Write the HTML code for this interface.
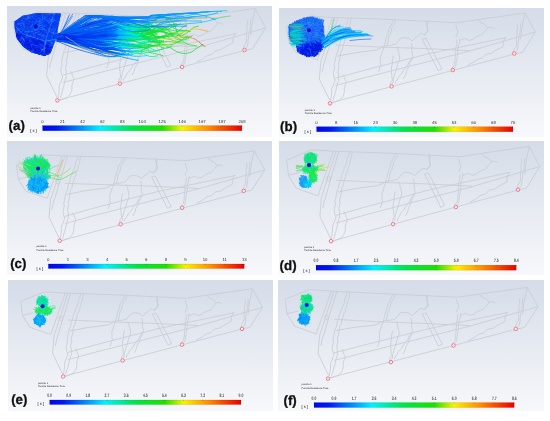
<!DOCTYPE html>
<html><head><meta charset="utf-8"><title>Particle residence time</title>
<style>
html,body{margin:0;padding:0;background:#fff;}
body{width:550px;height:421px;overflow:hidden;}
svg{display:block;}
text{text-rendering:geometricPrecision;}
.lab{font-family:"Liberation Sans",Arial,sans-serif;font-weight:bold;font-size:13.3px;fill:#111;stroke:#111;stroke-width:0.3px;}
.tk{font-family:"Liberation Sans",Arial,sans-serif;font-size:8.6px;fill:#333;text-anchor:middle;}
.tk2{font-family:"Liberation Sans",Arial,sans-serif;font-size:4.9px;font-weight:bold;fill:#555;text-anchor:middle;}
.su{font-family:"Liberation Sans",Arial,sans-serif;font-size:4.3px;font-weight:bold;fill:#555;}
.sm{font-family:"Liberation Sans",Arial,sans-serif;font-size:10px;fill:#2a2a30;}
</style></head><body>
<svg width="550" height="421" viewBox="0 0 550 421"><defs><linearGradient id="bggrad" x1="0" y1="0" x2="0" y2="1"><stop offset="0" stop-color="#d5dce8"/><stop offset="1" stop-color="#f7f8fb"/></linearGradient><linearGradient id="cmgrad" x1="0" y1="0" x2="1" y2="0"><stop offset="0.00" stop-color="#0006e8"/><stop offset="0.07" stop-color="#0018f2"/><stop offset="0.29" stop-color="#00f0ff"/><stop offset="0.45" stop-color="#00e446"/><stop offset="0.60" stop-color="#1ee000"/><stop offset="0.70" stop-color="#faf000"/><stop offset="0.83" stop-color="#ff8c00"/><stop offset="1.00" stop-color="#e80000"/></linearGradient><clipPath id="clipA"><polygon points="14.4,21.5 22.5,15.8 36.5,12.9 61,13.4 59.4,20.7 57.5,30.5 57.3,36 50.4,53.5 44.6,55.9 31.5,52.6 23.4,46.9 16.8,38.7 14.4,27.3"/></clipPath><clipPath id="clipB"><polygon points="287.8,25.2 296,20.4 303.4,17.4 311.3,16.2 319.8,18.4 324,24.5 324.8,34.8 327,41.6 322.4,50.2 316.4,56.6 306.8,57.2 297.2,52.6 295.8,45.6 290.2,42.2 287.8,34.8"/></clipPath></defs>
<rect x="7" y="6" width="265" height="131" fill="url(#bggrad)"/>
<path d="M13.4 21.8 38.2 11.6 60 13M13.4 21.8 15.3 36.4 22.9 48.8 44.7 56.3M15.3 36.4 26.8 33.5M60 13 44.7 56.3M60 13 104.5 14.5 185.9 18.3 255.2 8.4M255.2 8.4 265.7 27.9 252.4 48.8M57.7 100.3 244.3 50.5 252.4 48.8M62.8 82.6 94.1 74.1 198.4 47.4 265.7 27.9M62.8 75.1 94.1 66.5 156.7 50.3 236.4 33.5M62.8 41.2 104.5 43 150 44.6 198.4 46.9M64.7 52.6 83.6 49 104.5 46.4 111.8 42.7M62.8 13 48.2 57.9 46.6 76 57.5 98.2M65.6 13.1 50.8 62.1 49.5 68.4M76 13.5 75.6 16 74.4 19.1 73.5 21.4 73.2 24 72.3 26.5 71 28.9 70.4 31.5 69.5 33.5 68.3 36.2 67.8 38.3 67.5 40.6 66.6 42.3 65.8 45 65.6 46.9 64.9 49 63.9 51.2 63.2 54 62.8 56.3 62.3 59.1 61.6 61.9 62.2 64.4 61.5 67.1 60.9 69.3 61.1 71.8 61.7 74.7 62.8 77 61.9 78.9 60.9 82 60 83.7 59 86.5 59.3 88.4 59 91.7 58.7 94 58.3 95.6 58.1 98.2M79 13.6 78.3 16.3 78.1 18.4 77.7 20.6 76.6 23 76 26 75.1 28.8 74.1 31.1 74.2 33 72.6 35.1 72.3 37.4 71.7 39.2 70.6 41.4 70.4 44.5 69.7 46.5 68.5 48.5 68.2 50.4 67.7 53.5 67.6 55.1 67 57.9 66.1 60.3 66.7 63.2 65.8 66.4 65.6 69.3 66.3 71.5 66 74.7 66.5 77 65.4 79 64.6 82.2 64.2 84.1 63.7 86.5 62.9 89.3 62.5 91.3 61.6 93.3 61.2 95.4 60.2 98.2M70.4 71.2 71.8 73.5 72.7 76.2 74.2 78.8 73.2 81.5 72.5 83.4 71.9 86 72 89 71.2 91.8 70.4 94 68.1 96.4 66.5 97.9 64.1 98.7 61.9 99.7 59.7 100.3M56.8 39.3 56.5 40.9 55.7 41.9 54.7 41.9 53.8 40.9 53.5 39.3 53.8 37.7 54.7 36.7 55.7 36.7 56.5 37.7 56.8 39.3M121.6 16 120.7 18.1 119.6 20.7 117.8 23.6 116.8 25.6 116.5 28.3 115.2 30.8 115 33.2 114 35.1 113.6 38.2 112.7 40.4 112.1 42.7 111.6 45 110.6 47.2 110.2 49.4 109.3 51.9 108.3 54.1 108.8 56.5 108.5 59.3 109.2 61.7 108 63.8 107.8 65.7 106.6 68.4M123.8 16.1 123.2 18.7 121.8 21.2 120.2 23 119.6 26 119.1 28.4 118.2 31 117.1 32.7 116.5 35.4 116.5 37.2 115.5 40.1 114.9 42.2M112.1 42.7 114.9 41.9 116.9 41.5 118.9 41.7 121.6 40.7 123.5 40.7 125.6 38.2 127.2 36.8 129.1 34.1 132 33.7 133.7 33.7 136.7 34.1 138.9 35.1 140.5 37 142.7 35.4 144.4 33.2 147 31.7 149.1 29.3 151.6 30.1 153.9 30.3 156.7 27.4 156.5 24.8 155.8 21.8 156.5 18.8 155.7 16M125.4 42.7 126.2 44.7 126.5 47.3 127.3 49.4 127.6 51.5 128.2 54.1 127.5 57.1 126.5 59.4 125.9 61.4 125.3 64 124.4 67.3 123.5 69.3 122.7 71.8 122.2 74.1 121.5 76.3 121.5 78.3 120.7 80.9M121.6 52.2 121.1 54.5 120.5 57.7 120.8 60.2 120 62.7 119.6 65.6 119.6 68.9 120.1 71.4 120.2 73.8 120.7 77 119.1 79 118.6 81.5M140.5 54.1 138.9 56.4 137.6 58.9 136.4 61.3 134.7 63.6 133 65.6 131.6 67.4 130.6 69.7 128.6 71.6 127.3 73.1 125.9 75.9 124.3 78.3 123.5 80.7M139.6 39.3 140.4 41.9 140.7 44.8 140.3 46.8 141 50.4 141.5 52.6 140.7 55.1 140 57.2 138.3 59.7 137.7 62.1 137.2 64 135.8 66.3 134.7 68.3 134.4 70.7 133.3 72.8 132.1 75.4M150.9 35.1 167.1 67.4 170.9 65.6 154.8 34.1 150.9 35.1M154.8 17.4 155.3 19.8 156.1 23.1 156.7 26 154.7 28.5 152.9 31.6M186.1 35.4 186 37.3 186 40.2 185.4 42.6 184.6 44.6 185 47.5 184.3 50 184.7 52.4 184.1 54.9 184.2 56.8 183.7 59.7 183.3 62.1 180.7 65.2M188.9 34.5 188.8 36.4 188.6 39.4 187.7 41.8 187.2 43.7 186.9 45.6 187.2 48.5 186.7 50.3 186.4 52.8 186 55.1 185.7 57.4 185.1 59.8 185.1 62.1 183.3 65.2M185.1 33.5 185.5 31.5 186.8 29.1 186.9 26.5 185.7 23.3 184.8 20.2M207.8 15.5 210.7 18.3 214.6 20.2 217.4 23.1 215.5 26 213.5 27.9 211.6 30.7 209.1 31.4 206 32.6 204.4 33.5 202.2 35.4 198.4 36.4 196.5 35.5 193.7 34.5 191.6 35.6 188.9 36.4M234.4 33.5 234.3 35.8 233 38 233.2 41.2 232.5 43 228.8 44.9 225 46.9 222.8 48.3 221.1 49.7 218.6 50 215.5 50.7 213.3 52.8 211.6 54.5 208.4 55.2 206 56.3 204.2 57.6 202.7 58.9 200.3 60.2 196.5 62.1M217.4 23.1 221.3 22.8 223.4 24.4M247.7 20.2 247.4 22.4 247.7 24.8 246.6 27.7 247.2 30.1 246.7 32.5 246.3 35.9 246.7 37.6 246.5 40.5 245.9 43 244.2 45.6 243.3 48.5M250.6 19.3 250.8 21.3 250.3 24.5 250.2 26.7 250 28.4 249.5 31.6 249.1 33 248.6 35.9 248.5 38.5 248 40.2 248.1 43 247.1 46.3 245.9 48.5M255.2 8.4 252.1 22.3 250.6 35.4" fill="none" stroke="#c9ccd3" stroke-width="0.85" stroke-linejoin="round"/>
<g fill="#fdf0f2" stroke="#f06a78" stroke-width="0.9"><circle cx="57.4" cy="100.4" r="1.75"/><circle cx="119.9" cy="83.6" r="1.75"/><circle cx="182.1" cy="67" r="1.75"/><circle cx="244.5" cy="50" r="1.75"/></g>
<text transform="translate(30.4 108.7) scale(0.25)" class="sm">particle 1</text>
<text transform="translate(30.4 112.2) scale(0.25)" class="sm">Particle Residence Time</text>
<rect x="279" y="8" width="265" height="129" fill="url(#bggrad)"/>
<path d="M286.6 26.1 311 16.1 332.5 17.5M286.6 26.1 288.4 40.4 296 52.5 317.5 59.9M288.4 40.4 299.8 37.5M332.5 17.5 317.5 59.9M332.5 17.5 376.4 18.9 456.7 22.7 525.1 13M525.1 13 535.4 32 522.4 52.5M330.2 102.9 514.3 54.1 522.4 52.5M335.3 85.6 366.1 77.3 469.1 51.2 535.4 32M335.3 78.2 366.1 69.8 427.9 53.9 506.5 37.5M335.3 45 376.4 46.9 421.3 48.4 469.1 50.7M337.1 56.2 355.8 52.7 376.4 50.1 383.6 46.6M335.3 17.5 320.9 61.4 319.3 79.1 330 100.8M338 17.6 323.4 65.5 322.2 71.7M348.3 18 347.9 20.4 346.7 23.4 345.9 25.6 345.6 28.2 344.7 30.7 343.3 33 342.8 35.6 341.9 37.5 340.7 40.2 340.2 42.2 340 44.4 339 46.1 338.3 48.8 338 50.7 337.4 52.7 336.3 54.8 335.7 57.6 335.3 59.9 334.8 62.6 334.1 65.3 334.6 67.7 334 70.4 333.4 72.6 333.6 75 334.2 77.9 335.3 80.1 334.4 82 333.4 85 332.5 86.7 331.6 89.4 331.8 91.2 331.5 94.4 331.3 96.7 330.9 98.3 330.6 100.8M351.2 18.1 350.6 20.7 350.3 22.8 349.9 24.9 348.9 27.3 348.3 30.2 347.4 32.9 346.5 35.1 346.5 37.1 344.9 39.1 344.6 41.3 344.1 43.1 342.9 45.3 342.8 48.3 342.1 50.3 340.9 52.2 340.6 54 340.1 57.1 340 58.6 339.4 61.4 338.5 63.8 339.1 66.6 338.3 69.8 338 72.6 338.7 74.7 338.4 77.8 339 80.1 337.8 82 337.1 85.2 336.6 87 336.2 89.4 335.4 92.2 335 94.1 334.1 96 333.7 98.1 332.7 100.8M342.8 74.4 344.1 76.7 345 79.4 346.5 81.9 345.5 84.5 344.8 86.4 344.3 88.9 344.4 91.8 343.6 94.6 342.8 96.8 340.5 99.1 339 100.5 336.6 101.3 334.4 102.3 332.2 102.9M329.4 43.2 329.1 44.7 328.3 45.7 327.2 45.7 326.4 44.7 326.1 43.2 326.4 41.6 327.2 40.6 328.3 40.6 329.1 41.6 329.4 43.2M393.3 20.4 392.4 22.5 391.3 25 389.5 27.8 388.6 29.8 388.3 32.5 387 34.8 386.8 37.2 385.8 39.1 385.4 42.1 384.5 44.3 383.9 46.6 383.5 48.8 382.4 50.9 382 53.1 381.1 55.6 380.1 57.7 380.7 60 380.3 62.8 381.1 65.1 379.8 67.1 379.6 69 378.5 71.7M395.5 20.5 394.9 23 393.5 25.5 391.9 27.3 391.4 30.2 390.8 32.6 390 35.1 388.8 36.7 388.3 39.4 388.2 41.2 387.3 44 386.7 46M383.9 46.6 386.7 45.7 388.6 45.3 390.6 45.5 393.3 44.5 395.2 44.6 397.3 42.1 398.8 40.8 400.7 38.2 403.6 37.7 405.2 37.7 408.2 38.2 410.4 39.1 411.9 40.9 414.1 39.4 415.7 37.2 418.4 35.8 420.4 33.4 422.9 34.2 425.1 34.4 427.9 31.6 427.7 29 427 26.1 427.7 23.1 427 20.4M397 46.6 397.8 48.5 398.1 51.1 399 53.1 399.2 55.2 399.8 57.7 399.1 60.7 398.1 62.8 397.5 64.8 396.9 67.3 396 70.6 395.2 72.6 394.4 75 393.9 77.3 393.2 79.4 393.2 81.4 392.4 83.9M393.3 55.8 392.8 58.1 392.2 61.2 392.5 63.7 391.7 66.1 391.4 68.9 391.3 72.1 391.8 74.7 391.9 76.9 392.4 80.1 390.8 82 390.3 84.5M411.9 57.7 410.4 60 409.1 62.4 407.9 64.7 406.2 67 404.5 68.9 403.2 70.7 402.1 73 400.2 74.8 398.9 76.3 397.6 79 395.9 81.3 395.2 83.7M411 43.2 411.9 45.7 412.2 48.6 411.7 50.6 412.4 54.1 413 56.2 412.2 58.6 411.4 60.7 409.7 63.1 409.2 65.5 408.6 67.3 407.3 69.6 406.2 71.6 405.9 73.9 404.8 76 403.6 78.5M422.2 39.1 438.2 70.7 441.9 68.9 426 38.2 422.2 39.1M426 21.8 426.6 24.1 427.4 27.4 427.9 30.2 426 32.6 424.2 35.7M456.9 39.4 456.8 41.3 456.8 44.1 456.3 46.4 455.4 48.4 455.9 51.2 455.2 53.7 455.5 56 454.9 58.5 455 60.3 454.5 63.2 454.1 65.5 451.6 68.6M459.7 38.5 459.6 40.4 459.4 43.3 458.5 45.7 458 47.5 457.7 49.4 458 52.2 457.5 54 457.3 56.4 456.8 58.7 456.6 60.9 455.9 63.3 456 65.5 454.1 68.6M456 37.5 456.3 35.6 457.6 33.2 457.7 30.7 456.5 27.6 455.7 24.5M478.3 19.9 481.2 22.7 485 24.5 487.8 27.3 485.9 30.2 484 32 482.1 34.8 479.6 35.4 476.6 36.6 475 37.5 472.8 39.4 469.1 40.4 467.2 39.5 464.4 38.5 462.3 39.5 459.7 40.4M504.6 37.5 504.5 39.8 503.2 41.9 503.4 45 502.7 46.9 499 48.7 495.3 50.7 493.1 52 491.5 53.4 489 53.7 485.9 54.3 483.8 56.5 482.1 58 478.9 58.8 476.6 59.9 474.8 61.1 473.3 62.4 470.9 63.7 467.2 65.5M487.8 27.3 491.7 27.1 493.7 28.6M517.7 24.5 517.4 26.7 517.6 29 516.6 31.8 517.2 34.2 516.7 36.5 516.3 39.9 516.7 41.5 516.6 44.4 515.9 46.9 514.2 49.4 513.3 52.2M520.5 23.6 520.7 25.6 520.3 28.7 520.2 30.9 520 32.5 519.5 35.7 519 37.1 518.6 39.8 518.4 42.4 517.9 44 518 46.9 517.1 50 515.9 52.2M525.1 13 522.1 26.6 520.5 39.4" fill="none" stroke="#c9ccd3" stroke-width="0.85" stroke-linejoin="round"/>
<g fill="#fdf0f2" stroke="#f06a78" stroke-width="0.9"><circle cx="330" cy="103.4" r="1.75"/><circle cx="391.6" cy="86.4" r="1.75"/><circle cx="452.8" cy="70" r="1.75"/><circle cx="514.2" cy="53.5" r="1.75"/></g>
<text transform="translate(304.7 110.7) scale(0.25)" class="sm">particle 1</text>
<text transform="translate(304.7 114) scale(0.25)" class="sm">Particle Residence Time</text>
<rect x="7" y="141" width="265" height="134" fill="url(#bggrad)"/>
<path d="M16.5 165 40.7 154.8 62.1 155.9M16.5 165 18.3 179.2 25.8 191.2 47.2 198.3M18.3 179.2 29.6 176.3M62.1 155.9 47.2 198.3M62.1 155.9 105.8 156.9 186 160.6 254.4 150.9M254.4 150.9 264.7 169.9 251.6 190.3M59.9 240.9 243.6 191.9 251.6 190.3M64.9 223.6 95.6 215.1 198.3 188.9 264.7 169.9M64.9 216.3 95.6 207.6 157.2 191.7 235.8 175.4M64.9 183.3 105.8 184.7 150.6 186.2 198.3 188.4M66.7 194.4 85.3 190.7 105.8 188 113 184.4M64.9 155.9 50.5 199.8 49 217.4 59.6 238.9M67.6 156 53.1 203.8 51.9 209.9M77.9 156.3 77.5 158.6 76.2 161.7 75.4 163.9 75.1 166.5 74.2 168.9 72.9 171.3 72.3 173.8 71.4 175.8 70.3 178.4 69.8 180.5 69.5 182.7 68.6 184.3 67.8 187 67.6 188.9 67 190.9 65.9 193.1 65.2 195.8 64.9 198.1 64.4 200.8 63.7 203.5 64.3 205.9 63.6 208.5 63 210.7 63.2 213.2 63.8 216 64.9 218.1 64 220.1 63 223.1 62.2 224.7 61.2 227.4 61.4 229.3 61.2 232.5 60.9 234.7 60.5 236.3 60.3 238.9M80.7 156.3 80.1 159 79.8 161 79.5 163.1 78.4 165.5 77.9 168.4 77 171.1 76 173.3 76.1 175.3 74.5 177.3 74.2 179.5 73.6 181.3 72.5 183.5 72.3 186.5 71.7 188.5 70.5 190.4 70.2 192.2 69.7 195.2 69.6 196.8 69 199.6 68.1 201.9 68.7 204.7 67.8 207.9 67.6 210.7 68.3 212.8 68 215.9 68.5 218.1 67.4 220.1 66.7 223.2 66.2 225.1 65.8 227.4 65 230.2 64.6 232.1 63.7 234 63.3 236.1 62.3 238.8M72.3 212.5 73.7 214.7 74.6 217.3 76 219.9 75.1 222.4 74.3 224.3 73.8 226.8 73.9 229.7 73.1 232.5 72.3 234.7 70.1 237 68.5 238.5 66.2 239.2 64 240.3 61.8 240.9M59 181.5 58.7 183.1 57.9 184.1 56.9 184.1 56.1 183.1 55.8 181.6 56.1 180 56.9 179 57.9 179 58.7 180 59 181.5M122.6 158.4 121.7 160.4 120.6 162.9 118.8 165.7 117.9 167.6 117.6 170.3 116.3 172.7 116.1 175.1 115.1 176.9 114.8 179.9 113.9 182.1 113.3 184.4 112.8 186.6 111.8 188.7 111.4 190.9 110.5 193.3 109.5 195.5 110 197.7 109.6 200.5 110.4 202.8 109.2 204.8 109 206.7 107.8 209.3M124.8 158.5 124.2 161 122.8 163.4 121.2 165.2 120.7 168.1 120.1 170.4 119.3 173 118.1 174.6 117.6 177.2 117.6 179 116.6 181.8 116 183.8M113.3 184.4 116 183.5 118 183.2 119.9 183.3 122.6 182.3 124.5 182.4 126.6 179.9 128.1 178.6 130 176 132.9 175.6 134.5 175.5 137.5 176 139.7 176.9 141.2 178.8 143.4 177.2 145 175.1 147.7 173.6 149.7 171.3 152.2 172.1 154.4 172.2 157.2 169.5 157 166.9 156.3 164 157 161 156.3 158.4M126.3 184.4 127.1 186.2 127.4 188.8 128.3 190.8 128.5 192.9 129.1 195.5 128.4 198.4 127.4 200.5 126.9 202.5 126.2 205 125.4 208.3 124.5 210.2 123.7 212.7 123.2 214.9 122.5 217 122.6 219 121.7 221.5M122.6 193.5 122.1 195.8 121.5 198.9 121.8 201.4 121 203.7 120.7 206.6 120.7 209.8 121.2 212.3 121.2 214.6 121.7 217.7 120.2 219.6 119.6 222M141.2 195.5 139.7 197.7 138.4 200.1 137.2 202.4 135.5 204.6 133.8 206.6 132.5 208.4 131.4 210.6 129.5 212.4 128.2 213.9 126.9 216.6 125.2 218.9 124.5 221.3M140.3 181 141.2 183.5 141.5 186.4 141 188.3 141.7 191.8 142.3 193.9 141.5 196.3 140.7 198.4 139.1 200.8 138.5 203.2 138 205 136.6 207.3 135.5 209.2 135.2 211.6 134.1 213.6 132.9 216.1M151.5 176.9 167.5 208.4 171.2 206.6 155.3 176 151.5 176.9M155.3 159.7 155.9 162 156.7 165.3 157.2 168.1 155.3 170.5 153.5 173.6M186.2 177.2 186.1 179.1 186.1 181.9 185.5 184.2 184.7 186.2 185.2 189 184.4 191.4 184.8 193.8 184.2 196.2 184.3 198 183.8 200.9 183.4 203.2 180.8 206.3M189 176.3 188.9 178.2 188.7 181.1 187.8 183.5 187.3 185.3 187 187.2 187.3 190 186.8 191.7 186.5 194.2 186.1 196.4 185.8 198.6 185.2 201 185.3 203.2 183.4 206.3M185.3 175.4 185.6 173.4 186.9 171.1 187 168.6 185.8 165.5 185 162.5M207.6 157.9 210.5 160.6 214.3 162.5 217 165.2 215.2 168.1 213.2 169.9 211.4 172.6 208.9 173.3 205.8 174.5 204.2 175.4 202 177.2 198.3 178.2 196.5 177.3 193.7 176.3 191.6 177.4 189 178.2M233.8 175.4 233.7 177.6 232.5 179.7 232.7 182.8 232 184.7 228.2 186.5 224.5 188.4 222.4 189.8 220.7 191.2 218.3 191.4 215.2 192.1 213 194.2 211.4 195.8 208.2 196.5 205.8 197.6 204 198.8 202.5 200.1 200.2 201.4 196.5 203.2M217 165.2 220.9 165 223 166.5M247 162.5 246.7 164.6 246.9 166.9 245.9 169.7 246.5 172.1 245.9 174.4 245.5 177.7 245.9 179.3 245.8 182.2 245.1 184.7 243.5 187.2 242.5 190M249.7 161.5 250 163.5 249.5 166.6 249.4 168.7 249.2 170.4 248.7 173.6 248.3 174.9 247.8 177.7 247.7 180.3 247.2 181.8 247.3 184.7 246.4 187.8 245.1 190M254.4 150.9 251.3 164.5 249.7 177.2" fill="none" stroke="#c9ccd3" stroke-width="0.85" stroke-linejoin="round"/>
<g fill="#fdf0f2" stroke="#f06a78" stroke-width="0.9"><circle cx="59.6" cy="240.8" r="1.75"/><circle cx="120.6" cy="224.2" r="1.75"/><circle cx="182.1" cy="207.8" r="1.75"/><circle cx="243.7" cy="190.9" r="1.75"/></g>
<text transform="translate(36.4 247.4) scale(0.25)" class="sm">particle 1</text>
<text transform="translate(36.4 250.7) scale(0.25)" class="sm">Particle Residence Time</text>
<rect x="279" y="141" width="265" height="134" fill="url(#bggrad)"/>
<path d="M286.6 160.2 311.4 149.8 333.3 151.2M286.6 160.2 288.5 175.4 296.1 188.1 318 195.9M288.5 175.4 300 172.3M333.3 151.2 318 195.9M333.3 151.2 378 152.7 459.7 156.7 529.3 146.4M529.3 146.4 539.8 166.5 526.5 188.1M331 241.3 518.3 189.9 526.5 188.1M336.1 223 367.5 214.3 472.2 186.7 539.8 166.5M336.1 215.3 367.5 206.4 430.4 189.6 510.4 172.3M336.1 180.2 378 182.2 423.7 183.8 472.2 186.2M338 192 357 188.3 378 185.6 385.3 181.9M336.1 151.2 321.4 197.5 319.9 216.2 330.8 239.1M338.9 151.3 324.1 201.9 322.8 208.3M349.4 151.7 349 154.2 347.7 157.4 346.9 159.8 346.6 162.5 345.7 165.1 344.3 167.6 343.7 170.3 342.8 172.3 341.7 175.1 341.2 177.3 340.9 179.6 339.9 181.4 339.1 184.2 338.9 186.2 338.3 188.3 337.2 190.6 336.5 193.5 336.1 195.9 335.7 198.8 334.9 201.6 335.5 204.2 334.8 207 334.2 209.3 334.4 211.9 335 214.9 336.1 217.2 335.2 219.2 334.2 222.4 333.3 224.2 332.3 227 332.6 229 332.3 232.4 332 234.8 331.6 236.4 331.4 239.1M352.3 151.8 351.7 154.6 351.4 156.8 351 159 350 161.5 349.4 164.6 348.5 167.4 347.5 169.8 347.6 171.8 345.9 174 345.6 176.3 345.1 178.2 343.9 180.5 343.7 183.7 343.1 185.8 341.9 187.8 341.5 189.8 341.1 192.9 341 194.6 340.3 197.5 339.4 200 340.1 203 339.2 206.3 338.9 209.3 339.6 211.5 339.3 214.9 339.9 217.2 338.7 219.3 338 222.6 337.5 224.6 337 227 336.2 230 335.8 232 334.9 234.1 334.6 236.3 333.5 239.1M343.7 211.3 345.1 213.7 346 216.5 347.5 219.1 346.6 221.9 345.8 223.9 345.3 226.5 345.4 229.6 344.6 232.5 343.7 234.8 341.5 237.3 339.9 238.8 337.4 239.6 335.3 240.7 333 241.3M330.1 178.3 329.8 179.9 329 181 327.9 181 327.1 179.9 326.8 178.3 327.1 176.6 327.9 175.6 329 175.6 329.8 176.6 330.1 178.3M395.2 154.3 394.2 156.4 393.1 159.1 391.3 162.1 390.4 164.1 390 167 388.8 169.5 388.5 172 387.5 174 387.2 177.1 386.2 179.5 385.6 181.9 385.2 184.2 384.1 186.5 383.7 188.8 382.8 191.3 381.8 193.6 382.3 196 382 199 382.7 201.4 381.5 203.6 381.3 205.5 380.1 208.3M397.4 154.4 396.8 157 395.3 159.7 393.8 161.5 393.2 164.6 392.6 167.1 391.8 169.8 390.6 171.5 390 174.3 390 176.2 389 179.1 388.5 181.3M385.6 181.9 388.4 181 390.4 180.6 392.4 180.8 395.1 179.7 397.1 179.8 399.2 177.2 400.7 175.8 402.7 173 405.6 172.5 407.3 172.5 410.4 173 412.5 174 414.1 175.9 416.4 174.3 418 172 420.7 170.5 422.7 168 425.3 168.9 427.5 169 430.4 166.1 430.2 163.3 429.4 160.2 430.2 157.1 429.4 154.3M398.9 181.9 399.7 183.9 400 186.6 400.9 188.7 401.2 190.9 401.8 193.6 401.1 196.7 400.1 199 399.5 201.1 398.8 203.8 398 207.2 397.1 209.3 396.3 211.9 395.8 214.3 395 216.5 395.1 218.6 394.2 221.3M395.2 191.6 394.6 194.1 394 197.3 394.3 199.9 393.5 202.4 393.2 205.4 393.2 208.8 393.7 211.5 393.7 213.9 394.2 217.2 392.7 219.3 392.1 221.9M414.1 193.6 412.5 196 411.2 198.6 410 201 408.3 203.4 406.6 205.4 405.2 207.3 404.1 209.7 402.1 211.7 400.8 213.2 399.5 216.1 397.8 218.6 397.1 221.1M413.2 178.3 414 181 414.4 184 413.9 186.1 414.6 189.8 415.2 192 414.4 194.6 413.6 196.8 411.9 199.3 411.3 201.9 410.8 203.8 409.4 206.2 408.3 208.3 408 210.7 406.9 212.9 405.6 215.6M424.6 174 440.8 207.4 444.6 205.4 428.5 173 424.6 174M428.5 155.7 429 158.1 429.8 161.6 430.4 164.6 428.4 167.2 426.6 170.4M459.9 174.3 459.8 176.3 459.8 179.3 459.2 181.7 458.4 183.8 458.8 186.8 458.1 189.4 458.5 191.8 457.9 194.4 458 196.3 457.5 199.4 457.1 201.9 454.4 205.1M462.7 173.3 462.6 175.3 462.4 178.4 461.5 180.9 461 182.9 460.7 184.9 461 187.8 460.5 189.7 460.2 192.3 459.8 194.6 459.5 197 458.9 199.5 458.9 201.9 457.1 205.1M458.9 172.3 459.3 170.2 460.6 167.8 460.7 165.1 459.5 161.8 458.6 158.6M481.7 153.7 484.6 156.7 488.5 158.6 491.3 161.5 489.4 164.6 487.4 166.5 485.5 169.4 483 170.1 479.9 171.4 478.3 172.3 476 174.3 472.2 175.4 470.4 174.4 467.5 173.3 465.4 174.5 462.7 175.4M508.4 172.3 508.3 174.7 507 176.9 507.2 180.2 506.5 182.2 502.7 184.1 498.9 186.2 496.7 187.6 495.1 189.1 492.5 189.4 489.4 190.1 487.2 192.3 485.5 194 482.3 194.8 479.9 195.9 478.1 197.2 476.5 198.6 474.1 199.9 470.4 201.9M491.3 161.5 495.3 161.3 497.4 162.9M521.8 158.6 521.5 160.9 521.7 163.4 520.6 166.3 521.3 168.8 520.7 171.3 520.3 174.8 520.7 176.5 520.6 179.5 519.9 182.2 518.2 184.8 517.3 187.8M524.6 157.6 524.8 159.8 524.4 163 524.3 165.3 524 167 523.6 170.4 523.1 171.8 522.6 174.8 522.5 177.5 522 179.2 522.1 182.2 521.2 185.5 519.9 187.8M529.3 146.4 526.2 160.8 524.6 174.3" fill="none" stroke="#c9ccd3" stroke-width="0.85" stroke-linejoin="round"/>
<g fill="#fdf0f2" stroke="#f06a78" stroke-width="0.9"><circle cx="331" cy="241.2" r="1.75"/><circle cx="393.1" cy="224.2" r="1.75"/><circle cx="455.8" cy="207" r="1.75"/><circle cx="518" cy="189.7" r="1.75"/></g>
<text transform="translate(304 247.8) scale(0.25)" class="sm">particle 1</text>
<text transform="translate(304 251.4) scale(0.25)" class="sm">Particle Residence Time</text>
<rect x="8" y="280" width="265" height="131" fill="url(#bggrad)"/>
<path d="M20.7 301.5 44.4 291.8 65.3 293.1M20.7 301.5 22.5 315.5 29.8 327.3 50.7 334.5M22.5 315.5 33.5 312.7M65.3 293.1 50.7 334.5M65.3 293.1 108 294.5 186 298.2 252.5 288.7M252.5 288.7 262.5 307.3 249.8 327.3M63.1 376.5 242 328.9 249.8 327.3M68 359.6 98 351.5 198 326 262.5 307.3M68 352.4 98 344.2 158 328.7 234.4 312.7M68 320 108 321.8 151.6 323.3 198 325.5M69.8 330.9 88 327.5 108 325 115 321.5M68 293.1 54 336 52.5 353.3 62.9 374.5M70.7 293.2 56.5 340 55.3 346M80.7 293.6 80.3 295.9 79.1 298.9 78.3 301.1 78 303.6 77.2 306 75.8 308.3 75.3 310.8 74.4 312.7 73.3 315.3 72.8 317.3 72.6 319.4 71.6 321.1 70.9 323.6 70.7 325.5 70.1 327.5 69 329.6 68.4 332.3 68 334.5 67.6 337.2 66.9 339.8 67.4 342.2 66.8 344.8 66.2 346.9 66.4 349.3 67 352 68 354.2 67.1 356.1 66.1 359 65.4 360.6 64.4 363.3 64.7 365.1 64.4 368.3 64.1 370.5 63.7 372 63.5 374.5M83.5 293.7 82.9 296.3 82.6 298.3 82.3 300.3 81.3 302.7 80.7 305.5 79.8 308.2 78.9 310.3 78.9 312.2 77.4 314.2 77.1 316.4 76.6 318.1 75.5 320.2 75.3 323.2 74.6 325.1 73.5 327 73.2 328.8 72.7 331.8 72.6 333.3 72 336 71.2 338.3 71.8 341.1 70.9 344.2 70.7 346.9 71.4 349 71.1 352 71.6 354.2 70.5 356.1 69.8 359.2 69.3 361 68.9 363.3 68.1 366 67.8 367.9 66.8 369.8 66.5 371.9 65.5 374.5M75.3 348.7 76.6 350.9 77.5 353.5 78.9 356 78 358.5 77.3 360.4 76.7 362.8 76.9 365.7 76.1 368.4 75.3 370.5 73.1 372.8 71.6 374.2 69.3 374.9 67.2 375.9 65 376.5M62.3 318.2 62 319.7 61.2 320.7 60.2 320.7 59.4 319.7 59.1 318.2 59.4 316.7 60.2 315.7 61.2 315.7 62 316.7 62.3 318.2M124.4 296 123.5 298 122.4 300.5 120.7 303.2 119.8 305.1 119.5 307.7 118.3 310.1 118.1 312.4 117.1 314.2 116.8 317.1 115.9 319.3 115.3 321.5 114.8 323.7 113.8 325.8 113.4 327.9 112.6 330.3 111.6 332.4 112.1 334.6 111.8 337.4 112.5 339.6 111.3 341.6 111.1 343.4 110 346M126.5 296.1 125.9 298.5 124.6 301 123.1 302.7 122.5 305.5 122 307.8 121.1 310.3 120 311.9 119.5 314.5 119.5 316.2 118.5 319 118 321M115.3 321.5 117.9 320.7 119.9 320.3 121.8 320.5 124.4 319.5 126.2 319.6 128.2 317.1 129.7 315.9 131.6 313.3 134.4 312.9 136 312.8 138.9 313.3 141 314.2 142.5 316 144.6 314.5 146.2 312.4 148.8 311 150.7 308.7 153.1 309.5 155.3 309.6 158 306.9 157.8 304.3 157.1 301.5 157.8 298.6 157.1 296M128 321.5 128.8 323.4 129.1 325.9 129.9 327.9 130.1 329.9 130.7 332.4 130 335.3 129.1 337.4 128.5 339.3 127.9 341.8 127.1 345 126.2 346.9 125.5 349.3 125 351.5 124.3 353.6 124.3 355.5 123.5 358M124.4 330.5 123.9 332.8 123.3 335.8 123.6 338.2 122.8 340.5 122.5 343.3 122.5 346.5 123 348.9 123 351.1 123.5 354.2 122 356.1 121.5 358.5M142.5 332.4 141 334.6 139.7 337 138.6 339.2 136.9 341.4 135.3 343.3 134 345.1 133 347.3 131.1 349.1 129.8 350.5 128.5 353.2 126.9 355.5 126.2 357.8M141.6 318.2 142.4 320.7 142.7 323.5 142.3 325.4 143 328.8 143.5 330.9 142.7 333.3 142 335.3 140.4 337.7 139.8 340 139.3 341.8 138 344 137 345.9 136.6 348.2 135.6 350.3 134.4 352.7M152.5 314.2 168 345.1 171.6 343.3 156.2 313.3 152.5 314.2M156.2 297.3 156.7 299.6 157.5 302.8 158 305.5 156.1 307.9 154.4 310.9M186.2 314.5 186.1 316.4 186.1 319.1 185.6 321.4 184.7 323.3 185.2 326.1 184.5 328.4 184.9 330.7 184.3 333.1 184.4 334.9 183.9 337.8 183.5 340 181 343M188.9 313.6 188.8 315.5 188.6 318.3 187.8 320.6 187.3 322.4 187 324.3 187.2 327 186.8 328.7 186.5 331.1 186.1 333.3 185.9 335.5 185.2 337.8 185.3 340 183.5 343M185.3 312.7 185.7 310.8 186.9 308.5 187 306 185.8 303 185 300M207 295.5 209.8 298.2 213.5 300 216.2 302.7 214.4 305.5 212.5 307.3 210.7 310 208.2 310.6 205.3 311.8 203.7 312.7 201.6 314.5 198 315.5 196.2 314.6 193.5 313.6 191.5 314.7 188.9 315.5M232.5 312.7 232.4 314.9 231.2 317 231.4 320 230.7 321.8 227.1 323.6 223.5 325.5 221.4 326.8 219.8 328.2 217.4 328.5 214.4 329.1 212.3 331.2 210.7 332.7 207.6 333.4 205.3 334.5 203.6 335.7 202.1 337 199.8 338.2 196.2 340M216.2 302.7 220 302.5 222 304M245.3 300 245 302.1 245.2 304.4 244.2 307.1 244.8 309.4 244.3 311.7 243.9 315 244.3 316.6 244.2 319.3 243.5 321.8 241.9 324.3 241 327M248 299.1 248.2 301.1 247.8 304.1 247.7 306.2 247.5 307.8 247 310.9 246.6 312.2 246.1 314.9 246 317.5 245.5 319 245.6 321.8 244.7 324.9 243.5 327M252.5 288.7 249.5 302 248 314.5" fill="none" stroke="#c9ccd3" stroke-width="0.85" stroke-linejoin="round"/>
<g fill="#fdf0f2" stroke="#f06a78" stroke-width="0.9"><circle cx="63.1" cy="376.5" r="1.75"/><circle cx="122.6" cy="360.4" r="1.75"/><circle cx="182" cy="344.6" r="1.75"/><circle cx="242" cy="328.9" r="1.75"/></g>
<text transform="translate(37.9 383.8) scale(0.25)" class="sm">particle 1</text>
<text transform="translate(37.9 386.8) scale(0.25)" class="sm">Particle Residence Time</text>
<rect x="278" y="280" width="266" height="131" fill="url(#bggrad)"/>
<path d="M285.1 299.2 309.6 289.5 331.3 291.2M285.1 299.2 287 313.7 294.5 326.1 316.1 334M287 313.7 298.3 311M331.3 291.2 316.1 334M331.3 291.2 375.4 293.3 457.4 297.2 527.3 287.4M527.3 287.4 537.9 306.7 524.5 327.5M329 377.9 516.3 329.2 524.5 327.5M334 360.4 365.1 352.4 470 326.1 537.9 306.7M334 352.9 365.1 344.8 428 328.9 508.3 312.3M334 319.2 375.4 321.7 421.2 323.3 470 325.6M335.9 330.5 354.7 327.3 375.4 325 382.8 321.5M334 291.2 319.6 335.6 318 353.6 328.8 375.8M336.8 291.4 322.1 339.8 320.9 346M347.2 291.9 346.8 294.4 345.5 297.5 344.7 299.7 344.4 302.3 343.5 304.8 342.2 307.1 341.6 309.7 340.7 311.7 339.5 314.4 339.1 316.4 338.8 318.7 337.8 320.3 337.1 323 336.8 324.9 336.2 327 335.1 329.2 334.4 332 334 334.3 333.6 337 332.9 339.8 333.4 342.2 332.8 344.9 332.2 347.1 332.4 349.6 333 352.5 334 354.7 333.2 356.7 332.1 359.7 331.3 361.4 330.3 364.1 330.6 366 330.3 369.3 330 371.6 329.6 373.2 329.4 375.8M350.1 292.1 349.5 294.8 349.2 296.9 348.8 299 347.8 301.4 347.2 304.3 346.3 307.1 345.3 309.3 345.4 311.3 343.8 313.3 343.5 315.6 342.9 317.4 341.8 319.5 341.6 322.6 340.9 324.6 339.7 326.6 339.4 328.4 338.9 331.5 338.8 333.1 338.2 335.9 337.3 338.3 338 341.1 337.1 344.3 336.8 347.2 337.5 349.4 337.2 352.6 337.8 354.8 336.6 356.8 335.9 360 335.4 361.9 335 364.2 334.1 367 333.8 369 332.9 370.9 332.5 373.1 331.5 375.8M341.6 349.1 343 351.5 343.9 354.2 345.3 356.8 344.4 359.4 343.6 361.3 343.1 363.9 343.2 366.8 342.4 369.6 341.6 371.8 339.3 374.2 337.8 375.6 335.4 376.3 333.2 377.3 330.9 377.9M328.1 317.2 327.8 318.8 327 319.8 326 319.8 325.2 318.8 324.8 317.2 325.2 315.6 326 314.6 327 314.6 327.8 315.6 328.1 317.2M392.6 294.9 391.7 297 390.6 299.6 388.7 302.4 387.8 304.4 387.5 307.1 386.2 309.6 386 312 385 313.9 384.6 316.9 383.7 319.2 383.1 321.5 382.6 323.8 381.5 325.9 381.1 328.1 380.2 330.6 379.2 332.8 379.7 335.1 379.4 338 380.1 340.3 378.9 342.4 378.7 344.2 377.5 346.9M394.8 295 394.2 297.6 392.8 300.1 391.2 301.9 390.6 304.8 390.1 307.3 389.2 309.8 388 311.5 387.5 314.2 387.5 316 386.5 318.8 385.9 320.9M383.1 321.5 385.8 320.6 387.9 320.2 389.9 320.4 392.6 319.4 394.5 319.5 396.7 316.9 398.2 315.6 400.2 312.9 403.1 312.5 404.8 312.4 407.9 312.9 410.1 313.9 411.7 315.7 413.9 314.2 415.6 312 418.3 310.5 420.3 308.2 422.9 309 425.1 309.1 428 306.3 427.8 303.6 427 300.7 427.8 297.7 427 294.9M396.4 321.5 397.2 323.4 397.5 326 398.4 328.1 398.7 330.2 399.3 332.8 398.6 335.8 397.6 338 397 340 396.3 342.5 395.4 345.9 394.5 347.9 393.8 350.4 393.2 352.6 392.5 354.8 392.6 356.8 391.7 359.4M392.6 330.8 392.1 333.2 391.5 336.3 391.8 338.8 391 341.3 390.6 344.1 390.6 347.4 391.1 350 391.2 352.3 391.7 355.5 390.1 357.5 389.6 359.9M411.7 332.8 410.1 335.1 408.8 337.5 407.5 339.9 405.8 342.2 404.1 344.1 402.7 346 401.6 348.3 399.6 350.1 398.3 351.6 397 354.4 395.3 356.8 394.5 359.2M410.7 318 411.6 320.6 411.9 323.5 411.4 325.5 412.1 329.1 412.7 331.2 411.9 333.7 411.2 335.8 409.4 338.3 408.8 340.7 408.3 342.6 406.9 344.9 405.8 346.9 405.5 349.2 404.4 351.4 403.2 353.9M422.2 313.9 438.5 346 442.3 344.1 426.1 312.9 422.2 313.9M426.1 296.3 426.6 298.6 427.4 302 428 304.8 426 307.3 424.2 310.4M457.6 314.2 457.5 316.1 457.6 319 457 321.3 456.1 323.3 456.6 326.2 455.8 328.7 456.2 331.1 455.6 333.6 455.7 335.4 455.2 338.4 454.8 340.7 452.2 343.8M460.5 313.2 460.4 315.2 460.2 318.1 459.3 320.6 458.7 322.4 458.5 324.4 458.7 327.2 458.2 329 458 331.5 457.5 333.7 457.3 336 456.6 338.4 456.7 340.7 454.8 343.8M456.7 312.3 457 310.3 458.4 307.9 458.5 305.3 457.2 302.2 456.4 299.1M479.5 294.4 482.4 297.2 486.3 299.1 489.2 301.9 487.3 304.8 485.3 306.7 483.4 309.5 480.8 310.2 477.7 311.4 476.1 312.3 473.8 314.2 470 315.2 468.2 314.3 465.3 313.2 463.2 314.3 460.5 315.2M506.3 312.3 506.2 314.6 504.9 316.7 505.2 319.9 504.4 321.8 500.6 323.6 496.9 325.6 494.6 327 493 328.4 490.4 328.7 487.3 329.4 485.1 331.5 483.4 333.1 480.1 333.9 477.7 335 475.9 336.3 474.3 337.5 471.9 338.8 468.1 340.7M489.2 301.9 493.2 301.7 495.3 303.3M519.8 299.1 519.5 301.3 519.7 303.7 518.6 306.5 519.3 308.9 518.7 311.3 518.3 314.7 518.7 316.3 518.6 319.2 517.9 321.8 516.2 324.3 515.3 327.2M522.6 298.2 522.8 300.2 522.4 303.3 522.3 305.5 522.1 307.2 521.6 310.5 521.1 311.8 520.6 314.6 520.5 317.3 520 318.9 520.1 321.8 519.2 325 517.9 327.2M527.3 287.4 524.2 301.2 522.6 314.2" fill="none" stroke="#c9ccd3" stroke-width="0.85" stroke-linejoin="round"/>
<g fill="#fdf0f2" stroke="#f06a78" stroke-width="0.9"><circle cx="328" cy="378.6" r="1.75"/><circle cx="390.9" cy="362.1" r="1.75"/><circle cx="453.5" cy="345.5" r="1.75"/><circle cx="515.8" cy="328.9" r="1.75"/></g>
<text transform="translate(301.5 385.1) scale(0.25)" class="sm">particle 1</text>
<text transform="translate(301.5 388.9) scale(0.25)" class="sm">Particle Residence Time</text>
<polygon points="14.4,21.5 22.5,15.8 36.5,12.9 61,13.4 59.4,20.7 57.5,30.5 57.3,36 50.4,53.5 44.6,55.9 31.5,52.6 23.4,46.9 16.8,38.7 14.4,27.3" fill="#0840ee"/>
<g clip-path="url(#clipA)"><g fill="none" stroke-linecap="round" stroke-linejoin="round"><path d="M29.5 19.4l5.5 1.3M16.1 31.5l3.3 0.6M54.4 25.4l2.5 -2.8M22.8 37.9l5.8 -0.2M46.1 31.3l4.5 -0.6M33.9 45.5l0.9 3.6M59 19.4l2.5 -3M30.2 15.2l1.7 2.5M36.1 33.7l1.7 3M25 35.2l0.4 -4.8M38.9 53l4.5 -5.5M38.8 13.7l4.9 -1.8M58.3 24.1l2.9 -6.6M39 23.2l2.4 2.1M28.8 28.2l1.3 2.8M45.1 15.7l6.2 2.7M48.4 21.7l5.2 1.5M50.1 39.4l0.4 -6.2M37.1 14l2.8 0.8M49.3 30.6l4.7 -1.5M28.5 32.7l1.4 7.3M31.8 27.2l-1.2 3.6M52.7 46.1l4.5 4.1M50.9 16.3l3 3M36.5 48.1l1.1 3M57.7 28.9l4.6 -5.8M58.5 17.4l3.7 -1.5M26.3 38.7l6.2 -1M32.8 36.6l4.2 4.6M33.5 25.1l4.5 -1M34.1 48.2l3.7 -3.8M44.3 52l1.2 3.2M33.2 49.3l7.1 -1.1M43.6 26.1l4.7 -2.1M44.8 13.9l1.8 3M54.1 39.5l2.8 1.4M27.6 22.1l2.7 6M23.5 40.3l3.6 3.5M46.7 34.4l4.7 4M31 15.3l1.1 4.3M24.6 47.4l3.3 3.7M53.3 28.2l3.6 3.2M27.5 23.4l4.5 -0.2M47.8 13.4l1.2 7M37.1 15.5l4.2 2.3M42.7 42l5.3 0M55.6 35.3l2.7 4.7M20.9 32.1l-1.1 7.2M47.7 36.7l1.2 4.1M31.5 19.9l2.9 -0.7M26.9 33l3.6 0M28.9 23.3l0.5 4.1M41.1 30.9l4.6 3.9M48.1 25.5l2.7 -4.1M51.1 49.4l3.6 -1.3M38.5 35.1l3 5.7M53.6 38.1l5.5 0.9M50.3 26.8l6.4 1.4M39.3 29.5l3.6 3.4" stroke="#0030f0" stroke-width="0.9" opacity="0.9"/><path d="M20.2 22.5l4.1 -4.2M53 19.8l-2.8 4.9M49.5 40.6l4.4 0.4M38.8 38l3.5 3.5M38 22.8l-0.1 7.1M36.5 17.5l2.1 2.7M17.5 28l6.8 3M31.2 45.8l-0.9 5.1M46.9 46.7l5 -0.2M52.6 48l4.4 2.9M45.4 49l4.9 0.3M46.9 38.5l6.2 1.3M26.4 18.2l4.2 -0.1M23.1 31.6l7.4 -1.5M41.2 30.6l3.6 0M25.7 20.4l7.8 0.9M21.7 43.3l2 2.7" stroke="#0048d8" stroke-width="0.9" opacity="0.9"/><path d="M51.4 43l5.1 2.3M26.6 28.7l3 2.3M29.8 22.5l2.8 6.7M26.5 42.7l3.2 6.9M30.9 32.6l3.1 -4M52.6 24l2.8 2.4M26.3 19.9l2.9 -1.8M20.6 28.4l3.3 -1.2M43.6 42.2l6.6 2.3M19.5 19.5l6.1 -4.6M30.2 31l6.8 1.4M58.9 18.2l3.1 3.7M26.6 43.7l3 0.5M37.9 29.1l5.3 5.1M52.3 20.4l3.2 0.6M55.4 13.6l6.3 2.4M55.4 27l2.6 3.3M19.4 21.7l6.2 3.8M32.1 50.9l5 2.6M30.6 26.9l1.5 3.5M19.1 29.4l7.5 2.7M48.1 50.7l6.8 0M19.1 37.6l1.4 5.5M34 42.9l4.1 0.3M45.1 28.5l-0.2 3.3M43.9 13.5l3 -0.5M23.6 42.7l3.9 -3.5M57.2 32.1l2.8 5.3M31.3 40.6l4.9 -0.5M40.8 25.5l3.3 -0.5M32 42.3l5.8 1.3M30.6 16.6l2.8 -2.9M27.2 21.8l6 -0.3" stroke="#1848f0" stroke-width="0.9" opacity="0.9"/><path d="M50 37.5l4.4 4.8M41.9 24.2l2 4.4M38.4 39.5l5.9 2.6M53.6 33.5l3.2 -1.1M30.7 36.5l2.9 2.3M22.4 33.3l4.5 1.2M19.3 37l3.8 -2M40.6 45.6l3 5.2M38.4 27.5l5.5 3.7M48.6 36.6l5.9 4.9M28.6 22.9l5.4 2.4M47.8 50.7l7.9 -0.6M49 26l3.2 1M21 35.4l5.2 4.9M56.4 25.4l-0.3 4.8M43.8 52.2l2.2 6.2M36.4 27.7l7.9 0.5M59.5 18.3l3.7 4.1M57.8 27.1l3.4 5.8M32.4 23.7l7.2 -2.5M26.7 16.5l0.3 3.5M53.6 25.5l5.5 -1.8M57.6 29.6l2.5 6.6M49.7 14.5l5.2 5M37.8 52.5l4 -0.1M19.8 35.7l-1.4 6M41.4 50.8l-3.3 5.2M40.6 28l3.5 5.1M58.2 19l3.1 2.6M30 45.1l6.6 -0.3M51.1 35.4l2.8 -3.3M30.5 19l5.3 3.7M43.8 25.3l3.1 1.7M30.6 43.2l7.3 -0.5M55.8 14l4 -0.3M22.3 31.8l3.1 1.8M25.9 26.9l4.7 0M44.3 32.4l3.5 0.1M43.7 23.7l1.4 4.9M19.1 19l4.1 2.4M38.2 33.7l6.3 4.1M34.1 36.7l3.9 6M55.7 36.4l1.7 2.4M45.1 46.8l6.3 4.2M50.5 52.2l6.3 -0.2M16.9 37.3l1.5 2.8M19.3 40.1l3.3 6.1M38.6 13.8l-5.8 4.4M18.9 25.3l6.7 3.5M60 13.6l3 2.2M22.8 46l3.2 1M23.8 15.7l6.3 2.1M37.4 13.6l7.2 -2.4M26.1 48l2.9 1.2M55.6 14.4l5.9 2.1M39.7 52.6l5.6 0.1M28.6 40.7l3.6 0.2M27.8 23.4l3.3 1M41 40.9l3.9 3.5M28.2 46.1l3.8 0M17.3 29.6l2.8 -2.2M52.7 35.2l6.4 2.1M57 18.4l5.4 -5M59.1 21.7l1.7 -2.5M34.9 39.8l5.6 5.7M22.4 26.6l-0.7 5.5M55.8 31l3.7 0.8M30.8 23.4l3.4 2.4M37.9 22.7l5.3 0" stroke="#0048f0" stroke-width="0.9" opacity="0.9"/><path d="M36.5 41.5l3.3 -0.1M35.5 35.8l5.4 0.1M17.8 23.2l3.3 -0.7M17.2 29.8l3.3 6.7M17.5 38.3l4.3 2M42.7 46.5l-0.2 6.3M47.9 23.3l3.1 1.1M41.1 24.7l4.8 5.4M50.7 31.2l5.1 5.8M50.6 27.5l4.7 2.2M21.6 27.4l3.2 3.5M41.5 27.9l3.2 -0.8" stroke="#1848ff" stroke-width="0.9" opacity="0.9"/><path d="M52.7 25.1l2.9 -1.1M32.7 30.1l1.2 3M49.8 25.4l4.3 3.4M30.4 48.7l4.9 0.7M23.8 34.6l2 2.8M45.9 25.4l5.2 1.9M37.6 22.4l-3.7 3.7M56.2 14.2l5.3 -4.3M46 20.9l6.8 1.5M52.6 23.8l3.7 -4.6M49.1 32.9l3.9 5.5M25.3 18.9l5.4 1M33.6 17.3l5.6 2.8M22.8 43l4.9 -0.9M26.4 37.2l4.8 -4.2M52.8 33.4l1.5 6M38.3 35.7l7.6 2M37.4 34.4l4.4 0.4M43.9 28.6l5.1 0.7" stroke="#0030d8" stroke-width="0.9" opacity="0.9"/><path d="M20.4 23.5l2.3 4.4M49.4 33.5l3.1 -2.3M48.2 20.2l5.8 4.7M33 33.9l7.9 0.5M35.3 24.5l4 0.7M37.5 21l5.5 3.1M16.7 33.3l4.7 1.4M57.3 24l3.2 5.9M38.5 29.4l4.8 4.6M37.2 23l4.5 5.1M16.1 20.7l1.9 6.1M43.1 31.5l2.3 -5.1M25.8 19.3l2.5 6.9M16.5 35.8l3.2 -0.1M45.4 55l4 -5.1M29.3 31.1l2.6 3.6M14.5 21.6l6.5 1.9M33.3 44.8l3 5M53 35.3l2.1 -3.5M52.1 40.2l3.7 -1.9M37.3 34.3l1.8 -2.5M30.2 50l5.6 -0.8M37.9 24.6l0.4 -6.3M28.3 38.1l5.9 2M14.5 24.2l6.4 -2.9M45.9 25.7l2.1 -5.5M16.9 35.1l4 6.7M33.6 46.8l4.3 -1.3M52.4 26l2.9 -4.7M47.9 22.4l3.6 -2.8" stroke="#1830f0" stroke-width="0.9" opacity="0.9"/><path d="M40 50.9l2.4 3.7M25.6 38.1l2.4 3.6M15.2 27.2l3.5 5M19.3 24.3l-0.1 4.4M27.5 23.3l3.8 0.7M26 24.3l4.5 3.2M40.4 29.9l0.3 3.8M56.1 33.3l4 4.4M25.9 23.4l2 5.6M31.4 21.4l-2.9 6M41.9 21.7l5.6 2.4M41 26.1l3.2 2.5M45.9 52.9l4.7 5M29.9 39l-0.8 5.9M56.8 15.7l5.2 2.9M53.5 27.3l0.2 3.8M45.5 22l4.3 -0.7M32.5 31l3.1 6.5M15 28.1l4.2 3.8" stroke="#0030ff" stroke-width="0.9" opacity="0.9"/><path d="M43 19.3l4.5 1.8M24.7 22.7l3.9 0.7M37.5 48.8l2.1 4.5M48.6 47.8l2.6 2.7M56 21.5l-1.3 2.7M30.3 16.8l2.6 -3.3M37.6 41.9l5.1 0.7M58.4 13.9l2.5 3.3M21.2 25.1l1.3 -3.3M37.3 54l7.3 2.2M40.6 24l4.5 0.7M51.3 32.7l0.6 6.8M51 43.4l2.3 -2.4M42 49.9l3.9 5.5M41.5 16.7l7 3M45.9 35.5l2.9 4.1M34.9 39.6l3.5 2.4" stroke="#0048ff" stroke-width="0.9" opacity="0.9"/><path d="M21.6 43.7l7.3 1.4M46.5 31.2l-1.9 5.9M31.2 31.3l3.3 1.3M35.7 36.6l3.1 0.8M52.6 22.8l4.1 -0.1M37.3 47.2l3.5 3.1M44.1 40.3l1.4 6.2M48.4 16.5l6.1 -0.3M23.8 20.7l4.8 3.2M47.8 21.3l2.9 1.4M29.4 43.5l2.3 4.3M35.1 48.9l4 2.4" stroke="#1830ff" stroke-width="0.9" opacity="0.9"/><path d="M35.5 27.5l2.5 5.2M51.9 48.4l4.1 -4.9M44.5 26l4.4 4.3M23.6 18.3l7.6 1.5M23.3 25.9l5.7 -3.2M41.3 35.4l7 2.2M19.1 20.2l3.8 -4.7" stroke="#1830d8" stroke-width="0.9" opacity="0.9"/><path d="M21 27.7l2.9 -0.4M27 23.6l7.6 -1.7M25.3 30.8l6.3 -2.4M44.1 16.4l3.9 5.4M26.3 28l4.4 -6.1M23.2 20.7l4.6 -1.1" stroke="#1848d8" stroke-width="0.9" opacity="0.9"/><path d="M44.7 46l4.4 -0.4M37.6 41.4l1.9 -3.4M20.4 36.2l2.6 0.5M28.1 41.2l-0.9 -3.5M32.9 40.9l3.6 -2.4M34.9 44.9l2.4 1.9M35.6 48.5l4.4 2.9M28.3 43.9l5.8 0.6M27.3 47.8l3.9 -0.9M38.6 48.5l4.2 0.9M25.9 42.5l2.6 2.5M24.1 40.5l2.3 1.3M25.4 41.8l4.9 -0.1M36.9 46l2.6 0.1M46.7 50.8l1.6 -2.4M29.3 40.1l1.1 2.2M23.8 43.2l4.8 3.6M43.5 45.7l-0.3 4.5M33 40l4.4 3.1M38.9 49.9l3.1 0M43.1 49.4l2.8 2" stroke="#0030d8" stroke-width="1.0" opacity="0.9"/><path d="M32.2 45l2.2 2.1M33.9 39.4l2.8 0.1M42.8 45.6l4.5 1.7M45.7 48.5l4.5 0.9M33.3 50.2l2.8 3.4M43.6 55.3l1 5.1M16.4 36.5l2.3 -0.2M31.4 45.2l0.7 2.9M33.4 49.1l5.7 1.8M37.6 51.7l2.3 -1M42.7 45.9l0.2 2.4M17 35.5l3.1 0M33.7 50.4l5.3 -1.4M27.3 38.7l4.2 4M31.1 40.8l3.3 1.1M20.8 38.4l3.6 0.5M41.8 52.9l3.3 -0.8M37.6 40.1l2.2 0.1M36.2 40.2l0.3 -5.2M39.9 51.7l3.9 0.6M34.9 42.8l2.3 3.7M27 43.9l5.7 -0.1M44.2 49.5l3 0.7M28.8 45.3l2.4 2.5M32.5 44.6l2.3 1.4M42.4 53.4l5.3 -1.4M29.9 40.8l2.2 4.3M28 45.8l4.3 4.1M37.6 45.2l2.2 1.1M18.8 34.1l2.5 -4.4M45.5 45.4l-0.7 5.2M18.8 34.3l2.7 2.4M26.3 42.7l2.6 1.6M33.4 50.8l2 -0.9M27 41l4.5 -1M43.9 43.5l4.8 2.7M34.8 50.7l4.8 -1M31.1 43.9l4.1 2.9M46.1 51.7l4.6 0.1M41.9 42l3.1 -1.3M18.4 38.5l4.6 -1.2M21.5 38.5l1.5 2.5M44.5 47.9l1.2 2M46.5 53.3l2.5 3.5M40 48.2l1.4 -2M26.6 41.4l2.3 1.4M31.8 52.4l3.5 -0.8M41.1 52l2.2 -1.5M44.7 53.5l4.5 1.1M38.4 46.6l1.1 -2.8M20 38.6l1.8 1.3M19.1 37.4l3.2 -0.7M41.8 44.8l2 -0.4M36 49.3l3.7 -1.5M28.6 38.8l3 2.7M39 49.2l1.4 1.5M30.8 41.6l3.9 2.6M38 43.3l0.7 4.3M22.9 41.4l-0.4 5.1M16.7 34.2l-0.3 2.2M47.1 49l1.8 2M44.4 53.9l-0.1 2M37.6 52.3l1.6 -3.4M40.7 53.3l4.8 1.9M25.7 47l5.5 -2.1M22.3 38.2l4 -4.3M36.7 45.6l2.9 -0.4M28 40.7l5.3 -1.4M36.7 44.3l2.1 -0.2M26 41.7l1.9 -0.7M34.5 42.8l3.6 0.6M36.7 44.3l2.5 -0.1M23.2 40.8l4 0.7M35.8 43.3l1.9 -0.8M40.4 52l4 2.1M17.3 34l4 2.1M40.5 42.5l2.4 0.1M19 33.7l3.7 3.8M44.5 53.6l-0.5 -4.4M46 49.8l4.4 -1.7M34.6 51.8l0.9 4M29.6 49.1l3.7 0M36 51.2l2.4 -1.9M28.6 40.5l4.5 -1.7M43.2 50.9l4.3 -0.4M31.1 43.8l2.7 2.2" stroke="#0018f0" stroke-width="1.0" opacity="0.9"/><path d="M27.2 44l2.8 1.5M24.7 41.6l0.6 5.5M37.1 40.4l3.3 -1.6M39.4 49l2.3 1.3M42.6 50.6l5.3 1.3M38.1 41.4l4.3 2.5M29.4 44.2l2.1 -5.3M38.3 51.3l5.8 1.3M38.5 48l0.8 2.9M19.2 38.9l0.8 3.4M43 54.1l2.9 4.5M27.5 45.2l0.1 3.4M20.6 39.2l2.9 -3.2M41.1 42.2l2.7 1.5M26.5 42.5l5.1 -2.5M33.8 40.3l1.5 -2.3M25.2 45.6l5.8 0.3M29 44.7l3.8 -2M44.4 45.1l0.2 3M23.2 40.9l2.1 -0.2M33.3 51.2l-0.5 4.7M44 44.9l5.6 -1.4M43.9 46.6l1.7 2.3M21 40.6l3.1 2.3M39.5 44.2l1.4 -4.4M30.2 42.6l2.7 3.4M44 47.3l2.3 2.3M35.5 49.3l3.3 -0.2M42 42.1l3.1 -2.8M31 47.7l5.4 2.4M16.4 35.2l2 -1M46.2 47l2.8 1.2M33.2 45.1l4.7 -2.8M43.2 44.2l-0.8 -2.8M38.6 41.4l1.8 -3.7M20.5 38l3.2 4.1M38.1 42.7l2.8 2.7M37.6 40.8l3.3 -1M17.4 36.3l4.7 1M36.2 52.5l4.4 2.7M30.5 43l2.9 2.7M32.1 51.7l4.3 -1.8M25.7 38.1l2.3 3.3M43.7 51.2l4.8 -2.6M45.4 45.3l1.9 1.1M25 37.6l-0.2 -4.4M27.8 47.3l2.2 1.1M46 44.6l0.9 3M32 40.8l2.3 1.5M31.4 50.9l2 -2.1M43 50.8l0.3 -2.3M47 50.8l2.8 0.8M42.7 51l1.8 0.9M36.2 50.6l2.5 2.1M37.3 53.5l2.3 -0.9M30.3 48.3l4.8 -0.5M16.9 36.2l3.8 -3.6M45.1 51l-0.3 3.9M39.3 41.2l3.3 4.1M42.5 50.8l5.5 0.4M35.8 53.2l3.7 1.3M19.6 36.8l3.4 -3M45.7 47.3l5.7 0.4M31.8 46.8l1.5 -1.8M42.5 51.4l3.3 -1.9M39.2 52.3l3.1 1.7M17.9 34.7l4.8 0M29.9 48.9l3.2 1M21.2 42.5l4.9 -0.9M34.9 48.6l2.3 0.5M47 48.4l2.6 1.7M43.3 51.2l4.1 -2.3M27.3 49.3l1.1 2.8M24.8 41.1l0.9 5M30.4 49l2.2 -0.9M18.2 38.3l2.3 4.4M23.9 42.9l1.2 4M20.3 35.3l4.1 -3.8M41.5 53.5l1.6 1.6M37.1 50.3l2.2 1.9M27.1 48.8l3.8 -0.6M25.3 38.1l3.8 3.8M26.4 44.5l2.6 -2.1M45.7 45.4l1.8 1.2M37.1 45.5l1.6 2M23.9 42.1l1.2 -1.7M32.4 40.7l5.1 0.4M25.8 43.4l3.9 -3M45.6 54.3l3.9 0.1M43.1 51.6l2.8 1.1M39.2 50l4.4 -2.8M33.3 42.9l4.6 -2.2M17.8 33.6l0.4 5M38.8 49.9l2.1 2.1M18.3 33.7l3.1 -4.2M23.5 36.8l3.3 3M18.3 36.6l1.7 2.8M33.4 41.6l5 2.5" stroke="#0018d8" stroke-width="1.0" opacity="0.9"/><path d="M26 43.2l2.3 0M18.4 33l4.8 -0.9M38.5 42.2l2.2 5M25.3 39.4l5.7 0.8M26.4 43.8l3.7 -0.8M38.6 50.2l5.1 0.3M23.8 46.6l2.7 -0.3M32.5 43.4l0.5 2.8M40.1 41.1l4.1 0.2M38.6 43.5l0.4 3.7M33.9 39.7l3.1 0.3M42.6 51.2l4.3 -0.6M37.8 49l-0.9 3.4M30.3 51.3l2.3 0.7M37.7 45.3l3.7 -1M33.2 42.1l2.5 5.3M36.1 48.5l2.5 4.5M21.9 38.3l0.2 4.3M28.7 46.6l3.6 -3.4M23 42.5l3 1.7M17.8 37.3l4.4 2.4M23.1 43.9l2.1 -1.5M24.9 38.9l-1.1 3.5M28.7 42.1l1.8 1.5M41.4 51.2l1.1 2.5M18.4 33.2l1.5 -3.8M41.6 54.8l5.5 -0.6" stroke="#0030f0" stroke-width="1.0" opacity="0.9"/><path d="M45.4 47.4l3.5 2.8M33.9 47l3.8 4.2M26.4 44.4l1.5 1.3M25.2 41.2l4.2 4M33.7 48l3.2 1.1M42.4 45.5l3.2 -1.1M45.8 50.2l3 4.4M18.4 37.1l1.6 2.7M28.6 48.2l1.8 -0.8M36.3 48.5l4.4 0.2M44.2 55.7l4.4 -1.9M45.1 45.2l3.2 1.3M44.8 54.8l1 -3.9M29.6 39.1l3.4 -3.6" stroke="#1818d8" stroke-width="1.0" opacity="0.9"/><path d="M18.1 36.3l3.3 -2.8M40.2 47.4l2 2.5M18.7 36l3.3 0.6M36.5 45.1l2.5 2.2M35.9 45l2.7 1.4M33.8 44.1l1.9 1M23.6 41.9l3.6 4.2M27.3 40.7l0.2 2.5" stroke="#1818f0" stroke-width="1.0" opacity="0.9"/><path d="M21.9 37.2l3.1 -1.2M46.9 48.1l5.1 1.5M28.8 47.2l0.8 2.9M31.8 48l2.1 1.5" stroke="#1830f0" stroke-width="1.0" opacity="0.9"/><path d="M24.4 37.1l4.4 1.6M20.6 37.4l4.3 2.3" stroke="#1830d8" stroke-width="1.0" opacity="0.9"/><path d="M36.6 27.2l2.5 -5.4M27.3 17.8l4.7 -4.3M48.4 40.8l5.1 2.5M23 18.8l2.9 -0.4M21.9 42.3l1.3 -2.5M16.7 31.2l6.5 -2.1M38.4 26.8l3.2 -6.1M30 17.3l4.3 -1.6M23.6 16.7l1.1 -3.5M41.3 54.9l3.7 4.7M36.9 27.4l3.4 -1.9M27.3 34.5l2.3 -4.8M50.4 29l2.4 3.5M29.6 40.6l1.2 -2.3M44.4 18.8l3.6 -2.9M40.1 39.2l3.7 -5.1" stroke="#1878f0" stroke-width="0.55" opacity="0.8"/><path d="M31.3 52.2l4.3 1.8M40.1 52.5l1.3 4M56 14.4l2.7 -3.4M32.5 27.3l3.6 -4.5M18.5 40.8l2.9 -3M36.5 19l4.2 -1.2M54.7 40.3l4.6 3.2M50.3 43.2l5.6 -1.9M24.3 32.3l3.4 1.8M37.1 28.8l2.3 -2.5M34.9 31l1.2 -2.6M15.3 29.7l2.5 3M19.7 41.1l2.6 -3.8M30.2 30.8l3.6 1.7M36.9 39.4l2.2 -1.5M43.5 18.1l2.1 -1.8" stroke="#1878ff" stroke-width="0.55" opacity="0.8"/><path d="M21.9 42.6l2.2 0.5M48.9 18.5l2.2 -2.3M41.2 37l4 0.3" stroke="#3060f0" stroke-width="0.55" opacity="0.8"/><path d="M17.1 24.2l5.5 -1.2M55.5 38.7l5 -4.4M43.8 35.8l2.4 0.6M49.1 22.9l2.4 -3.6M27 19.3l3.2 -6M16.9 29.3l3.1 -0.5" stroke="#3090ff" stroke-width="0.55" opacity="0.8"/><path d="M32.4 16.9l5 4M47.4 40l2.9 0.2M51 35l1.8 3.7M51.1 48.2l2.2 2.9M31.7 52.5l6.5 1.5M43.7 37.1l2.5 2.9M54.6 41.7l2.9 -2.4M40.2 21.7l4.7 -3.9M44.9 19.8l4.6 3.1M41.6 44l3.7 0.2M38.2 29l4.9 -2.6M48.6 21.8l5.2 -0.8M31.3 51.7l1.7 -2M25.8 38.2l5.3 -2.7M40 29.6l3.2 -0.7M35.2 30.4l2.8 -1.6M43.1 46.4l2.9 -3M53 35.3l0.8 -1.9" stroke="#3078ff" stroke-width="0.55" opacity="0.8"/><path d="M34.6 29.7l3.3 0M43.1 26.5l3.7 -1M37.2 24.7l6.1 -2.4M49.3 19.1l5.4 0.8M51 23.7l5.2 -4.1M30.9 50.5l3.5 6M27.1 15.5l1.8 3.4M45.6 54.5l3.7 -0.4" stroke="#1890ff" stroke-width="0.55" opacity="0.8"/><path d="M47.3 20.4l3.7 -0.4M21 20.4l3.7 1.5M26.3 19l4.9 -0.3M53.9 40.8l2.6 1M54.7 38.2l4.6 5M38.2 34.1l3.6 -1.2" stroke="#3060ff" stroke-width="0.55" opacity="0.8"/><path d="M46.1 14.3l4.2 0.5M52.1 45.5l-1.1 -3.8M26.9 28.7l4 -2.6M25.8 19.6l5.6 -3.4M54.1 27.2l-0.7 6.2M29.9 42.1l1.7 -1.3M56.8 22.9l3.9 -3M31.9 44.4l6.6 1.8M36.4 21.4l2.8 -0.6M31.4 32.2l5.8 -3.6" stroke="#3078f0" stroke-width="0.55" opacity="0.8"/><path d="M41.1 51.9l3.5 -5.7M19.1 34.5l3.6 -3.9M31.6 31.5l3.2 -4.5M31.1 27.3l1.6 -3M42.9 14.3l-0.5 5.6M46.8 29.9l-0.1 3.2" stroke="#1890f0" stroke-width="0.55" opacity="0.8"/><path d="M55.7 28.7l-0.9 2.6M51 32.5l3.2 1.2" stroke="#3090f0" stroke-width="0.55" opacity="0.8"/><path d="M39.9 26.4l1.4 -1.6M34.1 23.1l5.9 -1.7M35.5 34.5l2.3 1.8M45.2 16.8l0 -6.5M18.6 32.8l2.5 -1.9M46.5 35.8l6.5 0.3" stroke="#1860f0" stroke-width="0.55" opacity="0.8"/><path d="M33.8 51.7l0 -2.1M33.1 42.5l-3.7 -1.9M51.5 25l3 4.8" stroke="#1860ff" stroke-width="0.55" opacity="0.8"/><path d="M38.2 34.5l4.9 0.8M44.6 28.9l-2.2 0.3" stroke="#48c0f0" stroke-width="0.45" opacity="0.8"/><path d="M24.2 27.8l-0.5 -4.6M48.1 28.8l1.6 3.2" stroke="#48a8f0" stroke-width="0.45" opacity="0.8"/><path d="M57.2 33.2l-5.1 -0.2M42.2 27.4l3.3 3.4M39.8 47.6l3.7 3.3" stroke="#30c0f0" stroke-width="0.45" opacity="0.8"/><path d="M52.3 17l-0.8 4.4M22.9 37.7l1.5 3.7M39.5 22.3l0.6 -3.2M33.3 51.2l-3.9 2.6M38.8 25.8l3.4 -0.7" stroke="#48a8ff" stroke-width="0.45" opacity="0.8"/><path d="M24.5 31.7l5.2 0.1M42.4 39.8l3.6 3.6M53.4 13.6l2.5 -1.2" stroke="#30c0ff" stroke-width="0.45" opacity="0.8"/><path d="M46 48l-4.3 1.8M33.6 34.8l1.7 2.3M38.3 31.8l-4.7 2" stroke="#60a8f0" stroke-width="0.45" opacity="0.8"/><path d="M40.1 44.4l4.3 3.2" stroke="#6090f0" stroke-width="0.45" opacity="0.8"/><path d="M18.3 23.8l3.4 2" stroke="#30a8ff" stroke-width="0.45" opacity="0.8"/><path d="M31.7 46.8l-0.4 -2.4" stroke="#3090f0" stroke-width="0.45" opacity="0.8"/><path d="M49.7 30.6l3.2 -1.5" stroke="#4890ff" stroke-width="0.45" opacity="0.8"/><path d="M25.8 36.9l1.6 -1.8M43.9 49.2l-2.5 0.4" stroke="#48c0ff" stroke-width="0.45" opacity="0.8"/><path d="M23.9 40.5l-2.5 -3.8" stroke="#30a8f0" stroke-width="0.45" opacity="0.8"/><path d="M16 27l6.5 6.8 23 7.4 11.5 -2.2M45.5 41.2l-1.5 12.8" stroke="#60c0ff" stroke-width="0.6" opacity="0.7"/><path d="M54 14l-8.5 27.2" stroke="#60c0ff" stroke-width="0.5" opacity="0.6"/></g></g>
<circle cx="35.8" cy="26.5" r="2.1" fill="#0008c8"/>
<g fill="none" stroke-linecap="round" stroke-linejoin="round"><path d="M58.2 37.7l2.2 0.5 2.3 0.6 2.2 0.6 2.2 0.5 2.3 0.6 2.2 0.5 2.2 0.6 2.3 0.5 2.2 0.5 2.2 0.6 2.3 0.5 2.2 0.5 2.2 0.4 2.3 0.5 2.2 0.5 2.3 0.4 2.2 0.5 2.2 0.4 2.3 0.4 2.2 0.5 2.2 0.4 2.3 0.4M56.6 36.2l2.3 -0.1 2.2 0 2.3 -0.1 2.3 0 2.2 -0.1 2.3 -0.1 2.3 -0.1 2.3 -0.1 2.2 -0.1 2.3 -0.1 2.3 -0.1 2.2 -0.2 2.3 -0.1 2.3 -0.2 2.2 -0.2 2.3 -0.2 2.3 -0.2 2.3 -0.2 2.2 -0.3 2.3 -0.2 2.3 -0.2 2.2 -0.3M96 21.1l2.2 -0.3 2.2 -0.2M111.5 52.3l2.2 0.9M112.6 35.7l2.2 -0.2M121.6 40l2.2 0.2M99.7 42.2l2.2 0.3M57.9 34.6l2.2 0.3 2.3 0.4 2.2 0.4 2.2 0.3 2.2 0.4 2.2 0.3 2.3 0.3 2.2 0.3 2.2 0.3 2.2 0.3 2.3 0.3 2.2 0.2 2.2 0.3 2.2 0.2 2.2 0.2 2.3 0.3 2.2 0.2 2.2 0.2 2.2 0.2 2.2 0.2M99.7 36.1l2.2 -0.1M114.4 33.9l2.2 -0.1M116.7 49l2.2 -0.4M114 46.3l2.2 0.3 2.3 0.3M58.4 37l2.3 0 2.3 0.1 2.3 0 2.3 0.1 2.3 0 2.3 0.1 2.3 0 2.2 0 2.3 0 2.3 0 2.3 0 2.3 0 2.3 0 2.3 0 2.3 -0.1 2.3 0 2.3 -0.1 2.3 0 2.2 -0.1 2.2 0 2.2 -0.1 2.2 0.1M114.9 38l2.2 0.1M98.6 34.9l2.2 -0.3M122.4 26.7l2.2 0.5 2.2 0.2M56.9 36.5l2.3 0 2.3 -0.1 2.2 0 2.3 0 2.3 -0.1 2.3 0 2.2 -0.1 2.3 -0.1 2.3 -0.1 2.2 -0.2 2.3 -0.1 2.3 -0.2 2.2 -0.2 2.3 -0.3 2.3 -0.2 2.3 -0.3 2.2 -0.3M57.9 41.2l2.1 -1 2.1 -1.1 2.1 -1 2.1 -1 2.1 -1.1 2.1 -1 2.1 -1 2.1 -1.1 2.1 -1 2.1 -1.1 2.1 -1.1 2.1 -1 2.1 -1.1 2 -0.9 2.1 -0.6 2.2 -0.5 2.1 -0.2 2.2 -0.1 2.2 0.1 2.2 0.2 2.2 0.3 2.2 0.4 2.1 0.3 2.2 0.3 2.2 0.4 2.2 0.3M57.4 36.7l2.2 -1.2 2.1 -1.1 2.1 -1.2 2.1 -1 2.1 -1.1 2.1 -1 2.2 -0.9 2.1 -0.9 2.1 -0.8 2.1 -0.8 2.1 -0.7 2.2 -0.7 2.1 -0.6 2.1 -0.6 2.1 -0.5 2.1 -0.6 2.1 -0.6 2.2 -0.6 2.1 -0.4 2.2 -0.1 2.2 0 2.2 0.2 2.2 0.2 2.2 0.2M104 34.8l2.2 -0.1 2.2 -0.1M100.3 42.2l2.3 0.4M58.5 36.9l2.1 -1.1 2.2 -1 2.1 -1 2.2 -1 2.2 -1 2.1 -0.9 2.2 -0.9 2.2 -0.8 2.1 -0.8 2.2 -0.7 2.1 -0.7 2.2 -0.6 2.2 -0.6 2.1 -0.5 2.2 -0.6 2.2 -0.5 2.1 -0.7 2 -0.6 2.1 -0.7 2.1 -0.7 2.2 -0.5 2.1 -0.5 2.2 -0.4 2.1 -0.4 2.2 -0.6 2.1 -0.6M57.6 41l2.2 -0.4 2.3 -0.4 2.3 -0.5 2.2 -0.4 2.3 -0.5 2.3 -0.4 2.2 -0.4 2.3 -0.5 2.3 -0.5 2.2 -0.5 2.3 -0.4 2.3 -0.5 2.2 -0.5 2.3 -0.5 2.3 -0.6 2.2 -0.5 2.3 -0.5 2.1 -0.4M113.8 28.5l2.2 0M58.6 40.4l2.2 -0.3 2.2 -0.3 2.3 -0.3 2.2 -0.4 2.2 -0.3 2.3 -0.3 2.2 -0.3 2.2 -0.3 2.3 -0.2 2.2 -0.3 2.3 -0.2 2.2 -0.3 2.2 -0.2 2.3 -0.2 2.2 -0.3 2.2 -0.1 2.3 -0.2 2.2 -0.2 2.2 -0.2 2.3 -0.1 2.2 -0.1 2.2 -0.2 2.3 -0.1 2.2 -0.1M117.8 36.4l2.2 0.1M99.3 36l2.2 -0.1M107.8 51.9l2.2 0.7 2.2 0.7M101.3 42.2l2.2 0.1M118.8 26.9l2.2 0M56.6 36.2l2.2 -0.8 2.2 -0.8 2.2 -0.8 2.2 -0.7 2.2 -0.8 2.2 -0.7 2.2 -0.6 2.2 -0.7 2.2 -0.5 2.2 -0.6 2.1 -0.5 2.2 -0.5 2.2 -0.4 2.2 -0.4 2.2 -0.4 2.2 -0.3 2.2 -0.4 2.2 -0.3 2.2 -0.3 2.1 -0.5M106.5 29.6l2.3 -0.1M107.6 25.6l2.2 -0.2M58.5 35.7l2.3 -0.3 2.3 -0.4 2.3 -0.3 2.2 -0.4 2.3 -0.3 2.3 -0.4 2.3 -0.5 2.3 -0.4 2.3 -0.5 2.3 -0.5 2.2 -0.6 2.3 -0.5 2.3 -0.6 2.3 -0.7 2.3 -0.6 2.3 -0.6 2.1 -0.4 2.2 -0.3 2.2 -0.4 2.2 -0.3M103.5 32l2.3 -0.2M97.3 30.8l2.2 -0.4M123 26.8l2.2 0.3M114.9 31.4l2.2 -0.3M109.7 38.6l2.3 -0.1M57.6 35.5l2.3 0.2 2.3 0.1 2.3 0.1 2.3 0.1 2.3 0 2.4 -0.1 2.3 -0.1 2.3 -0.2 2.3 -0.3 2.3 -0.4 2.3 -0.4 2.4 -0.5 2.3 -0.6 2.3 -0.5 2.3 -0.6 2.2 -0.2 2.2 0 2.2 0.1 2.2 0.2 2.2 0.4M107.5 32.5l2.2 -0.7 2.2 -0.7M112.2 26.5l2.2 0.1M92.3 34.1l2.3 -0.3M59.1 34.6l2.1 0.4 2.2 0.3 2.1 0.4 2.2 0.4 2.2 0.4 2.1 0.3 2.2 0.4 2.1 0.5 2.2 0.4 2.1 0.4 2.2 0.5 2.1 0.5 2.2 0.5 2.1 0.5 2.2 0.5 2.2 0.6 2.1 0.5 2.2 0.6 2.1 0.6 2.2 0.6M113.6 21.2l2.2 0.1M103.6 25.4l2.2 0.3M128.7 24.4l2.1 0.4 2.2 0.3M58.5 40.3l2.2 0 2.2 0 2.2 0 2.2 -0.1 2.2 -0.1 2.1 -0.1 2.2 -0.2 2.2 -0.3 2.2 -0.3 2.2 -0.3 2.2 -0.4 2.2 -0.5 2.2 -0.5 2.2 -0.6 2.2 -0.6 2.1 -0.6 2.2 -0.6 2.2 -0.3 2.2 -0.2 2.2 -0.1M56.7 36.3l2.3 0.6 2.2 0.7 2.3 0.6 2.3 0.6 2.3 0.6 2.2 0.5 2.3 0.5 2.3 0.5 2.3 0.4 2.2 0.4 2.3 0.4 2.3 0.3 2.3 0.3 2.2 0.2 2.3 0.2 2.3 0.2 2.3 0.1 2.2 0.1 2.3 0.1 2.3 0.1 2.3 0M97.5 47.8l2.2 0.5 2.1 0.5M118 37.7l2.2 -0.3M118.2 29.8l2.1 -0.2M117.9 54.4l2.2 0.1M57.6 38.8l2.2 -0.2 2.2 -0.3 2.2 -0.3 2.2 -0.2 2.2 -0.3 2.2 -0.2 2.2 -0.3 2.2 -0.2 2.2 -0.3 2.2 -0.2 2.2 -0.2 2.2 -0.3 2.2 -0.2 2.2 -0.2 2.2 -0.2 2.2 -0.2 2.2 -0.2 2.2 -0.2 2.2 -0.2 2.2 -0.2M58.2 36.4l2.3 0.3 2.2 0.3 2.2 0.3 2.2 0.3 2.3 0.2 2.2 0.3 2.2 0.2 2.3 0.1 2.2 0.2 2.2 0.1 2.2 0 2.3 0.1 2.2 -0.1 2.2 0 2.3 -0.1 2.2 -0.1 2.2 -0.2 2.2 -0.1 2.3 -0.2 2.2 -0.2 2.2 -0.3M106.4 47l2.2 0.4M57 40.1l2.3 0.1 2.2 0 2.3 0.1 2.2 0.1 2.3 0.1 2.2 0.1 2.3 0.1 2.2 0.1 2.3 0.1 2.2 0.2 2.3 0.2 2.2 0.1 2.3 0.2 2.2 0.3 2.3 0.2 2.2 0.2 2.3 0.3 2.2 0.2 2.3 0.3 2.2 0.2 2.2 0.1 2.2 -0.1 2.2 -0.1 2.2 -0.1 2.2 -0.2 2.2 -0.1 2.2 -0.2M109 41.1l2.2 -0.3M94.6 35.9l2.2 -0.2M111.4 47.1l2.2 -0.3M116.7 29.6l1.9 -1.1 1.9 -1M98.8 43.1l2.2 0.3M103.2 33.8l2.2 -0.4M110.5 33.3l2.2 -0.2M100.2 30.7l2.2 -0.3M58 39.3l2.2 -0.1 2.3 -0.2 2.2 -0.2 2.2 -0.2 2.3 -0.2 2.2 -0.3 2.2 -0.2 2.3 -0.3 2.2 -0.3 2.2 -0.4 2.3 -0.3 2.2 -0.4 2.2 -0.4 2.2 -0.4 2.3 -0.5 2.2 -0.5 2.2 -0.4 2.3 -0.5 2.2 -0.6 2.2 -0.5 2.3 -0.5M59.3 41.4l2.2 0.1 2.2 0 2.2 0 2.2 0.1 2.2 0.1 2.2 0.1 2.2 0.1 2.2 0.1 2.2 0.2 2.2 0.2 2.2 0.3 2.2 0.3 2.2 0.2 2.2 0.3 2.2 0.4 2.2 0.3 2.2 0.1 2.1 0.1 2.2 0.1 2.2 0 2.2 0 2.2 0 2.2 0 2.2 0 2.2 0.1 2.2 0.2M106 34.5l2.3 -0.4M99.2 38l2.2 0.2M115.5 46.5l2.1 0.3 2.2 0.5M97.1 27.3l2.3 -0.2M115.9 36.7l2.2 0.2M110.9 25.9l2.2 0.1M100.7 43.5l2.2 0.2 2.3 0.1M58.3 35.4l2.2 0.3 2.2 0.2 2.3 0.2 2.2 0.3 2.2 0.2 2.2 0.2 2.2 0.2 2.2 0.2 2.2 0.2 2.2 0.2 2.3 0.2 2.2 0.1 2.2 0.2 2.2 0.1 2.2 0.1 2.2 0.1 2.2 0.1 2.2 0.1 2.3 0.1M57.9 40.7l2 -1.3 2 -1.2 1.9 -1.3 2 -1.2 1.9 -1.2 2 -1.1 1.9 -1.1 2 -1.1 1.9 -0.9 2 -1 1.9 -0.9 2 -0.8 2 -0.9 1.9 -0.8 2 -0.8 1.9 -1 2 -0.9 2.1 -0.6 2.2 -0.4 2.2 -0.1 2.2 0.1 2.2 0.3 2.2 0.4 2.1 0.6 2.1 0.6 2.1 0.6M106.1 32.6l2.3 -0.1M57.6 37l2.2 0.1 2.3 0.2 2.2 0.2 2.3 0.2 2.2 0.1 2.3 0.2 2.2 0.2 2.3 0.2 2.2 0.3 2.3 0.2 2.2 0.2 2.3 0.3 2.2 0.3 2.3 0.3 2.3 0.3 2.2 0.3 2.3 0.3 2.2 0.3 2.3 0.4 2.2 0.3 2.3 0.4 2.2 0.4 2.3 0.4 2.2 0.4 2.3 0.4M107.8 18.4l2.2 -0.3 2.2 -0.2M58.5 38.6l2.2 -0.5 2.2 -0.5 2.2 -0.5 2.2 -0.5 2.2 -0.4 2.2 -0.5 2.2 -0.4 2.2 -0.4 2.2 -0.4 2.2 -0.3 2.2 -0.4 2.2 -0.3 2.2 -0.2 2.2 -0.3 2.3 -0.2 2.2 -0.1 2.2 -0.2 2.2 -0.1 2.2 -0.2 2.2 -0.1M117.1 55.9l2.1 -0.7 2 -0.7M116.1 30.7l2.2 0.5 2.2 0.3M94.2 53.8l2.2 0.5M104.9 30.3l2.2 -0.7" stroke="#0060f0" stroke-width="0.75" opacity="0.95"/><path d="M107.4 48.6l2.1 0.5M106.5 33l2.2 -0.1M100.4 20.6l2.2 0M57 40.6l2.2 -0.4 2.1 -0.4 2.1 -0.5 2.1 -0.4 2.1 -0.4 2.2 -0.5 2.1 -0.5 2.1 -0.5 2.1 -0.6 2.1 -0.5 2.2 -0.6 2.1 -0.7 2.1 -0.7 2.1 -0.7 2.1 -0.7 2.2 -0.8 2.1 -0.8 2.1 -0.8 2.1 -0.8M114.8 35.5l2.2 -0.1M102.3 40.2l2.2 0.1M59.1 38.5l2.2 0.3 2.3 0.2 2.2 0.3 2.2 0.3 2.2 0.3 2.2 0.2 2.2 0.3 2.2 0.2 2.2 0.2 2.2 0.2 2.2 0.2 2.2 0.2 2.2 0.2 2.2 0.2 2.3 0.1 2.2 0.1 2.2 0.1 2.2 0.1 2.2 0.1 2.2 0.1 2.2 0.1 2.2 0 2.2 0M101.9 36l2.2 -0.1M116.6 33.8l2.2 0M118.9 48.6l2.1 -0.3M118.5 46.9l2.1 0.3M108.5 37l2.2 0M117.1 38.1l2.2 0.1M57.8 40.8l2.2 -0.2 2.2 -0.3 2.2 -0.2 2.2 -0.3 2.2 -0.3 2.3 -0.2 2.2 -0.3 2.2 -0.2 2.2 -0.3 2.2 -0.3 2.2 -0.2 2.2 -0.3 2.2 -0.2 2.2 -0.3 2.3 -0.2 2.2 -0.3 2.2 -0.2 2.2 -0.3 2.2 -0.2 2.2 -0.3 2.2 -0.2 2.2 -0.2M100.8 34.6l2.2 -0.3M126.8 27.4l2.2 0.1M95.5 34.2l2.3 -0.4M58.7 35.5l2.3 0.1 2.3 0 2.3 0.1 2.3 0 2.3 0.1 2.3 0.1 2.3 0.1 2.3 0.1 2.3 0.1 2.3 0.2 2.3 0.1 2.3 0.2 2.3 0.1 2.3 0.2 2.3 0.2 2.3 0.2 2.3 0.2 2.3 0.2 2.2 0.2 2.2 0 2.2 0.2 2.2 0.2 2.2 0M58.7 36.1l2.2 -0.1 2.3 -0.1 2.2 -0.1 2.3 -0.1 2.3 -0.1 2.2 -0.1 2.3 0 2.3 0 2.2 0 2.3 0 2.2 0 2.3 0.1 2.3 0.1 2.2 0.1 2.3 0.1 2.3 0.1 2.2 0.2 2.3 0.1M113.3 27.6l2.2 0.3M108.7 21.9l2.2 0.3 2.1 0.3M108.4 34.6l2.2 -0.1M102.6 42.6l2.2 0.4M114.3 18.5l2.2 -0.4M98.2 32.6l2.2 -0.5M116 28.5l2.2 0.2M58.1 37.6l2.2 -0.5 2.2 -0.5 2.2 -0.5 2.2 -0.4 2.3 -0.4 2.2 -0.3 2.2 -0.3 2.2 -0.2 2.2 -0.2 2.2 -0.1 2.2 0 2.2 0 2.3 0.1 2.2 0.1 2.2 0.1 2.2 0.2 2.2 -0.2 2.2 -0.1M112.2 34.9l2.3 -0.1M101.5 35.9l2.2 0M112.2 53.3l2.1 0.5M103.5 42.3l2.2 0.1M121 26.9l2.2 0M100.4 25.2l2.2 -0.4M108.8 29.5l2.2 -0.2M109.8 25.4l2.2 -0.2M105.8 31.8l2.2 -0.2M99.5 30.4l2.2 -0.4M57.3 34.9l2.2 -0.1 2.3 -0.1 2.2 -0.2 2.3 -0.1 2.3 -0.1 2.2 0 2.3 -0.1 2.2 -0.1 2.3 -0.1 2.3 -0.1 2.2 0 2.3 -0.1 2.2 0 2.3 0 2.3 -0.1 2.2 0 2.3 0 2.2 0 2.3 0.1 2.3 0 2.2 0 2.3 0 2.2 0.1 2.3 0M125.2 27.1l2.2 0.3M117.1 31.1l2.2 0M112 38.5l2.2 -0.2M103.3 32.8l2.1 0.6M111.9 31.1l2.2 -0.7M114.4 26.6l2.2 0.2M56.7 37.6l2.2 -0.1 2.3 -0.2 2.2 -0.2 2.2 -0.2 2.2 -0.2 2.3 -0.2 2.2 -0.2 2.2 -0.3 2.3 -0.2 2.2 -0.3 2.2 -0.3 2.2 -0.3 2.3 -0.3 2.2 -0.3 2.2 -0.4 2.3 -0.4 2.2 -0.3 2.2 -0.4 2.3 -0.4 2.2 -0.4 2.2 -0.2 2.2 -0.2 2.2 0.1 2.1 0.3 2.2 0.4 2.1 0.6 2.2 0.5M94.6 33.8l2.2 -0.3M102.2 43.9l2.1 0.6M115.8 21.3l2.2 0.3M105.8 25.7l2.1 0.4M133 25.1l2.2 0M102.3 34.5l2.2 -0.1M56.6 37.8l2.3 -0.3 2.3 -0.3 2.2 -0.4 2.3 -0.3 2.3 -0.3 2.3 -0.3 2.2 -0.3 2.3 -0.3 2.3 -0.3 2.3 -0.3 2.3 -0.2 2.2 -0.3 2.3 -0.2 2.3 -0.2 2.3 -0.3 2.3 -0.2 2.2 -0.2 2.3 -0.2 2.3 -0.2 2.3 -0.2 2.3 -0.2 2.1 -0.2 2.2 -0.2 2.2 -0.2 2.2 -0.3 2.2 -0.2 2.2 -0.3M104.5 43.7l2.1 0.3M58.2 39.9l2.3 0.1 2.2 0.2 2.2 0.1 2.2 0.2 2.2 0.2 2.2 0.2 2.3 0.1 2.2 0.2 2.2 0.2 2.2 0.2 2.2 0.3 2.2 0.2 2.2 0.2 2.3 0.3 2.2 0.2 2.2 0.3 2.2 0.2 2.2 0.3 2.2 0.3 2.3 0.3M58.3 40.5l2.3 -0.3 2.2 -0.4 2.2 -0.3 2.2 -0.3 2.3 -0.3 2.2 -0.3 2.2 -0.3 2.2 -0.3 2.3 -0.3 2.2 -0.2 2.2 -0.3 2.2 -0.2 2.3 -0.2 2.2 -0.2 2.2 -0.2 2.3 -0.2 2.2 -0.2 2.2 -0.1 2.2 -0.2 2.3 -0.1 2.2 -0.1 2.2 -0.1 2.2 -0.1M101.8 48.8l2.2 0.4M120.3 29.6l2.2 -0.1M120.1 54.5l2.2 0M101.6 34.2l2.2 -0.2M105 37.5l2.3 -0.2M108.6 47.4l2.2 0.4M57.1 36.7l2.2 -0.1 2.2 -0.1 2.2 -0.2 2.2 -0.1 2.3 0 2.2 -0.1 2.2 -0.1 2.2 0 2.2 0 2.3 0 2.2 0 2.2 0 2.2 0.1 2.2 0.1 2.3 0.1 2.2 0.2 2.2 0.1 2.2 0.2 2.3 0.2 2.2 0.2 2.2 0.3 2.2 0.2 2.2 0.3M113.6 46.8l2.2 -0.3M120.5 27.5l2.2 -0.6M101 43.4l2.2 0.3M105.4 33.4l2.2 -0.4M104.9 31.9l2.2 -0.3M108.3 34.1l2.2 -0.4M101.4 38.2l2.2 0.2M119.8 47.3l2.2 0.4M99.4 27.1l2.1 -0.4M118.1 36.9l2.2 0.1M113.1 26l2.2 0.3M100.4 38.7l2.2 0M110.6 24.7l2.1 0.5M108.4 32.5l2.2 -0.2M113.9 43.9l2.2 0.4M112.2 17.9l2.2 0M102.6 32.1l2.2 -0.1M121.2 54.5l2 -1M96.4 54.3l2.2 0.6M57.5 38l2.3 0.2 2.2 0.2 2.2 0.2 2.2 0.2 2.2 0.3 2.3 0.2 2.2 0.1 2.2 0.2 2.2 0.2 2.2 0.2 2.3 0.1 2.2 0.1 2.2 0.2 2.2 0.1 2.2 0.1 2.3 0 2.2 0.1 2.2 0.1 2.2 0 2.2 0.1 2.3 0 2.2 0.1 2.2 0 2.2 0 2.2 -0.1 2.2 -0.3M107.1 29.6l2.2 -0.8M58.5 39.2l2.3 0.2 2.3 0.2 2.2 0.2 2.3 0.1 2.3 0.2 2.3 0.1 2.3 0.1 2.2 0 2.3 0.1 2.3 0 2.3 0 2.3 -0.1 2.3 -0.1 2.2 -0.1 2.3 -0.1 2.3 -0.1M58.5 35l2.2 -0.4 2.2 -0.4 2.2 -0.4 2.2 -0.4 2.2 -0.5 2.2 -0.5 2.2 -0.5 2.2 -0.6 2.2 -0.6 2.2 -0.7 2.2 -0.7 2.2 -0.8 2.2 -0.9 2.2 -0.8 2.2 -0.9 2.2 -1 2.2 -0.9 2.2 -1 2.2 -1 2.2 -0.5 2.1 -0.4 2.2 -0.4 2.2 -0.4" stroke="#0070f0" stroke-width="0.75" opacity="0.95"/><path d="M109.5 49.1l2.2 0.3M110.9 32.7l2.2 0.1M104.8 20.8l2.1 0.5M99.4 28.4l2.2 -0.8M117 35.4l2.2 0.1 2.2 0.1M123.8 40.2l2.1 0.3 2.2 0.1M101.9 42.5l2.3 0.4M104.5 40.3l2.2 0 2.2 -0.1M109.9 42.5l2.2 0.1M106.3 35.8l2.2 -0.1M100.1 37.5l2.2 -0.3M118.8 33.8l2.2 -0.2M121 48.3l2.2 -0.2M120.6 47.2l2.2 0M110.7 37l2.2 -0.1M119.3 38.2l2.2 0M106.4 35.3l2.2 -0.3 2.2 -0.2M105.2 33.9l2.2 -0.3M129 27.5l2.2 0 2.2 0.1M97.8 33.8l2.3 -0.3 2.2 -0.4M111.6 31.9l2.1 0.4 2.2 0.3M113.3 38.3l2.2 -0.3M59 37.4l2.2 0.1 2.3 0.1 2.3 0.1 2.2 0.1 2.3 0.1 2.3 0 2.2 0.1 2.3 0.1 2.3 0.1 2.2 0 2.3 0.1 2.3 0 2.2 0.1 2.3 0 2.3 0.1 2.2 0 2.3 0 2.3 0 2.2 0 2.3 0 2.3 0 2.2 0 2.3 -0.1 2.3 0M99.4 36.3l2.2 -0.1M115.5 27.9l2.1 0.4M113 22.5l2.2 0.5 2.1 0.5M110.6 34.5l2.2 0M104.8 43l2.3 0.4M57.7 40.2l2.1 -0.2 2.2 -0.3 2.2 -0.4 2.2 -0.3 2.2 -0.3 2.1 -0.3 2.2 -0.4 2.2 -0.4 2.2 -0.4 2.2 -0.4 2.1 -0.5 2.2 -0.4 2.2 -0.5 2.2 -0.5 2.1 -0.6 2.2 -0.5 2.2 -0.6 2.2 -0.6 2.2 -0.6 2.1 -0.6 2.2 -0.6M116.5 18.1l2.1 -0.3 2.2 0M100.4 32.1l2.2 -0.4 2.1 -0.3M57.7 37.8l2.3 0.1 2.3 0.2 2.3 0.1 2.3 0.1 2.2 0.1 2.3 0.1 2.3 0.1 2.3 0.1 2.3 0.1 2.2 0 2.3 0 2.3 0 2.3 0 2.3 -0.1 2.2 0 2.3 -0.1 2.3 -0.1 2.3 -0.2 2.3 -0.1 2.2 -0.2 2.3 -0.1 2.3 -0.2 2.3 -0.2 2.3 -0.2M58.1 39.4l2.2 -0.3 2.2 -0.3 2.2 -0.3 2.2 -0.3 2.2 -0.3 2.2 -0.4 2.2 -0.4 2.2 -0.5 2.2 -0.5 2.2 -0.5 2.2 -0.6 2.2 -0.6 2.2 -0.7 2.2 -0.7 2.2 -0.8 2.2 -0.8 2.2 -0.8 2.2 -0.8M118.2 28.7l2.1 0.5M100.1 34.4l2.2 0.1M114.5 34.8l2.2 -0.1M122.2 36.5l2.2 -0.1M103.7 35.9l2.2 0M114.3 53.8l2.2 0.3M105.7 42.4l2.2 0.2M102.6 24.8l2.2 -0.3 2.1 -0.4M113.3 29.2l2.2 -0.2M108 31.6l2.2 -0.2 2.3 -0.2M101.7 30l2.2 -0.4M111.5 33.9l2.3 0.1M129.5 27.8l2.2 0.3 2.2 0.2M119.3 31.1l2.2 0M57.4 40.7l2 -1.1 1.9 -1.1 1.9 -1.1 2 -1.1 1.9 -1.1 1.9 -1.1 2 -1.1 1.9 -1.1 1.9 -1.1 2 -1.1 1.9 -1.1 1.9 -1.1 2 -1.1 1.9 -1.1 1.9 -1.1 2 -1.1 1.9 -1 2 -0.9 2.1 -0.7 2.1 -0.6 2.2 -0.5 2.2 -0.2 2.2 -0.2 2.2 -0.1 2.2 0 2.1 0.3 2.2 0.3 2.1 0.6 2.1 0.7 2.1 0.8 2 0.8M57.6 35l2.2 0 2.2 0 2.3 0 2.2 0.1 2.2 0.1 2.3 0.1 2.2 0.1 2.2 0.2 2.3 0.2 2.2 0.3 2.2 0.3 2.3 0.4 2.2 0.4 2.2 0.5 2.3 0.5 2.2 0.5M114.2 38.3l2.3 -0.1M105.4 33.4l2.1 0.6M56.9 41.4l2.3 0 2.3 0.1 2.2 0 2.3 0 2.3 -0.1 2.2 0 2.3 -0.1 2.3 -0.1 2.2 -0.1 2.3 -0.2 2.2 -0.2 2.3 -0.2 2.3 -0.2 2.2 -0.3 2.3 -0.3 2.3 -0.4 2.2 -0.3 2.3 -0.4 2.3 -0.4M114.1 30.4l2.2 -0.7 2.2 -0.3M57 35.3l2.3 -0.3 2.2 -0.2 2.3 -0.3 2.2 -0.3 2.3 -0.2 2.2 -0.3 2.3 -0.2 2.2 -0.2 2.3 -0.2 2.2 -0.3 2.3 -0.1 2.2 -0.2 2.3 -0.2 2.2 -0.1 2.3 -0.2 2.2 -0.1 2.3 -0.1 2.2 -0.1 2.3 -0.1 2.2 0 2.3 -0.1 2.2 0 2.3 -0.1 2.2 0 2.3 0 2.2 0M116.6 26.8l2.2 0.2M118.6 34.2l2 0.7M96.8 33.5l2.3 -0.3 2.2 -0.3M104.3 44.5l2.2 0.7 2.1 0.7M118 21.6l2.2 0.4M92.2 42.5l2.3 0.2M56.8 36.3l2.2 0.6 2.2 0.6 2.2 0.7 2.2 0.6 2.2 0.6 2.2 0.6 2.2 0.5 2.2 0.6 2.2 0.6 2.1 0.6 2.2 0.6 2.2 0.5 2.2 0.6 2.2 0.5 2.2 0.6 2.2 0.5 2.2 0.6 2.2 0.5 2.2 0.5 2.2 0.6 2.1 0.5 2.2 0.4 2.2 0.2 2.2 0M107.9 26.1l2.2 0.3M56.7 39.8l2 -1.1 2.1 -1.1 2.1 -1.1 2.1 -1 2.1 -1.1 2.1 -1 2.1 -1 2.1 -1 2 -1 2.1 -1 2.1 -1 2.1 -0.9 2.1 -1 2.1 -0.9 2.1 -1 2 -0.9 2.1 -0.9 2 -0.7 2.2 -0.6 2.2 -0.2 2.1 0.1 2.2 0.4 2.1 0.6 2.2 0.5 2.1 0.7 2 0.7 2.2 0.7M137.4 25.1l2.2 0M104.5 34.4l2.2 -0.1 2.2 -0.1M117.6 30.9l2.2 -0.3M106.6 44l2.2 0.1M102.6 44.2l2.2 0.3 2.2 0.3M109.5 35.3l2.3 -0.1 2.2 -0.1M104 49.2l2.1 0.2 2.2 -0.1M59.4 38.4l2.3 0.2 2.3 0.2 2.4 0.1 2.3 0.1 2.3 0.1 2.3 -0.1 2.3 0 2.3 -0.2 2.3 -0.2 2.4 -0.3 2.3 -0.4 2.3 -0.4 2.3 -0.5 2.3 -0.5 2.3 -0.5 2.4 -0.6 2.1 -0.1 2.2 0M56.8 41l2.2 -0.4 2.2 -0.4 2.2 -0.4 2.3 -0.4 2.2 -0.4 2.2 -0.4 2.3 -0.4 2.2 -0.4 2.2 -0.3 2.3 -0.3 2.2 -0.4 2.2 -0.2 2.3 -0.3 2.2 -0.3 2.2 -0.2 2.2 -0.2 2.3 -0.2M122.3 37.1l2.2 -0.4M122.5 29.5l2.2 -0.4M58 34.6l2.3 0.1 2.2 0.2 2.3 0.1 2.2 0 2.3 0.1 2.3 -0.1 2.2 -0.1 2.3 -0.2 2.2 -0.2 2.3 -0.3 2.3 -0.4 2.2 -0.5 2.3 -0.5 2.2 -0.5 2.3 -0.6 2.2 -0.5 2.2 -0.2M122.3 54.5l2.2 0.2M106 33.8l2.2 -0.2M57.4 41.4l2.1 -0.9 2.1 -0.8 2.1 -0.8 2 -0.9 2.1 -0.8 2.1 -0.8 2.1 -0.8 2.1 -0.8 2.1 -0.7 2.1 -0.8 2.1 -0.7 2.1 -0.7 2.1 -0.7 2.1 -0.6 2.1 -0.7 2.1 -0.6 2.1 -0.6 2.1 -0.6 2.1 -0.6 2.1 -0.6 2.1 -0.6 2.1 -0.6 2.2 -0.4 2.1 -0.2M107.3 37.3l2.2 0.1M112.9 48.2l2.2 0.6M117.4 42.6l2.2 -0.3M108.1 38l2.3 0.3M111.2 40.8l2.2 -0.4 2.1 -0.5M57.8 35.4l2.2 0 2.2 0 2.2 0 2.2 0 2.2 0.1 2.2 0 2.2 0 2.2 0.1 2.2 0.1 2.2 0 2.2 0.1 2.2 0.1 2.2 0.2 2.2 0.1 2.2 0.1 2.2 0.2 2.2 0.2 2.2 0.1 2.2 0.2 2.2 0.2 2.2 0.3 2.2 0.2 2.2 0.2 2.2 0.3M99.1 35.6l2.2 -0.2M115.8 46.5l2.2 -0.3M57.7 34.6l2.3 0.2 2.3 0.2 2.2 0.1 2.3 0.2 2.2 0.2 2.3 0.3 2.2 0.3 2.3 0.2 2.2 0.4 2.3 0.3 2.2 0.4 2.3 0.5 2.2 0.4 2.3 0.5 2.2 0.5 2.3 0.6 2.3 0.5 2.2 0.6M122.7 26.9l2.1 -0.3 2.2 0M103.2 43.7l2.2 0.3M107.6 33l2.2 -0.5M114.9 32.8l2.2 -0.3M102.4 30.4l2.2 -0.3M107.1 31.6l2.1 -0.2 2.2 -0.2M110.5 33.7l2.2 -0.5M103.6 38.4l2.3 0.3 2.2 0.3M122 47.7l2.1 0.4 2.2 0.2M58.8 38l2.3 -0.5 2.3 -0.4 2.2 -0.4 2.3 -0.5 2.3 -0.3 2.3 -0.3 2.3 -0.3 2.3 -0.2 2.2 -0.2 2.3 -0.1 2.3 -0.1 2.3 0 2.3 0.1 2.3 0.1 2.2 0.1 2.3 0.2 2.3 0.1 2.3 0.2 2.2 -0.1 2.2 0 2.2 0.1 2.2 0.1 2.2 0.1M101.5 26.7l2.2 -0.3 2.2 -0.4M120.3 37l2.2 0.2M115.1 49.8l2.2 0.4M115.3 26.3l2.2 0.4 2.1 0.4M107.4 44l2.2 0.2M91.8 51.2l2.1 0.7 2.1 0.6M94.2 24.5l2.2 -0.3 2.1 -0.3M102.6 38.7l2.2 0.1 2.2 0M112.7 25.2l2.2 0.4M110.6 32.3l2.2 -0.1M116.1 44.3l2.3 0.4M114.4 17.9l2.2 0.1 2.2 0.2M106.6 34.1l2.3 0M104.8 32l2.2 0M125.1 52.3l1.9 -1.1M122.7 31.6l2.2 0M98.6 54.9l2.1 0.6M57.4 34.9l2.2 -0.5 2.3 -0.4 2.3 -0.4 2.2 -0.4 2.3 -0.4 2.2 -0.4 2.3 -0.3 2.3 -0.4 2.2 -0.3 2.3 -0.3 2.2 -0.3 2.3 -0.2 2.3 -0.3 2.2 -0.2 2.3 -0.2 2.2 -0.3 2.3 -0.2 2.2 -0.3 2.1 -0.3 2.2 -0.3 2.2 -0.2M115.2 40.6l2.2 -0.3 2.1 -0.5M58.8 40.7l2.1 -0.7 2.1 -0.7 2.2 -0.7 2.1 -0.6 2.1 -0.7 2.1 -0.7 2.1 -0.7 2.1 -0.7 2.1 -0.7 2.1 -0.6 2.1 -0.7 2.1 -0.7 2.1 -0.7 2.1 -0.8 2.2 -0.7 2.1 -0.7 2.1 -0.7 2.1 -0.5 2.2 -0.3 2.2 -0.2 2.2 0 2.2 0.1 2.2 0.3 2.1 0.3 2.2 0.4M111.5 28.4l2.2 -0.3M95 39.9l2.3 -0.2 2.3 -0.2M109 20.3l2.1 -0.4 2.2 -0.4 2.2 -0.4" stroke="#0080ff" stroke-width="0.75" opacity="0.95"/><path d="M111.7 49.4l2.2 0.3M113.1 32.8l2.2 0.3M106.9 21.3l2.2 0.5 2.1 0.7M101.6 27.6l2.1 -0.9M115.8 53.8l2.1 0.6M121.4 35.6l2.2 0.1M104.2 42.9l2.2 0.3M108.9 40.2l2.2 0.1M112.1 42.6l2.2 0M108.5 35.7l2.2 -0.2M102.3 37.2l2.2 -0.3M121 33.6l2.2 -0.4M123.2 48.1l2.2 -0.3M122.8 47.2l2.2 -0.2M112.9 36.9l2.1 -0.2M121.5 38.2l2.2 0.1M110.8 34.8l2.3 -0.3M107.4 33.6l2.2 -0.3M133.4 27.6l2.2 -0.1M102.3 33.1l2.3 -0.4M115.9 32.6l2.2 0.2M115.5 38l2.1 -0.4M113.4 38.4l2.2 0 2.3 0M101.6 36.2l2.2 -0.2M117.6 28.3l2.2 0.3M117.3 23.5l2.2 0.6M112.8 34.5l2.2 -0.1 2.2 -0.2M107.1 43.4l2.2 0.4M103.4 30.8l2.2 -0.7M120.8 17.8l2.2 0.2 2.2 0.5M104.7 31.4l2.2 -0.1M112.5 37.3l2.2 -0.2M97.7 29.8l2.2 -0.9M120.3 29.2l2.2 0.5M116.7 34.7l2.2 -0.1M105.9 35.9l2.2 0M116.5 54.1l2.2 -0.2M107.9 42.6l2.2 0.2 2.1 0.4M106.9 24.1l2.2 -0.3M115.5 29l2.2 -0.2 2.2 -0.2M106 26.5l2.2 -0.1M112.5 31.2l2.2 -0.2M103.9 29.6l2.2 -0.2M113.8 34l2.2 0M121.5 31.1l2.2 0M120.1 22.4l2.1 0.7M116.5 38.2l2.3 -0.2M107.5 34l2.1 0.5M100 38.2l2.2 -0.4M118.5 29.4l2.2 -0.2M115.5 31.4l2.3 0M118.8 27l2.2 0.2M120.6 34.9l2.2 0.6M101.3 32.9l2.3 -0.3M108.6 45.9l2.2 0.6M94.5 42.7l2.2 0.3M109.4 48.9l2.2 0 2.2 -0.1M110.1 26.4l2.2 0.4M108.9 34.2l2.2 0.2M119.8 30.6l2.1 -0.3M108.8 44.1l2.2 0.1 2.2 0M107 44.8l2.2 0.4M114 35.1l2.2 -0.1M108.3 49.3l2.2 -0.3M100.8 35.3l2.2 0.1 2.2 0.3M94.7 35.4l2.2 -0.2 2.2 -0.1M124.7 29.1l2.2 -0.3 2.2 -0.3M96.3 31l2.2 -0.1M124.5 54.7l2.2 0.3M108.2 33.6l2.2 -0.2 2.2 -0.1M107.8 25.1l2.2 -0.1M109.5 37.4l2.2 0M115.1 48.8l2.1 0.5 2.2 0.4M119.6 42.3l2.1 -0.3M110.4 38.3l2.2 0.3M110.6 38.2l2.2 0.2M118 46.2l2.2 -0.3M98.3 41l2.3 0.5M127 26.6l2.2 0.1M105.4 44l2.2 0.2M109.8 32.5l2.3 -0.4M104.6 30.1l2.2 -0.2M111.4 31.2l2.2 0M112.7 33.2l2.2 -0.4M108.1 39l2.2 0.2M126.3 48.3l2.2 0.2M110.9 35.7l2.2 -0.1M105.9 26l2.1 -0.4M122.5 37.2l2.2 0M117.3 50.2l2.1 0.5 2.2 0.4M119.6 27.1l2.2 0.3M109.6 44.2l2.2 0.1M96 52.5l2.2 0.4M98.5 23.9l2.2 -0.2M107 38.8l2.2 0M114.9 25.6l2.2 0.3M112.8 32.2l2.2 -0.2M118.4 44.7l2.2 0.2M118.8 18.2l2.2 0.3 2.1 0.4M108.9 34.1l2.2 0.1 2.2 0M107 32l2.2 -0.1M127 51.2l1.8 -1.2 1.9 -1.1M124.9 31.6l2.2 -0.1M100.7 55.5l2.2 0.4M104.5 28.3l2.2 0M119.5 39.8l2.2 -0.5M113.7 28.1l2.2 -0.1M99.6 39.5l2.2 -0.2M115.5 19.1l2.1 -0.3 2.2 -0.3" stroke="#0090ff" stroke-width="0.75" opacity="0.95"/><path d="M113.9 49.7l2.2 0.1M115.3 33.1l2.1 0.5 2.2 0.4M111.2 22.5l2.1 0.6 2.1 0.6M103.7 26.7l2.1 -0.9M117.9 54.4l2.2 0.4M123.6 35.7l2.2 0M128.1 40.6l2.2 0M106.4 43.2l2.3 0.4M111.1 40.3l2.2 0.1 2.2 0.1M114.3 42.6l2.2 0M110.7 35.5l2.2 -0.1 2.2 -0.1M104.5 36.9l2.2 -0.3M123.2 33.2l2.1 -0.3M125 47l2.2 -0.3 2.1 -0.5M115 36.7l2.2 -0.2M123.7 38.3l2.2 0M113.1 34.5l2.2 -0.2 2.2 -0.2M109.6 33.3l2.2 -0.4M135.6 27.5l2.1 -0.3 2.2 -0.4M104.6 32.7l2.3 -0.3M118.1 32.8l2.2 0.3M117.6 37.6l2.1 -0.7M117.9 38.4l2.3 -0.1M103.8 36l2.2 -0.2M119.8 28.6l2.2 0 2.1 -0.4M119.5 24.1l2.1 0.6 2.1 0.7M117.2 34.2l2.2 -0.1M109.3 43.8l2.3 0.4M105.6 30.1l2.2 -0.4M125.2 18.5l2.1 0.6 2 0.9M106.9 31.3l2.2 -0.1 2.2 -0.1M114.7 37.1l2.2 0M99.9 28.9l2.2 -0.8M122.5 29.7l2.1 0.6 2 0.9M102.3 34.5l2.2 0.1M124.4 36.4l2.2 -0.1M108.1 35.9l2.2 0.1M118.7 53.9l2.1 -0.5 2 -0.9M112.2 43.2l2.2 0.5M119.9 28.6l2.2 -0.1M108.2 26.4l2.2 0.1M114.7 31l2.3 -0.2M106.1 29.4l2.2 -0.2M116 34l2.3 0.1M123.7 31.1l2.2 0.1M122.2 23.1l2.1 0.6 2.1 0.6M93.3 38.7l2.2 0.6M118.8 38l2.2 0M109.6 34.5l2.2 0.5M102.2 37.8l2.3 -0.4M120.7 29.2l2.2 -0.3 2.2 0M121 27.2l2.2 0.2M122.8 35.5l2.1 0.3M103.6 32.6l2.3 -0.3M110.8 46.5l2.1 0.7M113.8 48.8l2.2 -0.3M112.3 26.8l2.1 0.4 2.2 0.3M121.9 30.3l2.2 -0.2 2.2 -0.1M113.2 44.2l2.2 -0.1M109.2 45.2l2.2 0.3 2.2 0.3M116.2 35l2.2 0 2.2 0.3M110.5 49l2.1 -0.7 2 -0.9M105.2 35.7l2.2 0.1M99.1 35.1l2.3 -0.2M124.5 36.7l2.2 -0.2M129.1 28.5l2.2 -0.1M98.5 30.9l2.2 0M126.7 55l2.2 0.2M112.6 33.3l2.2 -0.2M110 25l2.2 -0.2M111.7 37.4l2.2 0.1M119.4 49.7l2.1 0.4 2.2 0.3M121.7 42l2.2 0M112.6 38.6l2.2 0.3M115.5 39.9l2.1 -0.5M112.8 38.4l2.2 0.2 2.2 0.3M101.3 35.4l2.2 -0.2M120.2 45.9l2.2 -0.1 2.2 -0.2M100.6 41.5l2.1 0.4M129.2 26.7l2.2 0.3M107.6 44.2l2.1 0.3M112.1 32.1l2.2 -0.5M117.1 32.5l2.2 -0.2M106.8 29.9l2.2 -0.1M113.6 31.2l2.2 0.2M114.9 32.8l2.3 -0.4M110.3 39.2l2.3 0.3 2.2 0.3M128.5 48.5l2.2 0 2.2 0.1M113.1 35.6l2.2 -0.1M108 25.6l2.2 -0.3M124.7 37.2l2.2 -0.3M121.6 51.1l2.2 0.2 2.2 0.1M111.8 44.3l2.2 0.2M98.2 52.9l2.2 0.2M100.7 23.7l2.2 -0.1M109.2 38.8l2.2 0M117.1 25.9l2.2 0.4M115 32l2.2 -0.2M120.6 44.9l2.2 0.2M123.1 18.9l2.2 0.5 2 0.8M113.3 34.2l2.2 0.1M109.2 31.9l2.2 -0.2M130.7 48.9l2 -0.9 2 -0.9M127.1 31.5l2.2 -0.1M102.9 55.9l2.1 0.5M121.7 39.3l2.1 -0.6 2.1 -0.4M112.1 29l2.1 0.4M115.9 28l2.2 0.2M101.8 39.3l2.3 -0.2 2.2 0M119.8 18.5l2.2 -0.2 2.2 -0.1" stroke="#00a0ff" stroke-width="0.75" opacity="0.95"/><path d="M116.1 49.8l2.2 0.2M119.6 34l2.2 0.4M115.4 23.7l2.2 0.4M105.8 25.8l2.1 -0.5M120.1 54.8l2.2 0.4M125.8 35.7l2.2 -0.2M130.3 40.6l2.2 -0.1M108.7 43.6l2.3 0.4M115.5 40.5l2.2 0M115.1 35.3l2.3 -0.2M106.7 36.6l2.2 -0.4M125.3 32.9l2.2 -0.1M125.4 47.8l2.1 -0.5M129.3 46.2l2.2 -0.3M117.2 36.5l2.2 -0.4M125.9 38.3l2.2 0.3M117.5 34.1l2.2 -0.3M111.8 32.9l2.2 -0.3 2.2 -0.2M139.9 26.8l2.1 -0.6M106.9 32.4l2.2 -0.5 2.3 -0.4M120.3 33.1l2.2 0.1M120.2 38.3l2.2 -0.1 2.1 -0.3M106 35.8l2.1 -0.4M124.1 28.2l2.1 -0.8M123.7 25.4l2 0.7M119.4 34.1l2.2 -0.2M107.8 29.7l2.1 -0.5 2.1 -0.5M129.3 20l1.9 1.1 1.8 1.2M111.3 31.1l2.2 0.1M116.9 37.1l2.2 0M102.1 28.1l2.2 -0.5M126.6 31.2l2 0.9M104.5 34.6l2.2 0.1M118.9 34.6l2.3 -0.1M126.6 36.3l2.2 -0.1M110.3 36l2.2 0.1M114.4 43.7l2.1 0.4M122.1 28.5l2.2 0M110.4 26.5l2.2 0M117 30.8l2.2 -0.2M108.3 29.2l2.2 -0.2M118.3 34.1l2.2 -0.1M126.4 24.3l2.2 0.5M95.5 39.3l2.3 0.6M121 38l2.2 0M111.8 35l2.1 0.6M104.5 37.4l2.2 -0.2M125.1 28.9l2.2 -0.1M117.8 31.4l2.2 -0.1M123.2 27.4l2.2 -0.1M124.9 35.8l2.2 0.2M105.9 32.3l2.2 -0.3M112.9 47.2l2.2 0.7M96.7 43l2.3 0.2M116 48.5l2.2 -0.3 2.1 -0.4M116.6 27.5l2.2 0.1M126.3 30l2.2 -0.1M115.4 44.1l2.2 -0.1M113.6 45.8l2.2 0.4M120.6 35.3l2.2 0.3M114.6 47.4l2 -1 2 -0.9M107.4 35.8l2.2 0.3M101.4 34.9l2.2 -0.1 2.2 -0.1M131.3 28.4l2.1 0.3M100.7 30.9l2.2 0M128.9 55.2l2.2 0.3M114.8 33.1l2.2 -0.3 2.1 -0.3M113.9 37.5l2.1 0.2M123.7 50.4l2.2 0.4M114.8 38.9l2.2 0.3M117.6 39.4l2.1 -0.8M117.2 38.9l2.2 0.1M103.5 35.2l2.2 -0.2M124.6 45.6l2.1 -0.3M102.7 41.9l2.2 0.4M131.4 27l2.2 0.4M109.7 44.5l2.2 0.2M114.3 31.6l2.2 -0.4M119.3 32.3l2.2 -0.1M115.8 31.4l2.2 0.4M117.2 32.4l2.1 -0.3M114.8 39.8l2.2 0.3M132.9 48.6l2.2 0M115.3 35.5l2.1 -0.3M110.2 25.3l2.2 -0.1M126 51.4l2.2 -0.1M114 44.5l2.2 0.2M100.4 53.1l2.2 0.1M102.9 23.6l2.2 -0.1M111.4 38.8l2.2 0M119.3 26.3l2.1 0.3M117.2 31.8l2.2 -0.2M122.8 45.1l2.1 0.3M127.3 20.2l2.1 0.7M115.5 34.3l2.2 -0.2M111.4 31.7l2.2 -0.2M134.7 47.1l2.1 -0.9M129.3 31.4l2.2 0M105 56.4l2.2 0.3M125.9 38.3l2.2 -0.2M114.2 29.4l2.2 0.5M118.1 28.2l2.1 0.3 2.1 0.6M106.3 39.1l2.2 -0.1M124.2 18.2l2.2 0.1 2.2 0.1" stroke="#00b0ff" stroke-width="0.75" opacity="0.95"/><path d="M118.3 50l2.2 0M121.8 34.4l2.1 0.3M117.6 24.1l2.1 0.5 2.2 0.3M107.9 25.3l2.2 -0.3M122.3 55.2l2.1 0.3M128 35.5l2.1 -0.6 2.1 -0.7M132.5 40.5l2.2 -0.5M111 44l2.2 0.4M117.7 40.5l2.2 -0.2M116.5 42.6l2.2 0M117.4 35.1l2.2 0.1 2.1 0.1M108.9 36.2l2.2 -0.3M127.5 32.8l2.2 0.1M127.5 47.3l2.2 -0.6M131.5 45.9l2.2 -0.4M119.4 36.1l2.2 -0.5M128.1 38.6l2.1 0.6M119.7 33.8l2.2 -0.2 2.2 -0.2M116.2 32.4l2.2 -0.5M142 26.2l2.1 -0.7 2.1 -0.5M111.4 31.5l2.3 -0.4M122.5 33.2l2.2 0.2M124.5 37.9l2.2 -0.3M108.1 35.4l2.2 -0.2M126.2 27.4l2.1 -0.8M125.7 26.1l2.1 0.8M121.6 33.9l2.2 0 2.2 -0.1M111.6 44.2l2.1 0.5M112 28.7l2.2 -0.3M113.5 31.2l2.2 0.3 2.2 0.4M119.1 37.1l2.2 -0.1M104.3 27.6l2.1 -0.5M128.6 32.1l2 0.9M106.7 34.7l2.2 0.3M121.2 34.5l2.2 -0.1M128.8 36.2l2.2 -0.1M112.5 36.1l2.2 0M116.5 44.1l2.2 0.4M124.3 28.5l2.2 -0.1 2.2 -0.2M112.6 26.5l2.1 0.2M119.2 30.6l2.2 -0.1 2.2 -0.4M110.5 29l2.1 -0.3M120.5 34l2.2 0M125.9 31.2l2.2 0M97.8 39.9l2.2 0.6M123.2 38l2.2 -0.1 2.2 -0.1M113.9 35.6l2.2 0.4M106.7 37.2l2.1 -0.3 2.2 -0.4M127.3 28.8l2.2 0.1 2.2 0.1M120 31.3l2.2 -0.2M125.4 27.3l2.2 -0.3 2.1 -0.5M127.1 36l2.2 0M108.1 32l2.3 -0.3 2.2 -0.2M115.1 47.9l2.2 0.7M99 43.2l2.2 0.3M120.3 47.8l2.2 -0.4M128.5 29.9l2.2 0M117.6 44l2.2 -0.3M115.8 46.2l2.3 0.3 2.2 0.3M122.8 35.6l2.1 0.4 2.2 0.5M118.6 45.5l2 -0.8 2.2 -0.6M109.6 36.1l2.2 0.2 2.2 0.1M105.8 34.7l2.3 -0.1M133.4 28.7l2.2 0.4M102.9 30.9l2.2 0M131.1 55.5l2.1 0.5 2.2 0.3M119.1 32.5l2.2 -0.4M112.2 24.8l2.2 -0.1M116 37.7l2.2 0.5 2.1 0.6M125.9 50.8l2.2 0.1 2.2 0.2M119.4 39l2.1 -0.1 2.2 -0.5M105.7 35l2.2 -0.2M126.7 45.3l2.2 -0.1M104.9 42.3l2.2 0.4M133.6 27.4l2.1 0.5 2.1 0.6M116.5 31.2l2.3 -0.5M121.5 32.2l2.2 0.2M109 29.8l2.2 0M118 31.8l2.1 0.4M117 40.1l2.2 0.2M135.1 48.6l2.1 -0.5 2 -1M112.4 25.2l2.2 0.1M126.9 36.9l2.1 -0.7M128.2 51.3l2.2 -0.2 2.2 -0.3M116.2 44.7l2.2 0.1M102.6 53.2l2.2 0M105.1 23.5l2.2 0 2.2 0.2M113.6 38.8l2.2 0M121.4 26.6l2.2 0.2M124.9 45.4l2.2 0M129.4 20.9l2 0.9 2 1M117.7 34.1l2.2 -0.2 2.2 -0.1M113.6 31.5l2.2 -0.1M136.8 46.2l2.1 -0.6 2.2 -0.2M131.5 31.4l2.1 -0.2M107.2 56.7l2.2 0.1M128.1 38.1l2.2 -0.1 2.2 -0.1M116.4 29.9l2.1 0.6M122.3 29.1l2.1 0.7M108.5 39l2.2 -0.2 2.2 -0.2M128.6 18.4l2.2 0.3 2.1 0.5" stroke="#00c0ff" stroke-width="0.75" opacity="0.95"/><path d="M120.5 50l2.2 0.2M123.9 34.7l2.2 0.3M121.9 24.9l2.2 0.2M124.4 55.5l2.2 0M132.2 34.2l2.2 -0.4M134.7 40l2.1 -0.7M119.9 40.3l2.2 -0.1M118.7 42.6l2.3 0M121.7 35.3l2.2 0.3M111.1 35.9l2.2 -0.4M129.7 32.9l2.2 0.4M129.7 46.7l2.1 -0.5M133.7 45.5l2.2 -0.2 2.1 -0.5M121.6 35.6l2.1 -0.5M130.2 39.2l2 0.8M124.1 33.4l2.2 -0.3M118.4 31.9l2.1 -0.6M146.2 25l2.2 -0.6M113.7 31.1l2.3 -0.4M124.7 33.4l2.2 0M126.7 37.6l2.2 -0.4 2.1 -0.5M128.3 26.6l2.1 -0.6M126 33.8l2.2 -0.3M113.7 44.7l2.1 0.6M117.9 31.9l2.1 0.7M121.3 37l2.2 -0.2M130.6 33l2 1M108.9 35l2.1 0.2M123.4 34.4l2.2 -0.4M131 36.1l2.2 0M114.7 36.1l2.2 -0.1M118.7 44.5l2.2 0.3M128.7 28.2l2.2 -0.2M114.7 26.7l2.2 0M123.6 30.1l2.1 -0.7M112.6 28.7l2.2 -0.3M122.7 34l2.2 0.1M128.1 31.2l2.2 0.1M100 40.5l2.2 0.6M127.6 37.8l2.2 0M116.1 36l2.2 0.2M111 36.5l2.2 -0.3M131.7 29l2.1 0.3M122.2 31.1l2.1 -0.5M129.7 26.5l2.2 -0.5M129.3 36l2.2 -0.2M112.6 31.5l2.3 -0.3M117.3 48.6l2.1 0.7 2.2 0.7M101.2 43.5l2.3 0.2M122.5 47.4l2.2 -0.4 2.1 -0.5M130.7 29.9l2.2 -0.3M119.8 43.7l2.2 -0.3 2.2 -0.2M120.3 46.8l2.2 0.4M127.1 36.5l2.1 0.6M122.8 44.1l2.1 -0.2M114 36.4l2.2 -0.1M108.1 34.6l2.2 0 2.2 -0.1M135.6 29.1l2.2 0.3M105.1 30.9l2.2 0.1M135.4 56.3l2.2 0.2M121.3 32.1l2.2 -0.2 2.2 -0.1M114.4 24.7l2.2 -0.2M130.3 51.1l2.2 0.2M117 39.2l2.2 0M123.7 38.4l2.1 -0.8 2 -0.9M128.9 45.2l2.2 0.1M107.1 42.7l2.1 0.2M137.8 28.5l2.1 0.8M111.9 44.7l2.2 0.2M118.8 30.7l2.2 -0.5M123.7 32.4l2.2 0.4M111.2 29.8l2.2 -0.1M120.1 32.2l2.2 0.4 2.2 0.4M119.3 32.1l2.2 -0.2M119.2 40.3l2.2 0.3 2.2 0.4M139.2 47.1l1.7 -1.4 1.4 -1.7M114.6 25.3l2.2 0.3M129 36.2l2 -0.9M132.6 50.8l2.2 -0.2M118.4 44.8l2.3 0.2M104.8 53.2l2.2 -0.1M109.5 23.7l2.2 0.1M115.8 38.8l2.3 0M119.4 31.6l2.1 -0.3M127.1 45.4l2.2 -0.1M133.4 22.8l1.8 1.2 1.8 1.3M122.1 33.8l2.2 0.1M115.8 31.4l2.1 -0.2M141.1 45.4l2.2 0.2 2.1 0.3M133.6 31.2l2.2 -0.2M109.4 56.8l2.2 0M132.5 37.9l2.2 -0.1M118.5 30.5l2.1 0.6M124.4 29.8l2.1 0.8M112.9 38.6l2.2 -0.2M132.9 19.2l2.1 0.7 2.1 0.6" stroke="#00d0ff" stroke-width="0.75" opacity="0.95"/><path d="M122.7 50.2l2.1 0.3M126.1 35l2.2 0.2 2.2 0.2M124.1 25.1l2.2 0.3 2.2 0.1M110.1 25l2.2 0.1M126.6 55.5l2.2 -0.2M134.4 33.8l2.2 -0.2M136.8 39.3l2.1 -0.4M113.2 44.4l2.3 0.3M121 42.6l2.2 0M123.9 35.6l2.2 0.2 2.2 0.2M113.3 35.5l2.2 -0.3M131.9 33.3l2.1 0.5M131.8 46.2l2.1 -0.8M138 44.8l2.1 -0.8M123.7 35.1l2.1 -0.5M126.3 33.1l2.2 0 2.2 0.2M120.5 31.3l2.1 -0.6M148.4 24.4l2 -0.9 1.8 -1.2M116 30.7l2.1 -0.4 2.2 -0.1M126.9 33.4l2.1 -0.3 2.2 -0.6M131 36.7l2.2 -0.5M110.3 35.2l2.2 -0.1M130.4 26l2.2 -0.2M115.8 45.3l2.1 0.6M120 32.6l2 0.8 2 1M123.5 36.8l2.2 -0.1M106.4 27.1l2.1 -0.5M132.6 34l1.8 1.1M111 35.2l2.2 0.3M125.6 34l2.1 -0.4M133.2 36.1l2.2 0M116.9 36l2.2 -0.1M120.9 44.8l2.2 0.2 2.2 0M130.9 28l2.1 -0.4 2.1 -0.7M116.9 26.7l2.2 0.1M125.7 29.4l2 -0.9M124.9 34.1l2.2 0.2M130.3 31.3l2.2 -0.1M102.2 41.1l2.2 0.1M129.8 37.8l2.1 0.2M118.3 36.2l2.2 0.1M113.2 36.2l2.2 -0.3M133.8 29.3l2.2 0.1 2.2 0.1M124.3 30.6l2.1 -0.7M131.9 26l2.1 -0.4M131.5 35.8l2.2 -0.5M114.9 31.2l2.2 -0.3M121.6 50l2.1 0.5M103.5 43.7l2.2 0.2M126.8 46.5l2.2 -0.4M132.9 29.6l2.2 -0.4M124.2 43.2l2.2 0.1M122.5 47.2l2.2 0.2 2.2 0.2M129.2 37.1l2.1 0.6 2.2 0.5M124.9 43.9l2.2 0 2.2 0.3M116.2 36.3l2.2 -0.3M112.5 34.5l2.2 0M137.8 29.4l2.1 0.4 2.2 0.5M107.3 31l2.2 -0.2M137.6 56.5l2.2 -0.1M125.7 31.8l2.2 0.3M116.6 24.5l2.2 -0.2M132.5 51.3l2.2 0 2.1 -0.4M119.2 39.2l2.2 0.2M127.8 36.7l2 -0.8M107.9 34.8l2.3 -0.2M131.1 45.3l2.2 0.4M109.2 42.9l2.2 0M139.9 29.3l2 0.9 2.1 0.8M114.1 44.9l2.2 0.3M121 30.2l2.1 -0.4M125.9 32.8l2.1 0.4M113.4 29.7l2.2 -0.1M124.5 33l2.1 0.6M121.5 31.9l2.2 -0.4M123.6 41l2.2 0M142.3 44l1.4 -1.7 1.4 -1.7M131 35.3l2 -0.8M134.8 50.6l2.2 0.2 2.1 0.6M120.7 45l2.2 0.1M111.7 23.8l2.2 0.1M118.1 38.8l2.2 0M123.6 26.8l2.2 0.2M121.5 31.3l2.2 -0.5M129.3 45.3l2.2 -0.2M137 25.3l1.8 1.3 1.8 1.2M124.3 33.9l2.2 0.4 2.1 0.6M117.9 31.2l2.2 0.1M145.4 45.9l2.1 0.6M135.8 31l2.2 -0.4M111.6 56.8l2.2 -0.1M134.7 37.8l2.2 -0.1 2.2 -0.1M126.5 30.6l2.1 0.6 2.2 0.4M115.1 38.4l2.2 -0.3 2.2 -0.1M137.1 20.5l2.1 0.8 2 0.8" stroke="#00e0ff" stroke-width="0.75" opacity="0.95"/><path d="M124.8 50.5l2.2 0.6M132.7 35.4l2.2 -0.1M130.6 25.8l2.2 0.3 2.2 0.4M114.5 25.3l2.2 0.2M128.8 55.3l2.2 -0.4M141.1 38.6l2.2 -0.5M117.7 45l2.1 0.3M125.4 42.7l2.2 -0.1M130.5 36.4l2.1 0.4M117.6 34.8l2.2 -0.3M136.1 34.6l2 0.9M142.1 43.2l2.2 -0.5M128 34.4l2.2 -0.1M132.9 33.5l2.2 0.1 2.2 0M126.9 29.6l2.2 -0.3M155.5 19.4l1.9 -1.2M122.5 30l2.2 -0.3M133.3 31.9l2 -0.7M137.3 34.9l2 -1.1M114.7 34.8l2.2 -0.1M134.7 26l2.2 0.7M120.1 46.5l2.1 0.3M125.9 35.5l1.9 1 2.1 0.8M127.9 36.6l2.2 -0.2M110.6 25.9l2.1 -0.6M138.1 37.6l2 1M115.4 35.8l2.2 0.3M137.3 26.4l2.2 -0.3M119.1 26.8l2.2 -0.1M131.8 27.1l2.2 -0.4M117 28.4l2.2 -0.1M127.1 34.3l2.2 -0.1M106.6 41.3l2.2 -0.1M122.7 36.3l2.1 0.1M117.5 35.5l2.2 -0.4M140.4 29.5l2.2 0.3M126.4 29.9l2.1 -0.7M119.4 30.7l2.2 -0.3M125.8 51.1l2.2 0.4M133.3 46.2l2.2 0.6M137.2 28.6l2.1 -0.5M128.6 43.6l2.1 0.4M129.1 47.8l2.2 0 2.2 0M135.6 38.9l2.1 0.6M131.4 44.8l2 0.9 2 1M117 34.4l2.2 0 2.2 0M144.3 30.5l2.2 -0.2M109.5 30.8l2.2 -0.3M142 56.1l2.2 -0.2M132 33.7l2 0.8M123.6 39.4l2.2 0.1M133.9 34.4l2.2 -0.3M112.4 34.4l2.2 -0.2M135.5 45.9l2.1 0.4M113.6 42.7l2.2 -0.2M118.4 45.4l2.2 0.2M125.3 29.3l2.1 -0.5M115.6 29.6l2.2 0M128.7 34.3l2.1 0.6M125.8 31.1l2.2 -0.5M135.2 33.9l2.1 -0.6M141.1 52.3l2 1 1.9 1.1M125.1 45.1l2.2 0M116.1 24l2.2 0.1M122.5 38.8l2.2 0M128 27.1l2.2 0M125.8 30.4l2.2 -0.5M133.7 44.9l2.2 0M144.6 29.5l2.1 0.6M130.6 35.8l2.1 0.7M122.3 31.6l2.2 0.4M151.4 48.6l2 0.9M140 29.7l1.7 -1.3M116 56.6l2.2 -0.4M141.3 37.5l2.2 0.1M122.7 31.9l2.1 0.6M133 31.8l2.1 -0.1M121.7 37.9l2.2 0.1M145.3 23.8l2 0.8 2.1 0.8" stroke="#00f0f0" stroke-width="0.75" opacity="0.95"/><path d="M127 51.1l2.1 0.6M134.9 35.3l2.2 -0.3M135 26.5l2.1 0.4M116.7 25.5l2.2 0.3M131 54.9l2.1 -0.7M143.3 38.1l2.1 -0.4M119.8 45.3l2.2 0.3M127.6 42.6l2.1 -0.4M132.6 36.8l2.2 0.1M119.8 34.5l2.2 -0.2M138.1 35.5l2 1M135.9 44.7l2 -1M144.3 42.7l2.1 -0.3M130.2 34.3l2.2 0.2M137.3 33.6l2.2 -0.2M129.1 29.3l2.2 0.1M157.4 18.2l1.8 -1.2 1.8 -1M124.7 29.7l2.2 -0.3M135.3 31.2l2.1 -0.7M139.3 33.8l1.9 -1 2.1 -0.8M136.9 26.7l1.9 1M129.9 37.3l2.1 0.6M130.1 36.4l2.2 -0.3M140.1 38.6l2.1 0.6M117.6 36.1l2.2 0.1M129.9 33.3l2.2 -0.4M137.6 35.8l2.1 -0.5M121.3 35.8l2.2 -0.2M139.5 26.1l2.1 -0.1 2.2 -0.1M121.3 26.7l2.2 -0.1M134 26.7l2.2 -0.3M119.2 28.3l2.2 -0.1M129.3 34.2l2.2 -0.2M134.7 31.2l2.2 -0.2M134.1 38.4l2.2 0.5M124.8 36.4l2.2 0M119.7 35.1l2.2 -0.4M142.6 29.8l2.2 0.1M128.5 29.2l2 -0.9M136.2 25.5l2.2 0.1M121.6 30.4l2.2 -0.2M128 51.5l2.2 0.2M108 44.1l2.3 0.2M135.5 46.8l2 0.9M139.3 28.1l2.1 -0.8M130.7 44l2.2 0.2M133.5 47.8l2.2 0.2M137.7 39.5l2.1 0.3 2.2 0M135.4 46.7l1.9 1.1M121.4 34.4l2.3 0M146.5 30.3l2.2 -0.1M111.7 30.5l2.2 -0.2M144.2 55.9l2.1 -0.3M134 34.5l2 1M136.1 34.1l2.2 0M137.6 46.3l2.2 0.4M115.8 42.5l2.2 -0.6M127.4 28.8l2.2 -0.4M130.2 33.7l2.1 0.4M117.8 29.6l2.2 0M130.8 34.9l2.1 0.5M128 30.6l2.1 -0.6M137.3 33.3l2.2 -0.1M145 54.4l1.9 1.1M127.3 45.1l2.2 0M118.3 24.1l2.2 0.1M124.7 38.8l2.2 -0.1M130.2 27.1l2.2 -0.1M135.9 44.9l2.2 -0.2M146.7 30.1l2.2 0.4 2.2 0.4M132.7 36.5l2.1 0.7 2.1 0.5M153.4 49.5l2 0.9 2 0.9M118.2 56.2l2.1 -0.4M143.5 37.6l2.2 0.1M124.8 32.5l2.2 0.4M135.1 31.7l2.2 -0.5M123.9 38l2.2 0.2M149.4 25.4l2.2 0.3 2.1 0.5" stroke="#00f0e0" stroke-width="0.75" opacity="0.95"/><path d="M129.1 51.7l2.1 0.6M137.1 35l2.2 -0.2M137.1 26.9l2.2 0.4 2.2 0.3M118.9 25.8l2.1 0.6M133.1 54.2l2 -0.8M145.4 37.7l2.2 -0.4M134.8 36.9l2.2 -0.2M122 34.3l2.2 0.2M140.1 36.5l1.9 1M137.9 43.7l2 -0.9M146.4 42.4l2.2 -0.3M132.4 34.5l2.2 0.2M139.5 33.4l2.1 -0.3M131.3 29.4l2.1 0.2M161 16l2.1 0.7M126.9 29.4l2.2 -0.3M137.4 30.5l2 -1M143.3 32l2.1 -0.5M138.8 27.7l2 0.9M122.2 46.8l2.2 0M132 37.9l2.2 0.4M132.3 36.1l2.2 -0.2M112.7 25.3l2.2 -0.5M142.2 39.2l2.2 0.2M119.8 36.2l2.2 0.1M132.1 32.9l2.1 -0.5M139.7 35.3l2.1 -0.6M123.5 35.6l2.2 -0.3M136.2 26.4l2.2 -0.4M121.4 28.2l2.2 -0.2M131.5 34l2.1 -0.4M136.9 31l2.2 -0.4M108.8 41.2l2.2 -0.1M136.3 38.9l2.1 0.3M127 36.4l2.2 -0.1M121.9 34.7l2.1 -0.5M144.8 29.9l2.2 0.1 2.2 0.3M130.5 28.3l2 -0.9M138.4 25.6l2.2 0.5M123.8 30.2l2.2 -0.2M110.3 44.3l2.2 0.2M141.4 27.3l2 -0.9M132.9 44.2l2.2 0.2M135.7 48l2.1 0.3M142 39.8l2.2 -0.2M137.3 47.8l1.8 1.2M123.7 34.4l2.2 0M148.7 30.2l2.2 -0.2M113.9 30.3l2.2 -0.3M146.3 55.6l2.2 -0.3M125.8 39.5l2.2 -0.2M138.3 34.1l2.2 0.6 2 0.8M114.6 34.2l2.2 -0.2M139.8 46.7l2.2 0.3M118 41.9l2 -0.7M120.6 45.6l2.2 0.2M129.6 28.4l2.2 -0.3M132.3 34.1l2.2 0.3M132.9 35.4l2.2 -0.1M146.9 55.5l2 0.8 2.2 0.2M129.5 45.1l2.1 0.3M120.5 24.2l2.2 -0.1M126.9 38.7l2.2 -0.1M132.4 27l2.2 -0.2M128 29.9l2.2 -0.2M138.1 44.7l2.2 -0.5M151.1 30.9l2.2 0M136.9 37.7l2.2 0.5M124.5 32l2.1 0.5M120.3 55.8l2.1 -0.6M145.7 37.7l2.2 0.2 2.2 0.1M137.3 31.2l2 -0.8M126.1 38.2l2.1 0.3 2.2 0.5M153.7 26.2l2.2 0.3 2.2 0.2" stroke="#00f0d0" stroke-width="0.75" opacity="0.95"/><path d="M131.2 52.3l2.2 0.3M139.3 34.8l2.2 -0.1M141.5 27.6l2.2 0.1M135.1 53.4l2.1 -0.7M122 45.6l2.2 0.1M129.7 42.2l2.2 -0.5M137 36.7l2.1 -0.9 1.6 -1.4M124.2 34.5l2.2 0.5M142 37.5l2.1 0.8M139.9 42.8l2 -0.9M148.6 42.1l2.2 -0.3 2.1 -0.5M134.6 34.7l2.2 0.4M133.4 29.6l2.2 0.2M163.1 16.7l2 1.1 1.6 1.4M129.1 29.1l2.1 -0.2M139.4 29.5l2 -0.8M145.4 31.5l2.2 -0.2M140.8 28.6l2 1M134.2 38.3l2.2 0.2 2.1 0.4M134.5 35.9l2.2 -0.3M114.9 24.8l2.2 -0.2M144.4 39.4l2.2 -0.2M134.2 32.4l2.2 -0.3M141.8 34.7l2.2 -0.5M125.7 35.3l2.2 -0.2M138.4 26l2.1 -0.5M133.6 33.6l2.1 -0.6M139.1 30.6l2.1 -0.4M111 41.1l2.2 -0.5M138.4 39.2l2.2 0.2M129.2 36.3l2.2 0M124 34.2l2.2 -0.4 2.2 -0.2M149.2 30.3l2.2 0.2M140.6 26.1l2.1 0.6M126 30l2.2 -0.2 2.2 -0.2M143.4 26.4l2 -0.9M135.1 44.4l2.2 0.1M137.8 48.3l2.2 0.4 2.1 0.5M144.2 39.6l2.2 0.1M125.9 34.4l2.2 0.2M150.9 30l2.2 -0.1M116.1 30l2.1 -0.5M128 39.3l2.1 -0.7M142.5 35.5l2 0.9M116.8 34l2.3 -0.3M142 47l2.2 0.1M120 41.2l2.1 -0.8M122.8 45.8l2.2 0.5M131.8 28.1l2.2 0.1M134.5 34.4l2.2 0.3M120 29.6l2.2 0M135.1 35.3l2.2 -0.5M130.1 30l2.2 -0.4M139.5 33.2l2.1 0.4M151.1 56.5l2.2 0M131.6 45.4l2.2 0.5M122.7 24.1l2.2 -0.1M129.1 38.6l2.2 -0.2M130.2 29.7l2.2 0M140.3 44.2l2.1 -0.6M153.3 30.9l2.2 -0.3 2 -0.8M139.1 38.2l2.1 0.4M122.4 55.2l2.1 -0.8M150.1 38l2.2 0.2M127 32.9l2.2 0.3M139.3 30.4l2 -0.9M130.4 39l2.1 0.5M158.1 26.7l2.2 0.1 2.2 -0.2" stroke="#00f0c0" stroke-width="0.75" opacity="0.95"/><path d="M133.4 52.6l2.1 0.4M143.7 34.7l2.2 0M145.9 27.4l2.1 -0.6 1.9 -1.1M123.1 27.1l2 0.8M137.2 52.7l2 -1M126.4 45.6l2.2 0M134.1 41.5l2.1 0.4M143.4 30.9l1.5 -1.6 1.7 -1.5M128.5 35.6l2.1 0.6M146.2 39l2.1 0.3M155.1 40.8l2.2 -0.1M138.8 35.9l2.1 0.8M137.8 29.9l2.2 0.1M168.1 20.9l1.1 1.9 1.2 1.9 1.4 1.7M133.4 28.6l2.2 -0.1 2.2 0M149.8 31.8l1.9 1.1 1.6 1.4M144.7 30.6l2.1 0.8M140.7 39.3l2.2 0.2M138.9 35.7l2.2 0.3M117.1 24.6l2.2 -0.2M146.6 39.2l2.1 -0.4M124.2 36.4l2.2 0M136.4 32.1l2.2 -0.1M142.7 25.2l2.2 -0.3M125.8 27.6l2.2 -0.3M135.7 33l2.1 -0.7M141.2 30.2l2.2 -0.2M115.3 40.2l2.2 -0.3M130.6 33.7l2.1 0.2M153.6 30.7l2.2 0.3M134.6 26.6l2.1 -0.6M144.6 27.8l1.9 1.1M132.6 29.2l2.2 -0.1M114.8 44.7l2.2 0.2M147.5 24.9l2.2 -0.2M139.5 44.8l2.2 0.3 2.1 0.4M144.3 49.8l2.1 0.6M130.2 34.9l2.2 0.2M155.2 29.5l2.2 -0.5M118.2 29.5l2.1 -0.6M130.1 38.6l2 -1M146.5 37.3l2.1 0.7 2.1 0.5M119.1 33.7l2.2 -0.2M146.3 46.6l2.1 -0.9M124.1 39.4l1.9 -1.1M125 46.3l2.1 0.4M136.7 34.7l2.2 0.1M122.2 29.6l2.1 -0.3M139.4 34.1l1.8 -1.2M134.5 29.4l2.2 -0.1M155.5 56.2l2.2 -0.4M135.9 46.5l2.1 0.5M127.1 23.8l2.2 -0.3M133.5 38.2l2.1 -0.4M136.8 26.8l2.2 -0.1M132.4 29.7l2.2 0.3M144.5 43l2.2 -0.5M160.5 26.6l1.1 -1.9M143.4 39.1l2.1 0.4M126.6 53.6l2.1 -0.7M154.5 38.3l2.2 -0.1 2.2 -0.2M145.5 28l2.1 -0.7M134.7 39.7l2.2 0 2.2 -0.2M164.6 26.2l2.2 -0.4 2.2 -0.3" stroke="#00f0a0" stroke-width="0.75" opacity="0.95"/><path d="M135.5 53l2.2 0.3M145.9 34.7l2.2 0.2M149.9 25.7l1.7 -1.4M125.1 27.9l2 1.1M139.2 51.7l1.9 -1.1M146.6 27.8l1.7 -1.3M144.1 41.4l2.1 -0.3M157.3 40.7l2.2 0.2M140 30l2.2 0.3M171.8 26.4l1.6 1.5M153.3 34.3l1.3 1.8M146.8 31.4l2.1 0.7M142.9 39.5l2.2 -0.1M141.1 36l2 0.7M119.3 24.4l2.2 -0.1M148.7 38.8l2.2 -0.3M126.4 36.4l2.2 0.1M146.1 33.7l2.2 -0.2M130.1 35l2.2 0.1M144.9 24.9l2.1 0.2M137.8 32.3l2.1 -0.8M143.4 30l2.2 -0.2M132.7 33.9l2.2 0.2M155.8 31l2.1 0.2M146.5 28.9l2 1M149.7 24.7l2.2 0.2M146.4 50.4l2.1 0.4M157.4 29l1.9 -1M120.3 28.9l2.1 -0.9M132.1 37.6l1.8 -1.2M150.7 38.5l2.2 0.1M148.4 45.7l1.7 -1.3M126 38.3l1.9 -1.1M127.1 46.7l2.2 0.3M136.1 28.6l2 1.1M138.9 34.8l2.2 -0.1M135.6 37.8l2.2 -0.4M134.6 30l2.1 0.6M146.7 42.5l2.1 -0.4M145.5 39.5l2.2 0.4M131.4 33.2l2.1 0.1M147.6 27.3l2 -0.7M169 25.5l2.2 -0.1" stroke="#00f090" stroke-width="0.75" opacity="0.95"/><path d="M137.7 53.3l2.2 0.3M148.1 34.9l2.2 0.2 2.1 0.3M151.6 24.3l1.5 -1.6 1.5 -1.6M127.1 29l1.9 1M141.1 50.6l2 -0.8M128.6 45.6l2.2 0.2M136.2 41.9l2.1 0.8M130.6 36.2l2.2 0.5M148.3 39.3l2.2 -0.1M146.2 41.1l2.2 0.1M159.5 40.9l2.1 0.4M142.2 30.3l2.2 0.2M173.4 27.9l1.9 1.1 2.1 0.8M140 28.7l2.2 0.1M155.6 38.1l0.8 2 1 2 1 1.9M148.9 32.1l2.2 0.2M145.1 39.4l2.1 -0.5 2 -1M143.1 36.7l2.1 0.7M150.9 38.5l2.1 -0.6M128.6 36.5l2.2 0.2M148.3 33.5l2.2 -0.2M132.3 35.1l2.2 0.1M147 25.1l2.2 0.6 2 0.9M139.9 31.5l2 -0.8M145.6 29.8l2.2 0.1M117.5 39.9l2.2 -0.4M134.9 34.1l2.2 0.5M160.1 31.3l2.2 0.2M136.7 26l2.2 -0.4M148.5 29.9l1.9 1M137 29.1l2.1 0.4M151.9 24.9l2.1 0.6M146 45.7l2.2 0.2M150.7 51.1l2.2 0M122.4 28l1.9 -1.1M133.9 36.4l1.6 -1.5M150.1 44.4l1.5 -1.6M127.9 37.2l1.9 -1.1M129.3 47l2.2 0M141.1 34.7l2.2 -0.2M136.7 29.3l2.2 0.1M138 47l2.2 0.4M137.8 37.4l2.2 -0.4M136.7 30.6l2.1 0.7M148.8 42.1l2.2 -0.3M149.9 40l2.2 -0.1M128.7 52.9l2.1 -0.5M161.1 37.7l2.1 -0.2M133.5 33.3l2.2 0.1M149.6 26.6l2.2 -0.5M141.3 39.2l2.2 -0.3M173.4 25.2l2.2 -0.3 2.1 -0.4" stroke="#00e080" stroke-width="0.75" opacity="0.95"/><path d="M139.9 53.6l2.2 0.2M154.6 35.8l2.2 0.5M130.9 31.1l1.9 1.1M143.1 49.8l2.1 -0.9M133 46l2.2 0.3M140.4 43.3l2.2 0.5M134.9 36.9l2.2 -0.1M152.7 38.9l2.1 -0.6M144.9 38.4l2.1 0.8M179.5 30.3l2.2 0.1M161.4 47.3l2 0.7M153.3 32.2l2.1 -0.2M150.8 36.4l1.6 -1.6 1.5 -1.5M147.3 38l2.2 0.2M123.7 24.3l2.1 0.4M155.2 37.4l2.2 -0.2M130.8 36.7l2.2 -0.1M136.7 35.3l2.2 0.1M153.1 27.6l2 1.1M132.2 26.3l2.2 -0.6M147.8 29.9l2.2 0.2M121.8 39.1l2.2 -0.2M139.2 35.3l2.1 0.6M164.5 32l2.1 0.6M141.1 25.6l2.2 0.3M152.5 31.7l2.1 0.5M141.3 29.9l2.1 0.7M121.5 45.2l2.3 0.2M150.4 45.9l2.2 -0.1M155.1 51.1l2.2 -0.4 2.1 -0.7M126.2 25.9l2 -0.9M137.1 33.4l1.7 -1.4M125.7 33.1l2.2 -0.2M154.7 39.6l1.9 -1M131.7 35l1.8 -1.3M131.5 47l2.2 -0.2M143.3 34.5l2.2 -0.3M141 29.9l2.1 0.7M142.4 47.8l2.1 0.4M142.1 36.7l2.2 -0.2M143.4 26.2l2.1 -0.6M138.8 31.3l2.1 0.6M154.3 39.6l2.1 -0.5M132.9 51.8l2.1 -0.5M135.7 33.4l2.2 0.1M145.6 38.4l2.1 -0.7 2 -0.9" stroke="#00e060" stroke-width="0.75" opacity="0.95"/><path d="M108.7 32.9l2.2 -0.2M102.6 20.6l2.2 0.2M97.3 29.3l2.1 -0.9M113.7 53.2l2.1 0.6M104.1 35.9l2.2 -0.1M58.4 39.6l2.2 0 2.2 0 2.2 0 2.2 0 2.2 -0.1 2.2 0 2.2 -0.1 2.2 0 2.2 -0.1 2.2 -0.1 2.1 -0.1 2.2 -0.1 2.2 -0.2 2.2 -0.2 2.2 -0.2 2.2 -0.2 2.2 -0.2 2.2 -0.3 2.2 -0.2M103 34.3l2.2 -0.4M57.7 37l2.3 -0.2 2.2 -0.3 2.3 -0.3 2.2 -0.3 2.3 -0.3 2.3 -0.2 2.2 -0.3 2.3 -0.4 2.3 -0.3 2.2 -0.3 2.3 -0.3 2.3 -0.4 2.2 -0.3 2.3 -0.3 2.2 -0.4 2.3 -0.4 2.3 -0.3 2.2 -0.4 2.2 -0.2 2.2 -0.1 2.2 0 2.2 0.2 2.2 0.3 2.2 0.4M111.1 38.4l2.2 -0.1M97.9 34.4l2.2 0M120 36.5l2.2 0M111 29.3l2.3 -0.1M103.8 26.7l2.2 -0.2M127.4 27.4l2.1 0.4M116.5 33.5l2.1 0.7M58.3 37.3l2.3 0.4 2.3 0.4 2.2 0.4 2.3 0.4 2.2 0.3 2.3 0.4 2.2 0.3 2.3 0.4 2.3 0.3 2.2 0.4 2.3 0.3 2.2 0.3 2.3 0.3 2.2 0.3 2.3 0.3M135.2 25.1l2.2 0M58.8 38.6l2.2 0.2 2.2 0.2 2.2 0.2 2.2 0.3 2.3 0.2 2.2 0.3 2.2 0.3 2.2 0.3 2.2 0.3 2.2 0.3 2.3 0.4 2.2 0.3 2.2 0.4 2.2 0.4 2.2 0.4 2.2 0.2 2.2 0.2 2.2 0.3 2.2 0.3 2.1 0.4 2.2 0.3M120.2 37.4l2.1 -0.3M103.8 34l2.2 -0.2M110.8 47.8l2.1 0.4M96.8 35.7l2.3 -0.1M112.7 33.1l2.2 -0.3M58.3 37l2.2 0.6 2.2 0.5 2.2 0.6 2.1 0.5 2.2 0.6 2.2 0.5 2.2 0.6 2.2 0.5 2.2 0.5 2.1 0.5 2.2 0.5 2.2 0.5 2.2 0.5 2.2 0.5 2.2 0.5 2.1 0.5 2.2 0.5 2.2 0.4 2.2 0.5 2.2 0.4 2.2 0.5 2.1 0.4 2.2 0.4 2.2 0.5 2.2 0.4 2.2 0.4M105.2 43.8l2.2 0.2M58.5 38.5l2.1 0.9 2.1 0.9 2.1 1 2.1 0.9 2 0.8 2.1 0.9 2.1 0.8 2.1 0.8 2.1 0.8 2 0.8 2.1 0.7 2.1 0.7 2.1 0.7 2.1 0.7 2.1 0.7 2 0.6M56.6 36.1l2.2 -0.9 2.2 -0.9 2.3 -0.9 2.2 -0.9 2.2 -0.9 2.2 -0.8 2.3 -0.7 2.2 -0.8 2.2 -0.7 2.3 -0.7 2.2 -0.6 2.2 -0.7 2.2 -0.6 2.2 -0.6 2.1 -0.4 2.2 -0.3 2.2 -0.2M57.7 38.2l2.3 -0.3 2.2 -0.4 2.2 -0.3 2.2 -0.4 2.3 -0.3 2.2 -0.3 2.2 -0.3 2.2 -0.2 2.2 -0.3 2.3 -0.2 2.2 -0.2 2.2 -0.2 2.2 -0.2 2.3 -0.1 2.2 -0.1 2.2 -0.1 2.2 -0.1 2.3 -0.1 2.2 0 2.2 0 2.2 0 2.2 0M123.2 53.5l1.9 -1.2M120.5 31.5l2.2 0.1M109.3 28.8l2.2 -0.4" stroke="#0070ff" stroke-width="0.75" opacity="0.95"/><path d="M130.5 35.4l2.2 0M128.5 25.5l2.1 0.3M112.3 25.1l2.2 0.2M136.6 33.6l2.1 0.2M138.9 38.9l2.2 -0.3M115.5 44.7l2.2 0.3M123.2 42.6l2.2 0.1M128.3 36l2.2 0.4M115.5 35.2l2.1 -0.4M134 33.8l2.1 0.8M133.9 45.4l2 -0.7M140.1 44l2 -0.8M125.8 34.6l2.2 -0.2M130.7 33.3l2.2 0.2M122.6 30.7l2.1 -0.6 2.2 -0.5M152.2 22.3l1.6 -1.5 1.7 -1.4M120.3 30.2l2.2 -0.2M131.2 32.5l2.1 -0.6M133.2 36.2l2.1 -0.5 2 -0.8M112.5 35.1l2.2 -0.3M132.6 25.8l2.1 0.2M117.9 45.9l2.2 0.6M124 34.4l1.9 1.1M125.7 36.7l2.2 -0.1M108.5 26.6l2.1 -0.7M134.4 35.1l1.9 1.3 1.8 1.2M113.2 35.5l2.2 0.3M127.7 33.6l2.2 -0.3M135.4 36.1l2.2 -0.3M119.1 35.9l2.2 -0.1M125.3 45l2.2 -0.3M135.1 26.9l2.2 -0.5M127.7 28.5l2 -0.9 2.1 -0.5M114.8 28.4l2.2 0M132.5 31.2l2.2 0M104.4 41.2l2.2 0.1M131.9 38l2.2 0.4M120.5 36.3l2.2 0M115.4 35.9l2.1 -0.4M138.2 29.5l2.2 0M134 25.6l2.2 -0.1M117.1 30.9l2.3 -0.2M123.7 50.5l2.1 0.6M105.7 43.9l2.3 0.2M129 46.1l2.2 -0.1 2.1 0.2M135.1 29.2l2.1 -0.6M126.4 43.3l2.2 0.3M126.9 47.6l2.2 0.2M133.5 38.2l2.1 0.7M129.3 44.2l2.1 0.6M118.4 36l2.1 -0.5M114.7 34.5l2.3 -0.1M142.1 30.3l2.2 0.2M139.8 56.4l2.2 -0.3M127.9 32.1l2 0.8 2.1 0.8M118.8 24.3l2.2 -0.1M136.8 50.9l2.1 -0.7M121.4 39.4l2.2 0M129.8 35.9l2 -0.9 2.1 -0.6M110.2 34.6l2.2 -0.2M133.3 45.7l2.2 0.2M111.4 42.9l2.2 -0.2M116.3 45.2l2.1 0.2M123.1 29.8l2.2 -0.5M128 33.2l2.2 0.5M126.6 33.6l2.1 0.7M123.7 31.5l2.1 -0.4M125.8 41l2.2 0M133 34.5l2.2 -0.6M139.1 51.4l2 0.9M122.9 45.1l2.2 0M113.9 23.9l2.2 0.1M120.3 38.8l2.2 0M125.8 27l2.2 0.1M123.7 30.8l2.1 -0.4M131.5 45.1l2.2 -0.2M140.6 27.8l1.9 1 2.1 0.7M128.6 34.9l2 0.9M120.1 31.3l2.2 0.3M147.5 46.5l2 1 1.9 1.1M138 30.6l2 -0.9M113.8 56.7l2.2 -0.1M139.1 37.6l2.2 -0.1M120.6 31.1l2.1 0.8M130.8 31.6l2.2 0.2M119.5 38l2.2 -0.1M141.2 22.1l2 0.9 2.1 0.8" stroke="#00f0ff" stroke-width="0.75" opacity="0.95"/><path d="M141.5 34.7l2.2 0M143.7 27.7l2.2 -0.3M121 26.4l2.1 0.7M147.6 37.3l2.2 -0.1M124.2 45.7l2.2 -0.1M131.9 41.7l2.2 -0.2M140.7 34.4l1.4 -1.7 1.3 -1.8M126.4 35l2.1 0.6M144.1 38.3l2.1 0.7M141.9 41.9l2.2 -0.5M152.9 41.3l2.2 -0.5M136.8 35.1l2 0.8M135.6 29.8l2.2 0.1M166.7 19.2l1.4 1.7M131.2 28.9l2.2 -0.3M147.6 31.3l2.2 0.5M142.8 29.6l1.9 1M138.5 38.9l2.2 0.4M136.7 35.6l2.2 0.1M122 36.3l2.2 0.1M144 34.2l2.1 -0.5M127.9 35.1l2.2 -0.1M140.5 25.5l2.2 -0.3M123.6 28l2.2 -0.4M113.2 40.6l2.1 -0.4M140.6 39.4l2.2 0.3M128.4 33.6l2.2 0.1M151.4 30.5l2.2 0.2M132.5 27.4l2.1 -0.8M142.7 26.7l1.9 1.1M130.4 29.6l2.2 -0.4M112.5 44.5l2.3 0.2M145.4 25.5l2.1 -0.6M137.3 44.5l2.2 0.3M142.1 49.2l2.2 0.6M146.4 39.7l2.2 0.4 2 0.8M128.1 34.6l2.1 0.3M153.1 29.9l2.1 -0.4M144.5 36.4l2 0.9M144.2 47.1l2.1 -0.5M122.1 40.4l2 -1M134 28.2l2.1 0.4M137.3 34.8l2.1 -0.7M132.3 29.6l2.2 -0.2M141.6 33.6l2.1 0.8M153.3 56.5l2.2 -0.3M133.8 45.9l2.1 0.6M124.9 24l2.2 -0.2M131.3 38.4l2.2 -0.2M134.6 26.8l2.2 0M142.4 43.6l2.1 -0.6M157.5 29.8l1.7 -1.5 1.3 -1.7M141.2 38.6l2.2 0.5M124.5 54.4l2.1 -0.8M152.3 38.2l2.2 0.1M129.2 33.2l2.2 0M141.3 29.5l2 -0.9 2.2 -0.6M132.5 39.5l2.2 0.2M162.5 26.6l2.1 -0.4" stroke="#00f0b0" stroke-width="0.75" opacity="0.95"/><path d="M152.4 35.4l2.2 0.4M129 30l1.9 1.1M130.8 45.8l2.2 0.2M138.3 42.7l2.1 0.6M132.8 36.7l2.1 0.2M150.5 39.2l2.2 -0.3M148.4 41.2l2.2 0.2M161.6 41.3l2.1 0.7M142.9 37.5l2 0.9M177.4 29.8l2.1 0.5M158.4 44l1.3 1.9 1.7 1.4M151.1 32.3l2.2 -0.1M149.2 37.9l1.6 -1.5M145.2 37.4l2.1 0.6M121.5 24.3l2.2 0M153 37.9l2.2 -0.5M150.5 33.3l2.2 0M134.5 35.2l2.2 0.1M151.2 26.6l1.9 1M130.1 26.8l2.1 -0.5M141.9 30.7l2.2 -0.5M119.7 39.5l2.1 -0.4M137.1 34.6l2.1 0.7M162.3 31.5l2.2 0.5M138.9 25.6l2.2 0M150.4 30.9l2.1 0.8M139.1 29.5l2.2 0.4M119.3 45.1l2.2 0.1M148.2 45.9l2.2 0M152.9 51.1l2.2 0M124.3 26.9l1.9 -1M135.5 34.9l1.6 -1.5M123.5 33.3l2.2 -0.2M151.6 42.8l1.5 -1.6 1.6 -1.6M129.8 36.1l1.9 -1.1M138.9 29.4l2.1 0.5M140.2 47.4l2.2 0.4M140 37l2.1 -0.3M141.2 26.6l2.2 -0.4M151 41.8l2.2 -0.3M152.1 39.9l2.2 -0.3M130.8 52.4l2.1 -0.6M163.2 37.5l2.2 -0.2M151.8 26.1l2.2 -0.2M143.5 38.9l2.1 -0.5" stroke="#00e070" stroke-width="0.75" opacity="0.95"/><path d="M156.8 36.3l2.1 0.6M132.8 32.2l2.1 0.8M145.2 48.9l2 -0.7M142.6 43.8l2.2 0.2M137.1 36.8l2.2 -0.3M154.8 38.3l2.2 -0.5M150.6 41.4l2.2 0.3M147 39.2l1.9 1M181.7 30.4l2.2 0.2 2.2 0.2M163.4 48l2.2 0.1 2.2 -0.4M153.9 33.3l1.6 -1.6 1.7 -1.4M149.5 38.2l2.2 -0.1M125.8 24.7l2.1 0.7M157.4 37.2l2.1 -0.4M133 36.6l2.2 -0.3M134.4 25.7l2.2 -0.2M141.3 35.9l2.1 0.6M166.6 32.6l2.1 0.7 2.1 0.6M154.6 32.2l2.2 0.1M143.4 30.6l2.1 0.6M152.6 45.8l2.2 0M159.4 50l2.1 -0.7M138.8 32l1.9 -1.1M156.6 38.6l1.9 -1.1M133.5 33.7l1.7 -1.4M133.7 46.8l2.2 0M145.5 34.2l2.1 -0.5M144.5 48.2l2.2 0.4M144.3 36.5l2.2 -0.1M145.5 25.6l2 -1M140.9 31.9l2.1 0.5M153.2 41.5l2.1 -0.3M156.4 39.1l2.1 -0.6M135 51.3l2.2 -0.3M137.9 33.5l2.2 0" stroke="#00e050" stroke-width="0.75" opacity="0.95"/><path d="M158.9 36.9l2 0.7 2.2 0.5M134.9 33l2.1 0.6 2.1 0.5M147.2 48.2l2 -0.9 2.1 -0.7M135.2 46.3l2.1 0.3 2.2 0.4M144.8 44l2.1 0.2 2.2 0.4M139.3 36.5l2.2 -0.5 2.1 -0.4M157 37.8l2.1 -0.6 2.1 -0.6M152.8 41.7l2.2 0.3 2.1 0.4M148.9 40.2l2 1 2 0.9 2.1 0.7M186.1 30.8l2.2 0.3 2.2 0.2M167.8 47.7l2.1 -0.7 2 -0.9M155.4 32l2.2 -0.3 2.2 -0.3 2.1 -0.5M157.2 30.3l1.9 -1 2.2 -0.6 2.2 0M151.7 38.1l2.2 -0.2 2.2 -0.1 2.2 0M127.9 25.4l2 0.9M159.5 36.8l2.2 -0.3 2.2 -0.2M135.2 36.3l2.1 -0.7 1.9 -1M138.9 35.4l2.2 0.1 2.2 0.1M136.6 25.5l2.1 -0.2 2.2 0M124 38.9l2.2 -0.1 2.2 0.1M143.4 36.5l2.2 0.3 2.2 -0.2 2.2 -0.3M170.8 33.9l2.1 0.4 2.2 0.5 2.1 0.6M143.3 25.9l2.1 0.7 1.9 1M145.5 31.2l2.2 0.2 2.1 -0.5 2.1 -0.8M123.8 45.4l2.2 0.2 2.2 0.2M154.8 45.8l2.2 0M161.5 49.3l2.1 -0.4M128.2 25l2.1 -0.6 2.2 -0.2M140.7 30.9l2.1 -0.7 2.2 -0.2M127.9 32.9l2.2 -0.3 2.2 -0.2M158.5 37.5l2 -0.9 2.1 -0.8M135.2 32.3l1.8 -1.2 2.1 -0.6 2.2 -0.3M135.9 46.8l2.2 0M147.6 33.7l2.1 -0.7 2.1 -0.7M143.1 30.6l2 0.9 2 1M146.7 48.6l2.1 0.7M146.5 36.4l2.2 -0.1 2.2 -0.1M147.5 24.6l1.8 -1.2 1.8 -1.2M143 32.4l2.2 0.2 2.2 0.3M155.3 41.2l2.2 -0.2 2.2 -0.2M158.5 38.5l2.1 -0.6M137.2 51l2.2 0 2.2 0.3M140.1 33.5l2.2 -0.1" stroke="#00e040" stroke-width="0.75" opacity="0.95"/><path d="M163.1 38.1l2.1 0.4M151.3 46.6l2.1 -0.6M139.5 47l2.2 0.2M143.6 35.6l2.2 -0.4M163.5 28.7l2.1 0.2M129.9 26.3l1.9 1.2M163.9 36.3l2.2 0.1M139.2 34.6l1.8 -1.3M143.3 35.6l2.1 0.6M128.4 38.9l2.2 0.1M177.2 35.4l2.2 0.4M147.3 27.6l2 1M151.9 30.1l2 -0.9M128.2 45.8l2.2 0M132.5 24.2l2.2 0.1M132.3 32.4l2.1 -0.3M138.1 46.8l2.2 0.2M151.8 32.3l2.1 -0.5M147.1 32.5l2 0.9M150.9 36.2l2.2 0M151.1 22.2l1.8 -1.3M159.7 40.8l2.2 0.1M141.6 51.3l2.2 0.4M142.3 33.4l2.2 -0.1" stroke="#00e030" stroke-width="0.75" opacity="0.95"/><path d="M165.2 38.5l2.2 0.4 2.1 0.5M139.1 34.1l2.2 0.5M153.4 46l2.2 -0.5 2.1 -0.7 2.1 -0.6M141.7 47.2l2.2 0.1M149.1 44.6l2.2 0.3M145.8 35.2l2.1 -0.6M161.2 36.6l2.1 -0.7 2.1 -0.7M157.1 42.4l2.2 0.5M155 42.8l2.2 0.2 2.1 -0.3M161.9 30.9l2.2 -0.5 2 -0.8M165.6 28.9l2.2 0.5 2.1 0.5M158.3 37.8l2.2 -0.2 2.2 -0.2M166.1 36.4l2.2 0M145.4 36.2l1.9 1.1M140.9 25.3l2.2 -0.2M130.6 39l2.2 0.1M179.4 35.8l2.2 -0.2 2 -0.7M149.3 28.6l1.8 1.2M153.9 29.2l1.9 -1.1 2 -1M130.4 45.8l2.2 -0.1M134.7 24.3l2.2 0.4M145 30l2.2 0M134.4 32.1l2.2 -0.4M141.3 30.2l2.1 0.4 2 1M140.3 47l2.2 0.1M153.9 31.8l2.2 -0.1M149.1 33.4l2 0.9M153.1 36.2l2.2 0.3M152.9 20.9l1.8 -1.3M147.4 32.9l2.2 0M143.8 51.7l2.1 0.4M144.5 33.3l2.2 -0.4" stroke="#10e030" stroke-width="0.75" opacity="0.95"/><path d="M57.2 35.3l2.2 -1.1 2.2 -1.2 2.1 -1.1 2.2 -1.1 2.2 -1 2.2 -0.9 2.1 -0.9 2.2 -0.8 2.2 -0.7 2.1 -0.7 2.2 -0.6 2.2 -0.6 2.1 -0.6 2.1 -0.7 2.1 -0.7 2.1 -0.6 2.2 -0.5 2.1 -0.4M109.3 51.5l2.2 0.8M110.4 36l2.2 -0.3M119.4 39.7l2.2 0.3M59 38l2.3 0.1 2.2 0.2 2.3 0.2 2.2 0.1 2.3 0.2 2.3 0.2 2.2 0.2 2.3 0.2 2.2 0.2 2.3 0.2 2.3 0.3 2.2 0.2 2.3 0.3 2.2 0.3 2.3 0.3 2.2 0.3 2.3 0.3 2.3 0.4M95.3 36.2l2.2 0 2.2 -0.1M56.7 39.3l2.2 -0.4 2.2 -0.4 2.3 -0.4 2.2 -0.4 2.2 -0.4 2.2 -0.3 2.3 -0.3 2.2 -0.4 2.2 -0.2 2.3 -0.3 2.2 -0.2 2.2 -0.2 2.2 -0.1 2.3 -0.2 2.2 -0.1 2.2 -0.1 2.2 0 2.3 0 2.2 -0.1 2.2 0 2.2 0 2.3 0 2.1 -0.2 2.2 -0.3 2.2 -0.2 2.2 -0.2M114.5 49.4l2.2 -0.4M56.5 38.1l2.3 0.3 2.2 0.4 2.2 0.4 2.2 0.3 2.2 0.4 2.2 0.3 2.2 0.4 2.2 0.3 2.2 0.3 2.3 0.4 2.2 0.3 2.2 0.3 2.2 0.4 2.2 0.3 2.2 0.3 2.2 0.3 2.2 0.3 2.2 0.3 2.3 0.3 2.2 0.3 2.2 0.2 2.2 0.3 2.2 0.3 2.2 0.3 2.2 0.3 2.2 0.2M112.7 38l2.2 0M56.9 38.2l2.2 -0.1 2.2 -0.1 2.2 -0.1 2.2 -0.1 2.2 -0.1 2.2 -0.1 2.2 -0.1 2.2 -0.1 2.2 -0.2 2.2 -0.1 2.2 -0.2 2.2 -0.2 2.2 -0.2 2.2 -0.2 2.2 -0.3 2.2 -0.2 2.2 -0.3 2.2 -0.3 2.1 -0.3M120.3 26.3l2.1 0.4M101.8 34.9l2.2 -0.1M98.1 41.9l2.2 0.3M57.4 36.2l2.3 -0.3 2.3 -0.3 2.3 -0.4 2.3 -0.3 2.3 -0.4 2.2 -0.3 2.3 -0.4 2.3 -0.4 2.3 -0.4 2.3 -0.4 2.3 -0.4 2.3 -0.4 2.3 -0.5 2.3 -0.4 2.3 -0.5 2.3 -0.4 2.1 -0.3 2.2 -0.3 2.2 -0.2 2.2 -0.1 2.2 -0.1 2.2 -0.1 2.2 -0.2 2.2 -0.1 2.2 -0.1M58.6 36.7l2.2 -0.6 2.1 -0.5 2.1 -0.6 2.1 -0.6 2.1 -0.6 2.2 -0.7 2.1 -0.6 2.1 -0.7 2.1 -0.8 2.2 -0.7 2.1 -0.8 2.1 -0.8 2.1 -0.9 2.1 -0.8 2.2 -0.6 2.1 -0.5 2.2 -0.4 2.2 -0.2 2.2 0 2.2 0 2.2 0.2 2.1 0.3 2.2 0.6 2 0.8M115.6 36.4l2.2 0M97.1 36.1l2.2 -0.1M105.6 51.1l2.2 0.8M99.1 42.1l2.2 0.1M116.6 26.8l2.2 0.1M102 30l2.3 -0.2 2.2 -0.2M105.5 26l2.1 -0.4M99.1 32.4l2.2 -0.2 2.2 -0.2M95.2 31.2l2.1 -0.4M118.7 26.1l2.2 0.4 2.1 0.3M112.7 31.5l2.2 -0.1M107.4 38.8l2.3 -0.2M105.2 33.1l2.3 -0.6M110.1 26.6l2.1 -0.1M58.5 39.6l2.3 -0.4 2.2 -0.4 2.3 -0.4 2.2 -0.4 2.3 -0.4 2.2 -0.3 2.3 -0.4 2.2 -0.4 2.3 -0.4 2.3 -0.3 2.2 -0.4 2.3 -0.3 2.2 -0.3 2.3 -0.4 2.2 -0.3M56.9 38.5l2.1 -1.1 2 -1.1 2.1 -1 2.1 -1.1 2.1 -1 2 -0.9 2.1 -1 2.1 -0.8 2.1 -0.9 2 -0.8 2.1 -0.7 2.1 -0.7 2 -0.6 2.1 -0.6 2.1 -0.6 2.1 -0.6 2 -0.5 2.1 -0.5 2.1 -0.5 2.1 -0.7 2.1 -0.6 2.2 -0.4 2.1 -0.3 2.2 -0.2 2.2 -0.1 2.2 -0.1 2.2 0.1M101.4 25.1l2.2 0.3M122.4 22.4l2.1 0.8 2.1 0.7 2.1 0.5M95.4 47.3l2.1 0.5M115.8 37.9l2.2 -0.2M116 30.1l2.2 -0.3M115.7 54.3l2.2 0.1M57.3 40.1l2.2 0.3 2.2 0.3 2.3 0.3 2.2 0.3 2.2 0.3 2.3 0.3 2.2 0.3 2.2 0.4 2.3 0.3 2.2 0.3 2.2 0.3 2.3 0.3 2.2 0.3 2.2 0.4 2.3 0.3 2.2 0.3 2.2 0.3 2.3 0.3 2.2 0.4 2.2 0.3 2.3 0.3 2.2 0.3M57.9 38.2l2.2 -0.1 2.3 -0.1 2.2 -0.2 2.2 -0.1 2.3 -0.1 2.2 0 2.2 0 2.2 0 2.3 0.1 2.2 0.2 2.2 0.1 2.2 0.3 2.3 0.2 2.2 0.3 2.2 0.4 2.3 0.4 2.2 0.3 2.2 0.5 2.2 0.4 2.2 0.1 2.2 0.2 2.2 0.1 2.2 -0.1M92.4 36l2.2 -0.1M57.7 37.4l2.2 0.4 2.3 0.5 2.3 0.4 2.2 0.4 2.3 0.5 2.2 0.5 2.3 0.4 2.2 0.5 2.3 0.5 2.2 0.4 2.3 0.5 2.2 0.5 2.3 0.5 2.2 0.5 2.3 0.6 2.2 0.5 2.3 0.5 2.2 0.5 2.3 0.5 2.2 0.4 2.2 0.2 2.1 0.2 2.2 0 2.2 -0.2M114.7 30.6l2 -1M58.6 39.4l2.2 -0.2 2.3 -0.2 2.2 -0.1 2.2 -0.2 2.2 -0.3 2.3 -0.2 2.2 -0.2 2.2 -0.2 2.3 -0.3 2.2 -0.2 2.2 -0.3 2.2 -0.3 2.3 -0.3 2.2 -0.3 2.2 -0.4 2.2 -0.3 2.3 -0.4 2.2 -0.4 2.2 -0.3 2.3 -0.5M57.8 36.9l2.2 -0.1 2.2 -0.1 2.2 0 2.2 -0.1 2.2 -0.1 2.2 -0.1 2.2 -0.1 2.2 -0.1 2.2 -0.1 2.2 -0.1 2.2 -0.1 2.2 -0.2 2.2 -0.1 2.2 -0.2 2.2 -0.2 2.2 -0.1 2.2 -0.2 2.2 -0.2 2.1 -0.2 2.2 -0.3 2.2 -0.2 2.2 -0.2 2.2 -0.2 2.2 -0.3M98 31.2l2.2 -0.5M59.3 38.4l2.2 0 2.3 0 2.2 -0.1 2.2 0 2.2 -0.1 2.3 -0.1 2.2 -0.1 2.2 -0.1 2.2 -0.1 2.3 -0.2 2.2 -0.2 2.2 -0.2 2.2 -0.2 2.3 -0.2 2.2 -0.3 2.2 -0.3 2.2 -0.3 2.3 -0.3 2.2 -0.4 2.2 -0.4 2.2 -0.3M94.7 37.5l2.2 0.2 2.3 0.3M113.3 46l2.2 0.5M57.7 37.9l2.2 -0.4 2.2 -0.5 2.3 -0.5 2.2 -0.4 2.3 -0.4 2.2 -0.3 2.3 -0.3 2.2 -0.2 2.3 -0.2 2.2 -0.1 2.3 -0.1 2.2 0 2.3 0 2.2 0 2.3 0.1 2.2 0.1 2.2 -0.2 2.2 -0.3 2.2 -0.3 2.1 -0.4 2.2 -0.3M56.8 35.8l2.3 -0.7 2.2 -0.6 2.3 -0.7 2.2 -0.7 2.2 -0.6 2.3 -0.6 2.2 -0.6 2.2 -0.5 2.3 -0.5 2.2 -0.5 2.3 -0.4 2.2 -0.4 2.2 -0.3 2.3 -0.3 2.2 -0.3 2.3 -0.3 2.2 -0.2 2.2 -0.3M59.2 34.6l2.3 0.2 2.2 0.2 2.3 0.2 2.3 0.2 2.3 0.1 2.3 0.2 2.3 0.1 2.3 0.2 2.3 0.1 2.3 0.1 2.2 0 2.3 0.1 2.3 0 2.3 0 2.3 0 2.3 0 2.3 0 2.3 -0.1 2.3 0 2.2 -0.1 2.2 0.1 2.2 0.1 2.2 0.1 2.2 0.2 2.2 0.1M108.7 26.2l2.2 -0.3M98.5 43.3l2.2 0.2M103.5 19.2l2.2 -0.5 2.1 -0.3M114.9 56.2l2.2 -0.3M114 30.3l2.1 0.4M57 41.1l2.2 0.9 2.2 1 2.2 0.9 2.2 0.9 2.2 0.9 2.2 0.9 2.1 0.8 2.2 0.8 2.2 0.7 2.2 0.8 2.2 0.7 2.2 0.6 2.2 0.6 2.2 0.6 2.2 0.6 2.1 0.5 2.2 0.5M102.6 31l2.3 -0.7" stroke="#0050f0" stroke-width="0.75" opacity="0.95"/><path d="M141.3 34.6l2.1 0.4 2.2 -0.1 2.1 -0.6M143.9 47.3l2.2 -0.2 2.1 -0.6M147.9 34.6l2.2 -0.5 2.1 -0.6 2.1 -0.7M165.4 35.2l2.1 -0.6 2.1 -0.4M159.3 42.9l2.1 0.7 1.9 1 2 1 2 0.9 2.1 0.7 1.9 1.1 1.8 1.2 1.9 1.2 2 1 2 0.7 2.1 0.7 2.2 0.3 2.2 0 2.2 -0.2 2.1 -0.6 2.1 -0.7 1.8 -1.3 1.7 -1.3 1.8 -1.3 1.9 -1.2 1.8 -1.2 2 -1M159.3 42.7l2.2 -0.4 2.2 -0.3M166.1 29.6l2.1 -0.8 2 -0.9M169.9 29.9l2.2 0.5 2.1 0.4 2.2 0.2M162.7 37.4l2.2 -0.2M168.3 36.4l2.2 0.1 2.2 0.1M147.3 37.3l1.8 1.3 1.9 1.1 2 0.9 2 0.8 2.2 0.4 2.2 0.2 2.1 -0.5 2 -0.9M143.1 25.1l2.2 -0.4 2.1 -0.8 1.9 -0.9 2 -1 2 -1 1.9 -1 2 -1 2 -0.9 2.1 -0.7 2.2 -0.2 2.1 0.3 2.1 0.7 2 1 1.8 1.3 1.4 1.6 1.2 1.9 0.9 2 0.7 2.1 0.7 2.1 0.8 2 1 2 1.4 1.7 1.8 1.2 2.1 0.7 2.2 0.1 2.2 -0.4 2.1 -0.5 2 -1M132.8 39.1l2.2 0.1 2.2 0.2M183.6 34.9l2 -1 1.7 -1.3 1.7 -1.5 1.6 -1.5 1.8 -1.3 1.9 -1.1 2.1 -0.6 2.1 -0.5M151.1 29.8l1.7 1.5 1.6 1.4M157.8 27.1l2 -0.7 2.2 0 2.2 0.5M132.6 45.7l2.2 -0.1 2.2 0M136.9 24.7l2 0.9 1.9 1.2M147.2 30l2.2 0.2 2.2 0.1M136.6 31.7l2.1 -0.5 2.1 -0.7 2 -0.9 2 -0.9 2.1 -0.8 2 -0.8 2.2 -0.5 2.2 -0.1 2.2 0.4 2.1 0.6 2 0.8 2 0.9 1.8 1.3 1.4 1.7 1.1 1.9 1.1 1.9 1.4 1.7 1.7 1.4 1.9 1.1 2.1 0.8 2.2 0.3 2.2 0.1 2.2 -0.1M156.1 31.7l2.2 0 2.2 0.3 2.2 0.3 2.2 0.4 2.1 0.4 2.2 0.4 2.2 0.2 2.2 0 2.2 0.2 2.2 0.1 2.2 0 2.1 -0.3M151.1 34.3l2 0.8 2 0.9M155.3 36.5l2.2 0.3 2.2 0 2.2 -0.1M154.7 19.6l1.7 -1.4 1.6 -1.5 1.8 -0.7M149.6 32.9l2.2 -0.4 2.1 -0.5 2.1 -0.7 2.1 -0.6 2.1 -0.7 2.1 -0.5M145.9 52.1l2.2 0.3 2.2 0.2M146.7 32.9l2.1 -0.5 2.1 -0.8" stroke="#10e020" stroke-width="0.75" opacity="0.95"/><path d="M147.7 34.3l1.9 -1.1M148.2 46.5l2.2 -0.5 2.1 -0.4 2.2 -0.2 2.2 -0.3 2.2 -0.1 2.2 -0.1 2.2 -0.1 2.2 -0.1 2.2 0 2.2 -0.1 2.2 -0.3 2.1 -0.6 2 -0.8 2 -0.9 1.9 -1.1 1.9 -1.2 1.7 -1.3 1.8 -1.3 1.9 -1.1M169.6 34.2l2.2 -0.4 2.2 -0.5 2 -0.9 1.9 -1 1.8 -1.3 1.6 -1.5 1.6 -1.6 1.8 -1.1 2.1 -0.6M163.7 42l2.2 -0.3M170.2 27.9l2.1 -0.7 2 -0.8 2 -0.9 2 -1 2.1 -0.8M176.4 31l2.2 0.1 2.2 0 2.2 -0.1 2.2 -0.2 2.2 0 2.2 0M137.2 39.4l2.2 0M154.4 32.7l1.8 1.4M164.2 26.9l1.9 1.1 1.6 1.5 1.4 1.6 1.4 1.8 1.4 1.7 1.5 1.6 1.5 1.6 1.8 1.3 2 0.7 2.2 0.2 2.2 0 2.2 -0.3 2 -0.9 2 -1.1M137 45.6l2.2 0.4M140.8 26.8l1.6 1.4 1.6 1.6M151.6 30.3l2.2 0.1M161.9 36.7l2.2 -0.3 2.1 -0.5 2.2 -0.4 2.2 -0.2 2.2 0M159.8 16l2.1 0.7M150.3 52.6l2.2 0.4 2.1 0.5 2.1 0.5 2.2 0.6 2.1 0.6 2.1 0.6" stroke="#10e010" stroke-width="0.75" opacity="0.95"/><path d="M149.6 33.2l1.6 -1.5 1.5 -1.6 1.4 -1.7 1.5 -1.7 1.6 -1.5 1.7 -1.3 1.9 -1.2 2 -0.9 2.1 -0.5 2.2 -0.1M165.9 41.7l2.2 -0.1 2.2 0.1 2.1 0.3 2.2 0.3 2.2 0.3 2.2 0.3 2.2 0.2 2.1 -0.2M156.2 34.1l1.6 1.4M139.2 46l2.1 0.4M144 29.8l1.4 1.6M153.8 30.4l2.2 0.1 2.2 -0.1 2.2 0.2 2.1 0.5 2 1 1.9 1.1 2 0.9 2.1 0.6 2.1 0.7 2 0.9 2 0.9 1.9 1.2 1.9 1.1 1.7 1.3 1.8 1.3 1.9 1.1 2 1.1 2 0.6 2.2 0.3 2.2 0.3 2.2 0.2M161.9 16.7l2.1 0.6 2.1 0.5 2.1 0.7 2 1" stroke="#20e010" stroke-width="0.75" opacity="0.95"/><path d="M59.2 37l2.2 0.4 2.1 0.5 2.2 0.4 2.2 0.4 2.2 0.4 2.2 0.5 2.1 0.5 2.2 0.5 2.2 0.5 2.2 0.6 2.2 0.6 2.1 0.6 2.2 0.6 2.2 0.7 2.2 0.7 2.2 0.8 2.1 0.7 2.2 0.8 2.2 0.8 2.2 0.9 2.2 0.8 2.1 0.9M59.1 40l2.2 -0.1 2.3 -0.1 2.2 -0.1 2.2 -0.1 2.2 -0.1 2.3 -0.2 2.2 -0.1 2.2 -0.1 2.3 -0.2 2.2 -0.1 2.2 -0.2 2.3 -0.2 2.2 -0.2 2.2 -0.1 2.2 -0.2 2.3 -0.3 2.2 -0.2 2.2 -0.2 2.3 -0.2 2.2 -0.3 2.2 -0.2 2.3 -0.3M57.2 37.9l2.2 -0.1 2.2 0 2.3 -0.1 2.2 0 2.2 0 2.3 0 2.2 -0.1 2.2 0.1 2.2 0 2.3 0 2.2 0 2.2 0.1 2.2 0.1 2.3 0.1 2.2 0.1 2.2 0.1 2.2 0.1 2.3 0.2 2.2 0.1 2.2 0.2 2.3 0.1 2.2 0.2 2.2 0.2 2.2 0.1 2.2 0 2.2 0 2.2 0M57.8 35.1l2.2 0.1 2.2 0.2 2.2 0.1 2.2 0.1 2.2 0.1 2.3 0.2 2.2 0.1 2.2 0.1 2.2 0 2.2 0.1 2.2 0.1 2.2 0 2.2 0 2.2 0 2.2 0 2.2 0M57.4 37.1l2.2 -0.1 2.2 -0.1 2.2 -0.1 2.2 -0.1 2.2 -0.1 2.2 0 2.3 -0.1 2.2 0 2.2 0 2.2 0 2.2 0 2.2 0 2.2 0 2.3 0.1 2.2 0.1 2.2 0.1 2.2 0.1 2.2 0.1 2.2 0.2 2.2 0.1 2.3 0.2 2.2 0.1 2.2 0.2 2.2 0.2M58.8 38.9l2 -1.1 2.1 -1.2 2.1 -1.1 2.1 -1.1 2.1 -1 2 -1 2.1 -0.9 2.1 -0.8 2.1 -0.7 2.1 -0.7 2.1 -0.6 2 -0.5 2.1 -0.5 2.1 -0.4 2.1 -0.5 2 -0.7 2.1 -0.7 2.2 -0.5 2.1 -0.4 2.2 -0.2 2.2 -0.2 2.2 0 2.2 0.1 2.2 0.4 2.2 0.4 2.1 0.4 2.2 0.3M57.7 35.8l2.3 0.3 2.2 0.3 2.2 0.3 2.3 0.3 2.2 0.3 2.3 0.3 2.2 0.3 2.3 0.4 2.2 0.3 2.2 0.3 2.3 0.4 2.2 0.3 2.3 0.4 2.2 0.3 2.3 0.4 2.2 0.4 2.3 0.4 2.2 0.4M57.5 37l2.2 0.6 2.2 0.6 2.2 0.6 2.2 0.6 2.1 0.5 2.2 0.6 2.2 0.6 2.2 0.6 2.2 0.6 2.2 0.7 2.2 0.6 2.1 0.6 2.2 0.7 2.2 0.7 2.2 0.6 2.2 0.7 2.2 0.7 2.2 0.7 2.1 0.7 2.2 0.7 2.2 0.7M59.1 41.2l2.1 -0.8 2.1 -0.8 2.1 -0.7 2.1 -0.8 2.2 -0.7 2.1 -0.8 2.1 -0.7 2.1 -0.7 2.1 -0.7 2.1 -0.7 2.1 -0.7 2.1 -0.7 2.1 -0.7 2.1 -0.6 2.1 -0.6 2.2 -0.7 2.1 -0.6 2.1 -0.6 2.1 -0.6 2.1 -0.7 2.1 -0.7M57.2 39.2l2.1 -0.8 2.1 -0.8 2.1 -0.8 2 -0.8 2.1 -0.9 2.1 -0.9 2.1 -1 2.1 -1 2.1 -1.1 2.1 -1 2.1 -1.2 2 -1.1 2.1 -1.1 2 -0.9 2.1 -0.8 2.1 -0.8 2.1 -0.5 2.2 -0.4 2.1 -0.2 2.2 0 2.2 0.1 2.2 0.3 2.2 0.4 2.1 0.5 2.2 0.3 2.2 0.3 2.2 0.2 2.1 0.4M58.7 41.5l2.2 -0.3 2.2 -0.2 2.3 -0.2 2.2 -0.2 2.2 -0.3 2.2 -0.3 2.2 -0.2 2.2 -0.3 2.3 -0.4 2.2 -0.3 2.2 -0.4 2.2 -0.4 2.2 -0.4 2.2 -0.5 2.2 -0.5 2.3 -0.5 2.2 -0.6 2.2 -0.5 2.2 -0.6M58.8 34.9l2.1 -0.4 2.1 -0.4 2.1 -0.5 2.2 -0.4 2.1 -0.5 2.1 -0.5 2.1 -0.6 2.1 -0.6 2.1 -0.6 2.1 -0.7 2.2 -0.8 2.1 -0.8 2.1 -0.8 2.1 -0.9 2.1 -0.9 2.1 -0.9 2.2 -1 2.1 -0.9 2.1 -1 2.1 -0.6 2.1 -0.6 2.2 -0.5 2.2 -0.3 2.1 -0.2 2.2 -0.1 2.2 0.2 2.2 0.3 2.1 0.7M57.4 36.1l2.3 -0.1 2.2 -0.1 2.3 -0.1 2.2 -0.1 2.3 -0.1 2.2 -0.2 2.3 -0.1 2.2 -0.2 2.3 -0.1 2.2 -0.2 2.3 -0.2 2.2 -0.2 2.3 -0.2 2.2 -0.3 2.3 -0.2 2.2 -0.3 2.3 -0.3 2.3 -0.3 2.2 -0.3 2.3 -0.3 2.2 -0.4 2.3 -0.3 2.2 -0.3 2.3 -0.4M57.4 35.5l2.2 0.5 2.2 0.5 2.2 0.4 2.1 0.5 2.2 0.4 2.2 0.5 2.2 0.4 2.2 0.5 2.1 0.4 2.2 0.4 2.2 0.4 2.2 0.4 2.2 0.4 2.1 0.3 2.2 0.4 2.2 0.3 2.2 0.3 2.2 0.3M57.3 36.7l2.2 0.5 2.3 0.4 2.3 0.5 2.2 0.4 2.3 0.4 2.3 0.4 2.2 0.5 2.3 0.4 2.3 0.4 2.2 0.3 2.3 0.4 2.3 0.4 2.3 0.4 2.2 0.3 2.3 0.4 2.3 0.4 2.2 0.3 2.3 0.4 2.2 0.2 2.2 0.3 2.1 0.2 2.2 0.2 2.2 0.3M56.9 40.3l2 -1.4 2 -1.4 2 -1.4 2 -1.3 2 -1.2 2 -1.2 2 -1.1 2 -0.9 2 -0.9 2 -0.8 2 -0.7 2 -0.7 2 -0.7 2 -0.6 2 -0.8 2.1 -0.8 2.1 -0.6 2.1 -0.5 2.2 -0.3M58.6 37.1l2.2 -0.8 2.1 -0.8 2.2 -0.8 2.2 -0.7 2.2 -0.7 2.2 -0.7 2.1 -0.7 2.2 -0.6 2.2 -0.6 2.2 -0.5 2.2 -0.5 2.2 -0.4 2.1 -0.4 2.2 -0.4 2.2 -0.3 2.2 -0.3 2.2 -0.3 2.1 -0.2 2.2 -0.2 2.2 -0.2 2.2 -0.2 2.1 -0.4M57.5 39.8l2.2 -0.4 2.2 -0.5 2.2 -0.5 2.3 -0.4 2.2 -0.4 2.2 -0.5 2.2 -0.4 2.2 -0.4 2.2 -0.3 2.2 -0.4 2.2 -0.4 2.2 -0.3 2.2 -0.3 2.3 -0.3 2.2 -0.3 2.2 -0.2 2.2 -0.2 2.2 -0.3 2.2 -0.2 2.2 -0.1 2.2 -0.2M58.7 36.4l2.1 -1.1 2.2 -1.1 2.1 -1.1 2.1 -1 2.2 -1.1 2.1 -1 2.2 -0.9 2.1 -1 2.1 -0.8 2.2 -0.9 2.1 -0.8 2.2 -0.7 2.1 -0.7 2.1 -0.7 2.2 -0.6 2.1 -0.6 2.2 -0.6 2.1 -0.5 2.1 -0.6M57.4 41.4l1.8 -1.5 1.8 -1.6 1.8 -1.5 1.8 -1.5 1.8 -1.5 1.8 -1.4 1.8 -1.5 1.8 -1.3 1.8 -1.4 1.8 -1.3 1.8 -1.2 1.8 -1.2 1.8 -1.2 1.8 -1.2 1.8 -1.2 1.8 -1.1 1.8 -1.2 1.9 -1.1 2 -0.9 2.2 -0.5 2.2 -0.1 2.1 0.4 2.1 0.8 2 0.9 1.9 1.1 1.9 1.1" stroke="#0030f0" stroke-width="0.75" opacity="0.95"/><path d="M107.1 50.6l2.2 0.9M108.2 36.2l2.2 -0.2M117.2 39.4l2.2 0.3M93.1 36.3l2.2 -0.1M57.4 36.7l2.2 0.8 2.2 0.7 2.2 0.8 2.2 0.8 2.2 0.7 2.2 0.7 2.2 0.7 2.2 0.7 2.2 0.6 2.2 0.6 2.2 0.6 2.2 0.6 2.2 0.6 2.2 0.5 2.2 0.5 2.2 0.5 2.2 0.5 2.2 0.5 2.2 0.4 2.2 0.5 2.1 0.2 2.2 0.2 2.2 0.2 2.2 0 2.2 -0.1 2.2 -0.1M110.5 38l2.2 0M115.9 25.7l2.2 0.3 2.2 0.3M57.6 36.5l2.2 -0.2 2.2 -0.3 2.3 -0.3 2.2 -0.2 2.2 -0.2 2.2 -0.2 2.2 -0.2 2.2 -0.2 2.2 -0.1 2.2 -0.1 2.2 -0.1 2.3 0 2.2 0 2.2 0 2.2 0 2.2 0.1 2.2 0.1 2.2 0.1 2.2 0.1 2.2 0.1M56.6 38l2.3 -0.3 2.2 -0.3 2.3 -0.3 2.3 -0.3 2.2 -0.2 2.3 -0.3 2.3 -0.2 2.3 -0.2 2.2 -0.2 2.3 -0.1 2.3 -0.2 2.2 -0.1 2.3 -0.1 2.3 0 2.2 0 2.3 0 2.3 0 2.2 0.1 2.3 0.1 2.3 0.1 2.2 0.1 2.3 0.1 2.3 0.2 2.2 0.1 2.3 0.2 2.3 0.2M57.3 38.2l2.2 0 2.2 0 2.2 0 2.2 0 2.3 0 2.2 -0.1 2.2 0 2.2 -0.1 2.2 -0.1 2.2 -0.2 2.2 -0.2 2.3 -0.2 2.2 -0.2 2.2 -0.2 2.2 -0.2 2.2 -0.3 2.2 -0.3 2.2 0M103.4 50.4l2.2 0.7M57.6 40.4l2.3 -0.1 2.4 -0.1 2.3 -0.1 2.3 -0.1 2.3 0 2.3 -0.1 2.3 0 2.3 0.1 2.3 0 2.3 0.2 2.3 0.1 2.3 0.2 2.3 0.2 2.3 0.2 2.3 0.3 2.3 0.3 2.3 0.3 2.3 0.3M56.6 36.4l2.2 -0.7 2.3 -0.8 2.2 -0.8 2.3 -0.7 2.2 -0.7 2.3 -0.7 2.2 -0.7 2.3 -0.7 2.2 -0.6 2.2 -0.6 2.3 -0.6 2.2 -0.6 2.3 -0.5 2.2 -0.6 2.3 -0.5 2.1 -0.5 2.2 -0.2 2.2 -0.2 2.2 0.1 2.2 0.1 2.2 0.1 2.2 0.1 2.2 0.1 2.2 0.1 2.2 0.1 2.2 0.2 2.2 0.2M57.1 35.5l2.3 -0.3 2.2 -0.4 2.3 -0.3 2.2 -0.4 2.2 -0.3 2.3 -0.3 2.2 -0.3 2.3 -0.4 2.2 -0.3 2.3 -0.2 2.2 -0.3 2.3 -0.3 2.2 -0.3 2.3 -0.2 2.2 -0.2 2.3 -0.2 2.2 -0.3 2.2 -0.2 2.3 -0.1 2.2 -0.2M103.4 26.6l2.1 -0.6M56.6 36.3l2.2 -0.2 2.2 -0.3 2.3 -0.2 2.2 -0.2 2.3 -0.2 2.2 -0.2 2.2 -0.2 2.3 -0.2 2.2 -0.2 2.2 -0.2 2.3 -0.2 2.2 -0.3 2.2 -0.2 2.3 -0.2 2.2 -0.2 2.3 -0.2 2.2 -0.2 2.2 -0.2 2.3 -0.1M58 35.5l2.2 -0.2 2.2 -0.2 2.2 -0.2 2.2 -0.1 2.1 -0.2 2.2 -0.2 2.2 -0.3 2.2 -0.2 2.2 -0.2 2.2 -0.3 2.1 -0.3 2.2 -0.3 2.2 -0.3 2.2 -0.3 2.2 -0.3 2.2 -0.4 2.2 -0.3M116.5 25.6l2.2 0.5M59.4 39.9l2.3 -0.6 2.2 -0.5 2.2 -0.5 2.2 -0.6 2.2 -0.5 2.3 -0.5 2.2 -0.4 2.2 -0.5 2.2 -0.4 2.2 -0.4 2.2 -0.4 2.3 -0.4 2.2 -0.3 2.2 -0.3 2.2 -0.3 2.2 -0.3 2.3 -0.2 2.2 -0.3 2.2 -0.2 2.2 -0.2 2.2 -0.1 2.2 -0.2 2.3 -0.1 2.2 -0.2M57.6 37.2l2.3 0.2 2.2 0.3 2.3 0.2 2.3 0.2 2.2 0.2 2.3 0.1 2.3 0.2 2.2 0.2 2.3 0.1 2.3 0.1 2.2 0.1 2.3 0.1 2.2 0 2.3 0.1 2.3 0 2.2 0 2.3 -0.1 2.3 0 2.2 -0.1 2.3 -0.1 2.3 -0.1 2.2 -0.1M100.8 34.4l2.2 -0.7 2.2 -0.6M57.6 38.8l2.2 -0.6 2.1 -0.6 2.2 -0.5 2.2 -0.6 2.2 -0.5 2.2 -0.6 2.2 -0.5 2.2 -0.6 2.2 -0.5 2.1 -0.5 2.2 -0.5 2.2 -0.5 2.2 -0.6 2.2 -0.5 2.2 -0.4 2.2 -0.5 2.2 -0.5 2.1 -0.5 2.2 -0.5 2.2 -0.4 2.2 -0.5 2.2 -0.5 2.2 -0.4 2.2 -0.4M57.7 38.3l2.2 -0.5 2.2 -0.6 2.2 -0.7 2.2 -0.6 2.2 -0.7 2.2 -0.8 2.2 -0.8 2.2 -0.9 2.3 -0.9 2.2 -1 2.2 -1 2.2 -1.1 2.2 -1 2.1 -0.7 2.1 -0.6 2.1 -0.6 2.1 -0.5 2.2 -0.3 2.2 -0.1 2.2 0.2M118.4 20.6l2 0.9 2 0.9M56.7 39.1l2.3 0.8 2.3 0.7 2.2 0.7 2.3 0.7 2.3 0.7 2.3 0.6 2.2 0.6 2.3 0.5 2.3 0.5 2.3 0.5 2.2 0.3 2.3 0.4 2.3 0.3 2.2 0.2 2.3 0.3 2.3 0.2 2.3 0.2M57.5 38.2l2.3 -0.1 2.2 -0.2 2.3 -0.1 2.2 -0.1 2.3 -0.1 2.2 -0.1 2.3 0 2.2 -0.1 2.3 0 2.2 0 2.3 0 2.2 0 2.3 0.1 2.2 0 2.3 0.1 2.2 0.1 2.3 0.1 2.2 0.2 2.3 0.1 2.2 0.2 2.3 0.1 2.2 0.2 2.2 -0.1 2.2 -0.2 2.2 -0.3 2.2 -0.1M111.5 30.8l2.2 -0.4 2.3 -0.3M58.9 36.6l2.1 0.9 2.1 0.9 2.1 0.9 2.1 0.9 2.1 0.9 2.1 0.9 2.1 0.8 2.1 0.8 2.1 0.8 2.1 0.8 2.1 0.7 2.1 0.7 2.1 0.6 2.1 0.6 2.1 0.6 2.1 0.6 2.1 0.5 2.1 0.5 2.1 0.5 2.1 0.5 2.1 0.5 2.1 0.4 2.1 0.5 2.1 0.6 2.1 0.5 2.2 0.5 2.1 0.3M56.8 37.5l2.2 0 2.3 -0.1 2.2 -0.1 2.2 0 2.2 -0.1 2.3 -0.1 2.2 0 2.2 -0.1 2.2 -0.1 2.2 -0.1 2.3 -0.1 2.2 -0.1 2.2 -0.1 2.2 -0.2 2.3 -0.1 2.2 -0.2M58.1 38.5l2.2 -0.1 2.2 0 2.2 -0.1 2.1 -0.1 2.2 -0.1 2.2 -0.1 2.2 -0.2 2.2 -0.2 2.2 -0.3 2.2 -0.2 2.2 -0.3 2.2 -0.4 2.2 -0.4 2.2 -0.4 2.1 -0.4 2.2 -0.5 2.2 -0.4 2.2 -0.5 2.2 -0.3 2.2 -0.2 2.2 -0.2 2.2 -0.3 2.1 -0.2 2.2 -0.5 2.1 -0.6 2 -0.9M96.7 42.8l2.1 0.3M57.6 38.4l2.2 -0.3 2.3 -0.4 2.2 -0.3 2.2 -0.4 2.3 -0.3 2.2 -0.4 2.3 -0.4 2.2 -0.4 2.3 -0.4 2.2 -0.4 2.3 -0.4 2.2 -0.4 2.2 -0.4 2.3 -0.5 2.2 -0.4 2.3 -0.5 2.2 -0.4 2.3 -0.5M58.9 36.3l2.3 0 2.2 0 2.2 0 2.3 0.1 2.2 0 2.2 0 2.3 0.1 2.2 0 2.2 0.1 2.3 0.1 2.2 0.1 2.3 0.1 2.2 0.1 2.2 0.2 2.3 0.1 2.2 0.2M109 45.1l2.2 0.4 2.1 0.5M106.5 26.4l2.2 -0.2M58.7 37.9l2.2 0.3 2.2 0.4 2.2 0.3 2.2 0.4 2.2 0.3 2.2 0.4 2.3 0.3 2.2 0.3 2.2 0.3 2.2 0.3 2.2 0.3 2.2 0.3 2.2 0.3 2.3 0.2 2.2 0.3 2.2 0.2 2.2 0.2 2.2 0.3M103.9 32.8l2.2 -0.2M99.3 20.6l2.1 -0.7 2.1 -0.7M59 35.6l2 0.7 2.1 0.6 2 0.7 2.1 0.7 2 0.7 2.1 0.8 2 0.8 2.1 0.8 2 0.9 2.1 0.9 2 0.9 2 1 2.1 1 2 1.1 2.1 1.1 2 1.1 2.1 1.1 2 1.2 2.1 1.1 2 0.8 2.1 0.8 2 0.8 2.2 0.6 2.1 0.4 2.2 0.2 2.2 0 2.2 -0.2M57.6 36.7l2.3 -0.7 2.3 -0.7 2.3 -0.7 2.3 -0.6 2.3 -0.6 2.2 -0.6 2.3 -0.5 2.3 -0.5 2.3 -0.4 2.3 -0.3 2.3 -0.3 2.3 -0.3 2.3 -0.2 2.3 -0.2 2.2 -0.1 2.3 -0.2 2.3 -0.1 2.2 -0.4 2.2 -0.2 2.2 -0.1 2.2 0 2.2 0.2 2.1 0.3 2.2 0.4 2.2 0.4M58 39.9l2.3 -0.3 2.2 -0.2 2.2 -0.2 2.3 -0.3 2.2 -0.2 2.2 -0.3 2.2 -0.4 2.3 -0.3 2.2 -0.4 2.2 -0.4 2.3 -0.4 2.2 -0.5 2.2 -0.5 2.3 -0.6 2.2 -0.6 2.2 -0.6 2.2 -0.6 2.3 -0.7 2.2 -0.7 2.2 -0.7" stroke="#0040f0" stroke-width="0.75" opacity="0.95"/><path d="M140.9 36.7l2 0.8M137.8 28.5l2.2 0.2M154.6 36.1l1 2M128 27.3l2.1 -0.5M157.9 31.2l2.2 0.1M134.8 29.1l2.2 0M117 44.9l2.3 0.2M143.8 45.5l2.2 0.2M148.5 50.8l2.2 0.3M121.3 33.5l2.2 -0.2M139 26.7l2.2 -0.1M147.7 39.9l2.2 0.1M158.9 38l2.2 -0.3M139.1 39.5l2.2 -0.3M171.2 25.4l2.2 -0.2" stroke="#00e090" stroke-width="0.75" opacity="0.95"/><path d="M141.3 46.4l2.2 0.5 2.1 0.5 2.2 0.3 2.2 0.2M145.4 31.4l1.6 1.5 1.8 1.3 2.1 0.7 2.2 0.2 2.1 -0.6 1.8 -1.2 1.7 -1.4 1.7 -1.5 1.7 -1.3 1.9 -1.1 2.1 -0.8 2 -0.8 2 -0.9 2.1 -0.8 2.1 -0.8 2.1 -0.3" stroke="#20e000" stroke-width="0.75" opacity="0.95"/><path d="M58.1 36.3l2.2 -0.6 2.1 -0.6 2.2 -0.6 2.2 -0.6 2.1 -0.5 2.2 -0.5 2.2 -0.5 2.1 -0.4 2.2 -0.3 2.2 -0.4 2.1 -0.3 2.2 -0.2 2.2 -0.3 2.1 -0.2 2.2 -0.3 2.2 -0.2 2.2 -0.2 2.2 -0.2 2.2 -0.1M110.3 32.1l2.2 -0.2 2.2 -0.1M119.2 26.8l2.2 -0.3 2.2 -0.4M118.9 56.1l2.2 0.6 2.1 0.5M124 44l2.2 0.2 2.2 0M118.8 35.4l2.2 -0.1 2.2 -0.1M124.4 50.7l2.2 0.2 2.2 0.3M109.7 28.4l2.2 -0.3 2.2 -0.3M56.5 40.2l2.3 0 2.2 0 2.3 0 2.3 0 2.2 0 2.3 -0.1 2.3 0 2.2 -0.1 2.3 0 2.3 -0.1 2.2 -0.1 2.3 -0.2 2.3 -0.1 2.2 -0.1 2.3 -0.2 2.3 -0.2 2.2 -0.2 2.3 -0.2 2.3 -0.2 2.2 -0.2 2.3 -0.3 2.2 0 2.2 -0.1M121.4 51.2l2.2 0.4 2.1 0.5M107 45.2l2.2 0.1 2.2 0.1M110.8 30.8l2.2 -0.4M110.9 32l2.3 -0.3 2.2 -0.3M119.8 39.4l2.2 0.1 2.2 0.1M107 35.7l2.2 -0.5 2.3 -0.4M107.1 18.1l2 -0.9 1.9 -1M119 35.3l2.2 -0.1 2.2 0M117.8 39.1l2.2 -0.2M121 35.4l2.2 0.1 2.2 0.2M112.1 44l2.2 -0.3 2.1 -0.4M110.3 28.8l2.2 -0.2 2.2 -0.2M114.2 52.3l2.2 0.4 2.2 0.2M112.4 53l2.2 0.5 2.1 0.3M56.5 36.1l2.2 -0.6 2.1 -0.6 2.2 -0.5 2.2 -0.6 2.1 -0.6 2.2 -0.6 2.1 -0.6 2.2 -0.7 2.1 -0.6 2.2 -0.7 2.1 -0.7 2.2 -0.7 2.1 -0.7 2.2 -0.7 2.1 -0.7 2.2 -0.8 2.1 -0.7 2.2 -0.8 2.2 -0.7 2.1 -0.6 2.1 -0.5 2.2 -0.4 2.1 -0.4 2.2 -0.4M120.2 27.7l2.2 -0.2 2.2 -0.1M107.2 44.9l2.2 0.5 2.2 0.5M114.7 35.3l2.2 -0.1 2.2 -0.1M116.5 26.5l2.1 -0.4M57.2 35.8l2.2 -0.8 2.3 -0.7 2.2 -0.7 2.3 -0.8 2.2 -0.7 2.3 -0.6 2.3 -0.7 2.2 -0.6 2.3 -0.6 2.2 -0.5 2.3 -0.6 2.2 -0.5 2.3 -0.5 2.2 -0.5 2.2 -0.5 2.2 -0.4 2.1 -0.2 2.2 -0.3 2.2 -0.2 2.2 -0.2 2.2 -0.1 2.2 -0.1 2.2 0M107.8 37.9l2.2 -0.2 2.2 -0.1M112.9 32.6l2.2 -0.2 2.2 -0.2M59.4 40.9l2.3 -0.2 2.3 -0.1 2.3 -0.1 2.4 0 2.3 0 2.3 0.1 2.3 0.1 2.3 0.1 2.3 0.3 2.3 0.3 2.3 0.4 2.3 0.4 2.4 0.5 2.3 0.5 2.3 0.5 2.3 0.6 2.2 0.1 2.2 0.2M58.2 35.4l2.3 0.2 2.2 0.3 2.2 0.3 2.2 0.2 2.3 0.3 2.2 0.2 2.2 0.2 2.2 0.2 2.3 0.2 2.2 0.2 2.2 0.1 2.2 0.2 2.3 0.1 2.2 0.1 2.2 0.1 2.2 0.1 2.2 0.1 2.3 0 2.2 0.1 2.2 0 2.2 0 2.3 0.1 2.2 0M120.5 21.7l2.1 -0.8 2.1 -0.7M108.5 51.4l2.2 0.4 2.1 0.3M109.7 25.9l2.2 -0.4 2.2 -0.3M112.3 26.9l2.2 -0.3 2.2 -0.3M57.5 41.2l2.3 -0.7 2.2 -0.8 2.2 -0.7 2.2 -0.7 2.2 -0.7 2.2 -0.7 2.2 -0.6 2.3 -0.6 2.2 -0.6 2.2 -0.5 2.2 -0.5 2.2 -0.5 2.2 -0.4 2.2 -0.4 2.3 -0.4 2.2 -0.3 2.2 -0.3 2.2 -0.3 2.2 -0.2 2.2 -0.3 2.3 -0.2 2.1 -0.5 2.2 -0.4M121.1 18.8l2.2 -0.1 2.2 -0.1M109.4 28.1l2.2 -0.4 2.2 -0.3M113.8 30.2l2.2 -0.4 2.2 -0.4M115.8 35.9l2.2 -0.2 2.2 -0.2M108.8 25.8l2.2 -0.4 2.1 -0.4M123.9 54.2l2.2 0 2.2 0M58.3 40.1l2.2 0.5 2.2 0.5 2.2 0.6 2.3 0.5 2.2 0.5 2.2 0.6 2.3 0.6 2.2 0.6 2.2 0.6 2.2 0.7 2.3 0.6 2.2 0.7 2.2 0.7 2.3 0.7 2.2 0.7 2.2 0.8 2.2 0.7 2.2 0.6 2.1 0.5 2.1 0.6 2.2 0.5 2.1 0.3 2.2 0.2" stroke="#0080ff" stroke-width="0.8" opacity="0.95"/><path d="M57.5 35.4l2.2 -0.1 2.2 -0.1 2.2 -0.1 2.2 -0.1 2.2 -0.1 2.2 -0.1 2.2 -0.1 2.2 -0.1 2.2 -0.1 2.2 -0.1 2.2 -0.2 2.2 -0.1 2.2 -0.1 2.2 -0.2 2.2 -0.1 2.2 -0.2 2.2 -0.2 2.2 -0.1 2.2 -0.2 2.2 -0.2 2.2 -0.2 2.2 -0.1 2.2 -0.2M114.9 27.9l2.2 -0.7 2.1 -0.4M116.8 55.6l2.1 0.5M119.6 43.4l2.2 0.3 2.2 0.3M114.4 35.4l2.2 0M120 50.1l2.2 0.3M107.5 28.7l2.2 -0.3M117.1 50.4l2.1 0.4 2.2 0.4M115 44.8l2.2 0.2M106.5 31.5l2.2 -0.3M106.4 32.7l2.3 -0.3 2.2 -0.4M115.4 39.4l2.2 0M114.6 35.5l2.2 -0.1M115.6 39.2l2.2 -0.1M116.6 35.2l2.2 0.1 2.2 0.1M107.7 44.2l2.2 -0.1M57.6 38.3l2.2 -0.5 2.2 -0.6 2.2 -0.5 2.2 -0.5 2.2 -0.5 2.1 -0.6 2.2 -0.4 2.2 -0.5 2.2 -0.5 2.2 -0.4 2.2 -0.5 2.2 -0.4 2.2 -0.4 2.2 -0.4 2.2 -0.3 2.2 -0.3 2.2 -0.4 2.2 -0.3 2.2 -0.3 2.2 -0.2 2.2 -0.3 2.2 -0.2 2.2 -0.3M112 51.9l2.2 0.4M110.3 52.6l2.1 0.4M116 34.5l2.2 -0.1M115.4 39.9l2.2 0M115.8 27.8l2.2 -0.1M105.7 44.2l2.2 0.2M58.6 38.5l2.2 0.1 2.2 0.1 2.2 0.1 2.2 0.1 2.2 0.2 2.2 0.1 2.3 0.2 2.2 0.2 2.2 0.2 2.2 0.3 2.2 0.2 2.2 0.3 2.2 0.3 2.2 0.4 2.2 0.4 2.2 0.4 2.2 0.4 2.2 0.4 2.2 0.5 2.2 0.5 2.2 0.5 2.3 0.5M112.5 35.4l2.2 -0.1M112.1 27.3l2.2 -0.4M108.3 33.1l2.3 -0.2 2.3 -0.3M116.3 23l2.1 -0.6 2.1 -0.7M57.3 36l2.2 -0.8 2.3 -0.7 2.2 -0.8 2.3 -0.7 2.2 -0.7 2.3 -0.7 2.2 -0.7 2.3 -0.7 2.2 -0.6 2.3 -0.6 2.3 -0.6 2.2 -0.6 2.3 -0.6 2.2 -0.6 2.2 -0.5 2.1 -0.4 2.2 -0.3 2.2 -0.3 2.2 -0.3 2.1 -0.2 2.2 -0.3M57.2 40.5l2.3 0.3 2.2 0.3 2.2 0.3 2.2 0.3 2.3 0.3 2.2 0.3 2.2 0.4 2.3 0.4 2.2 0.4 2.2 0.4 2.2 0.4 2.3 0.5 2.2 0.5 2.2 0.5 2.3 0.6 2.2 0.6 2.2 0.6 2.2 0.6 2.3 0.6 2.2 0.6 2.2 0.7 2.3 0.7 2.2 0.6M57.7 36l2.2 -0.4 2.1 -0.5 2.2 -0.4 2.2 -0.5 2.1 -0.4 2.2 -0.5 2.2 -0.4 2.1 -0.5 2.2 -0.4 2.2 -0.4 2.1 -0.5 2.2 -0.4 2.2 -0.4 2.1 -0.4 2.2 -0.4 2.2 -0.4 2.1 -0.4 2.2 -0.4 2.2 -0.4 2.1 -0.4 2.2 -0.4 2.2 -0.4 2.1 -0.4M107.3 21.8l2.2 -0.7M108 27.7l2.1 -0.4M118.9 18.9l2.2 -0.1M107.3 28.6l2.1 -0.5M111.6 30.5l2.2 -0.3M111.4 36.5l2.2 -0.3M57.2 39.1l2.1 -0.7 2.2 -0.7 2.1 -0.7 2.2 -0.6 2.1 -0.7 2.2 -0.6 2.1 -0.7 2.2 -0.6 2.1 -0.6 2.2 -0.6 2.1 -0.6 2.2 -0.6 2.1 -0.5 2.2 -0.6 2.1 -0.5 2.2 -0.5 2.2 -0.5 2.1 -0.4 2.2 -0.5 2.1 -0.4 2.2 -0.5 2.1 -0.4 2.2 -0.4 2.1 -0.4M119.5 53.8l2.2 0.3" stroke="#0070f0" stroke-width="0.8" opacity="0.95"/><path d="M108.1 32.3l2.2 -0.2M116.6 35.4l2.2 0M122.2 50.4l2.2 0.3M117.2 45l2.2 0.2M58.5 40.6l2.3 0.5 2.2 0.4 2.2 0.4 2.2 0.4 2.2 0.3 2.2 0.4 2.2 0.3 2.2 0.3 2.2 0.2 2.2 0.3 2.2 0.2 2.2 0.1 2.2 0.2 2.2 0.1 2.2 0 2.2 0.1 2.2 0 2.2 0 2.2 0.1 2.3 0 2.1 0.2 2.2 0.1M108.7 31.2l2.1 -0.4M56.7 38.7l2.2 0 2.3 0 2.2 0 2.3 0 2.2 -0.1 2.3 -0.1 2.2 -0.1 2.3 -0.2 2.2 -0.2 2.3 -0.3 2.2 -0.3 2.3 -0.3 2.2 -0.4 2.3 -0.4 2.2 -0.3 2.2 -0.2 2.2 -0.1 2.2 -0.2 2.2 -0.1 2.2 -0.1 2.2 -0.2M117.6 39.4l2.2 0M57.3 39.9l2.3 0 2.2 0 2.3 0 2.2 0 2.3 -0.1 2.3 0 2.2 -0.1 2.3 -0.1 2.2 -0.1 2.3 -0.1 2.2 -0.2 2.3 -0.2 2.2 -0.2 2.3 -0.3 2.3 -0.2 2.2 -0.3 2.3 -0.4 2.2 -0.3 2.3 -0.4 2.2 -0.4 2.3 -0.4 2.3 -0.4M57.2 39.7l2.1 -0.9 2.1 -0.9 2.1 -0.8 2 -0.9 2.1 -0.9 2.1 -0.9 2.1 -0.9 2.1 -0.9 2.1 -0.8 2.1 -0.9 2.1 -1 2.1 -0.9 2.1 -0.9 2.1 -0.9 2 -0.9 2.1 -0.9 2.1 -1 2.1 -0.9 2.1 -0.9 2.1 -1 2 -0.8 2.1 -0.9 2 -0.9 2 -0.9M116.8 35.4l2.2 -0.1M109.9 44.1l2.2 -0.1M108.1 29l2.2 -0.2M118 27.7l2.2 0M114.3 26.9l2.2 -0.4M59 37.7l2.2 0.1 2.3 0.1 2.2 0.1 2.2 0.2 2.2 0.1 2.2 0.1 2.2 0 2.2 0.1 2.3 0.1 2.2 0 2.2 0 2.2 0 2.2 0 2.2 0 2.3 0 2.2 -0.1 2.2 -0.1 2.2 -0.1 2.2 -0.1 2.2 -0.1 2.2 -0.1 2.3 -0.1M107.5 26.3l2.2 -0.4M110.1 27.3l2.2 -0.4M113.6 36.2l2.2 -0.3M121.7 54.1l2.2 0.1" stroke="#0070ff" stroke-width="0.8" opacity="0.95"/><path d="M114.7 31.8l2.2 -0.1M123.6 26.1l2.1 -0.3 2.2 -0.4M123.2 57.2l2.2 0.5 2.1 0.5M128.4 44.2l2.2 0 2.2 0M128.8 51.2l2.2 0.2M114.1 27.8l2.2 -0.1 2.2 -0.1M108.5 37.8l2.2 0 2.2 -0.1M111.4 45.4l2.2 0.1 2.2 0.1M115.4 31.4l2.1 -0.3 2.2 -0.3M124.2 39.6l2.1 0.2M111.5 34.8l2.2 -0.5M111 16.2l2 -0.2M123.4 35.2l2.2 0 2.2 0.2M125.4 35.7l2.2 0.2 2.2 0.3M116.4 43.3l2.2 -0.4 2.1 -0.5M114.7 28.4l2.1 -0.4M108.2 21.2l2.2 -0.2 2.2 -0.3M111.6 45.9l2.1 0.3 2.2 0.4M119.1 35.1l2.2 0 2.2 0M108.4 25l2.2 0 2.2 -0.1M112.2 37.6l2.2 -0.2M117.3 32.2l2.2 -0.1 2.2 -0.2M109.4 38.7l2.2 0M124.7 20.2l2 -0.8 2.1 -0.8M112.8 52.1l2.2 0.3 2.2 0.3M114.1 25.2l2.1 -0.2 2.2 -0.1M108.4 29.9l2.1 -0.4 2.2 -0.4M113.8 27.4l2.1 -0.3 2.2 -0.4M120.2 35.5l2.2 -0.2M113.1 25l2.2 -0.5 2.1 -0.3M128.3 54.2l2.2 -0.1 2.2 -0.1M109 53.4l2.2 0 2.2 0" stroke="#0090ff" stroke-width="0.8" opacity="0.95"/><path d="M116.9 31.7l2.2 0 2.2 -0.1M127.9 25.4l2.2 -0.2 2.2 -0.3M127.5 58.2l2.1 0.5 2.2 0.5M132.8 44.2l2.2 0.1M112.9 37.7l2.2 -0.1 2.2 0M115.8 45.6l2.2 0M119.7 30.8l2.2 -0.3 2.2 -0.3M126.3 39.8l2.2 0.2 2.2 0.2M113.7 34.3l2.3 -0.5 2.2 -0.2M127.8 35.4l2.2 0.2 2.2 0.2M116.8 28l2.2 -0.4 2.1 -0.6M115.9 46.6l2.2 0.4 2.1 0.4M123.5 35.1l2.2 0.2 2.2 0.1M114.4 37.4l2.2 0 2.2 -0.1M121.7 31.9l2.1 -0.1 2.2 0M111.6 38.7l2.2 0 2.2 -0.1M128.8 18.6l2 -0.8M118.4 24.9l2.2 -0.3 2.2 -0.1M112.7 29.1l2.2 -0.3 2.1 -0.4M118.1 26.7l2.2 -0.3M122.4 35.3l2.2 -0.1 2.2 0M117.4 24.2l2.2 -0.3 2.2 -0.3M113.4 53.4l2.2 -0.2 2.2 -0.3" stroke="#00a0ff" stroke-width="0.8" opacity="0.95"/><path d="M121.3 31.6l2.2 0 2.2 -0.1M131.8 59.2l2.2 0.4 2.1 0.4M117.3 37.6l2.2 -0.1M118 45.6l2.2 0 2.2 -0.1M124.1 30.2l2.2 -0.2M130.7 40.2l2.2 0.1 2.2 0M118.2 33.6l2.1 -0.3 2.2 -0.4M132.2 35.8l2.2 0.2M121.1 27l2.2 -0.5M127.9 35.4l2.1 0.2 2.2 0.2M118.8 37.3l2.2 -0.1 2.2 -0.2M116 38.6l2.2 -0.1 2.2 -0.2M117 28.4l2.2 -0.3 2.2 -0.3M126.8 35.2l2.2 0 2.2 -0.1M121.8 23.6l2.2 -0.1 2.2 -0.1M117.8 52.9l2.2 -0.3" stroke="#00b0ff" stroke-width="0.8" opacity="0.95"/><path d="M125.7 31.5l2.2 -0.1 2.2 -0.1M136.1 60l2.2 0.4M119.5 37.5l2.2 -0.2 2.2 -0.2M122.4 45.5l2.2 0 2.2 -0.1M126.3 30l2.2 -0.2 2.2 -0.2M122.5 32.9l2.1 -0.5 2.2 -0.6M134.4 36l2.1 0.3 2.2 0.3M132.2 35.8l2.2 0.2 2.2 0.2M123.2 37l2.2 -0.2 2.2 -0.2M120.4 38.3l2.2 -0.2M121.4 27.8l2.2 -0.3M131.2 35.1l2.2 0.1M126.2 23.4l2.2 -0.1 2.2 0" stroke="#00c0ff" stroke-width="0.8" opacity="0.95"/><path d="M130.1 31.3l2.2 0 2.2 0.1M126.8 31.8l2.1 -0.7 2.1 -0.7M127.6 36.6l2.2 -0.2 2.1 -0.3M130.6 23.3l2.2 0.2 2.2 0.2" stroke="#00d0ff" stroke-width="0.8" opacity="0.95"/><path d="M58.3 39.1l2.2 -0.3 2.2 -0.2 2.1 -0.2 2.2 -0.2 2.2 -0.3 2.2 -0.2 2.1 -0.3 2.2 -0.3 2.2 -0.3 2.2 -0.4 2.1 -0.3 2.2 -0.4 2.2 -0.4 2.2 -0.5 2.1 -0.4 2.2 -0.5 2.2 -0.5 2.2 -0.6 2.1 -0.5 2.2 -0.6 2.2 -0.6 2.2 -0.6 2.2 -0.7M59.2 39.3l2.1 0.8 2.2 0.7 2.1 0.8 2.1 0.8 2.2 0.7 2.1 0.7 2.1 0.7 2.2 0.8 2.1 0.6 2.1 0.7 2.2 0.7 2.1 0.6 2.1 0.6 2.2 0.6 2.1 0.6 2.1 0.6 2.2 0.5 2.1 0.5 2.1 0.5 2.2 0.5 2.1 0.5 2.1 0.5 2.2 0.5M109.3 46.7l2.1 0.5 2.2 0.6M58.2 40l2.3 0 2.3 0 2.3 0 2.2 -0.1 2.3 -0.1 2.3 0 2.3 -0.2 2.3 -0.1 2.2 -0.2 2.3 -0.3 2.3 -0.2 2.3 -0.3 2.2 -0.4 2.3 -0.4 2.3 -0.4 2.3 -0.4 2.2 -0.5 2.3 -0.5 2.3 -0.5 2.3 -0.5 2.2 -0.2M108.5 41.2l2.3 0.4 2.2 0.5M58 35.2l2.3 0.2 2.2 0.2 2.3 0.2 2.3 0.2 2.3 0.2 2.3 0.1 2.2 0.1 2.3 0 2.3 0 2.3 0 2.3 0 2.3 -0.1 2.2 -0.2 2.3 -0.2 2.3 -0.1 2.3 -0.3 2.3 -0.2 2.2 -0.2 2.2 0 2.2 -0.1 2.2 0M107 47l2.2 0.6 2.2 0.5M59 41.1l2.3 0.5 2.3 0.5 2.2 0.5 2.3 0.5 2.2 0.5 2.3 0.5 2.3 0.4 2.2 0.4 2.3 0.4 2.2 0.3 2.3 0.3 2.2 0.3 2.3 0.3 2.3 0.3 2.2 0.2 2.3 0.2 2.2 0.2 2.3 0.2 2.2 0.4 2.1 0.3 2.2 0.3 2.2 0.3 2.2 0.3M58.4 38.9l2.3 0 2.3 0.1 2.2 0 2.3 0.1 2.3 0.1 2.2 0.1 2.3 0.1 2.3 0.1 2.2 0.2 2.3 0.2 2.3 0.2 2.2 0.2 2.3 0.3 2.2 0.2 2.3 0.3 2.3 0.4 2.2 0.3 2.3 0.4 2.3 0.3 2.2 0.4 2.3 0.4M57.2 38.7l2.3 0.1 2.2 0.1 2.2 0.1 2.3 0 2.2 0.1 2.3 0.1 2.2 0 2.2 0.1 2.3 0 2.2 0.1 2.2 0 2.3 0 2.2 0.1 2.2 0 2.3 0 2.2 0 2.2 0 2.3 0 2.2 0 2.2 0 2.3 0 2.2 0M56.9 36.5l2.2 0 2.2 0 2.2 0 2.3 0 2.2 0 2.2 0 2.2 0 2.2 0 2.3 -0.1 2.2 0 2.2 0 2.2 0 2.2 -0.1 2.3 0 2.2 -0.1 2.2 0 2.2 -0.1 2.2 0 2.3 -0.1 2.2 -0.1 2.2 0 2.2 -0.1 2.2 -0.1M58.3 39.2l2.2 0 2.2 0 2.2 0 2.2 0 2.2 0 2.2 0 2.2 0 2.2 0 2.3 0 2.2 0 2.2 0.1 2.2 0 2.2 0 2.2 0.1 2.2 0 2.2 0 2.2 0.1 2.2 0 2.2 0.1 2.2 0 2.2 0 2.2 0M57.6 36.9l2.3 0.2 2.3 0.1 2.3 0.2 2.2 0.2 2.3 0.1 2.3 0.1 2.3 0.1 2.3 0.1 2.2 0 2.3 0 2.3 0 2.3 -0.1 2.2 -0.1 2.3 -0.1 2.3 -0.2 2.3 -0.2 2.3 -0.2 2.2 -0.3 2.3 -0.2 2.3 -0.3 2.3 -0.3 2.3 -0.3 2.2 -0.3M57.2 36l2.3 0.1 2.3 0 2.3 0.1 2.2 0 2.3 0 2.3 0.1 2.3 0 2.3 0 2.3 -0.1 2.3 0 2.3 0 2.2 -0.1 2.3 -0.1 2.3 0 2.3 -0.1 2.3 -0.1 2.3 -0.1 2.3 -0.1 2.3 -0.1 2.2 -0.1 2.2 -0.2 2.1 -0.1M57.8 39.6l2.2 0.4 2.3 0.3 2.2 0.4 2.2 0.3 2.2 0.2 2.3 0.3 2.2 0.2 2.2 0.1 2.3 0.1 2.2 0 2.2 0 2.2 0 2.3 -0.1 2.2 -0.2 2.2 -0.1 2.3 -0.2 2.2 -0.2 2.2 0 2.2 0.1 2.2 -0.1 2.2 -0.1 2.2 -0.2M56.7 35.1l2.2 0.6 2.2 0.5 2.2 0.6 2.2 0.5 2.2 0.6 2.2 0.6 2.2 0.5 2.2 0.6 2.2 0.5 2.2 0.6 2.2 0.6 2.2 0.5 2.2 0.6 2.2 0.5 2.2 0.6 2.2 0.6 2.2 0.5 2.2 0.6 2.1 0.5 2.2 0.4M57.9 41l2.2 -0.5 2.1 -0.5 2.1 -0.5 2.2 -0.5 2.1 -0.5 2.1 -0.5 2.2 -0.5 2.1 -0.6 2.1 -0.5 2.2 -0.5 2.1 -0.6 2.1 -0.5 2.2 -0.6 2.1 -0.6 2.1 -0.5 2.2 -0.6 2.1 -0.6 2.1 -0.6 2.2 -0.6 2.1 -0.6 2.1 -0.6 2.2 -0.5 2.2 -0.4M107.7 35.3l2.1 -0.3 2.2 -0.3M58.2 40.1l2.1 -0.4 2.1 -0.4 2.1 -0.4 2.2 -0.5 2.1 -0.4 2.1 -0.5 2.1 -0.5 2.1 -0.6 2.2 -0.6 2.1 -0.6 2.1 -0.7 2.1 -0.7 2.2 -0.7 2.1 -0.8 2.1 -0.8 2.1 -0.9 2.2 -0.9 2.1 -0.9 2.1 -0.9 2.1 -0.9 2.2 -1 2.1 -0.6 2.1 -0.7M106.4 48l2.1 0.4M58.5 41.2l2.2 -0.5 2.1 -0.6 2.2 -0.6 2.1 -0.5 2.1 -0.6 2.2 -0.6 2.1 -0.5 2.2 -0.6 2.1 -0.6 2.1 -0.7 2.2 -0.6 2.1 -0.6 2.2 -0.7 2.1 -0.7 2.1 -0.7 2.2 -0.7 2.1 -0.7 2.2 -0.7 2.1 -0.7 2.1 -0.8 2.2 -0.8 2.1 -0.7 2.2 -0.8M56.8 36.9l2.2 -1 2.1 -0.9 2.1 -0.9 2.2 -0.9 2.1 -0.9 2.1 -0.8 2.2 -0.9 2.1 -0.8 2.1 -0.8 2.2 -0.7 2.1 -0.7 2.1 -0.7 2.2 -0.7 2.1 -0.6 2.1 -0.6 2.1 -0.5 2.2 -0.6 2.1 -0.5 2.1 -0.5 2.2 -0.5 2.1 -0.4 2.1 -0.5 2.2 -0.6 2.1 -0.5 2.1 -0.5M57.7 37.5l2.2 0.5 2.2 0.4 2.2 0.5 2.3 0.4 2.2 0.4 2.2 0.4 2.2 0.5 2.2 0.3 2.3 0.4 2.2 0.4 2.2 0.4 2.2 0.3 2.2 0.4 2.3 0.3 2.2 0.3 2.1 0.1 2.2 -0.1 2.2 -0.2 2.2 -0.3 2.2 -0.4 2.2 -0.3M58.3 41l2.3 -0.4 2.2 -0.4 2.3 -0.4 2.2 -0.4 2.3 -0.3 2.2 -0.4 2.3 -0.3 2.2 -0.3 2.3 -0.3 2.2 -0.2 2.3 -0.2 2.2 -0.2 2.3 -0.2 2.2 -0.1 2.3 -0.1 2.2 -0.1 2.3 0 2.2 -0.1 2.3 0 2.2 0 2.2 -0.2 2.2 -0.2 2.2 -0.2M59.4 36.2l2.2 -0.5 2.1 -0.5 2.2 -0.5 2.2 -0.5 2.2 -0.5 2.2 -0.5 2.2 -0.4 2.2 -0.4 2.2 -0.4 2.2 -0.4 2.2 -0.3 2.2 -0.4 2.2 -0.3 2.2 -0.3 2.2 -0.2 2.2 -0.3 2.2 -0.2 2.2 -0.3 2.2 -0.2 2.1 -0.2 2.2 -0.3 2.2 -0.3 2.2 -0.1M106.6 50.6l2.2 0.6 2.1 0.5" stroke="#0040f0" stroke-width="0.8" opacity="0.95"/><path d="M108.4 29.8l2.1 -0.6M108.3 53.8l2.1 0.4 2.1 0.5M113.6 47.8l2.1 0.6M106 34.7l2.1 -0.3 2.2 -0.3M113 42.1l2.2 0.5M105.6 35l2.2 0.1 2.2 0.1M111.4 48.1l2.1 0.6 2.2 0.6M110.6 49.2l2.2 0.4M106 43.3l2.3 0.5 2.2 0.4M106.4 39.5l2.2 -0.1 2.3 0M107.9 35.7l2.3 0M106.8 39.6l2.2 0 2.2 -0.1M110 35.4l2.2 -0.1M59.4 35l2.1 0.5 2.1 0.5 2.1 0.5 2.1 0.5 2.1 0.6 2.1 0.5 2.1 0.6 2.1 0.6 2.1 0.7 2.1 0.6 2.1 0.7 2.1 0.8 2.1 0.8 2.1 0.8 2.1 0.8 2.1 0.8 2.1 0.9 2.1 0.9 2.2 0.9 2.1 0.9 2 0.7 2.2 0.6 2.1 0.6M107.2 35.1l2.2 -0.2 2.2 -0.1M106.7 40.8l2.1 -0.3 2.2 -0.2M107.1 28.6l2.1 -0.3 2.2 -0.3M59.3 36.8l2.2 0.1 2.3 0.1 2.2 0.1 2.2 0 2.2 0.1 2.2 0 2.2 0.1 2.2 0 2.3 0 2.2 0 2.2 -0.1 2.2 0 2.2 -0.1 2.2 -0.1 2.2 -0.1 2.3 -0.1 2.2 -0.1 2.2 -0.2 2.2 -0.2 2.2 -0.1 2.2 -0.2 2.2 -0.2M58 38.1l2.2 -0.5 2.2 -0.6 2.1 -0.6 2.2 -0.5 2.2 -0.6 2.1 -0.5 2.2 -0.5 2.1 -0.5 2.2 -0.5 2.2 -0.5 2.1 -0.4 2.2 -0.5 2.2 -0.4 2.1 -0.4 2.2 -0.4 2.2 -0.4 2.1 -0.4 2.2 -0.3 2.1 -0.3 2.2 -0.4 2.2 -0.3 2.1 -0.3 2.2 -0.3M107 24.7l2.1 -0.6 2.1 -0.7M59.2 39.5l2.2 -0.3 2.3 -0.3 2.2 -0.3 2.3 -0.3 2.2 -0.3 2.3 -0.4 2.2 -0.3 2.3 -0.4 2.2 -0.4 2.3 -0.4 2.2 -0.5 2.3 -0.4 2.2 -0.5 2.3 -0.5 2.2 -0.5 2.3 -0.4 2.2 -0.5 2.2 -0.3 2.2 -0.3 2.2 -0.3 2.1 -0.2 2.2 -0.3M107.8 26.2l2.1 -0.8 2.1 -0.8M110.1 19.9l2.2 -0.4 2.2 -0.3M56.7 38.4l2.2 0 2.2 -0.1 2.2 -0.1 2.2 -0.1 2.2 -0.1 2.2 -0.1 2.2 -0.2 2.2 -0.1 2.2 -0.2 2.2 -0.3 2.2 -0.2 2.2 -0.3 2.2 -0.4 2.2 -0.3 2.2 -0.5 2.2 -0.4 2.2 -0.4 2.2 -0.5 2.2 -0.6 2.2 -0.5 2.2 -0.5 2.2 -0.6 2.2 -0.6M109.9 36l2.2 -0.1 2.2 0M109.8 28.2l2.2 0 2.2 0M57.8 41.2l2.2 -0.1 2.2 -0.1 2.3 -0.1 2.2 -0.1 2.2 -0.1 2.3 -0.1 2.2 -0.1 2.2 -0.1 2.3 -0.2 2.2 -0.1 2.2 -0.2 2.3 -0.2 2.2 -0.2 2.2 -0.2 2.3 -0.2 2.2 -0.3 2.2 -0.2 2.3 -0.3 2.2 -0.3 2.2 -0.3 2.3 -0.3 2.2 -0.3M58.9 36.1l2.3 0.3 2.3 0.3 2.3 0.3 2.3 0.3 2.3 0.3 2.3 0.2 2.3 0.3 2.3 0.2 2.3 0.2 2.2 0.2 2.3 0.1 2.3 0.2 2.3 0.1 2.3 0.1 2.3 0.1 2.3 0.1 2.3 0 2.3 0.1 2.3 0 2.3 0 2.3 0 2.2 0.2M110.9 51.7l2.2 0.6 2.2 0.5" stroke="#0050f0" stroke-width="0.8" opacity="0.95"/><path d="M110.5 29.2l2.2 -0.6 2.2 -0.7M112.5 54.7l2.2 0.4 2.1 0.5M115.7 48.4l2.1 0.6M110.3 34.1l2.2 -0.2 2.2 -0.2M115.2 42.6l2.3 0.4 2.1 0.4M110 35.2l2.2 0.1 2.2 0.1M115.7 49.3l2.2 0.4 2.1 0.4M57.6 35.5l2.3 -0.5 2.2 -0.6 2.3 -0.6 2.3 -0.5 2.3 -0.5 2.3 -0.5 2.3 -0.4 2.3 -0.4 2.2 -0.4 2.3 -0.3 2.3 -0.3 2.3 -0.2 2.3 -0.2 2.3 -0.1 2.3 -0.1 2.2 -0.1 2.3 -0.1 2.3 -0.1 2.3 0 2.2 -0.3 2.2 -0.3 2.1 -0.3M112.8 49.6l2.1 0.4 2.2 0.4M110.5 44.2l2.3 0.4 2.2 0.2M59.3 40.7l2.2 -0.1 2.3 -0.2 2.2 -0.2 2.3 -0.2 2.2 -0.2 2.3 -0.3 2.2 -0.3 2.3 -0.3 2.2 -0.3 2.3 -0.4 2.2 -0.5 2.3 -0.5 2.2 -0.5 2.3 -0.5 2.2 -0.6 2.3 -0.6 2.2 -0.7 2.3 -0.7 2.2 -0.6 2.3 -0.7 2.2 -0.8M57 38.6l2.2 -0.2 2.3 -0.2 2.2 -0.2 2.3 -0.3 2.2 -0.2 2.3 -0.2 2.2 -0.2 2.3 -0.3 2.2 -0.2 2.3 -0.3 2.2 -0.2 2.3 -0.3 2.2 -0.3 2.3 -0.3 2.2 -0.3 2.3 -0.3 2.2 -0.3 2.2 -0.3 2.3 -0.3 2.2 -0.3 2.3 -0.4 2.2 -0.3M110.9 39.4l2.2 0 2.3 0M110.2 35.7l2.2 -0.1 2.2 -0.1M111.2 39.5l2.2 -0.1 2.2 -0.2M112.2 35.3l2.2 -0.1 2.2 0M58.3 39.7l2.3 0.3 2.2 0.3 2.3 0.3 2.2 0.3 2.3 0.3 2.2 0.3 2.3 0.3 2.2 0.2 2.3 0.3 2.2 0.2 2.3 0.2 2.2 0.2 2.3 0.2 2.2 0.2 2.3 0.1 2.2 0.2 2.3 0.1 2.2 0.2 2.3 0.1 2.2 0.1 2.2 0.1 2.2 0M107.8 50.8l2.1 0.6 2.1 0.5M57.5 38.9l2.2 0.8 2.2 0.8 2.2 0.7 2.2 0.8 2.2 0.7 2.2 0.8 2.2 0.7 2.2 0.7 2.2 0.6 2.2 0.6 2.2 0.6 2.2 0.6 2.2 0.5 2.2 0.5 2.2 0.5 2.2 0.5 2.2 0.4 2.2 0.4 2.3 0.4 2.2 0.4 2.2 0.3 2.2 0.4 2.1 0.5 2.2 0.5M111.6 34.8l2.2 -0.2 2.2 -0.1M111 40.3l2.2 -0.3 2.2 -0.1M111.4 28l2.2 -0.1 2.2 -0.1M57.3 36.3l2.2 0.6 2.2 0.7 2.2 0.7 2.2 0.6 2.2 0.6 2.2 0.5 2.2 0.6 2.2 0.4 2.2 0.5 2.2 0.4 2.2 0.3 2.3 0.3 2.2 0.2 2.2 0.2 2.2 0.2 2.2 0.1 2.2 0.1 2.2 0.1 2.2 0.1 2.2 0 2.2 0.4 2.1 0.3M108 35.8l2.3 -0.2 2.2 -0.2M107.8 28l2.2 -0.3 2.1 -0.4M111.2 23.4l2.1 -0.5M58.1 38.9l2.1 -0.6 2.1 -0.5 2.2 -0.6 2.1 -0.6 2.1 -0.7 2.2 -0.6 2.1 -0.6 2.1 -0.7 2.2 -0.7 2.1 -0.7 2.1 -0.7 2.1 -0.7 2.2 -0.7 2.1 -0.8 2.1 -0.7 2.2 -0.6 2.1 -0.6 2.1 -0.6 2.1 -0.5M108.3 31.4l2.2 -0.3M58.5 37.9l2.2 -0.2 2.3 -0.2 2.3 -0.2 2.2 -0.2 2.3 -0.2 2.3 -0.3 2.2 -0.2 2.3 -0.2 2.3 -0.2 2.2 -0.2 2.3 -0.2 2.3 -0.3 2.2 -0.2 2.3 -0.2 2.3 -0.2 2.2 -0.2 2.3 -0.3 2.3 -0.2 2.2 -0.2 2.3 -0.2 2.3 -0.3 2.2 -0.2M112 24.6l2.2 -0.8 2.1 -0.8M58.3 37.7l2.1 -1 2.2 -1.1 2.1 -1 2.1 -0.9 2.2 -1 2.1 -0.9 2.2 -0.8 2.1 -0.8 2.1 -0.8 2.2 -0.7 2.1 -0.7 2.2 -0.5 2.1 -0.6 2.1 -0.5 2.2 -0.5 2.1 -0.4 2.2 -0.4 2.1 -0.4 2.1 -0.4 2.1 -0.6 2.1 -0.7 2.1 -0.6 2.1 -0.6M58.4 40.5l2.2 -0.6 2.1 -0.6 2.2 -0.6 2.1 -0.6 2.2 -0.6 2.1 -0.6 2.2 -0.6 2.1 -0.6 2.2 -0.5 2.2 -0.6 2.1 -0.6 2.2 -0.5 2.1 -0.6 2.2 -0.5 2.1 -0.5 2.2 -0.6 2.2 -0.5 2.1 -0.5 2.2 -0.5 2.1 -0.5 2.2 -0.6 2.1 -0.5 2.2 -0.5M114.5 19.2l2.2 -0.2 2.2 -0.1M57.7 40.3l2.2 0.1 2.2 0.1 2.3 0.1 2.2 0.1 2.2 0.2 2.3 0.2 2.2 0.3 2.2 0.3 2.3 0.4 2.2 0.5 2.2 0.5 2.3 0.6 2.2 0.6 2.2 0.6 2.3 0.6 2.2 0.3 2.1 0.4 2.2 0.4 2.1 0.7 2 0.8 2.1 0.7M57.9 38.9l2.3 -0.7 2.2 -0.7 2.3 -0.8 2.2 -0.7 2.2 -0.6 2.3 -0.7 2.2 -0.6 2.3 -0.6 2.2 -0.6 2.3 -0.5 2.2 -0.5 2.2 -0.4 2.3 -0.5 2.2 -0.3 2.3 -0.4 2.2 -0.3 2.2 -0.3 2.3 -0.2 2.2 -0.3 2.3 -0.2 2.2 -0.2 2.3 -0.2M58.1 41.1l2.2 -0.1 2.2 0 2.2 -0.1 2.2 -0.1 2.2 0 2.2 -0.1 2.2 0 2.2 0 2.2 0 2.2 0.1 2.2 0 2.2 0.1 2.2 0 2.2 0.1 2.2 0.1 2.2 -0.1 2.2 -0.1 2.2 -0.1 2.2 -0.2 2.2 -0.3 2.2 -0.3M107.3 31.3l2.2 -0.6 2.1 -0.2M114.3 35.9l2.2 -0.1M114.2 28.2l2.2 0M106.9 37.1l2.2 -0.3 2.3 -0.3M109.3 39.7l2.2 0.1 2.2 0.1M115.3 52.8l2.1 0.6 2.1 0.4" stroke="#0060f0" stroke-width="0.8" opacity="0.95"/><path d="M59.2 35.4l2.1 0.6 2.2 0.6 2.2 0.6 2.2 0.6 2.2 0.6 2.2 0.6 2.2 0.5 2.2 0.6 2.1 0.5 2.2 0.5 2.2 0.5 2.2 0.4 2.2 0.5 2.2 0.4 2.2 0.4 2.1 0.4 2.2 0.4 2.2 0.4 2.2 0.3 2.2 0.4 2.1 0.5 2.2 0.5 2.1 0.5M59.4 35l2.2 0.2 2.3 0.1 2.2 0.2 2.2 0.1 2.3 0.2 2.2 0.2 2.2 0.2 2.3 0.2 2.2 0.2 2.2 0.2 2.3 0.3 2.2 0.3 2.2 0.3 2.3 0.3 2.2 0.3 2.2 0.4 2.3 0.4 2.2 0.4 2.2 0.4 2.3 0.4 2.2 0.4 2.2 0.5M59.4 36l2.2 0.5 2.1 0.4 2.2 0.5 2.2 0.4 2.1 0.5 2.2 0.4 2.2 0.5 2.1 0.5 2.2 0.4 2.2 0.5 2.1 0.5 2.2 0.5 2.2 0.5 2.1 0.5 2.2 0.6 2.1 0.5 2.2 0.5 2.2 0.6 2.1 0.5 2.2 0.6 2.2 0.5 2.1 0.6M56.9 37.7l2.4 -0.2 2.3 -0.2 2.4 -0.2 2.4 -0.2 2.3 -0.1 2.4 -0.2 2.3 -0.1 2.4 -0.1 2.3 -0.1 2.4 -0.1 2.3 -0.1 2.4 -0.1 2.3 0 2.4 -0.1 2.2 -0.1 2.2 0.1 2.2 0.1M57.7 38.6l2.2 0.4 2.1 0.3 2.2 0.4 2.1 0.4 2.2 0.4 2.1 0.5 2.1 0.5 2.2 0.7 2.1 0.6 2.2 0.8 2.1 0.8 2.2 0.8 2.1 0.9 2.2 1 2.1 1 2.2 1 2.1 1 2.1 0.6 2.1 0.6 2.2 0.5 2.1 0.4M57.3 38.8l2.2 0.1 2.2 0.2 2.2 0.1 2.3 0.2 2.2 0.1 2.2 0.1 2.2 0.1 2.3 0.1 2.2 0.1 2.2 0.1 2.2 0 2.3 0.1 2.2 0 2.2 0 2.2 0 2.3 0.1 2.2 0 2.2 0 2.2 0 2.2 0.1 2.2 0.1M59.5 37.2l2.3 0 2.3 0 2.3 0 2.3 0 2.3 0 2.3 0 2.3 0 2.3 0 2.3 -0.1 2.3 -0.1 2.3 0 2.4 -0.1 2.3 -0.2 2.3 -0.1 2.3 -0.1 2.3 -0.2 2.3 -0.1 2.3 -0.2 2.3 -0.2 2.2 -0.2 2.2 -0.3M59 39.4l2.3 0.3 2.3 0.3 2.2 0.4 2.3 0.3 2.3 0.4 2.3 0.4 2.3 0.4 2.3 0.4 2.3 0.4 2.3 0.5 2.3 0.5 2.3 0.5 2.3 0.5 2.3 0.5 2.2 0.6 2.2 0.4 2.2 0.4 2.1 0.4 2.2 0.3 2.2 0.3 2.2 0.4M57.4 38.4l2.2 0.1 2.2 0.1 2.1 0.1 2.2 0 2.2 0 2.2 -0.2 2.2 -0.2 2.2 -0.3 2.2 -0.5 2.2 -0.5 2.2 -0.5 2.2 -0.7 2.2 -0.6 2.2 -0.7 2.1 -0.2 2.2 -0.1M59.1 35.5l2.1 0.8 2.2 0.8 2.1 0.7 2.2 0.8 2.2 0.8 2.1 0.7 2.2 0.8 2.2 0.7 2.1 0.7 2.2 0.8 2.1 0.7 2.2 0.6 2.2 0.7 2.1 0.7 2.2 0.6 2.1 0.7 2.2 0.6 2.2 0.6 2.1 0.6 2.2 0.6 2.2 0.5 2.1 0.6" stroke="#0030f0" stroke-width="0.8" opacity="0.95"/><path d="M131 30.4l2 -0.6 2.1 -0.7M131.9 36.1l2.2 -0.4 2.2 -0.5" stroke="#00e0ff" stroke-width="0.8" opacity="0.95"/><path d="M135.1 29.1l2.1 -0.7M136.3 35.2l2.1 -0.5" stroke="#00f0ff" stroke-width="0.8" opacity="0.95"/><path d="M138.4 34.7l2.1 -0.5" stroke="#00f0f0" stroke-width="0.8" opacity="0.95"/><path d="M57.8 34.9l2 -0.9 2 -0.8 2 -0.9 2 -0.8 1.9 -0.9 2 -1 2 -0.9 2 -1 2 -1.1 2 -1.1 1.9 -1.1 2 -1.1 2 -1.2 2 -1.2 2 -1.3M57.2 37.9l2 -1.1 1.9 -1.1 2 -1 1.9 -1.1 2 -1.1M58.1 36.8l2 -0.8 2.1 -0.8 2 -0.8M58 34.8l1.9 -1.2 2 -1.1 1.9 -1.2 1.9 -1.2 2 -1.1 1.9 -1.2 2 -1.1 1.9 -1 2 -1.1M57.6 37l1.8 -1.7 1.7 -1.7 1.8 -1.7 1.8 -1.6 1.7 -1.6 1.8 -1.5 1.7 -1.4 1.8 -1.3 1.7 -1.3 1.8 -1.2 1.8 -1.1 1.7 -1.1M59.3 35.9l2 -0.9 2 -0.9 2.1 -0.8 2 -0.9 2 -0.9 2 -1 2 -1 2.1 -1 2 -1 2 -1.1 2 -1.1 2.1 -1.2 2 -1.1M57.3 36.7l1.9 -1.5 1.9 -1.5 1.9 -1.4 1.8 -1.4 1.9 -1.4M57.7 34.1l2.1 -1 2.1 -1 2 -1.1" stroke="#0040f0" stroke-width="0.7"/><path d="M87.6 19.6l2 -1.2 2 -1.3 2 -0.9 2 -0.7 2.1 0.3 2.2 0.3 2.2 0.3 2.2 0.3 2.2 0.3 2.2 0.3 2.2 0.4 2.2 0.3M67 32.5l1.9 -1.2 2 -1.1 2 -1.2 1.9 -1.2 2 -1.2 1.9 -1.2 2 -1.3 1.9 -1.3 2 -1.3 1.9 -1.3 2 -1.3 1.9 -1.3 2 -1.1 2 -0.8 2.1 -0.2 2.1 0.4 2.2 0.6 2.1 0.7M64.2 34.4l2 -0.9 2.1 -0.9 2 -0.9 2 -1 2.1 -1 2 -1.1 2 -1.2 2.1 -1.2 2 -1.3 2 -1.3 2.1 -1.4 2 -1.3 2 -1.5M57.4 36.5l1.8 -1.2 1.9 -1.2 1.8 -1.2 1.9 -1.3 1.8 -1.2 1.9 -1.3 1.8 -1.4 1.8 -1.3 1.9 -1.4M75.5 24.6l1.9 -1 2 -1 1.9 -0.9 2 -0.9 1.9 -0.9 2 -0.9 1.9 -0.9 2 -0.8 1.9 -0.9 2.1 -0.8 2.1 -0.1 2.1 0.4 2.2 0.5 2.2 0.5M57.2 35.9l1.9 -1 2 -1 1.9 -1 1.9 -1 2 -1.1 1.9 -1 1.9 -1 2 -1.1 1.9 -1 2 -1.1 1.9 -1.1 1.9 -1.1M78.7 19.8l1.8 -1.1 1.7 -1 1.8 -1.3 1.9 -0.9 2.1 0.5 2.2 0.5 2.1 0.4 2.2 0.5 2.1 0.5 2.1 0.7M59.6 38l1.9 -1M59 37.1l1.8 -1.2 1.8 -1.2 1.8 -1.1 1.9 -1.2 1.8 -1.3 1.8 -1.2 1.8 -1.3 1.8 -1.3M85.6 23l2 -1.2 2 -1.2 2 -1.2 2.1 -0.9 2.1 -0.6 2.1 -0.6 2.2 -0.4 2.1 -0.2 2.2 -0.1 2.2 -0.1 2.2 -0.1 2.2 0 2.2 0.1 2.2 0.2M66.7 29.5l1.9 -1.4 1.9 -1.3 1.9 -1.2 1.9 -1.3 1.9 -1.1 1.9 -1.2 1.9 -1.1 1.9 -1.1 1.8 -1.1 1.9 -1 1.9 -1.1 2 -1M63.9 31l2.1 -1 2.1 -1 2.1 -1.1 2.1 -1 2 -1.1 2.1 -1 2.1 -1.1 2.1 -1 2 -1.1 2.1 -1.1 2.1 -1.1M57.4 37.2l1.9 -1.4 1.9 -1.3 1.9 -1.4 1.9 -1.3 1.9 -1.3 1.9 -1.3 1.9 -1.2 1.9 -1.2" stroke="#0050f0" stroke-width="0.7"/><path d="M113.1 18l2.2 0.4 2.2 0.4 2.2 0.4 2.1 0.3 2.2 0.3 2.2 0.2 2.2 0.2 2.2 0.2 2.2 0.2 2.2 0.2 2.2 0.1 2.2 0.2 2.2 0.1M58.8 35.1l2 -0.9 1.9 -0.8 1.9 -0.9 2 -0.9 1.9 -0.9 1.9 -1 2 -1 1.9 -1 1.9 -1.1 2 -1.1 1.9 -1.2 1.9 -1.2 2 -1.2 1.9 -1.3 1.9 -1.3 2 -1.2M102.9 17.2l2.1 0.7 2.2 0.7 2.1 0.6 2.2 0.6 2.2 0.5 2.1 0.4 2.2 0.3 2.2 0.2 2.2 0 2.2 0 2.2 -0.1 2.2 -0.1 2.2 0 2.2 -0.1 2.2 0 2.2 -0.1 2.2 0 2.2 0.1M90.6 19.4l2 -1.4 2 -0.9 2 -0.9 2.1 -0.7 2.2 0.4 2.1 0.4 2.2 0.4 2.2 0.4 2.2 0.3 2.2 0.4 2.2 0.4 2.2 0.2 2.2 0.3 2.2 0.1 2.2 0M57.7 36.4l2 -1.4 1.9 -1.4 2 -1.4 2 -1.4 1.9 -1.3 2 -1.4 1.9 -1.2 2 -1.3 2 -1.2 1.9 -1.2 2 -1.1 1.9 -1.1M58.3 34.7l1.9 -1 1.9 -1 2 -1.1 1.9 -1 2 -1 1.9 -1.1 2 -1 1.9 -1.1 2 -1.1 1.9 -1.1 2 -1.1 1.9 -1.1M59.4 36.7l1.8 -0.9 1.8 -1 1.8 -1 1.9 -1 1.8 -1.2 1.8 -1.2 1.8 -1.3 1.8 -1.4 1.8 -1.5 1.8 -1.6M58.5 35.4l1.8 -1.6 1.9 -1.6 1.9 -1.5 1.9 -1.4 1.8 -1.4 1.9 -1.3M74 25l1.8 -1.4 1.9 -1.4 1.8 -1.5 1.9 -1.5 1.8 -1.4 1.9 -1.2 1.9 -1 2 -0.1 2.2 0.4 2.2 0.3 2.1 0.4 2.2 0.2 2.2 0.2 2.2 0.3 2.2 0.3 2.2 0.2M103.7 16.9l2.1 0.6 2.2 0.6 2.1 0.5 2.2 0.6 2.2 0.5 2.1 0.6 2.2 0.4 2.2 0.3 2.2 0.3 2.2 0.3 2.2 0.3 2.1 0.4 2.2 0.5 2.1 0.4M80.4 23.4l2 -1.1 1.9 -1.1 1.9 -1.1 2 -1.1 1.9 -1.1 1.9 -1.1 2 -0.9 2.1 -0.4 2.2 0.3 2.2 0.3 2.2 0.2 2.2 0.2M58.5 35.2l2 -0.8 2 -0.8 2.1 -0.7 2 -0.8 2 -0.8M58.9 34.8l1.8 -1.1 1.9 -1.2 1.9 -1.1 1.9 -1.3 1.9 -1.2 1.9 -1.4 1.8 -1.4 1.9 -1.4 1.9 -1.6M98.7 18.6l2.1 0.8 2 0.9 2.1 0.9 2.1 0.9 2 0.9 2.1 0.9 2.1 1 2 1 2 1 2 1 2.1 0.9 2 0.7M61.5 37l1.9 -0.9 1.9 -1 1.8 -0.9 1.9 -1 1.9 -1.1 1.9 -1.1 1.9 -1.1 1.9 -1.2 1.8 -1.3 1.9 -1.2 1.9 -1.4 1.9 -1.3 1.9 -1.4 1.8 -1.5 1.9 -1.4 1.9 -1.4 1.9 -1.1 2 -1.1M73.5 27.3l1.9 -1.3 1.8 -1.4 1.8 -1.3 1.8 -1.4 1.8 -1.5 1.9 -1.4 1.8 -1.5 1.8 -1.4 1.9 -0.6 2.1 0.5 2.1 0.6 2.2 0.4 2.2 0.3 2.1 0.4 2.2 0.4 2.2 0.5M115.4 16.7l2.2 0.2 2.2 0.1 2.2 0 2.2 0 2.2 0 2.2 0 2.2 0 2.2 0 2.2 0 2.2 0 2.2 0.1 2.2 0.1 2.2 0 2.2 -0.1M89.5 15.6l2.1 -0.1 2.2 0.3 2.1 0.3 2.2 0.2 2.2 0 2.2 0.2 2.2 0.1 2.2 0 2.2 0 2.2 -0.1 2.2 0 2.2 0.2M86.8 19.4l2 -0.9 2.1 -0.8 2 -0.7 2.1 -0.7 2.1 -0.6 2.2 -0.2 2.2 0.3 2.2 0.3 2.2 0.3 2.2 0.2 2.2 0.1 2.2 0.2 2.2 0.3M57.6 35.1l1.9 -0.8 1.9 -0.9 1.9 -0.8 1.9 -1 1.9 -1 2 -1 1.9 -1.2 1.9 -1.2 1.9 -1.3 1.9 -1.4 1.9 -1.5 1.9 -1.5 1.9 -1.6 1.9 -1.6 1.9 -1.6M57.9 36.4l2 -1.1 2 -1.1 2 -1.1 2.1 -1.2 2 -1.1 2 -1.1 2 -1.2 2.1 -1.1M72.6 26.8l1.9 -1.2 1.9 -1.1 1.9 -1.1 1.9 -1 1.8 -1.1 1.9 -0.9 1.9 -1 1.9 -1 1.9 -0.9 1.9 -0.9 2 -1 2 -0.1" stroke="#0060f0" stroke-width="0.7"/><path d="M141.6 21.2l2.2 0.1 2.2 0M89.8 18.1l1.9 -1.3 2 -1 1.9 -0.3 2.2 0.3 2.2 0.3 2.2 0.4 2.2 0.4 2.2 0.3 2.2 0.3 2.1 0.3 2.2 0.2M142.2 20.9l2.2 0.2 2.2 0.3 2.2 0.3 2.2 -1.3 2.1 0.2 2.2 0.1M122.8 18.8l2.2 0 2.2 -0.1 2.2 -0.1 2.2 0 2.2 -0.1 2.2 0 2.2 -0.1 2.2 0M81.2 21l2 -1 2 -1.1 1.9 -1 2 -1 1.9 -1 2 -0.4 2.1 0.5 2.2 0.4 2.2 0.4 2.1 0.4 2.2 0.4 2.2 0.3M81.6 22l2 -1.2 1.9 -1.1 1.9 -1.2 2 -1.1 1.9 -1.2 2 -0.7 2.1 0.5 2.2 0.4 2.2 0.3 2.2 0.3M77.5 24.6l1.8 -1.7 1.8 -1.7 1.8 -1.7 1.9 -1.1 2 -1 2 -0.8 2.1 -0.6 2.2 -0.5 2.2 0.2M69.7 26.6l1.9 -1.3 1.8 -1.1 1.9 -1.1 1.9 -1 1.9 -1 1.8 -0.9 1.9 -0.9 1.9 -1.2 1.9 -1 2 -0.9 2.1 -0.7 2.1 0.3M106.5 17.8l2.2 0.2 2.2 0.1 2.2 0 2.2 0 2.2 0 2.2 0.1 2.2 -0.1 2.2 -0.1 2.2 -0.2M134 23.2l2.2 0.6 2.1 0.6 2.1 0.6 2.1 0.7 2.1 0.6 2.1 0.5 2.2 0.5 2.1 -1.1 2.2 0.3M104.9 16.5l2.2 0.1 2.2 0.2 2.2 0.3 2.2 0.5 2.1 0.4 2.2 0.5 2.2 0.6M68.6 31.3l2 -0.8 2 -0.9 2.1 -0.9 2 -0.9 2 -0.9 2 -1 2.1 -1 2 -1 2 -1 2 -1.1 2 -1 2.1 -1.1M75.8 23.1l1.9 -1.5 1.9 -1.6 1.8 -1.7 1.9 -1.6 1.9 -1.2 2.1 0.5 2.2 0.2 2.2 0.2 2.2 0.1 2.2 -0.1 2.2 -0.1M123.3 29.5l2.2 0.6 2.1 0.5 2.2 0.5 2.1 0.3 2.2 0.2 2.2 0.1 2.2 0M95.5 15.6l1.9 -0.1 2.2 0.5 2.2 0.5 2.1 0.6 2.2 0.6 2.2 0.5 2.1 0.5 2.2 0.4 2.2 0.4M105.1 18.6l2.2 0.5 2.2 0.5 2.1 0.5 2.2 0.6 2.1 0.6 2.2 0.5 2.2 0.4 2.2 0.2 2.2 0.1M146.2 17.1l2.2 0 2.1 -1.6 2.2 -0.2 2.2 -0.1 2.2 -0.2 2.2 -0.1 2.2 -0.2 2.2 -0.1 2.2 -0.1 2.2 -0.2M115.7 16.7l2.2 0.2 2.2 0.2 2.2 0 2.2 0 2.2 0.1 2.2 0.1 2.2 0.1 2.2 0M114.7 17.2l2.2 0.4 2.1 0.4 2.2 0.3 2.2 0.3 2.2 0.3 2.1 0.4 2.2 0.5 2.2 0.4M86.2 16.7l2 -1.1 2 -0.1 2.1 0.4 2.2 0.4 2.2 0.4 2.1 0.3 2.2 0.3 2.2 0.3 2.2 0.1 2.2 0.1M74.1 27.4l2 -1.2 2 -1.1 2.1 -1.2 2 -1.2 2 -1.2 2 -1.2 2.1 -1.2 1.9 -1M95.5 15.5l2.2 0.4 2.1 0.4 2.2 0.7 2.1 0.6 2.1 0.8 2.2 0.7 2.1 0.7" stroke="#0070f0" stroke-width="0.7"/><path d="M113.1 18l2.2 0.3 2.2 0.2 2.2 0.1M140.4 18.4l2.2 0 2.2 -0.1 2.2 -0.1 2.2 -0.2M106 17.9l2.2 0.2 2.2 0.2 2.2 0.2 2.2 0.3M102 17l2.2 0.3 2.2 0 2.2 -0.1 2.1 -0.3M95.3 15.7l2.2 0 2.2 0 2.2 0.1M92.8 15.8l2.2 0.3 2.2 0.1 2.2 0.2M126.3 17.8l2.2 -0.1 2.2 -0.2 2.2 -0.1M153.2 26.5l2.1 0.2 2.2 0.1 2.2 0 2.2 0M120.2 19.1l2.2 0.3 2.1 0.3M92.9 19.7l2 -1.1 2 -0.8 2.2 -0.6 2.1 -0.5 2.1 -0.4M98.3 16.3l2.2 0 2.2 0.1 2.2 0.1 2.2 0.1M138.5 31.7l2.2 -0.2 2.2 -0.3M114.8 19.5l2.2 0.4 2.2 0.2 2.2 0.2 2.2 0.1M124.7 22.5l2.2 0 2.2 -0.1 2.2 -0.2 2.2 -0.3M168.1 14.3l2.2 -0.1 2.2 -0.2 2.2 -0.1M133.3 17.4l2.2 0 2.2 -0.2 2.2 -0.2M132.1 20.2l2.1 0.5 2.2 0.4 2.1 0.3M107.6 17.8l2.2 0 2.2 0.1 2.2 0.1M90.2 18.1l2 -0.9 2.1 -0.8 2 -0.7M110.5 19.8l2.1 0.8 2.1 0.8" stroke="#0070ff" stroke-width="0.7"/><path d="M119.7 18.6l2.2 0.1 2.2 0 2.2 0 2.2 -0.1 2.2 -0.1 2.2 -0.1 2.2 -0.1 2.2 0.1 2.2 0.1 2.2 0.2 2.2 0.2 2.2 0.3 2.2 0.3 2.2 -1.3M149.2 18l2.2 -1.8 2.2 -0.3 2.2 -0.3 2.1 -0.4 2.2 -0.4M114.8 18.8l2.2 0.4 2.2 0.5 2.1 0.5 2.2 0.4 2.1 0.5 2.2 0.6 2.1 0.6 2.1 0.5 2.1 0.6 2.2 0.5 2.1 0.6 2.1 0.5 2.2 0.6 2.1 0.6 2.1 0.5 2.2 0.5 2.1 -1 2.1 0.4M110.7 16.9l2.1 -0.4 2.1 0.1 2.2 0.4 2.2 0.3 2.2 0.1 2.2 0 2.2 0.1 2.2 0.1 2.2 0.1 2.2 0.2 2.2 0.1 2.2 0.3 2.2 0.2 2.2 0.2 2.2 0.2M101.9 15.8l2.2 0.2 2.2 0.1 2.2 0.1 2.2 0.1 2.2 0.2 2.2 0.1 2.2 0.3 2.2 0.2 2.2 0 2.2 0.1 2.2 0 2.2 -0.1M99.4 16.4l2.2 0.3 2.2 0.4 2.2 0.3 2.2 0.3 2.2 0.4 2.2 0.4 2.2 0.3 2.2 0.4 2.1 0.4 2.2 0.2 2.2 0 2.2 -0.2 2.2 -0.3 2.2 -0.4 2.1 -0.4 2.2 -0.4M132.9 17.4l2.2 -0.1 2.2 0.1 2.2 0.1 2.1 0.1 2.2 0.2 2.2 0.3 2.2 0.3 2.2 -1.3 2.2 0.2 2.2 0.1 2.1 0 2.2 0.1 2.2 0.1 2.2 -0.1M161.9 26.8l2.2 0 2.2 -0.1 2.2 -0.2 2.2 -0.1 2.2 -0.1 2.2 0 2.2 -0.1 2.2 0 2.2 0 2.2 0 2.2 0.1M124.5 19.7l2.2 0.3 2.2 0.4 2.1 0.5 2.2 0.5 2.1 0.4 2.2 0.3 2.2 0.2 2.2 0.1 2.2 0.1 2.2 0.2 2.2 0 2.2 -1.5M103.3 16.3l2.2 -0.3 2.1 0.1 2.2 0.4 2.2 0.5 2.2 0.5 2.1 0.5 2.2 0.6 2.1 0.5 2.2 0.5 2.1 0.5 2.2 0.4 2.2 0.4 2.1 0.3 2.2 0.3 2.2 0.2 2.2 0.1 2.2 0M107.1 16.6l2.2 0.1 2.2 0.1 2.2 0.1 2.2 0.3 2.2 0.2 2.2 0.2 2.2 0 2.2 -0.1 2.2 0 2.2 0 2.2 -0.1 2.2 0 2.2 -0.1 2.2 -0.1 2.2 0 2.2 -0.1M142.9 31.2l2.1 -0.5 2.2 -0.4 2.1 -0.6 2.1 -2.3 2.1 -0.7 2.1 -0.8 2.1 -0.8 2.2 -0.7 2.1 -0.6 2.2 -0.6 2.1 -0.4M123.6 20.4l2.2 0.3 2.1 0.3 2.2 0.4 2.2 0.5 2.1 0.4 2.2 0.4 2.1 0.4 2.2 0.3 2.2 0.3 2.2 0.2 2.2 0.2 2.2 0.2 2.2 -1.5 2.2 0 2.2 -0.1M133.5 21.9l2.1 -0.2 2.2 -0.2 2.2 -0.3 2.2 -0.2 2.2 -0.2 2.2 -0.2 2.2 -0.2 2.2 -1.7 2.2 -0.3 2.2 -0.3 2.2 -0.4 2.1 -0.3 2.2 -0.4 2.2 -0.5M174.7 13.9l2.2 -0.2 2.2 -0.1 2.2 -0.1 2.2 -0.2 2.2 0 2.2 0 2.2 -0.1 2.2 0 2.2 -0.1 2.2 -0.2 2.2 -0.3 2.2 -0.4 2.2 -0.2 2.2 0 2.2 -0.2M139.9 17l2.1 0 2.2 0 2.2 0 2.2 0 2.2 -1.6 2.2 -0.1 2.2 -0.1 2.2 -0.2 2.2 -0.1 2.2 -0.2 2.2 -0.1M138.5 21.4l2.2 0.3 2.2 0.1 2.2 0.2 2.2 0.1 2.2 0 2.2 -1.5 2.2 -0.1 2.2 -0.2 2.2 -0.1 2.2 -0.1 2.2 -0.2 2.2 -0.1 2.2 -0.2M114.2 18l2.2 0.2 2.2 0.2 2.2 0 2.2 -0.1 2.2 -0.2 2.2 -0.1 2.2 0 2.2 -0.1 2.2 0 2.2 -0.1 2.2 -0.2 2.2 -0.1 2.2 -0.1 2.2 -0.2 2.2 -0.2M96.3 15.7l2.1 -0.2 2.2 0.3 2.2 0.3 2.2 0.3 2.2 0.2 2.2 0.2 2.2 0.1 2.2 0.2 2.2 0.3 2.2 0.3 2.2 0.5 2.1 0.4 2.2 0.4M114.7 21.4l2.1 0.9 2.1 0.8 2.1 0.7 2.1 0.6 2.1 0.6 2.2 0.5 2.1 0.5 2.2 0.3 2.2 0.3 2.1 0.3 2.2 0.3" stroke="#0080ff" stroke-width="0.7"/><path d="M153.3 26.6l2.2 0.2 2.2 0.2 2.2 0 2.2 0.1 2.1 0 2.2 0 2.2 -0.1M143.5 18.9l2.2 0.3 2.2 0.1 2.2 -1.5 2.2 -0.2 2.2 -0.2 2.1 -0.2 2.2 -0.3 2.2 -0.4 2.2 -0.4 2.2 -0.4 2.2 -0.3 2.2 -0.4M128.3 17.1l2.2 -0.1 2.2 0 2.2 0 2.2 0 2.2 0.1 2.2 0.1 2.2 0 2.2 0.1 2.2 0 2.2 -1.4 2.2 -0.1M134.4 18.1l2.2 -0.3 2.2 -0.4 2.1 -0.3 2.2 -0.1 2.2 0.1 2.2 0.1 2.2 0.1 2.2 -1.4 2.2 0.2 2.1 0.1 2.2 0.3 2.2 0.3 2.1 0.3 2.2 0.4M163.5 17.5l2.2 0 2.2 -0.1 2.2 -0.2 2.2 -0.2 2.2 -0.2 2.2 -0.2 2.2 -0.1 2.2 -0.2 2.2 0M150.7 21.2l2.2 -0.1 2.2 -0.1 2.2 -0.1 2.2 0 2.2 0 2.2 0 2.2 0 2.2 0 2.2 0M140.2 21.8l2.2 -0.2 2.2 -0.2 2.2 -0.1 2.2 -0.2 2.2 -1.7 2.2 -0.2 2.2 -0.3 2.2 -0.3 2.2 -0.2 2.2 -0.2 2.2 -0.1 2.2 0 2.2 0 2.2 0.1 2.2 0 2.1 -0.1M142.3 17.1l2.2 0 2.2 0 2.2 0 2.2 -1.7 2.2 -0.1 2.2 -0.2 2.2 -0.1 2.2 -0.1 2.2 -0.1 2.2 -0.1 2.2 0 2.2 0 2.2 0M166.3 22.8l2.2 -0.4 2.2 -0.3 2.2 -0.3 2.2 -0.2 2.2 -0.2 2.2 -0.2 2.2 -0.1 2.2 -0.2 2.2 0M156.3 22.7l2.2 0 2.2 -0.1 2.2 -0.3 2.2 -0.3 2.1 -0.3 2.2 -0.4 2.2 -0.3 2.2 -0.3 2.2 -0.4 2.2 -0.3 2.2 -0.3 2.2 -0.4 2.2 -0.2M164.1 16.5l2.2 -0.5 2.1 -0.5 2.2 -0.5 2.2 -0.5 2.2 -0.5 2.1 -0.3 2.2 0 2.2 -0.1 2.2 -0.2 2.2 -0.2 2.2 -0.1 2.2 -0.1M207.7 11.8l2.2 -0.2 2.2 -0.1M164 14.6l2.2 -0.1 2.2 -0.2 2.2 -0.1 2.2 -0.2 2.2 -0.1 2.2 -0.1 2.2 -0.2 2.2 0 2.2 -0.1 2.2 0 2.2 0M167.1 19.6l2.2 -0.2 2.2 -0.1 2.2 -0.2 2.2 -0.2 2.2 -0.1 2.2 -0.3 2.2 -0.3 2.2 -0.3 2.2 -0.3 2.2 -0.2 2.2 -0.3M147.2 17l2.2 0 2.2 -1.5 2.2 0 2.2 0 2.2 -0.1 2.2 0 2.2 0 2.1 0.1 2.2 0 2.2 0.1 2.2 0 2.2 0 2.2 -0.2M124.7 19l2.1 0.5 2.2 0.5 2.1 0.5 2.2 0.4 2.2 0.3 2.1 0.3 2.2 0.3 2.2 0.2 2.2 0.4 2.2 0.3 2.1 0.3M138.2 27.2l2.2 0.2 2.2 0.1 2.2 0.1 2.2 0 2.2 0 2.2 -1.6 2.2 -0.3 2.2 -0.2 2.2 -0.1" stroke="#0090ff" stroke-width="0.7"/><path d="M152.5 15.8l2.2 -0.3 2.2 -0.2 2.2 -0.2 2.2 -0.2 2.2 -0.1 2.2 -0.1 2.2 -0.3 2.2 -0.1 2.2 -0.2 2.2 0M164.9 17.5l2.1 0.3 2.2 0.3 2.1 0.3 2.2 0.3 2.1 0.5 2.1 0.4M170.5 20.9l2.2 -0.1 2.2 0 2.2 -0.1 2.2 -0.2 2.1 -0.3 2.2 -0.4 2.2 -0.6 2.1 -0.6 2.2 -0.7M175.3 18.1l2.2 -0.1 2.2 -0.1 2.2 -0.2 2.2 -0.2 2.2 -0.2 2.2 -0.3 2.2 -0.2 2.2 -0.2 2.2 -0.2M170.9 14.7l2.2 -0.1 2.2 -0.1 2.2 -0.2 2.2 -0.2 2.2 -0.3 2.1 -0.2 2.2 -0.2 2.2 0 2.2 -0.1 2.2 -0.1 2.2 -0.2 2.2 -0.2M186.1 20.9l2.2 0.1 2.2 0 2.2 0 2.2 0 2.2 0 2.2 0 2.2 0M184.8 19.1l2.2 -0.3 2.2 -0.2 2.2 -0.2 2.2 -0.1 2.2 -0.1 2.2 -0.1 2.2 -0.1 2.2 -0.1 2.2 -0.1 2.2 -0.1M190.3 13l2.2 -0.1 2.2 -0.2 2.2 -0.2 2.2 -0.2 2.2 -0.1 2.2 -0.2 2.2 -0.1 2.2 -0.2M188.2 13.5l2.2 0.2 2.2 0.2 2.1 0.2 2.2 0.2 2.2 0.4 2.1 0.4 2.1 0.5 2.1 0.6 2 0.7 2.1 0.6 2 0.7 2.1 0.6M191.3 17.1l2.2 -0.2 2.2 -0.3 2.2 -0.2 2.2 -0.2 2.2 -0.3 2.2 -0.3 2.2 -0.3 2.1 -0.4 2.2 -0.4 2.2 -0.5 2.2 -0.5 2.1 -0.6M175.7 15.4l2.2 -0.2 2.2 -0.3 2.2 -0.4 2.2 -0.5 2.1 -0.6 2.1 -0.4 2.2 0 2.2 0 2.2 -0.1 2.2 0 2.2 -0.2 2.2 -0.2 2.2 -0.2 2.2 -0.3 2.2 -0.3M148.5 23l2.2 -1.2 2.2 0 2.2 -0.1 2.2 -0.1 2.2 -0.2 2.2 -0.3 2.2 -0.3 2.2 -0.4 2.2 -0.5 2.1 -0.5 2.2 -0.5 2.2 -0.5 2.1 -0.5M158 25.4l2.2 -0.2 2.2 -0.2 2.2 -0.1 2.2 -0.1 2.2 -0.2 2.2 0 2.2 0 2.2 -0.1 2.2 0 2.2 0 2.2 -0.2" stroke="#00a0ff" stroke-width="0.7"/><path d="M213.6 18.8l2.1 0.5M208.5 11.7l2.2 -0.1 2.2 0 2.2 0 2.2 0 2.2 0 2.2 -0.1M176.9 17.9l2.2 -0.5 2.2 -0.5 2.1 -0.5 2.2 -0.5 2.2 -0.4 2.2 -0.4 2.2 -0.5 2.1 -0.5 2.2 -0.6 2.1 -0.6 2.2 -0.7M182.2 24.3l2.2 -0.2 2.2 -0.3 2.2 -0.2 2.2 -0.2 2.2 -0.1 2.2 -0.2 2.2 -0.3 2.2 -0.2 2.2 -0.4" stroke="#00b0ff" stroke-width="0.7"/><path d="M200.8 12.2l2.1 -0.1 2.2 0 2.2 0 2.2 -0.2 2.2 -0.3 2.2 -0.3 2.2 -0.1 2.2 -0.1 2.2 -0.2 2.2 -0.1 2.2 -0.1 2.2 0.1M202 22.2l2.1 -0.4 2.2 -0.5 2.2 -0.5 2.1 -0.6 2.2 -0.5 2.2 -0.7 2.1 -0.6 2.2 -0.5 2.1 -0.5 2.2 -0.4 2.2 -0.4" stroke="#00c0ff" stroke-width="0.7"/><path d="M225.8 16.6l2.2 -0.3 2.2 -0.3" stroke="#00d0ff" stroke-width="0.7"/><path d="M58 33.3l2.2 0.5 2.2 0.6 2.2 0.5M58 35.3l2.3 -0.2 2.2 -0.3 2.3 -0.2M58 39.2l2.2 0 2.3 0 2.2 0" stroke="#0000e0" stroke-width="0.55"/><path d="M64.6 34.9l2.1 0.5 2.2 0.6 2.2 0.6 2.2 0.6M64.8 34.6l2.3 -0.3 2.2 -0.3 2.3 -0.3 2.2 -0.3 2.3 -0.3M64.7 39.2l2.2 0 2.3 0 2.2 0.1 2.3 0" stroke="#0010f0" stroke-width="0.55"/><path d="M73.3 37.2l2.2 0.6M76.1 33.1l2.3 -0.3M73.7 39.3l2.2 0" stroke="#0020f0" stroke-width="0.55"/><path d="M75.5 37.8l2.2 0.7M78.4 32.8l2.2 -0.4M75.9 39.3l2.2 0.1" stroke="#0030f0" stroke-width="0.55"/><path d="M77.7 38.5l2.2 0.7M80.6 32.4l2.3 -0.4M78.1 39.4l2.3 0" stroke="#0040f0" stroke-width="0.55"/><path d="M79.9 39.2l2.2 0.7 2.1 0.8M82.9 32l2.3 -0.3 2.2 -0.5M80.4 39.4l2.2 0" stroke="#0050f0" stroke-width="0.55"/><path d="M84.2 40.7l2.2 0.8M87.4 31.2l2.3 -0.4M82.6 39.4l2.2 0.1" stroke="#0060f0" stroke-width="0.55"/><path d="M86.4 41.5l2.2 0.8" stroke="#0070ff" stroke-width="0.55"/><path d="M88.6 42.3l2.2 0.8M91.9 30.4l2.3 -0.5 2.3 -0.5M87.1 39.5l2.2 0.1" stroke="#0080ff" stroke-width="0.55"/><path d="M90.8 43.1l2.2 0.9M96.5 29.4l2.2 -0.5M89.3 39.6l2.2 0.1" stroke="#0090ff" stroke-width="0.55"/><path d="M93 44l2.2 0.8M98.7 28.9l2.3 -0.5M91.5 39.7l2.3 0.1" stroke="#00a0ff" stroke-width="0.55"/><path d="M95.2 44.8l2.2 0.9M101 28.4l2.3 -0.5M93.8 39.8l2.2 0.1" stroke="#00b0ff" stroke-width="0.55"/><path d="M97.4 45.7l2.1 0.5M103.3 27.9l2.2 -0.5 2.2 -0.4M96 39.9l2.3 0" stroke="#00c0ff" stroke-width="0.55"/><path d="M99.5 46.2l2.2 0.3M107.7 27l2.1 -0.5M98.3 39.9l2.2 0.1" stroke="#00d0ff" stroke-width="0.55"/><path d="M101.7 46.5l2.2 0.1 2.2 0.1M109.8 26.5l2.1 -0.6M100.5 40l2.2 0.1" stroke="#00e0ff" stroke-width="0.55"/><path d="M106.1 46.7l2.2 -0.1M111.9 25.9l2.2 -0.6M102.7 40.1l2.3 0.2" stroke="#00f0ff" stroke-width="0.55"/><path d="M108.3 46.6l2.2 -0.3M116.2 24.9l2.2 0.1 2.2 0.4M107.2 40.4l2.2 0.1" stroke="#00f0e0" stroke-width="0.55"/><path d="M110.5 46.3l2.1 -0.5M120.6 25.4l2 0.8M109.4 40.5l2.3 0.1" stroke="#00f0d0" stroke-width="0.55"/><path d="M112.6 45.8l2.1 -0.5M122.6 26.2l2.1 0.7M111.7 40.6l2.2 0.1" stroke="#00f0c0" stroke-width="0.55"/><path d="M114.7 45.3l2.2 -0.5M124.7 26.9l2.1 0.8M113.9 40.7l2.3 0.1" stroke="#00f0b0" stroke-width="0.55"/><path d="M116.9 44.8l2.1 -0.6M126.8 27.7l2 0.8M116.2 40.8l2.2 0.2" stroke="#00f0a0" stroke-width="0.55"/><path d="M119 44.2l2.1 -0.6M128.8 28.5l2.1 0.6" stroke="#00f090" stroke-width="0.55"/><path d="M121.1 43.6l2.1 -0.7M130.9 29.1l2.2 0.6 2.1 0.5M118.4 41l2.2 0" stroke="#00e080" stroke-width="0.55"/><path d="M123.2 42.9l2 -0.8M135.2 30.2l2.2 0.4M120.6 41l2.2 0.1" stroke="#00e070" stroke-width="0.55"/><path d="M125.2 42.1l2.1 -0.8M137.4 30.6l2.1 0.1M122.8 41.1l2.2 0.1" stroke="#00e060" stroke-width="0.55"/><path d="M127.3 41.3l2.1 -0.6M139.5 30.7l2.2 -0.1M125 41.2l2.2 0.1" stroke="#00e050" stroke-width="0.55"/><path d="M129.4 40.7l2.2 -0.2 2.2 0.1 2.2 0.5M141.7 30.6l2.2 -0.4 2.1 -0.7 2.1 -0.6M127.2 41.3l2.2 0 2.2 -0.1" stroke="#00e040" stroke-width="0.55"/><path d="M136 41.1l2.1 0.6 2.1 0.7M148.1 28.9l2.1 -0.7 2.1 -0.6M133.8 41.1l2.2 -0.1" stroke="#10e030" stroke-width="0.55"/><path d="M140.2 42.4l2.1 0.6 2.1 0.7M152.3 27.6l2.2 -0.3 2.2 0.2 2.1 0.5M136 41l2.1 -0.4 2.2 -0.4 2.1 -0.5" stroke="#10e020" stroke-width="0.55"/><path d="M144.4 43.7l2.1 0.7 2.1 0.5M158.8 28l2.1 0.6 2.1 0.7M142.4 39.7l2.2 -0.6" stroke="#10e010" stroke-width="0.55"/><path d="M148.6 44.9l2.2 0.4M163 29.3l2.1 0.6M144.6 39.1l2.1 -0.5" stroke="#20e010" stroke-width="0.55"/><path d="M150.8 45.3l2.1 0.4M165.1 29.9l2.1 0.9 2.1 0.7M146.7 38.6l2.2 -0.5" stroke="#20e000" stroke-width="0.55"/><path d="M152.9 45.7l2.2 0.4M148.9 38.1l2.1 -0.2" stroke="#30e000" stroke-width="0.55"/><path d="M155.1 46.1l2.2 0.3M171.3 32.2l2.2 0.6M151 37.9l2.2 0.1" stroke="#50e000" stroke-width="0.55"/><path d="M157.3 46.4l2.2 0.1M173.5 32.8l2.1 0.4M153.2 38l2.2 0.5" stroke="#70e000" stroke-width="0.55"/><path d="M159.5 46.5l2.2 -0.2M175.6 33.2l2.2 0.1M155.4 38.5l2.2 0.4" stroke="#90e000" stroke-width="0.55"/><path d="M161.7 46.3l2.1 -0.3M157.6 38.9l2.2 0.1" stroke="#b0f000" stroke-width="0.55"/><path d="M163.8 46l2.2 -0.5M159.8 39l2.2 0.1" stroke="#d0f000" stroke-width="0.55"/><path d="M166 45.5l2.1 -0.7M162 39.1l2.2 -0.2" stroke="#f0f000" stroke-width="0.55"/><path d="M168.1 44.8l1.9 -1 1.9 -1.2M186.4 31.6l2.1 -0.7 2 -0.8M164.2 38.9l2.2 -0.1 2.2 0.1" stroke="#ffe000" stroke-width="0.55"/><path d="M171.9 42.6l1.8 -1.3 1.8 -1.1M190.5 30.1l2.1 -0.6 2.2 -0.4M168.6 38.9l2.1 -0.1" stroke="#ffd000" stroke-width="0.55"/><path d="M175.5 40.2l1.9 -1.2 2 -0.9M194.8 29.1l2.2 -0.1 2.2 0.3M170.7 38.8l2.2 -0.4 2.1 -0.7" stroke="#ffc000" stroke-width="0.55"/><path d="M179.4 38.1l2 -0.9M199.2 29.3l2.1 0.4M175 37.7l1.9 -1" stroke="#ffb000" stroke-width="0.55"/><path d="M181.4 37.2l2.1 -0.6 2.2 -0.1M201.3 29.7l2.2 0.6 2.1 0.5M176.9 36.7l1.9 -1.2 1.7 -1.4" stroke="#ffa000" stroke-width="0.55"/><path d="M185.7 36.5l2.2 0.4M205.6 30.8l2.1 0.5M180.5 34.1l1.8 -1.2" stroke="#ff9000" stroke-width="0.55"/><path d="M187.9 36.9l2.1 0.6M182.3 32.9l1.9 -1.2" stroke="#ff8000" stroke-width="0.55"/><path d="M190 37.5l2.1 0.6 2.1 0.7" stroke="#ff7000" stroke-width="0.55"/><path d="M194.2 38.8l1.9 1.1" stroke="#ff6000" stroke-width="0.55"/><path d="M196.1 39.9l1.8 1.3 1.8 1.3" stroke="#f05000" stroke-width="0.55"/><path d="M199.7 42.5l1.6 1.5" stroke="#f04000" stroke-width="0.55"/><path d="M201.3 44l1.7 1.4 1.9 1.1" stroke="#f03000" stroke-width="0.55"/><path d="M89.7 30.8l2.2 -0.4M84.8 39.5l2.3 0" stroke="#0070f0" stroke-width="0.55"/><path d="M114.1 25.3l2.1 -0.4M105 40.3l2.2 0.1" stroke="#00f0f0" stroke-width="0.55"/><path d="M169.3 31.5l2 0.7" stroke="#40e000" stroke-width="0.55"/><path d="M177.8 33.3l2.2 -0.1" stroke="#a0f000" stroke-width="0.55"/><path d="M180 33.2l2.2 -0.3" stroke="#c0f000" stroke-width="0.55"/><path d="M182.2 32.9l2.1 -0.5" stroke="#e0f000" stroke-width="0.55"/><path d="M184.3 32.4l2.1 -0.8" stroke="#fff000" stroke-width="0.55"/><path d="M131.6 41.2l2.2 -0.1" stroke="#00e030" stroke-width="0.55"/><path d="M66 37l7.6 4.5 5.4 4.5 7 2.5 7.6 2 9.1 1.9 9.3 1.6 7 1" stroke="#c8e23c" stroke-width="0.6" opacity="0.95"/><path d="M150 21.5l15 -1 15 -1 15 -0.9 15 -0.8 12 -0.8 8 -0.5" stroke="#d8e040" stroke-width="0.6" opacity="0.95"/><path d="M61 35.1l11.5 -18.7M61 33.2l8.5 -18.6" stroke="#0060f0" stroke-width="0.5"/><path d="M61 35.9l7.9 -20" stroke="#0080ff" stroke-width="0.5"/><path d="M61 31.9l11.6 -17.6" stroke="#0030f0" stroke-width="0.5"/></g>
<polygon points="288.6,25.7 296.4,21.2 303.4,18.4 311.3,17.2 319.3,19.2 323.3,24.5 323.9,34.8 326.1,41.6 321.6,49.6 315.9,55.8 306.8,56.4 297.7,51.9 296.5,45 290.8,41.6 288.6,34.8" fill="#1050f0"/>
<g clip-path="url(#clipB)"><g fill="none" stroke-linecap="round" stroke-linejoin="round"><path d="M300.7 42.5l1.5 -2.7M290.2 34.8l1.8 -1.9M292 24.8l-2.4 -0.2M314.4 18.9l1.7 4.5M310.6 26.5l-1.2 3.3M297.5 32.1l0.6 4.1M298.8 36.5l2.2 -0.9M301 23.3l1.9 2.2M319.3 31.9l1.3 -2.4M316 20.7l2.6 -0.4M312.3 31.5l1.8 1.4M301.8 33.6l2.2 4.2M310.3 34.7l-1.2 3.4M297.5 38.2l1.6 -2.6M296.5 21.4l-0.7 -4.2M310.1 22.3l-2.9 1.4M320.8 21.7l-4.1 -2.8M300.9 41l2.5 2M321.6 29.6l2.7 3.4M289.3 33.5l2.6 -0.9M292.6 25.9l-4.6 1.9M312.1 35l2 -1.2M321.9 29.3l2.4 -3.4M300.3 22l3.9 1.3M293 29.7l-3 -2.7M311.1 20.4l0.4 -2.7M294.8 26.6l2.3 2.7M307.6 29.5l-3.6 -2.6M298.2 37.2l-2.6 -0.5M291.1 27.8l2.8 -0.5M304 31.4l4.1 2.1M315.5 38.7l2 -4M306.5 22.7l2.2 2.8M313 22.9l-0.2 3.3M299.5 35.1l-3.9 -1.5M307.2 21.6l-4.7 0.8M307.6 18.9l2.7 -2.5M314.2 32.8l3.5 -2.8M304 40.6l-4.6 -1.6M315.9 34.8l-1.5 4.3M312.3 26.5l-1.1 -3M306.5 35.9l0 -2.2M324.6 39.7l-0.4 -4M296.7 27.4l2.5 -3.7M315.3 29.7l-2.2 -0.4M314.5 30.5l2.1 2.2M290.9 36l-0.4 3.8M298 36.9l2.7 0.3M317.8 37.4l-2.9 -1.9M290.1 35.5l-0.2 4.3M307 18.5l-3.1 -1M311.3 27.3l-3.3 1.3" stroke="#1860f0" stroke-width="0.9" opacity="0.9"/><path d="M294.3 37.6l-4.3 2.1M313.5 28l4 -2.1M314.7 39.2l-0.2 4.8M313.5 40.1l2.2 2.3M303.2 34.8l-0.2 4.3M291 39l3.7 -1.1M295.5 24.4l-1.6 -2.6M308.6 20.1l-3.5 2M303.8 20.8l-3.1 0.4" stroke="#3048f0" stroke-width="0.9" opacity="0.9"/><path d="M304.2 18.5l-4.5 1.7M321.6 27.7l0.8 -3.3M309 22.5l2.9 -3.6M316.7 40.8l3.9 2.8M310.6 28l0.5 -2.4M314.8 35.3l-2.6 -0.5M300.5 22.8l-3.5 -2.6M310.2 22.9l2.9 -1.5M300.9 25.9l-2.9 -3M302.4 28l2.1 -1.6M314.1 30.4l-3.8 1.5M295.4 30.2l2 2.7M298.9 33.7l-0.6 -2.6M313.5 37.7l1.7 3.7M299 37.4l2.4 1.8M304.7 41l-1.9 -2.7M320.2 20.7l2 -1.8M322.5 34.6l0.4 3.8M316.9 19l3.2 2.2M324.8 42.8l-2 -0.6M296.1 41.4l2.6 0.2M317.9 42.6l0.4 -2.4" stroke="#0060ff" stroke-width="0.9" opacity="0.9"/><path d="M292.7 29l-0.4 -2M298.9 42.4l3.8 2.2M300.7 41l2.6 -0.1M310.4 17.7l-2.1 1.9M293.4 32.3l-0.8 2.7M306.9 18.6l0.4 -2.6M312.1 33.9l2.5 -0.3M318.7 35.7l1.1 -2.7M306 29.9l4.4 1.7M313.6 35.8l3.7 -3.1M300.1 24.1l3.6 -0.8M316.9 40.7l-1.4 1.5M294.7 33l-0.9 -2.9M312.2 29.5l-0.5 4.7M301.7 19.9l4.6 -0.7M296.9 43l1.4 1.5M312.6 42.2l-4.5 -0.7M306.2 38.1l-0.8 2.1M305.5 21.3l-3.4 1M320.5 37.5l2.7 0.7M298.7 38.9l4.8 0.3M295.2 31.7l2.6 0.1M318.4 21.8l3.8 -3" stroke="#1848f0" stroke-width="0.9" opacity="0.9"/><path d="M297.6 50.1l4.1 1.2M311.1 53.3l1.4 -3.4M313.6 47.2l-2.2 -2.6M300.5 44l-3.6 2.3M321.6 44.5l-0.6 -4.2M308.3 43.9l-2.1 1.9M311.6 47.4l-2.3 -0.2M301.8 45.5l3.9 1M310.2 51.5l-1.1 3.6M299.9 46.7l3.9 0.4M320 46.8l2.1 -2M310 46.7l3.3 3.7" stroke="#0030d8" stroke-width="0.9" opacity="0.9"/><path d="M311 51l1.8 1.3M305.9 45.2l3.3 2.2M309.9 53l-4.6 -2M315.9 55.2l-2.5 -2.4M301.7 51.7l1.2 1.9M305.3 51.2l0.8 -4M301.7 45.8l-2.3 -1.2M309.7 53.3l-2.4 -3.2M308.7 48.1l-2.1 -1.1M297.5 47.7l2 3M322.2 45.2l-4.5 0.3M315.9 49.6l2.1 1.1M305.8 48.3l4.7 -0.9M319 48.1l0.6 -2.2M319.3 49.8l-3.5 3.3M312.5 54.8l4.2 -0.8M297.3 47.8l0.7 4.1M301.9 45.3l3.5 0.8M298.1 50l3.9 -2.8M306 53.9l-2 0.2M302 44.1l-3.4 -0.7M306.3 55.4l1.3 3.6M319.4 43.8l2.4 -3.7M316.7 48.8l-4.5 0.6M306.1 51.4l-3.9 -1.6M307.2 43.5l-1.2 4.6M310.7 52.1l-0.6 2.8" stroke="#0018f0" stroke-width="0.9" opacity="0.9"/><path d="M299 36.7l1.3 3M309.5 20.3l1.7 -1.9M320.4 29.1l-0.3 3.1M306.9 18.5l-0.4 -3.8M308.7 40.6l-0.4 -2.5M310.1 29.9l-4.1 1.7M300.6 22.4l1.6 2.8M315.2 42.8l3.9 2.7M297.1 29.9l-2.7 4.2M302.9 25.2l2.8 0.1M305.7 25.2l2 -4.2M311.7 41.5l-3 1.3M302.8 40.8l-2.5 -0.8M319.9 35.9l0.7 3.1M313.1 38.4l1.5 -1.5M295.5 24.5l-1.3 -4.3M317.2 23.5l0 -2M294.6 22.7l-3.3 3M291.4 38.8l4.2 -1.1M297.7 39.3l-1.7 4.2" stroke="#0060f0" stroke-width="0.9" opacity="0.9"/><path d="M307.7 37l-0.6 -3.1M308.4 24l0.6 -2.2M311.7 24.5l3 -3.6M301.7 40.6l3.4 3M321.7 36.8l2.8 0.7M293.6 25.3l-2.2 2.3M292.6 27l1.1 -3.5M316.4 27.7l1.8 -3.1M314.9 24l-1.4 -3.6M296.8 33.6l-1.2 -4.6" stroke="#1878f0" stroke-width="0.9" opacity="0.9"/><path d="M298.2 49.1l-1.9 -1.7M323.2 45.6l-3.9 -0.3M304 44.2l3.2 2.7M307.6 50.5l2.9 2.4M316.5 47.8l-1.9 1.6M302.2 51.5l-4.3 -1.8" stroke="#1830f0" stroke-width="0.9" opacity="0.9"/><path d="M314.7 46.2l-1.9 -2.6M320.2 50.3l-1.2 -2.2M310.6 54.6l0.9 -4.8M300.4 44l-1.9 -4.2M320.1 45.9l4 1.1M307.8 48.6l3.1 3.4M314.8 51.9l-1.3 -1.9M301.8 44.4l-3.7 2.6M315.7 49.6l-2 -1.9M312.3 53.8l1.3 2.4M320 51.1l1.9 -1.3M298.5 43.4l-4.8 0.2M310.1 51l2 2.8M310.1 53.4l-4.5 -1.6M307.9 47.9l-1 -2.1" stroke="#0018d8" stroke-width="0.9" opacity="0.9"/><path d="M306.1 50.1l0.2 4.2M300.6 51.6l4.1 1.6M299.2 51.1l-2.2 -2.7M314.8 48.4l-3.1 0.6M308.4 49.4l-2.8 -1.7M305.9 49l-1.6 2.5M322.4 46.5l-2.8 2.1M323 46l-0.7 -2.3M309.6 55.2l-0.6 3M322.5 47.3l4.1 2.1M308.8 52.6l-3 0.1M306.8 51.3l0.4 -2.1M300.8 47.3l-4 -2M315.8 43.3l-0.1 3.5" stroke="#0030f0" stroke-width="0.9" opacity="0.9"/><path d="M301.2 21.2l2.4 3.4M300.6 25l-4.2 2M300.9 29.5l2.3 2.3M315.3 34.2l2.5 1.1M304.8 18.3l-3.9 -0.7M311.5 41.7l1.3 -1.6M317.8 42.6l-1.2 -1.9M301.3 30l2.7 -3.4M302.7 35.8l-4 -0.8" stroke="#0078f0" stroke-width="0.9" opacity="0.9"/><path d="M310.4 37l0.1 2.8M323.3 35.9l2.4 -0.5M298 37.4l-0.5 4.6M303.7 35.8l-3.4 2.6M302.1 39.8l4.5 -1.9M301.6 21.6l-2.9 -1.3" stroke="#3060ff" stroke-width="0.9" opacity="0.9"/><path d="M315.3 48.9l-1.3 -3.4M301.6 47.9l2 -1.8M303.2 47.4l-1.1 2.4M308.7 54.7l-0.1 2.1M313.7 50.2l-3.1 2M298.5 51.2l3.4 2.8M310.1 43.3l3.3 0.2M300.3 46.5l2.5 -2.2" stroke="#1818f0" stroke-width="0.9" opacity="0.9"/><path d="M298.6 32.8l1.5 3.9M292.4 30.3l-1.3 -4.7M302.8 28.8l0.3 -3.8M317.3 29.2l2.4 1.7M301.4 26.7l1 -4M317.4 23.3l-4.5 2.1M308.6 18.9l3.6 1.6M295.6 24.3l1.3 -3.1M315.9 41l4.7 0.4M305.8 42.6l-4.2 -2M294.8 24.7l1.8 2M300.9 26.9l-0.8 2.8M314.1 29.1l-0.4 -3.4M308.4 29l-1.7 -3.3M293.4 41.2l0.2 -3.4M314.9 37.6l0.3 -3M308.9 36.1l3.1 -2M304.5 38.4l2.6 -4.2M324.5 38.1l-1.9 -1M292.9 25.4l0.7 -2.1M318.3 21.8l2.4 -2M297.5 39.4l2 -2.5M313.1 23.4l1.8 -2.2M290.9 30l4.3 2.3M304.8 29.6l-2.7 -0.5M307.8 27.1l0.6 2.3M312.9 39l-1 1.9M309.8 17.9l2.5 0.3M318.4 29.6l-4.8 -1.3M297.3 35.9l1.1 4.5M307.7 40.1l-3 -1.6M307 28.7l4.2 0M318.5 30.4l2.3 0.6M302.1 37.5l-2.7 -3.8M303.6 37l0.1 -4.4" stroke="#1860ff" stroke-width="0.9" opacity="0.9"/><path d="M317.8 34.7l-4.2 1M303.3 33.9l-3.4 3.6M303.4 34.8l-2.6 -1.7M325.3 42.4l-1.2 -2.6M301.7 24.5l-4.4 1.9M306.5 27.3l2.1 2.8M314.1 40.1l2.1 1.6M307.7 35.8l3.8 -1.8M309.8 37.9l1.4 2.5M320.2 42.7l-1.3 4.3M292.9 28.9l-3.5 -0.5" stroke="#0048ff" stroke-width="0.9" opacity="0.9"/><path d="M318.9 26.9l-1.9 -4.2M318.3 42l2.3 4.3M305.5 39.4l1.8 -2.1M298.8 25.5l2.3 2.1M304.4 27l3.8 -1.8M313.2 37.2l2 4.2M319.5 31.8l3.9 -0.1M295.2 27.8l-0.4 -4.9M311.8 38.4l-0.3 4.4M297.4 32.2l3.5 2.5M291.9 25.8l-3 -2M305.3 30l2 -3.5M317.2 35.7l3.8 -0.1M303.7 37.6l-0.9 4.8M299.4 38.6l2.5 -0.7M295.3 26.7l3.6 0.9M313.8 34.5l-2.9 1.6" stroke="#0048f0" stroke-width="0.9" opacity="0.9"/><path d="M289.3 36l-4.2 2.6M302.7 36.5l-1.9 1.3M317.6 42l2.4 -4.3M322.1 31.9l2.7 2.8M300.1 37.4l-0.7 3.2M309.4 40.5l0.4 -2.4M309.3 33l0.7 -2.1M300.7 33.2l-2.3 -0.6M309.5 34.6l-1.3 3.6M317.8 32.5l-3.2 -0.5M295 26.7l1.3 1.8M311 42.8l-2.1 0M312.8 32.4l-3.4 1.8M291.9 38.7l-1.5 3.9M298.3 25.3l0.6 4.6M291.5 27.2l0.9 -1.9M294 40.4l4.4 2.3" stroke="#1878ff" stroke-width="0.9" opacity="0.9"/><path d="M290.7 33.8l2.1 -3.5M304.5 24.5l-3.6 0.8M308.8 29.3l2.4 -4.2M301.9 21l3 2M306.3 30.8l-0.3 -3.5M294.6 41.9l3 -0.8" stroke="#3078f0" stroke-width="0.9" opacity="0.9"/><path d="M292.9 40.7l3.5 -3.6M318.7 37.1l2.7 3.5M319 26.2l4.6 0M314.4 21.5l-1.7 -4.1M308.4 38.9l-3.1 -0.8M318.9 20.6l-4.3 1M297.6 35.8l2.2 0.2M296.1 28.1l1 4.5" stroke="#1848ff" stroke-width="0.9" opacity="0.9"/><path d="M301.6 48.7l1.6 3.3" stroke="#1830d8" stroke-width="0.9" opacity="0.9"/><path d="M291.7 26.9l-2.4 -4M302.1 29.9l4.5 0.5M312.5 24.3l-2.5 -1.5M309.9 37.2l-0.9 -3.3M293.5 42.8l-2.3 1.5" stroke="#1860d8" stroke-width="0.9" opacity="0.9"/><path d="M298 29.6l-3.4 0.1M309.7 35.8l-1.2 2.2M323.2 27.8l2.4 0.6M309.6 23.9l-1.3 3.6M320.4 21.8l-1.8 -2.5M308.6 41.9l-3.2 1.3M302.6 42.2l3.7 2.3M298.5 21.3l1.3 -2.4M300.2 33.7l-1.6 3.6M308 25.6l3.5 0.1" stroke="#3060f0" stroke-width="0.9" opacity="0.9"/><path d="M319.3 29l3.4 1.5M305.2 30.8l-3.5 0M302.5 34.9l3.5 -1.2" stroke="#1848d8" stroke-width="0.9" opacity="0.9"/><path d="M310.9 42.8l-2.8 2.3M322 25.1l-4.6 -1.4M310 29.8l-0.3 3.4M317.2 31.5l-0.8 4.7M295.5 22.9l-1.6 -3.4M293.2 30.1l2 1.3M314.4 24.2l-4.5 -2" stroke="#0078ff" stroke-width="0.9" opacity="0.9"/><path d="M308.6 42.2l2.4 1.8" stroke="#0078d8" stroke-width="0.9" opacity="0.9"/><path d="M299.8 45.5l-2.5 3.5" stroke="#0030ff" stroke-width="0.9" opacity="0.9"/><path d="M306.2 53.7l-1.6 2.8" stroke="#1818ff" stroke-width="0.9" opacity="0.9"/><path d="M314 33.9l4.8 -0.8M311.5 20.9l0 -3.2M298.5 42.2l4.8 -1M321.8 29.1l-1.1 -4.4" stroke="#3048ff" stroke-width="0.9" opacity="0.9"/><path d="M307.9 35.9l-4 -1.4M300.1 35.9l-0.1 -3.9" stroke="#3060d8" stroke-width="0.9" opacity="0.9"/><path d="M298.9 51.9l0.9 -2.8" stroke="#0018ff" stroke-width="0.9" opacity="0.9"/><path d="M313.8 42.3l1.4 -3.8M293.5 27.2l1.7 -4.3" stroke="#3048d8" stroke-width="0.9" opacity="0.9"/><path d="M314.3 34.9l-4.1 -1.7M313.4 37.7l4.8 0.4M324.2 41.3l2.6 -4.1" stroke="#1878d8" stroke-width="0.9" opacity="0.9"/><path d="M314.4 45.2l-3.3 0.6" stroke="#0000f0" stroke-width="0.9" opacity="0.9"/><path d="M303.3 54l-3.7 1.5M310.2 55l-2.4 -3M302.1 52.6l3.2 -3.7" stroke="#1818d8" stroke-width="0.9" opacity="0.9"/><path d="M319.7 37.4l0.4 4.6M296.2 24.5l-1.5 4.1" stroke="#0060d8" stroke-width="0.9" opacity="0.9"/><path d="M317.5 48.6l-4.3 -2.4M297.9 48.6l-1.3 -3.1" stroke="#1830ff" stroke-width="0.9" opacity="0.9"/><path d="M322.5 38.6l2.1 3.5M304.2 30.9l-4.1 1" stroke="#3078ff" stroke-width="0.9" opacity="0.9"/><path d="M306.7 44.9l-2.6 3" stroke="#0000ff" stroke-width="0.9" opacity="0.9"/><path d="M300.3 50.5l3.1 -0.3" stroke="#1800ff" stroke-width="0.9" opacity="0.9"/><path d="M306.9 50.7l5 -0.5M309.7 51l1.4 4.1M301.7 51.9l1.8 -0.9M315.6 50.4l2.3 4.1M301.4 47.2l1.4 3.6M315.4 49.4l2.1 -3.4M304.8 45.3l1.9 -1.1M310.5 47.3l-0.3 4.6M314.5 46.7l4 0.2M314.7 48l0.3 -4.5M303.1 48.7l-3.5 -0.7M310.4 50.5l0.5 3.5M319 44.9l-1.9 -3M319.8 45.4l1.3 -2.6M315.6 48.8l-4.3 -0.6M314.7 48.2l-3.3 -2.6M305.6 50.5l-4.5 0.5M302.4 48.2l-1.5 -2.1M313.9 50.4l0 -3.8M317.4 49.5l-3.3 1M312.3 44.7l-0.6 4.7M305.7 55.8l2.4 -0.3M305.5 48.1l1.9 -4.6M307.1 49.5l-1.5 3.9M306.4 49.2l1.6 -4.6M309.8 48.8l3.6 0.2M316.4 52.3l-1.6 -3M308.4 51l1.2 -3.3M315.1 48.2l0.5 -3.1M305.9 48.4l-3.5 1.5M314.8 52.9l0.1 -3.2M314.8 46.7l-3.6 0M305.9 51.4l-3.9 -1.6M316.3 50.1l-3.1 -3.9M314.9 54.3l-2.1 2.5M315.9 54.8l-2.6 2.4M312.7 49.5l-1.6 -1.9M300.8 50.7l-1.3 2.5M315.5 48.7l4.4 0.9M310.3 55.2l4.9 0.3M319.3 51.4l3.8 0.2M304.1 47.1l2.2 0.6M314.8 45.7l3.8 1.2M300.2 49.1l2.1 0.8M315.6 51.9l-3.1 -1.8M317.8 47.7l-3.4 2.3M311 53.6l2.6 2.3M301.8 46.9l-1 2.8M306.2 49.7l1.1 3.2M303.8 50l3.9 1.4M315.3 47.3l0 3.8M297.5 45.9l-2.1 1.4M318.8 48l4.4 2.1M308.6 55l2.5 3.4M304 48.4l4.1 -0.7M306.9 56.1l-0.2 2.1M311.5 47.5l1.6 -2.8M320.2 48.7l-1.5 -3.9M315.8 46.4l1.8 1.2M306.8 56.3l-0.3 -3.2M304.4 44.3l-2 -3.5M312.7 47.8l2.6 -1.1M301.7 52.1l3 2.6M317.9 53.3l-3.4 1.2M316.8 49.9l2.2 -4.3M312.3 50.8l-1.9 -1.7M302.3 48.1l1.6 -1.4M317.9 49.6l-0.9 3.3M315.8 46.4l-1 2.1M309.2 54.5l3.7 0M304.7 48.6l-0.3 -4.4M319.8 46.2l-2.2 3.1M308 50.6l1.2 -2M314.6 49.2l2.5 3.5M316.3 48.6l-3.6 1M301.6 50.5l1.6 1.9M296.6 46l1.4 -2M315.8 47.4l-1.7 3.2M313.4 51.4l-2.6 1.7M314.6 54.9l1.7 1M315.5 47.2l-2.7 1.8M309.1 46.9l-3.8 1.9M310.8 46.9l-2.8 2.4M313.9 51l2.2 -1.2M321.3 45.3l0.5 2.8M298.6 51.1l-1.9 -1.9M316.2 49.9l2.8 1.3M312.6 44.5l-2.4 -3.3M302.8 50.6l-2 3M310.1 47.3l2.7 -1.6M313.6 54.4l-1 -3M307.3 50.2l4.5 1.3M316.9 44.3l-2.2 1.6M319.3 49.1l1.6 1.3M296.8 45.3l4.7 0M298.7 47.6l0.5 2M317.2 53.9l3.7 0.6M311.6 50.5l-0.4 -2.3M300.8 52.9l-3 2.9M307.4 49.8l-0.5 -2.4M299.8 45.5l-2.3 -1.4M315.2 52.5l1.4 1.6" stroke="#0018f0" stroke-width="1.0" opacity="0.9"/><path d="M312.2 52.6l-2.3 -0.7M321.5 48.7l2.2 2.5M316.7 50.1l-4.6 0M308.8 49.6l4.6 -1.3M302.9 53.8l-2.4 4.1M318.1 45.3l-2.2 -4.2M308.6 46.7l1.9 1.9M309.8 47.9l-2.4 -4.2M315.4 51.4l0.4 2.2M307.4 49.6l-2.8 1.3M314.7 52.6l-3.7 2.8M313 45.9l3.4 -0.5M306 51.1l4.2 2.6M315.7 55.6l-2.7 3.7M303.4 52.4l1.6 -1.5M312.7 45.6l-3.6 -2.9M315.8 44.8l-1.5 -1.4M318 44.8l4.4 -0.3M300.5 47.6l-2.8 2.8M306.5 46.6l-2.7 3.5M308.8 48.5l3.3 1.7M313.8 49.8l0.9 -3.1M309.9 51.3l-4.2 1.3M309.1 50.7l-1.7 -1M318.2 50.9l-0.2 -4.2M304.7 46l-1.8 -2M310 49.6l-1.9 0.5M307.3 50.3l1.9 -2.5M312.3 54.2l3.4 3.4M314.8 51.1l4.4 -1.6M297.2 45.5l-1.4 -2.2M314.3 48.5l1.7 3M314.9 46.6l2.1 -0.9M297.4 44.7l3.2 -0.1M320.7 47l-1.7 -4.1M312.1 48.9l1.1 -3.5M306.5 46.8l3.3 0.2M298.5 50.9l-3.1 -0.9M297.6 46.5l2.7 -2.6M308.1 53.8l3.1 2.5M300.9 47.3l-0.7 -4M317 47.2l-0.7 -3.4M306.4 50.6l4.4 1.5M305.9 49.8l-0.6 2.4M304.7 49.8l-3.1 3.4M310.3 55.5l-1.5 -4.2M317.6 51.9l-1.7 -2.3M310.9 46.8l-2.4 -3.2M307.1 54.2l-3 -0.6M313.5 54.3l-1.2 -1.6M309.1 52.5l-2.9 -0.7M310.2 55.6l1.7 -3.6M313.3 51.8l-3.3 -0.2" stroke="#0018d8" stroke-width="1.0" opacity="0.9"/><path d="M307 44.1l-2.2 2.9M303.4 44.8l3.8 -1.9M299.5 49.4l-2.8 3.1M309.6 52l2.3 -4.1" stroke="#0030f0" stroke-width="1.0" opacity="0.9"/><path d="M315.5 49.7l3.2 -3" stroke="#0030d8" stroke-width="1.0" opacity="0.9"/><path d="M305 23.3l-3.5 0.2M321.2 37.1l4.5 -0.9M321.3 23.2l0.4 2.5M319.9 29.4l0 2.1M309.1 40.5l-3.3 -3.3M292.3 38.9l1.4 2.5M309.2 32.9l-4.3 -1.3M304.2 33.9l-2.5 1.2M315.1 34.7l-0.2 2.4" stroke="#3090f0" stroke-width="0.5" opacity="0.8"/><path d="M299.2 49.7l0.5 4.2M321.5 28.8l-4.7 1.6M301.2 41.9l-4 2.1M313.7 25.6l-0.5 -3.8M315.7 53.1l-2.2 3.1M314.6 31.5l2.8 2.6M298.9 47.4l2.3 -1.3M309 33.4l0.6 -2.4M288.7 32.4l1.7 -1.6M311.5 46l-1.5 -2.9M323.4 37.9l-3.4 -2" stroke="#3090ff" stroke-width="0.5" opacity="0.8"/><path d="M297.8 49.5l4.5 -1.8M300.1 38.9l-0.1 -2.5M301.5 24.7l0.1 3.5M303.9 45l-0.2 3.5" stroke="#1878ff" stroke-width="0.5" opacity="0.8"/><path d="M316.4 38.6l4.8 -1.2M302.3 28.8l2.9 -1.3M321.4 49.5l2 -4.3M323.3 44.7l1.6 -2.8M310 28.8l3.3 2.5M318.4 52.2l-4.8 -0.5M305.1 31.6l3.8 -2.4M300 36.6l4.4 -0.7M323.6 45.4l2.9 -3.6" stroke="#3078f0" stroke-width="0.5" opacity="0.8"/><path d="M291 32.6l0.1 -2.9M310.8 49.6l-3.2 -1M295.5 25.5l2.5 1.6M313.3 45l0.9 2.6M304 40.3l-1.6 -1.3" stroke="#1890ff" stroke-width="0.5" opacity="0.8"/><path d="M312.8 21.5l-2.4 1.1M317.5 35.3l-1 -4.9M307.1 40l-4.2 2.3M312.9 26.5l-1.2 -2.1" stroke="#4890ff" stroke-width="0.5" opacity="0.8"/><path d="M314.7 32.5l1.9 2.5M303.7 47.1l-0.4 -3.1M309.9 28.3l2.3 -1.4M295.5 27.5l1.3 3.5M300.9 41l4.7 -1.4M305.5 41.6l-3.9 1.9M306.6 18.2l3.2 -1.7" stroke="#3078ff" stroke-width="0.5" opacity="0.8"/><path d="M308.3 36l-0.6 -2.1M313 38.6l-2.8 3M317.1 34.3l-2.5 0.8M300 40.9l-2 -0.5" stroke="#1890f0" stroke-width="0.5" opacity="0.8"/><path d="M292.5 39.4l2.4 -1.2M308.9 47.5l0.2 2.1M308.8 31l-2.6 1.9" stroke="#4878ff" stroke-width="0.5" opacity="0.8"/><path d="M299.2 40.5l0.3 -2M309.7 31.6l-0.2 2.5M298.3 42l2 3.9M316 43.9l-1.4 -2.8M310.4 33.5l0.5 2.2M307 43.1l2.7 -1.8" stroke="#4890f0" stroke-width="0.5" opacity="0.8"/><path d="M314.1 25.8l4.6 -1.1M311.2 55.3l-0.9 -4.7M306.2 51.4l2.4 3.1" stroke="#30a8ff" stroke-width="0.5" opacity="0.8"/><path d="M321.3 28.4l3.6 -2.7M294.2 40.5l-1.7 -3.4" stroke="#4878f0" stroke-width="0.5" opacity="0.8"/><path d="M309.8 22.5l-4.3 -0.5M319.3 51.2l2.3 1.4M323 34.2l-2.4 0.8M291.8 25.6l2.8 0.1M291.8 28.1l-1.1 -4.2" stroke="#30a8f0" stroke-width="0.5" opacity="0.8"/><path d="M310 29l2.3 0.1M307.6 29.8l-2.9 3.9" stroke="#48a8ff" stroke-width="0.5" opacity="0.8"/><path d="M289.6 35.6l-2.7 -2.5" stroke="#18a8ff" stroke-width="0.5" opacity="0.8"/><path d="M298.5 46.5l-1.8 1.9" stroke="#18a8f0" stroke-width="0.5" opacity="0.8"/><path d="M290.5 33.3l-3.7 1.6" stroke="#48a8f0" stroke-width="0.5" opacity="0.8"/><path d="M298.7 52.1l-2.8 -1.7M311.7 19.5l-4.4 -0.1M289.5 25.2l3.2 -2.6" stroke="#1878f0" stroke-width="0.5" opacity="0.8"/><path d="M301.3 35.7l2.6 0.8M315.4 34.9l4.3 0.9M305.4 21.8l4.2 1.4M312.9 19.2l5.4 2.4M318.5 34.8l5.2 -2.4M319.8 35.9l3.7 2M304 38.4l3.1 1.9M301.6 25l1.7 -1.6M321.6 33.6l4.1 -3.5M308.9 30.6l2.6 -0.6M316.5 20.4l3.3 0.9" stroke="#1890ff" stroke-width="0.55" opacity="0.85"/><path d="M317.6 30.7l4.5 2.1M305.6 33l4.5 2.3M313 38.9l5.6 1.3M315.6 33.7l5.8 -1.3M300.2 39.5l3.5 0M304.3 24.3l4.5 0.4M306.8 22.1l3.9 -0.5M314.2 32.4l4 0.7M315 24.4l4.5 2.5M317.6 35.4l3.7 4M313.5 33.5l2.1 1.7M301.6 21.6l2.4 -0.6M300.4 23.7l4.7 -2.8M312 23.2l5.2 -0.5" stroke="#3090ff" stroke-width="0.55" opacity="0.85"/><path d="M293.1 23.7l4.6 -0.8M288.9 32.4l3.6 -0.2M288.9 31.4l2.5 -1.2M296 29l2.2 1.4M293 32.8l2.3 -0.1M292.9 26l1.9 3.9M290.4 27.4l3.6 1.2" stroke="#00a8ff" stroke-width="0.55" opacity="0.85"/><path d="M316.1 22.4l3.5 1.9M307.2 26.5l2.3 0.3M314.1 29.5l2.5 -0.5M307.1 36l3.9 1.4M311 18.3l1.8 1M314.9 18.8l2.7 0.2M314.1 24.8l3.5 -1.2M308.5 39.4l2.8 1.2M318.9 27.2l3.3 0.8M323.4 27l4.4 -1.8M316 26.4l1.8 -1.4M316.3 22.2l2.3 2.9M300.4 22l5.6 -0.5" stroke="#3090f0" stroke-width="0.55" opacity="0.85"/><path d="M292.1 32.9l2.3 0.2M298.7 32.7l4.6 0M300 33.2l2.8 1.3M295 41.3l5.3 0.6M298.6 32.5l2.6 0.1M294.7 25.3l3.6 -1.2" stroke="#00c0f0" stroke-width="0.55" opacity="0.85"/><path d="M298.2 38.9l4.9 -0.8M299.6 20l3.5 -0.7M294.2 41.7l3.9 3.6M293.7 35.3l4.2 1.2" stroke="#00d8f0" stroke-width="0.55" opacity="0.85"/><path d="M308.6 24.8l5.2 -1M308.5 24.4l2.4 1.2M311.7 36.9l3.8 0M315.6 34.3l5.6 1.4M311 33.7l2.2 4.3M300.2 35.1l1.3 1.7M305.1 27.8l4.6 -1.4" stroke="#4890ff" stroke-width="0.55" opacity="0.85"/><path d="M302.5 36.1l2.8 3.7M321.1 23.4l3.1 0" stroke="#4890f0" stroke-width="0.55" opacity="0.85"/><path d="M316.1 28.7l4 -0.2M302.9 27.5l4.1 1.7M319.1 24.7l4 -1.5M306.8 29.3l5.8 -1.1M302 32.2l4.7 2.2M322.6 28.8l4.1 1.5M301.8 36.9l2.4 1.6M301.7 39.9l4 -2.2M303.3 27.3l5.4 2.6M315.6 22.8l5.2 2.7M317.9 25.8l5 -1.5M308.7 38.5l4.6 1.3M322.8 34.6l4.7 0.5M300.9 20l4 -0.8" stroke="#3078ff" stroke-width="0.55" opacity="0.85"/><path d="M322.7 31l3.8 -2.4M323.2 26.4l5.6 0M317.2 27.5l2.2 0.1M309.1 20.1l5.6 0.5M314.5 35.4l3.7 1.8M310 32.3l3.4 0.8M303.6 39.3l3.5 1M323.2 28.1l2.2 4.7" stroke="#1890f0" stroke-width="0.55" opacity="0.85"/><path d="M295.3 40.9l2.2 3.2M294.7 22.9l4.8 0.9" stroke="#18a8f0" stroke-width="0.55" opacity="0.85"/><path d="M297 38.7l3.3 -1.1M297.3 35.6l5.4 -0.7M291.3 36.1l2.4 -1.1M297.2 37.8l1.9 2.2M295.9 26.1l2.4 0.5M298.8 29.4l2.4 0.8M294 30.6l0.9 3.8" stroke="#00a8f0" stroke-width="0.55" opacity="0.85"/><path d="M320.9 27l4 1.1M314.1 30.2l2.1 -1.2M308.2 38.6l2.6 -1.4M311.1 31l3.7 1.8M313 27.6l4.8 1.8M314.7 36.3l4.7 1.2M307.8 39.9l1.9 1.2" stroke="#3078f0" stroke-width="0.55" opacity="0.85"/><path d="M317.2 20.1l4.8 -0.1M302.2 29.6l3.2 -0.1M306.2 29l3.8 3.5M307.1 26.6l4 -0.1M311.8 20.2l3.4 -2.1M313.2 22.1l3.7 2.7M304.2 35.5l3.5 0.9M309.4 22.5l2.6 1.2M307.1 24.3l2.7 -1.4M301.1 20.7l2.5 1.1M313.1 30.5l3.8 0.2M301 30.1l4.9 2.7M305.1 24.1l1.9 0.7M311.8 21.8l3.8 0.3M318.2 26.4l5.1 1.7M301.2 31.7l3.9 0.8" stroke="#1878ff" stroke-width="0.55" opacity="0.85"/><path d="M299.4 42.5l2.9 1.2M293.5 31.6l5.2 0.7M299.2 30.2l3.1 -3.3M297.4 35.2l1.9 -2.1" stroke="#00c0ff" stroke-width="0.55" opacity="0.85"/><path d="M304.7 31.9l4 -0.6" stroke="#4878ff" stroke-width="0.55" opacity="0.85"/><path d="M292.1 41.5l4 2.4M293.3 36.9l2.5 -2.2M288.8 26.6l3.5 -2.6M293.1 32l4.1 -1.1M299 25.5l1 4.9" stroke="#00d8d8" stroke-width="0.55" opacity="0.85"/><path d="M312.7 27.1l2.9 0.8M307.5 22.8l2.6 0.5" stroke="#30a8f0" stroke-width="0.55" opacity="0.85"/><path d="M297.5 30.1l-0.2 2.1M294.6 24.6l5.5 -0.2M291.6 30.6l2.2 1.2M291.1 34.6l2.1 -0.9M293.5 39.4l5.7 0.4M298 28.4l2.4 1.2M297.6 36.6l3.6 1.2" stroke="#00a8d8" stroke-width="0.55" opacity="0.85"/><path d="M293.4 30.6l6 -0.3M291.1 32.8l2.4 -0.8M296.3 28.6l2.5 -0.4" stroke="#18c0ff" stroke-width="0.55" opacity="0.85"/><path d="M303.2 23.6l5.4 -0.6M309.8 25.8l2.1 -0.3" stroke="#30a8ff" stroke-width="0.55" opacity="0.85"/><path d="M294.3 28.5l5.7 1.7M297.5 41l3 -2.1M299.3 23.6l4.7 -2.6M295.4 27l5.6 1.2M297 21l3.6 0.7M298.2 26.5l3.4 0.7M295.8 30.8l4.2 4.2" stroke="#00c0d8" stroke-width="0.55" opacity="0.85"/><path d="M293.6 24.3l5.4 -0.3" stroke="#18c0d8" stroke-width="0.55" opacity="0.85"/><path d="M297.6 43.2l4.1 -0.2M297.7 37.9l3 -1M290.5 30.1l5.3 1.9M294.5 33l3.4 2.5" stroke="#00d8ff" stroke-width="0.55" opacity="0.85"/><path d="M309.6 31.4l2.3 0.7M309.5 34.1l5.3 1M312.4 18.5l2.6 -3.6M322.4 23.6l5.8 -0.9M302.2 36.4l2.1 1.7M304.2 39.5l2.5 0.7M303.8 32.7l3.5 1M302.9 31.5l3.2 -2.3" stroke="#1878f0" stroke-width="0.55" opacity="0.85"/><path d="M313.3 35.9l5.3 1.3M314.1 31.2l4.9 -1M320 28.9l1.6 -3.3" stroke="#4878f0" stroke-width="0.55" opacity="0.85"/><path d="M296.9 25.3l3.2 -1.6" stroke="#18a8ff" stroke-width="0.55" opacity="0.85"/><path d="M290.7 32.6l2.4 0.9M297.4 23.3l4 1.6" stroke="#18c0f0" stroke-width="0.55" opacity="0.85"/><path d="M298.5 35.2l2.9 4.6" stroke="#18a8d8" stroke-width="0.55" opacity="0.85"/><path d="M301.7 26.3l4.7 3.4" stroke="#48a8f0" stroke-width="0.55" opacity="0.85"/></g></g>
<g fill="none" stroke-linecap="round" stroke-linejoin="round"><path d="M311.3 20.6l0.7 -4.4M301.6 24.3l1 -3.9M315.2 21.8l1.1 -3.1M320.8 23.4l1.3 -3.6M304.6 23.1l-0.8 -4.1" stroke="#1464f0" stroke-width="0.6" opacity="0.9"/><path d="M321.2 23.6l0.7 -4.7M300.7 24.6l1.2 -4.3M299.8 25l0.5 -3.8M317.3 22.4l0.5 -4.4M302.8 23.8l0.4 -4.3" stroke="#2878ff" stroke-width="0.6" opacity="0.9"/><path d="M292.9 27.7l-0.1 -4.7M296.9 26.1l0.9 -3.2M319 22.9l-0.9 -3.4M322.5 23.9l1.1 -3.5M303.2 23.6l-1 -3.2M295.3 26.8l0.8 -4.5M304.5 23.1l-1 -3.7M307.1 22.1l0.8 -4.3M297.2 26l1 -4.6M296.1 26.4l-0.5 -3.3" stroke="#2864ff" stroke-width="0.6" opacity="0.9"/><path d="M312.1 20.8l1.2 -3.2" stroke="#0064ff" stroke-width="0.6" opacity="0.9"/><path d="M306.5 22.3l-0.7 -4M301.1 24.5l1.3 -4.2" stroke="#3c78f0" stroke-width="0.6" opacity="0.9"/><path d="M309.8 21l-1.5 -3.4M318.7 22.8l-1.4 -4.7" stroke="#3c64ff" stroke-width="0.6" opacity="0.9"/><path d="M311.1 20.5l-1.1 -3M316.4 22.1l-0.4 -4M292.3 28l-1.4 -3.3M320.5 23.3l-0.5 -4.6M314.6 21.6l0 -3.5M310 20.9l0.5 -3.8" stroke="#1478f0" stroke-width="0.6" opacity="0.9"/><path d="M321.8 23.7l0.1 -4.2M303 23.7l0.1 -4.4M297.5 25.9l-1.3 -3.3M296.6 26.2l1.1 -3.5M313.5 21.3l0.5 -4.4" stroke="#1478ff" stroke-width="0.6" opacity="0.9"/><path d="M298.3 25.6l1.4 -4.3" stroke="#0064f0" stroke-width="0.6" opacity="0.9"/><path d="M322 23.8l1.1 -3.5M306.6 22.3l-0.8 -3.1" stroke="#3c50ff" stroke-width="0.6" opacity="0.9"/><path d="M294 27.3l-0.6 -4.1M293.8 27.4l1.4 -3M322.3 23.9l-0.2 -3.9M310 20.9l-1.5 -4M311.3 20.6l0.9 -4.1" stroke="#2878f0" stroke-width="0.6" opacity="0.9"/><path d="M292.1 28.1l0.5 -3.7" stroke="#1464dc" stroke-width="0.6" opacity="0.9"/><path d="M301.8 24.2l-0.1 -4.3M300.4 24.7l0.9 -4.5M303.2 23.6l0.9 -4.4M303.3 23.6l0.6 -3.5M321.7 23.7l0 -4M306.8 22.2l0.6 -4.3" stroke="#2864f0" stroke-width="0.6" opacity="0.9"/><path d="M321.6 23.7l-0.9 -4.4M305.7 22.6l0.4 -3.4" stroke="#008cff" stroke-width="0.6" opacity="0.9"/><path d="M294.8 27l-0.5 -4.1" stroke="#148cff" stroke-width="0.6" opacity="0.9"/><path d="M308.9 21.3l-0.6 -3.5" stroke="#0078dc" stroke-width="0.6" opacity="0.9"/><path d="M313.4 21.2l1.5 -3.3M317.6 22.5l-0.1 -3.8M293.7 27.4l1.3 -3M316.4 22.1l-1.2 -3.8M317.7 22.5l-0.5 -4.5M314.6 21.6l-0.9 -4.4" stroke="#1464ff" stroke-width="0.6" opacity="0.9"/><path d="M293.5 27.5l1.5 -4" stroke="#288cf0" stroke-width="0.6" opacity="0.9"/><path d="M307.3 22l1 -3.3" stroke="#3c64f0" stroke-width="0.6" opacity="0.9"/><path d="M314.7 21.6l1.3 -4.1" stroke="#0078f0" stroke-width="0.6" opacity="0.9"/><path d="M306 22.5l1.5 -4.6" stroke="#0050ff" stroke-width="0.6" opacity="0.9"/><path d="M322.6 24l1.4 -4.1" stroke="#1450ff" stroke-width="0.6" opacity="0.9"/><path d="M307.5 21.9l-0.5 -3.2" stroke="#288cff" stroke-width="0.6" opacity="0.9"/><path d="M319 22.9l0.5 -4.8" stroke="#148cf0" stroke-width="0.6" opacity="0.9"/><path d="M314.3 21.5l-1.4 -3.3" stroke="#2850f0" stroke-width="0.6" opacity="0.9"/><path d="M313.3 21.2l0.4 -3.1" stroke="#288cdc" stroke-width="0.6" opacity="0.9"/><path d="M288.7 28.3l8.2 1.1" stroke="#14c8b4" stroke-width="0.5" opacity="0.85"/><path d="M289.6 25.6l13.2 -1.5" stroke="#14c878" stroke-width="0.5" opacity="0.85"/><path d="M290 32.9l12.8 1.3M291 43l6.6 1.4M293.7 42.7l11.1 -0.6" stroke="#00c8c8" stroke-width="0.5" opacity="0.85"/><path d="M293.8 36l10.5 -1.1" stroke="#14dc78" stroke-width="0.5" opacity="0.85"/><path d="M290.4 36l7.6 -0.1" stroke="#14dc64" stroke-width="0.5" opacity="0.85"/><path d="M290.8 26.8l10.7 0M292.2 31.7l6.2 -1.5" stroke="#3cc88c" stroke-width="0.5" opacity="0.85"/><path d="M291.8 27.1l9.3 -0.7" stroke="#3cf064" stroke-width="0.5" opacity="0.85"/><path d="M289 26.9l5 -1" stroke="#28c88c" stroke-width="0.5" opacity="0.85"/><path d="M291.9 36.4l7.9 2.1M293.4 43.4l11.9 -0.3M288.7 26.1l6.7 0.5" stroke="#00b4dc" stroke-width="0.5" opacity="0.85"/><path d="M290.9 36.4l9.4 0.4" stroke="#00c8ff" stroke-width="0.5" opacity="0.85"/><path d="M290.6 39.6l10.4 -0.5M290.2 34.4l9.3 0.7" stroke="#14c8ff" stroke-width="0.5" opacity="0.85"/><path d="M291.2 45.6l5.2 2.3M289.9 41.2l12.5 1.4M292.3 42.4l10.3 1.1M291 35.1l12.9 0.5M292.9 39.5l6.2 1.8M292.9 38.3l13.7 -0.1" stroke="#00dcc8" stroke-width="0.5" opacity="0.85"/><path d="M293.6 30.8l9.3 -1M292.1 28.2l8.4 0.1M290.5 44.3l11.2 1.2" stroke="#00dcf0" stroke-width="0.5" opacity="0.85"/><path d="M290.9 37.7l5.4 -1M293.4 39.8l12.5 -1.2M289.2 43.3l5.9 1.3" stroke="#14dcc8" stroke-width="0.5" opacity="0.85"/><path d="M291.1 32.6l7.5 2.3M289 38.4l5.3 2" stroke="#14dc8c" stroke-width="0.5" opacity="0.85"/><path d="M291.2 30.3l9.7 1.9" stroke="#00b4b4" stroke-width="0.5" opacity="0.85"/><path d="M290.3 35.7l11.6 -1.4M290.2 32l8.3 -1.2" stroke="#14f0c8" stroke-width="0.5" opacity="0.85"/><path d="M292.3 36.2l13 0.7M292.1 45l9.3 1.2M289.8 34l5.3 1.3" stroke="#00dcdc" stroke-width="0.5" opacity="0.85"/><path d="M292.8 24.3l10.3 1.3" stroke="#00dcb4" stroke-width="0.5" opacity="0.85"/><path d="M290.3 34.9l8.8 0.7M289.3 43.4l6 1.7" stroke="#00c8dc" stroke-width="0.5" opacity="0.85"/><path d="M292.5 25.1l12.4 1.6M291.9 43.6l7.9 0.3" stroke="#00c8b4" stroke-width="0.5" opacity="0.85"/><path d="M288.6 38.6l8.9 -1.2" stroke="#28c864" stroke-width="0.5" opacity="0.85"/><path d="M291.2 32.9l12.6 -0.6" stroke="#14dcdc" stroke-width="0.5" opacity="0.85"/><path d="M293.7 38.2l13.1 2.5" stroke="#28dc64" stroke-width="0.5" opacity="0.85"/><path d="M290.9 39.5l10.5 0.2M292.9 31.1l9.9 0.1M290.6 39.4l7.6 2.3" stroke="#00c8f0" stroke-width="0.5" opacity="0.85"/><path d="M291.9 27.5l10 1.2M293.7 34.4l12.1 -0.2" stroke="#00b4f0" stroke-width="0.5" opacity="0.85"/><path d="M290 40.4l10.2 1.5" stroke="#28c878" stroke-width="0.5" opacity="0.85"/><path d="M290.4 34.8l8.4 -1.3M293.8 26.6l9.5 -0.7" stroke="#28f078" stroke-width="0.5" opacity="0.85"/><path d="M289.3 39.3l11.1 -0.3" stroke="#3cdc78" stroke-width="0.5" opacity="0.85"/><path d="M291.5 44.7l7.4 0.7" stroke="#14c8f0" stroke-width="0.5" opacity="0.85"/><path d="M292.6 29.6l13.8 1.7" stroke="#28dc78" stroke-width="0.5" opacity="0.85"/><path d="M294 24.8l11.6 0.1" stroke="#14b4dc" stroke-width="0.5" opacity="0.85"/><path d="M292.1 44.6l5 0.4" stroke="#14dcb4" stroke-width="0.5" opacity="0.85"/><path d="M292.2 40.5l9.3 -1.4" stroke="#14b4ff" stroke-width="0.5" opacity="0.85"/><path d="M292.1 36.6l8.6 2.4" stroke="#3cdc8c" stroke-width="0.5" opacity="0.85"/><path d="M323.3 45.4l6.7 -3.1 6.6 -2.2 6.7 -1.6 6.6 -1.2 6.7 -1 6.6 -0.9 6.6 -0.5M321 38.8l7.4 -0.4 7.4 -0.6 7.4 -1 7.4 -0.9 7.4 -0.6 7.4 0.2 7.4 0.5M323.1 45.5l3.9 -4.8 3.9 -3.9 3.9 -3.3 3.8 -2.7 3.9 -2 3.9 -1 3.9 0M323.4 43.7l4 -3.8 4.1 -3.4 4 -3 4.1 -2.3 4.1 -1.3 4 -0.3 4.1 0.3M323.2 45.7l5.6 -3.6 5.5 -2.6 5.5 -1.6 5.6 -0.9 5.5 -0.8 5.5 -0.8 5.6 -0.7M325.3 48l4.7 -4.1 4.7 -3.7 4.7 -2.8 4.7 -1.8 4.7 -0.7 4.7 -0.2 4.7 0" stroke="#0080ff" stroke-width="0.6" opacity="0.95"/><path d="M323.8 47.7l6.3 -3.8 6.3 -3.4 6.3 -2.9 6.2 -2.2 6.3 -1.3 6.3 -0.4 6.3 0.2M322.7 41l2.9 -4 3 -2.9 2.9 -2.2 3 -2 2.9 -1.7 3 -1.3 3 -0.6" stroke="#00f0e0" stroke-width="0.6" opacity="0.95"/><path d="M324.2 43.2l5.5 -3.9 5.6 -3.1 5.5 -2 5.5 -1.1 5.6 -0.7 5.5 -0.5 5.5 -0.5M321.7 43.2l4.2 -3.1 4.3 -2.7 4.3 -2.6 4.2 -2.3 4.3 -1.5 4.3 -0.6 4.2 0.2M321.6 41.4l6.6 -2.1 6.5 -1.8 6.6 -1.5 6.5 -1 6.6 -0.6 6.6 -0.2 6.5 0.1M325.1 38.2l5 -2 5 -1.3 5 -0.8 5 -0.3 5 -0.2 5.1 -0.3 5 -0.5M322.7 46.3l2.7 -5.5 2.7 -4.5 2.7 -3.2 2.7 -1.9 2.7 -1 2.8 -0.6 2.7 -0.4M321.3 43.9l3.8 -4.5 3.7 -3.6 3.8 -2.6 3.7 -1.6 3.8 -0.9 3.8 -0.6 3.7 -0.4" stroke="#00c0ff" stroke-width="0.6" opacity="0.95"/><path d="M325.8 39.9l6.1 -1.4 6.2 -1 6.2 -0.6 6.1 -0.4 6.2 -0.3 6.2 -0.3 6.1 -0.3M321.5 43.1l4.3 -4.2 4.2 -3.1 4.3 -2.2 4.2 -1.6 4.2 -1.4 4.3 -1 4.2 -0.6M322 44.1l3.5 -4.6 3.5 -3.8 3.5 -2.7 3.5 -1.5 3.5 -0.7 3.6 -0.4 3.5 -0.3M321.2 39.1l4.4 -1.9 4.5 -1.3 4.4 -1.2 4.4 -1.2 4.5 -1.3 4.4 -0.9 4.5 -0.2M324.8 44.7l2.6 -5 2.6 -4.1 2.7 -2.9 2.6 -2.1 2.6 -1.4 2.7 -0.9 2.6 -0.4" stroke="#00e0ff" stroke-width="0.6" opacity="0.95"/><path d="M325.1 39.9l3.7 -2.9 3.7 -2.1 3.7 -1.8 3.7 -1.5 3.7 -1.2 3.7 -0.8 3.7 -0.3M324 44.9l3.8 -4.2 3.7 -3.7 3.8 -3.5 3.8 -2.8 3.8 -1.7 3.8 -0.6 3.8 0.3M325 45.5l2.9 -4.6 2.9 -3.3 3 -2.3 2.9 -1.7 2.9 -1.5 2.9 -1.3 3 -0.8M323.8 43.5l2.3 -5.4 2.3 -4 2.4 -2.9 2.3 -2.2 2.3 -1.8 2.3 -1.4 2.3 -0.8M325.5 46.9l3.8 -4.1 3.7 -3.7 3.8 -3.2 3.7 -2.8 3.8 -1.8 3.7 -0.6 3.8 0.2M324.6 47.8l6.2 -4.2 6.2 -3.4 6.2 -2.4 6.2 -1.3 6.2 -0.5 6.3 -0.3 6.2 -0.3" stroke="#00b0ff" stroke-width="0.6" opacity="0.95"/><path d="M323.5 40.3l3.6 -2.9 3.5 -2.3 3.6 -2 3.6 -1.6 3.6 -1.2 3.6 -0.7 3.6 0M322.6 41.3l4.6 -2.8 4.6 -2.5 4.7 -1.8 4.6 -1.3 4.6 -0.6 4.6 -0.3 4.6 -0.1M323.8 38.4l5.3 -2 5.4 -1.5 5.4 -1 5.3 -0.6 5.4 -0.2 5.3 -0.3 5.4 -0.2M321.1 43.3l6.7 -2 6.7 -1.9 6.7 -1.9 6.8 -1.7 6.7 -1 6.7 -0.3 6.7 0.3M325.9 38.5l2 -3.8 2.1 -3.1 2 -2.3 2.1 -1.5 2 -0.8 2.1 -0.5 2 -0.3M324.3 47.6l5.6 -3.5 5.5 -3.3 5.5 -3 5.6 -2.1 5.5 -1 5.5 -0.1 5.6 0.4M322 45l4.7 -4.1 4.7 -3.6 4.7 -2.8 4.7 -1.9 4.7 -1.2 4.7 -0.4 4.7 -0.1M325.5 41.2l4.2 -2.7 4.1 -2.3 4.2 -1.9 4.2 -1.3 4.1 -0.8 4.2 -0.3 4.2 0M321.3 43.3l6.2 -2.2 6.2 -2.1 6.2 -1.8 6.3 -1.2 6.2 -0.5 6.2 0.1 6.2 0.2" stroke="#0060f0" stroke-width="0.6" opacity="0.95"/><path d="M322.9 45.5l5.5 -3.9 5.4 -2.8 5.5 -2 5.5 -1.4 5.4 -1 5.5 -0.9 5.5 -0.6M324.6 39.2l6 -2.3 5.9 -1.7 6 -0.8 5.9 -0.2 6 0.1 5.9 -0.2 6 -0.6M321.8 42.3l5.6 -3.1 5.5 -2.4 5.6 -2 5.5 -1.8 5.6 -1.5 5.5 -0.9 5.6 -0.2" stroke="#00d0ff" stroke-width="0.6" opacity="0.95"/><path d="M324.3 48l6.1 -3.3 6.1 -3.1 6.1 -2.9 6.2 -2.1 6.1 -1.1 6.1 -0.2 6.1 0.4" stroke="#00f0f0" stroke-width="0.6" opacity="0.95"/><path d="M350 40.5l10 -1 11 -0.5" stroke="#0049f5" stroke-width="0.6" opacity="0.9"/><path d="M327.6 34.7l5.7 -8.8M329.3 37.8l4.4 -18.8" stroke="#00e080" stroke-width="0.5" opacity="0.9"/></g>
<polyline points="289.7,25.7 297,27.5 304.5,29.7" stroke="#ff7070" stroke-width="0.5" fill="none"/>
<circle cx="309" cy="30.2" r="2.0" fill="#1a0ad0"/>
<ellipse cx="38" cy="185" rx="10.2" ry="6.8" fill="#1898f8"/>
<g fill="none" stroke-linecap="round" stroke-linejoin="round"><path d="M34.5 163.1l2 3.3M33 164.8l-0.9 -3.4M44.6 161.2l-1.5 -2.1M37.3 165.5l0.1 3.4M39.5 161.8l-4 -0.7M34.3 169.7l-0.5 -4.1M29.7 170.2l0.3 -1.8M33.1 167.8l1.7 1.7M35 168.2l0.9 -2.3M26 168.3l1.6 -2.9M37.4 173.5l1.7 -0.1M27.4 170.8l-0.4 4.3M42.1 165.6l-1.3 1.8M35.3 169.8l1.7 2.7M33.9 168.1l1.8 -3.7M34.3 168.1l-2.4 0.5M35 170.3l-1.6 -3.2M43.2 164.8l-0.3 1.6M39.7 160.9l-1.4 1.4M47.6 164.7l1.3 3.7M31.7 160.9l-1.7 3.4M37.5 172.3l1.9 -3.1" stroke="#00dc8c" stroke-width="0.55" opacity="0.95"/><path d="M36 166.3l-1 -1.4M33 169.8l-2 3.7M35.2 173.3l-2.2 -1.6M46.1 165.3l0.7 -2.2M38.6 167.4l1.1 1.3M49 164.3l1.1 1.8M46.2 166.9l-0.9 2.3M31.6 167.8l2 1.7M31.1 162.9l0 -2.8M36.4 159.9l4.1 1.5M39.1 159.8l-0.3 1.5M47.8 164.3l-1.9 2.9M35.5 170.6l-2.2 0.8M31.9 171.6l-0.8 1.9M45.4 161.9l0.9 -2.1M46.6 163.7l-3.2 -1.4M33 172.8l1.1 1.7M43.5 171.7l2 1.6M40.7 165.8l1.6 1.5M48.9 163.9l0.4 3.5M38.6 166.2l-0.4 1.8M37.8 164.8l-1.9 0.7M31.6 165.4l1 -1.7M24.3 164.1l-0.1 2.9M37.2 158.9l-0.3 -3.2M29.2 164.2l1.8 1.2M28.4 162.3l1.9 2.6M40.2 171.9l1.5 2.3M43.7 162.9l1 4.1M46.3 176.1l-0.1 -3.9M45.7 174l-3.6 0.5M48.6 176.2l-0.7 3.7M35.9 174.3l-0.9 -2.1M29.5 175.6l1.5 -2.8M42.8 178.2l0.3 2M37.6 173.3l1 -2.1M34.6 178.8l0.9 1.5M48 176.7l2.1 -1M46.1 176.9l3 0.2M45.9 175.8l1.8 -0.7" stroke="#00c8b4" stroke-width="0.55" opacity="0.95"/><path d="M35.6 158.2l-1.6 2M37.6 164.7l-1.6 -3.6M44.6 161l2.6 -1.5M47.1 168.1l-1.1 -3.1M41.2 166.5l-1 -2M41.8 167.9l-1.8 -2.1M47.9 168.3l-0.5 4.2M27 161.6l1.4 1.5M33.3 159.1l1.7 -3.9M45.3 170.5l2.8 1.6M37 167.8l-0.8 -2.5M43.8 171.5l-0.4 -4M29.3 164.1l2.9 0.7M48.6 166.7l0.6 -1.7M46.4 167.7l-1.1 -1.5M29.7 167.5l2.8 -1.9M37.9 166.9l-0.1 3.2M45.6 177.2l3.1 -1.7M41.3 175.4l0.5 -3.4M45.3 177.2l0.1 -3.3M40 177.3l0.5 2.2" stroke="#00f0c8" stroke-width="0.55" opacity="0.95"/><path d="M38.6 163.2l2.7 3.3M41.8 169.6l-1.9 -3.5M26.5 170.9l-4.2 -0.6M41.8 162.4l-2.4 -1.7M32.6 172.3l1.6 -1M43.5 172.2l1.9 -2.4M35.3 162.4l1.2 2.5M42.7 160.1l-1.4 -1.6M39 167.9l1.8 0.1M36.8 160.7l2.3 3.3M47.8 169.2l-1.6 0.7M24.9 163.1l-0.6 1.8M24.8 163.5l2.2 1.5M28.4 170.1l2.8 -1.7M28 165l0.1 3.3M46.3 169.4l-1.2 -2.5M28.2 164.5l-0.2 -3.8M26.2 170.6l2.6 0.9M36.8 165l-0.3 -2.6M44.3 165.1l-0.5 -3.1M47.1 168l-1.5 -1.2M35.8 170l4.1 1.3M37.1 169.4l-4.2 0M44.2 166.7l2.2 -2.8M27.7 161.2l3.1 -1.7M45.7 161.1l1.7 0.8M39.8 165.9l1.8 -0.4M30.6 169.5l-0.3 -4M27.5 170.1l-1.7 1.5M38.1 164.1l0.9 1.2M26.8 168l-0.1 1.5M43.7 169.2l-1 4.3M45.9 163.6l1.7 0.9M37.8 163.6l3 -2.1M28.8 167.2l-2.1 -3.3M28.4 168.3l-2.9 3.5M38.8 163.5l-0.3 1.5M45.9 170.2l2.1 3.9M34 166l-2.1 3.3M28.7 168.7l-0.4 1.8M47.7 169.1l-1.1 1.9M44 164.1l0.1 -2.4M28.7 169.3l-3.1 -3.3M40.7 159.7l-2.2 3.6M42.9 165l-2 -2.7M28.7 161l-0.9 -1.4M38 161.4l-0.3 4M45 167.9l1.9 1.6M36.7 166.2l0.7 1.7M43.7 168.5l1.5 -3.1M26.2 166.8l0.4 3.7M34.2 173.2l-0.7 -1.9M30.3 162.4l0.4 1.8M30.6 160.8l0.1 1.5M25.5 166.4l0.4 -3.7M39 163l-1.3 -2M34.7 178.9l1.2 3M29.1 176.6l1.3 1.4M41.2 173.5l-0.6 3.6M37.9 176.6l1.7 -3.5M34.7 173.7l-3.2 -2.2M44.5 175l1.4 2.2M32.8 176l-2.7 2.3M46.5 176.9l-2.8 -2.6M41.2 177.2l-0.7 -3.4M31.4 174.2l0.8 1.9M44.8 176.9l0.8 2.7M35.9 176.6l-1.2 -3.2M39.4 177l-2.9 -1.4M38.2 176.1l-1.8 0.9M30.3 176l0.2 -3.8M43.6 177.8l-2.7 0.4M42.7 177.1l-1.1 3.6M32.4 175.4l0 2.3" stroke="#00c8c8" stroke-width="0.55" opacity="0.95"/><path d="M42 166.8l0.7 -2M37.9 162.5l1.9 2.8M30.8 170.5l0.6 1.6M32.1 159.2l-2 -1.2M27.9 161.7l-0.3 -4.3M33.9 165.7l-1 1.3" stroke="#14f0a0" stroke-width="0.55" opacity="0.95"/><path d="M35.2 160.1l1.1 2.7M36.9 159.9l-0.8 -3M47 166.8l0.5 3M40.6 171.4l1.7 -0.3M32.5 171.7l1 2.3M36.9 172.6l1.1 4M31.4 160.1l-1.9 4M39.4 164.6l2.9 2.1M40 170.9l1 -2.2M34.9 170.6l-1.4 -2.2M43.7 168.1l1.2 -3.1M38.3 168.6l1.2 3.3M32.9 169.6l1.8 3.7M41.1 161.3l-1.1 2.7M40 171.4l1.2 1.3M47.1 170.1l-0.8 -3.8M35.7 167.2l1.8 -3.6M34.5 161.7l-0.6 1.8M43.6 165.5l-0.3 4.4M34.8 164.8l1.1 1.8M37.8 164.3l1.9 -3M39.6 160.7l-1.8 -1.9M28.7 169.6l-0.4 -2.4M29.8 163.7l-0.2 2M31.8 168.3l-0.4 -2.7M32.9 163.6l2.5 -2.9M37.5 163.7l-0.9 2.1M34.4 165.6l2 -0.9M34.9 171.9l1.1 1.4M38.4 161.9l1.2 2.6M33.6 163.5l-3.5 2.4M25.5 166.2l-1.4 -3.3M36.3 165.6l-2.4 2.6M37 160l-1.3 2.2" stroke="#00f0a0" stroke-width="0.55" opacity="0.95"/><path d="M30.9 169.7l-1.6 -2.1M33 169.9l-0.3 1.7M37.9 167.5l-0.4 -3M24.4 164l0.7 -1.4M37 170.9l0.5 -1.6M27.4 170l2.5 -0.8M37.3 166.2l1.9 3.2M27.1 165.5l0.6 2.6M40.3 159.9l1 1.5M29.3 165.5l2.7 2.5M42.1 174.6l-0.9 3.9M35.2 179.8l-0.7 -2.3" stroke="#14f050" stroke-width="0.55" opacity="0.95"/><path d="M27.3 166.3l0.7 -3.7M34.3 162.3l1.6 0.6M25.5 167.6l2.1 -0.5M40.5 172l-1 1.3M36.1 166.7l2.3 3.1M37.2 160.8l-2.4 1.7M30 170.5l2 3.2M32.1 165.4l-0.6 2.2M32.2 167.9l-0.7 1.9M40.6 160.6l-3.8 -0.7M32.4 170.8l-0.4 1.7M37.6 170.6l-3.8 0.8M46.6 170.5l3.2 2.4M43.7 170.1l-2.3 -2.9M33.8 162.2l0.5 2M45.4 162l-1.2 -4.2M34.4 162.3l0.4 -1.7M32.3 167.4l0.1 -1.9M29.6 161l3.9 1.6M40.5 160.1l0 -3M32.8 170.2l-0.4 4.1M42.6 171.5l-0.4 2.2M47.9 166.3l0.5 -1.8M43.8 163.6l1.4 -0.6M44.2 168.5l0.8 2.3M34.6 161.6l1.1 1.1M42.6 161.2l0 -4.3M36.9 162.7l-2.6 2.3M36.1 169.3l2 -2.7M29.4 171.1l0 2.7M32.9 168.2l-1 1.2M32.5 164.9l0.5 -3M37.8 160.6l-0.1 -4.1M48 163.3l0 1.7M29.6 170.4l0.6 1.5M39.4 162.2l-0.8 -1.3M35.6 168.9l1.3 3.2M38.1 164.9l1.8 3.1M39 161.2l2.3 -2.2M44.6 167.3l-2.5 -0.7M42.6 160.6l-1.2 -2.3M32.1 161.6l-1.2 2.9M47.1 166.2l0.2 -2.7M31.1 168.5l3.2 -0.8M31.8 170.2l0.4 3M32.9 175.8l-2 -1.5M45.8 178.5l0.1 -2.5M28.6 175.3l-1.8 -0.4M39.6 173.9l-0.8 -1.3M45.8 174.2l1.3 -2.4M47 175.5l-1 2.6M34.7 176.7l1.6 1.9M35.2 173.8l0.3 1.6M41.2 174.1l-2.4 -2.2" stroke="#28f03c" stroke-width="0.55" opacity="0.95"/><path d="M39.2 168.9l2.6 2M40.1 170.1l0.6 -4.1M31.1 165.6l1.7 -1.9M43.6 170.7l-2.4 -3.8M39.3 168.9l-2.2 -0.5M45.4 169.4l1.5 2.4M42.9 167.1l0.8 -3.3M44.6 165l3 0.5M44 166.3l-1.3 1.2M45.4 176.8l-1.6 0.4M40.5 176.5l1.8 -2.2M39.2 177.1l-2.1 1.4M37.5 178.3l-0.5 1.4M47.7 174.9l0.5 1.9M47 177.6l-0.3 -1.7" stroke="#14dc50" stroke-width="0.55" opacity="0.95"/><path d="M28.3 170.9l3.4 -1M27.2 165.8l-1.7 2.4M26.6 165.7l1.5 3M45 168.3l-0.8 3.5M33 170.9l1 -4.2M40.3 168.6l-0.5 -2.2M39.1 164.2l-2.4 -3.1" stroke="#14dca0" stroke-width="0.55" opacity="0.95"/><path d="M25.7 161.9l-1.3 1.8M37 167.3l-3.6 -1.5M27.7 163.9l0.4 3.9M42 165.2l1.1 3.7M30.3 171.9l0.3 3.4M38 159.6l-1.6 -1.5M28.2 171.9l1.1 2M40.3 163.2l3.8 -1.9M41.3 172.8l2.8 -2.8M27.6 169.2l-2.2 -3.9M41.9 171.7l-1.6 3M46.9 165.5l-2.9 -3.2M36.1 160.3l2.9 -2.8M33.4 158.8l2.1 -3.7M34.2 172l-1 -2.2M47.6 165.7l1.5 1.8M44.1 168.8l-1.1 -1.8M33.7 163.8l-2 1.3M30.3 166.2l0.7 3.2M37.4 167.3l0.1 1.8M34.7 168.7l-2 -2.3M39.9 169.9l2.8 -1.7M37.8 168.3l-1 1.5M40.4 171.5l-0.2 3.4M39.8 161.2l-0.4 -1.7M31.3 161l0.3 -3.1M27.9 167.5l-4.2 1M45.5 162.8l-0.9 -1.7M45.3 161.6l-0.5 4.1M48.4 164.6l0.8 3.6M35.8 164l2.1 2.1M39.3 164.4l0.8 3.2M33.9 161l1 2.9M31.8 171.8l0.8 -2.7M47.1 164.1l-1.5 -2.5M45.1 162l0.2 -2.3M40.6 166.7l2.7 -1.9" stroke="#00dca0" stroke-width="0.55" opacity="0.95"/><path d="M25 166.7l-0.8 -1.4M38.2 171.4l-0.2 2M28.8 171.4l-0.3 3.2M41.2 168.4l1.3 3.5M37.9 162l2.5 0.7M44.4 162.3l-0.8 2.5M44.6 164.9l2.3 2.6M47.7 165l1.5 -1.8M27 170.1l-2.7 -0.5M35.5 165.1l-2.2 3.1M46.2 163l0 3.4M40.8 161.3l1.9 -0.9M33.5 164.3l-0.9 -1.4M35.3 166.5l-1.6 2.4M29 162.3l1.1 2.8M28.5 161.7l1.8 3.9M24.4 166.7l-0.9 -3.8M36.3 172.4l-1 -1.9M33.4 162.3l-2.9 -0.2M28.5 163.9l2.2 -2.6M45.4 161.1l0.4 2M36.2 163.1l1.6 -3.5M37.3 166.5l-1.2 3.9M36.8 167.2l-3.2 -2.6M46.4 170.9l2.3 3.4M25.8 163.2l1.5 -1.9M43.1 177.3l1 -1.2M38.4 174.2l-2 1.2M45.3 173.8l-1.2 -3.7M43.7 174.9l-0.1 3.9M41.6 177.9l2.1 1.1M44.9 175.2l-1 2.4M37.2 178.2l0.5 1.7M43.7 175.4l-2.2 -0.7M44.5 177l1.1 1.5" stroke="#28dc28" stroke-width="0.55" opacity="0.95"/><path d="M34.7 167.7l2.9 0.2M31.1 168.8l1.9 3.5M34.3 164.3l0.6 -3.1M29.5 172l1.4 -1.8M38.7 165.3l0.9 -3M34.6 159.5l0.6 2M40.3 160.7l1.2 -1.5M32.2 160.5l2.9 -2.7M32.4 162.1l-0.7 2.4M35.1 166.1l-1.7 1.7M23.7 166l4.2 -1.2M27.3 168.6l0.1 -1.7M36.6 164.5l-3.4 -2.6M30.5 171.9l-0.6 3.7M34.8 172l-0.7 4.2M42.6 179.4l-1.3 -2.3M46.5 177.5l-1.5 3.4M47.5 175.9l-2.4 2.1M28.9 174.8l-0.1 3.2M34.6 178.1l0 3.8M35.8 175.9l0 -1.8M31.6 175.7l-3 -2.2M48.1 176.8l2.3 -1.1M30.3 178l-1.3 2" stroke="#3cdc3c" stroke-width="0.55" opacity="0.95"/><path d="M32.2 172.7l-0.8 -1.3M27.6 164.3l0.9 -2.9M34.6 159.1l1.4 2.6M38.4 160.8l0.5 2.9M40.9 159.1l0.6 -4.4M44.4 170.2l-4.3 -1.2M35.4 160l-3 -0.4M34.4 170.4l-1.2 -2M43.7 171.2l-0.4 3.5M36.8 170.6l1.3 2.9M26.5 161.2l-0.8 -2.3M31.8 160.4l-1 -1.9M42.6 159.5l0.3 -2.8M31.1 172.3l-2.1 -3.5M26.5 162.9l-2.8 -3.2M32.6 172.8l1 2.9M28.8 161.4l-1.3 -1M34.9 165.5l-1.2 2.4M40.5 170.9l-0.3 -3.2M44.1 169.1l-0.1 2.1M27.2 169.4l0.5 -2.8M47.3 178.3l0 -2.5M41.4 177l0.8 -3.1M30.9 175.3l-0.3 1.7M36.9 178.6l0.5 -3.4M42.2 178.9l1.8 -1.7" stroke="#14c8c8" stroke-width="0.55" opacity="0.95"/><path d="M42.8 161l-0.3 -2.3M26.3 164.8l1.3 -2.7M32 168.8l-3.1 -0.5M37.6 164.4l-1.4 -1.6M40.3 158.7l0.7 -3M44.2 177.5l-3.1 0.1M33.6 175.7l0.1 -2.4M39.2 179.2l-0.1 3.1M49.5 176.8l-2.7 -1.4" stroke="#14dcb4" stroke-width="0.55" opacity="0.95"/><path d="M39.9 167.3l-2.8 3M40.3 167.2l2.6 -1.2M42.4 166.9l1.1 2.9M36.6 159.2l0.8 2.5M45.1 167.8l2.8 2.8M45.8 161.4l1.9 1.6M30.2 172.2l-0.8 -2.8M37.7 160.7l0.2 -2.4M30.7 167.6l0.3 3.5M42.2 169l-2.6 -2.9M24.5 162.9l0.2 -2.5M39.5 158.5l-0.9 2.5M38.6 159.4l-1.2 1.3M29.8 164.7l-0.2 -2.8M34.4 168.1l1.1 -1.8M37.7 163.5l-0.6 -4.3M43.5 171l2.2 -3.1M38.2 170.1l-1.3 -1M46.9 163.1l1.2 -1.9M47.7 162.8l-0.1 3M28.4 160.6l-2.4 -3.3M36.3 160l-3.3 1.2M28.9 165.1l3.7 -2.5M38 162.5l-0.7 3.5M31.8 166.8l1.3 3.2M43.2 162l0.4 -2.6M30.9 168.6l-0.5 3.4M46.3 163.7l1.3 -1M40.6 163.4l1 1.2M32.3 161.1l-3.5 -1.5M44.8 163.1l1 1.2M27.2 164.9l-1.5 -2.2M44.4 161l-1.7 3.2M25.9 164.6l-0.3 2.6M30.2 164.3l-2.6 0.8M32.6 164.8l-2.6 -3.4M42.8 163.6l0.3 -2.7M28 170.7l-1 1.2M44.8 161.9l0.1 -2.2M40.4 162.8l2.7 1.4M40.3 166.3l-1.4 3.9M24.1 167.2l2.1 -1.3M25.5 164.1l-2.2 -0.6M45.9 170.1l2.6 2.4M40.8 164.1l1.5 -1.2M43.6 172.2l0.5 -1.7M45.7 166.6l-0.7 3.7M43.6 166.9l-0.8 -1.5M28.6 163.5l-1.5 -3.5M34.8 165.1l2.1 2.5M31 166.9l-0.3 -1.6M46 161.5l1.7 3.1M39.3 164l1.8 3.9M31.3 160.8l-1.7 3.4M31.8 173.2l3.4 -1.7M33 169.1l-1.8 0.8M38.5 172.8l-0.5 1.4M39.3 161.5l0.4 -3.8M35.1 172.4l-0.2 -3.3M43.1 159.9l-0.8 -1.3M42.8 168.4l1.6 4.1M34.6 165.8l1.2 -4M38.1 160.4l0.1 3M44.1 169.2l-1.4 -3.7M47 168.9l0.6 -1.9M38 170.7l-0.2 3M28.2 166.6l0 4.5M34.8 169.7l0.5 2.7M43.7 160.4l0.2 3.7M36.9 165.7l-3 -3.2M26.8 167.4l-0.6 -2.6M37.1 161l1.5 -3.4M24.4 167.2l-1.9 -3.3M29 162.4l0.8 2.4M29.8 172l-0.4 -2.7M35.3 161.6l-3.7 -0.2M30.2 177.3l1.8 -2.9M38.1 176.2l0.4 -2.2M46.9 175.5l1.6 0.7M28.4 176.4l1.8 -1.8M38.4 174.8l0.2 2.5M37.9 176.5l0.2 -2.7M35.5 174.2l-1.4 1.4M32.1 176.3l-0.9 -2.4M30.1 178.9l-1.4 3.4M40.9 175.1l-1.8 0.7M38.9 178.7l0.6 -3.7M41.9 176.2l0.7 -1.6M33 175.2l-1.7 -2.2M40 178.6l1.5 1.3M46.7 177l3.1 -1.5M38.2 177.7l0.5 3.9M44 179l1.9 -2.1M39.3 175.3l1.3 0.9M42.8 178.2l2.1 2.3M35.5 173.1l-0.2 2.9M46.3 176.3l3.3 -1.2M44.7 173.6l2.6 -2.8M42.2 178l-1.1 3.6M44.9 176.4l0 2.2M35.5 174.3l-1.1 1.7M43.3 175.1l2.5 1.3M32.6 176.9l-1.6 -1.5M46.8 175.7l0.2 -1.6M39.3 177.7l-2.4 1.7M45.6 176l2 -1.7M40.6 173.2l2.7 2.8M38.7 177.3l-3.7 0.4M36.4 178.3l1.4 -0.6M30.2 175.9l0.4 1.8" stroke="#00dcc8" stroke-width="0.55" opacity="0.95"/><path d="M44.3 161.3l-0.6 2.9M29.3 169.6l-1.2 1.8M30.9 172.8l-3.6 1.9M35.8 159.2l-0.9 -2.5M24 164.9l0.4 -3M33.4 172.2l-0.3 3.6M33.6 168.7l2 3.3M36.8 159.1l1.8 1.5M39.4 164.9l1.2 2.5M46.9 164.3l-0.2 3.9M39.9 169l-3.7 -2.3M35.7 171.1l-0.8 -2.3M34.4 158.9l1.8 2.1M46.5 162.7l1.1 -2.7M47.9 168.1l-0.3 4.5M24.7 168.8l-1.3 -3.9M27.5 167.6l0 -1.8M24.8 163.3l1.3 3M44.4 163.4l0.2 2.5M44.8 164.7l-1.6 4.2M38.9 161.5l-0.1 2.8M39.4 159.4l3.5 0.4M41 165.1l1.6 0.7M36.4 173.3l-1.5 0.7M47 167.1l-0.2 2.3M47.3 164l0.2 3.1M29 171.3l-3.2 3.2M38.8 160.2l0.2 3.1M44.8 168.1l0 -1.7M36.3 168.7l-2.7 -2.2M36.8 163.7l-2.1 2.8M24 165.4l-0.7 2.9M24.6 163l2.1 -1.7M44.8 163.6l0.3 3.1M34.1 163.5l3.2 0.9M45.6 167.4l0.6 -1.8M41.1 164.5l-0.8 -3M35.9 167.9l1.4 0.8M44.8 167.6l1 -2.9M42.3 171l-1.2 -2.8M26 161.6l2 3.4M37.2 168.4l1.2 1.5M25.8 166.6l-0.8 -1.6M29.4 166.6l0.2 2.2M41.1 165.3l0.5 -1.9M37.1 160.4l-1.7 3.9M31.2 166.4l-1.8 4.1M46.3 163.6l0.3 -1.7M42.6 172.2l-1.5 -2.2M25.8 165l-1.2 4.3M28.7 163.8l0.2 -3.9M30 164.8l-0.1 -2.7M47 165.3l-2.6 2.9M48.1 162.8l-0.4 1.5M36.3 176.4l-1.9 -2.3M32.3 179.1l0 -2.8M39.7 179.3l1.5 2M46 174.7l-1.3 1.4M38.1 175.5l-1 -2.8M34.2 179.4l0.5 2.8M37.7 177.8l0.6 3.3M33 174.6l1.3 -3.1M36.6 177.1l1.4 -0.7M31.8 174.5l1.2 2.6M34.5 177l1.3 -2.9M47.7 176.3l-0.3 -1.7" stroke="#28dc3c" stroke-width="0.55" opacity="0.95"/><path d="M34.6 160.7l0.6 -3.8M35.4 172.5l2.1 1.1M27.4 163.3l-0.4 -2M34.8 167.7l0.3 3.7M31.7 161.9l0.5 3.3M28.2 168.6l0.3 -2.9M28.7 166.7l0.8 -2.7M29.1 161.2l-2.2 3.4M31.7 163.9l3.2 1.4M43.2 165.9l-0.9 -2.3M47.4 167.5l-0.1 -1.6M29.3 169.9l-4.1 0.5M32 159.2l-0.4 1.7M26.8 169.6l-1 3.5M30.8 163.3l-1.6 -3.4M38.9 158.5l1.7 -3.1M34.5 158.4l0.7 1.4M33.5 166.7l-2.7 -3.1M25.6 162.5l0.8 -2M34.2 158.8l-1 1.6M45.3 164.9l-0.2 -2.5M32.6 161.1l-0.2 -3.8M42.1 163.1l1.1 2.1M35.8 173.7l0.2 1.8M41.7 164.6l0.4 4.3M29.4 162.9l-3.8 -1.3M33.4 169.1l0.6 4.1M30.4 159.5l-0.9 -2.6M31.4 161.9l-2 1M32.2 165.5l3.6 2.4M31.9 159.7l1.2 2.6M31.9 175.2l-1.7 -2.6M49.1 177.4l-1.1 -1.6M40.3 178.4l0.2 3.1M34 173.2l1.6 -3.4M40.3 174.3l-0.1 -1.6M29.5 176.3l0.2 -3.3M36.5 180l1.6 -0.9M41.5 177.9l2.2 0.2M29.6 175.7l1 1.2M31.6 177.7l0.5 -2.4M34.1 173.8l-3.5 1.9M36.4 179l0.4 -2.6" stroke="#00dcdc" stroke-width="0.55" opacity="0.95"/><path d="M32 160.1l-0.1 3.3M34.5 168l0.6 -1.8M38.1 167.7l-0.3 4.2M30.4 166.1l-0.5 1.8M28.5 160.5l2.1 2.8M40.7 161.9l-0.5 -3.4M35.5 170.4l1.6 1.7M34.8 167.1l-0.2 2.5M41.8 166.7l0.9 2.7M37.3 163.5l-2.3 -2.7" stroke="#14f08c" stroke-width="0.55" opacity="0.95"/><path d="M33.7 170l-1.9 0.1M40.6 167.9l-2.5 2.5M39.3 170.4l-0.8 1.5M32 169.9l-2.7 -2.1M31.9 161.9l1.8 -3.5M44.3 171.9l-0.3 1.6M31.6 171.1l-0.2 2.2M34.3 173.3l-1.5 1.2M29.4 164.9l2.6 -3M31 172.8l-1.3 -3M33.2 164.8l-0.8 1.7M38.5 168.3l1.5 1.7M37 169.5l2.7 -1.4M29.7 168l0.9 1.9M49.2 166.5l-1.5 1.6M40.8 163.7l-0.3 -2.9M34.9 169.1l2.5 -1.7M39.7 170.5l-0.3 -1.5M37.9 160.9l-1.2 -1M38.2 170.1l-0.9 -1.2M40.7 174.6l0.6 -2.9M47.2 178.7l-0.1 -2.9M32.3 176.3l0.6 2.8M36.3 179.5l1.9 -0.3M45.1 174.6l0.6 3.1M37.7 179.7l-2 3M36.5 178.8l-3.5 -0.1M39.2 178.2l2.8 -1.2M47.8 178.3l3.2 -2.1M34.7 175.4l-1.3 -2.2" stroke="#00c8dc" stroke-width="0.55" opacity="0.95"/><path d="M31.5 168.8l-2.2 2.5M49.2 164.1l2.1 2.1M39.5 169.5l0.3 2.6M40.2 161l0.3 4M33.3 171.1l0.4 3.3M40.6 161.8l-2.1 -2.8M31.7 172.5l0.6 1.6M27.7 164.9l-1 3M35.5 158.9l-0.4 -3.6M32.1 164.6l-0.5 2.3M44.9 161.5l-2.1 -3.2M28 166.1l-0.9 -2M47.9 166.5l0.2 -1.6M40.9 165.3l-2.2 1.6M37.1 165.6l-2 2.5M29.6 164.7l0.1 1.8M31 171.7l2.1 -3.2M33.3 176.4l2.5 2M40.4 177.7l-1.4 -2.6M34.7 179.2l-1.7 2.5M39.9 179.5l1.7 -1.4" stroke="#14dc3c" stroke-width="0.55" opacity="0.95"/><path d="M34.5 165l0.5 3.1M38 171.7l1.8 -3.7M35.3 165.1l-1.4 -2.8M31.1 169.3l-3.1 -1.7M39.6 171.9l-3.9 1.2M30.9 165.2l1.5 -0.4M49.1 168l0.7 2.8M45.7 162.6l2.7 2.7M32.6 164.8l-0.1 1.8M38.9 170.2l-0.8 4.2M36.2 162.4l1 -3M30.8 161.4l1.8 -1.4M37.9 165.4l-0.3 3.6M44.7 164.8l-0.9 3.7M32.3 172.9l2.4 -0.1M41.5 170.4l1 -1.7M41.8 170.6l2.2 -3.4M25.7 166.9l3.1 2.3M30.6 161.6l0.8 2.9M32.1 172.3l2.4 -1.7M40.1 165.8l1.4 -2.4M33.9 172.5l3.1 -2.4M37.7 177.2l-0.1 2.5M39.9 175.3l-1 -1.8M38.3 176.3l-1 -3M42.1 178.1l-3 1.6M40.2 179.7l-2 -2.8" stroke="#28dc50" stroke-width="0.55" opacity="0.95"/><path d="M37.2 159.3l1.6 0.5M45.9 163.3l-0.3 -3.1M36.1 166.9l-1.5 -4.2M37 168.5l0.3 -1.9M32.1 171.6l0.2 -1.6M37.8 168.4l0.9 -3.2M42.6 161.5l-1.5 3.4M47.6 165.7l-0.4 3.6M25.3 165.3l1.5 -2M32 168.3l1.6 1M27.4 166.5l-2.5 3.5M41.7 159.8l-2.6 3.4M30.8 161.9l-0.5 1.8M41.6 171.7l-2.4 0.3M44.4 160.9l0.8 1.5M32.4 168.3l3.7 0.6M37.5 166.1l-0.5 2.3M42.5 167.5l1.6 3.7M30.4 161.6l-1.3 4M45.2 162.3l2.5 -0.8M46.8 166l1.8 0.9M29 167.7l1.8 -2.3M44 170.3l-0.9 -3.4" stroke="#00f08c" stroke-width="0.55" opacity="0.95"/><path d="M39.6 163.5l1.1 -1.9M33.4 161l1 -1.7M34.2 169.1l2.9 0.2M42.5 160.2l0.7 3.8M38.3 166.9l2.3 3.9M40.2 158.9l-0.3 3.5M42.9 164.8l-1.3 3.9M40.3 166.5l-2 1.4M32 162.9l-0.4 -2M25.7 169.4l0.1 -4.4M44.4 159.8l1.4 3.3M33.4 177l2.7 -2M39.1 173.8l1.6 -3.6M27.8 175.9l-1.3 -1.3M29 176.4l1.7 2.8M47 176.6l0 2.6M47.5 174.9l-0.9 3.5M42.3 177.9l1.1 2.8M47.2 176l-2.2 3.3M35.5 175.4l-1.6 3.5" stroke="#14dcdc" stroke-width="0.55" opacity="0.95"/><path d="M44.7 166.1l-2 -4M27.8 168.2l-0.7 -3M37.9 173.7l2.1 -1.8M37.9 168.7l-3.9 2.2M37.2 159.4l1.8 2.8M27.1 167.5l0.3 -3.8M31.4 165.4l-1.4 -2.5M43.1 168.5l0.2 -2.9M27.8 166l1.7 -4M34.2 169.4l1.2 4.1M27.3 161l-1.1 1.9M32.4 163l0.8 -3.1M38.5 159.4l2 -3.4M29.6 164.7l-1.1 2.9M41.3 163.5l-0.7 2.2M28.9 166l-0.3 1.5M34.1 158.8l-0.9 -3.2M47.9 176.3l-1.5 -3.6M27.7 177.3l2.3 -3.1M48 176.5l-0.7 2.4M29.6 175l-2.2 -2M43.2 179.3l-0.1 3.8M48.4 175l-2.9 2.4" stroke="#28f050" stroke-width="0.55" opacity="0.95"/><path d="M32.9 160.4l-1.5 1.6M30.2 174.6l-1.9 -2.2" stroke="#14f0b4" stroke-width="0.55" opacity="0.95"/><path d="M31.3 163.8l0.1 2.1M27.3 170.6l-2.2 -0.8M45.5 167l-2.7 -3M24.1 164.2l3.6 -2.2M41.1 161.5l-2 3M31.5 168.4l0 -2.1M42.8 164.1l2.4 2M32 159.7l-1.4 1.5M27.7 170.5l0.1 -3.3M31.4 162.2l-3.9 -1.6M36.8 161.4l1.2 -2.7M40.1 168l-3.3 -1.5M27.7 165.1l0.3 2.8M35 167.2l-0.5 2.7M46.5 168.8l-4.1 -0.9M31.6 166.9l-1.3 2.9M32.6 165.8l1.4 3.9M31.6 165.3l-0.6 1.7M35.1 170.5l1.4 -1.3M44.6 169.6l0.9 -4.3M28.3 170.9l-0.8 -2.1M35.7 164.9l-2.4 1.9M43.8 175.4l1.9 1.4M33.6 177.9l-2.4 -0.5M34.8 174.3l-0.6 -3.3M39.1 174.6l2.8 -0.3M35.4 176.3l2.4 -2M38.3 177.2l-1.9 -0.6M32.3 173.9l-2.5 2.9M40 177.9l0 1.9M40.6 177l-1.8 -0.3M34.3 176.9l-1 2.1M36 178.5l-2.2 0.5M35.4 178l-0.3 2M42.1 177.2l1.9 -2.2" stroke="#14dcc8" stroke-width="0.55" opacity="0.95"/><path d="M41.5 160.8l-1.3 -2.7M35.7 163.8l3.1 0.1M39.5 172.3l-0.3 -2.7M25.9 168.8l0.1 3.9M34.8 169.7l-1.8 -1M38.5 166.3l-0.6 2.7M31.3 172.6l-2.1 -3.3M40.1 172.8l-3.1 -2.1M38.4 177.4l-1 2.7M43.7 178.6l1.8 2.7M34 177.9l-0.4 -2.9M30.5 177.9l-0.6 -2.3" stroke="#3cf028" stroke-width="0.55" opacity="0.95"/><path d="M32.3 167.9l-2.4 0.1M32 173l0.8 2M41.1 169.4l0.4 -3.4M26.4 169.1l2 -1.1M28.1 170.7l-1.7 -1.2M32 162.6l-1.1 4.3M42 164.2l-2.3 3.2M27.3 168.9l1 4M29 163.5l-0.3 3.1M35.8 164.9l-4 1.2M35.1 172.2l1.1 -4.1M31.7 162.5l0.6 1.5M27.7 165.7l-0.6 -2.3M35.5 170.9l0.6 4.4M34.7 161.3l-3.9 -0.2M37 161.5l1.8 2.6M43.3 163.1l-1.9 -2.2M30.4 163.8l2.1 1.4M43.7 165.6l3.8 -0.4M46.4 170.5l1.7 -3M27.2 163.8l-0.2 -4.1M29.1 175.4l3 -0.2M47.9 175.8l-3.2 -0.7M37 173.1l-1.6 2.9M39.8 179.8l2.5 -2.8M38.3 175.8l0.8 -2.4M32.2 175.1l1.3 3.4M44 177l-1.3 -2.8M35.3 178.5l1 3.8M28.2 175.2l0 -2.9" stroke="#3cf03c" stroke-width="0.55" opacity="0.95"/><path d="M32.1 161.6l1.3 1.3M35.9 158.5l-1.4 -4.3M36.9 159.9l1.2 1.4M41.6 161.4l1.5 3.9M38.4 167.1l-3 1.8M45.4 166.5l-1.5 1.3M31.4 169.6l-1.3 3.3M43 167.6l0.3 -1.6M36.2 158.3l-1.2 -1.2M42.6 177.8l-0.6 -2.1M37.6 176.9l0.6 2.4" stroke="#14dc28" stroke-width="0.55" opacity="0.95"/><path d="M35.4 161.2l-0.8 2.4M45 164.8l-2.3 0.3M27.9 169.7l-0.8 -3M36 168l-0.1 -1.6M30.4 160.9l-3.8 -1.1M41.6 172.1l1.8 2.8M49.1 177.4l-1.5 2" stroke="#14f0c8" stroke-width="0.55" opacity="0.95"/><path d="M41.9 172.2l-2.9 -2.8M28.2 162.9l-1.7 -3.8M45.8 165.1l-2.2 -2.9M40.2 167.8l1 -3.4M48 162.3l1.5 2.2M37 165.8l-0.5 -2M37.6 169.8l-1.1 -1.8M34.8 161.1l-1.5 1M29.2 160.5l-1 2.8M34.8 164.2l-2.7 3.1M34.3 164l0.9 4.2M26.9 167l-1.1 1.8M33.4 172.1l0.4 -2.3M32.7 163l-3.1 2.6M41.9 163.9l-1 1.4M45.3 163l-2.5 -3.5M33.9 164.9l-0.2 4.1M44.6 168.1l0.1 -3M33.5 169.1l-0.3 -1.7M43.3 172.2l1 -1.7M26.9 167.8l-1.9 -1.3M29.7 164.3l-1.3 2.8M26.4 170.8l-1.2 -3.4M32.5 176.2l3.1 -2.1M32.5 176.2l-0.3 -2.8M41 173.2l2.8 -1.2M38.1 174l-0.4 3.1M31.7 175.3l1.4 2.5M46.9 176.2l-1.4 1.7M47.5 174.8l0 -1.6M35.6 178.1l0.8 -2.7M28.1 177.5l-0.2 -1.9M30.6 177l0.7 -3.3M42.6 173.3l0.5 -3.8M29.1 175.8l0.7 -2.7M37.6 173.9l0.5 -3.7" stroke="#00dcb4" stroke-width="0.55" opacity="0.95"/><path d="M35.3 168.6l1.6 -3.3M35.1 175.1l-0.9 2.9" stroke="#00f0dc" stroke-width="0.55" opacity="0.95"/><path d="M48 164.8l0.9 3.7M40.6 164.6l-2.5 -1.4M40.6 165.6l-1 -2.7M29.6 170.3l0.9 -3.8M38.3 171.9l0.2 2M30.6 159.2l-2.2 -2.3M31 171.8l-0.6 1.9M41.9 163.9l-1.2 -2.5M36.1 165.6l-0.4 2.4M29.9 169.7l-1.2 2.5M26.2 166.7l-1.6 2.2M28.5 170.5l-1.2 -2.3M24.7 169l0.7 -1.5M27.4 168.2l0.2 1.6M27 163.9l2 -3.8M41.3 170l0.2 -2.6M48.7 163.3l-0.5 1.6M41.2 176.9l-2.8 -0.5M46.7 174.4l-1.6 2.3M45.7 176l1.2 1.4" stroke="#28f028" stroke-width="0.55" opacity="0.95"/><path d="M32.8 172.6l1.2 -3.4M42 167.5l-1.9 -1.9M25.4 169.9l-1.4 -3.7M35.4 171.9l-2 2.1M45.8 162.7l0.8 3.4M39.8 167l1.2 -2.2M31.9 161.7l3 -2.3M39.6 163.8l-2.1 -2.5M30.4 162.9l3.5 -0.5M31 168.5l2.2 0.7M43.7 167.8l-3.5 1.1M35.9 160.8l-2.1 1M43.6 160.8l-1 -4.4M37.5 173.7l1.8 2.3M40.8 163.7l2.5 2.2M35.7 175.4l-0.4 3.2M30 174.3l-0.5 1.5M45.8 178.5l2.2 -3.1M46 175.6l0.3 -3.4" stroke="#14f03c" stroke-width="0.55" opacity="0.95"/><path d="M33.9 166.3l-1.3 3.8M27.1 162l1.8 2.5M35.8 167l2.8 -1.6M33 168.6l-3.4 1.9M27.3 162.9l0.4 -4.3M38.3 178.2l-2.1 0.8M37.2 178.6l0 2M44.2 176l-0.7 -2.4" stroke="#00f0b4" stroke-width="0.55" opacity="0.95"/><path d="M34 165.9l1 1.4M29.7 167.1l2 -3.8M31.1 167.3l-0.3 -3.3M27.4 165.3l-2.9 -3.3M30.7 164.6l-0.6 -3.9M37.5 172.5l0.2 -1.6M44.4 162.1l0.6 -3M42.7 163l0.3 2.9M27.3 170.2l-0.8 -1.6M26.2 170.3l1.6 -2.9M37.9 180.2l-1.7 -0.5" stroke="#14f028" stroke-width="0.55" opacity="0.95"/><path d="M25.8 167.8l0.3 -2.4M41 167.1l3.9 -0.1M30.3 169.3l-1.5 -1.9M28.1 171.9l1.8 -3.6M29.4 170.7l2.2 -2.6M44.1 165.1l2.7 1M40.1 172.4l-1 -2M25.5 164.3l-3.7 -0.4M39.2 168.2l2.4 -2.1" stroke="#14dc8c" stroke-width="0.55" opacity="0.95"/><path d="M25.4 168.3l1.5 -1.3M33.1 163.9l0.4 -1.5M41.2 163.5l0.4 -1.6M34.8 159.1l0.7 2.4M29 165l2.4 -2.2M29 170.8l-2.3 2.7M41.1 176.2l0.9 -3.3" stroke="#14c8dc" stroke-width="0.55" opacity="0.95"/><path d="M33.8 167.7l0.4 1.5M24.8 164.6l-2.3 -2.8M45.4 165.3l-3.6 -0.8M43 164.9l-1.3 4M36.8 171.3l0.2 2.4M25.9 169.2l0.5 -3.6M42.5 172.1l-0.1 -1.6M40.6 162.4l1 -2.5M37.5 162.4l-0.7 3.4M36.7 173.3l0.7 2.7M37.1 179l-2.2 1.3M40 178.7l0.2 -1.9M29.8 175.1l1.9 0.9M41.3 175l2 -3.2M39.4 174.9l1 1.5M47.7 177.8l2.6 0.6" stroke="#3cdc28" stroke-width="0.55" opacity="0.95"/><path d="M37.2 167l-1.5 1.1M46.9 167.5l3.9 1.9M47.2 178.1l0.8 2.2" stroke="#14f0dc" stroke-width="0.55" opacity="0.95"/><path d="M25.9 163.1l2.9 1.7M26.2 161.8l-1.8 -1.8M25.1 169.5l-0.5 2.1M40.8 165.6l0.1 3M39.5 172.3l0.8 -3.5M45.9 171.3l1 1.2M47.4 165l0.1 3.5M30.3 172.1l0.6 2.4M41.9 173.1l-1.3 3.7M37.1 177.4l-0.7 3.7M31.3 175l1.7 3.4M28.8 175.2l2.7 -2" stroke="#3cdc50" stroke-width="0.55" opacity="0.95"/><path d="M35.1 159.6l0 -3.2M40.6 169.6l0.8 -1.4M42.8 174.7l0.4 1.7M47.5 177.5l-3.7 1.2M47 177.1l-3.3 -1.5" stroke="#14c8b4" stroke-width="0.55" opacity="0.95"/><path d="M45.5 162.1l2 -3.2M30.7 165.2l0.6 -3.6M25.9 162.3l-2.3 2.4M36.1 167.2l2.2 1.1M36 166.4l0.5 3.8M30.9 171.6l-1 -3.3M48.3 177.1l-0.2 -1.8M34 174.4l-1.2 -2M45.3 176l0.6 -3.8" stroke="#3cf050" stroke-width="0.55" opacity="0.95"/><path d="M39.3 175.2l-0.9 -2.6M36.2 173.2l1 3.1M35.2 177.7l0.7 -3M46.1 175.8l-0.3 3.5" stroke="#14c8ff" stroke-width="0.55" opacity="0.95"/><path d="M44.4 179.1l-0.1 2.1M32.2 179.2l1.4 2.5M37.3 176.3l-1.8 -2.5M36.9 179.8l2.7 -1.2M45.3 175.4l1.5 -2.2M44 174.8l0.3 2.6M35.6 177.3l-3.6 1.6M40.5 179.6l1.8 -0.6M34.1 177.1l0 3.1M43.4 176.3l2.8 -2.2M34.8 173.6l-1.6 -2.1M39.1 175.8l0.9 3.4M38.7 174.4l-0.1 2.6M38.7 173l-1.5 2.8M43.2 178l-0.7 2.6M36 177.1l-0.8 -1.4M38.3 175.5l0 -1.7" stroke="#28b4ff" stroke-width="0.55" opacity="0.95"/><path d="M35.3 174.5l0.8 -2M38.7 176.1l3.6 -0.5M46.6 179l-1.6 1.9M38.4 176.1l-1.1 2.9M47 174.2l-0.9 1.4" stroke="#28b4f0" stroke-width="0.55" opacity="0.95"/><path d="M36 179.4l-1.3 3.4M36.4 173.6l0.4 -3.4M30.7 176.8l-1.1 -1.9M33.7 175.7l-1.6 -3.5" stroke="#28c8f0" stroke-width="0.55" opacity="0.95"/><path d="M32.6 177.2l2.8 -1.9M38.8 174l-1.5 -3.3M42.4 178l2.6 2.7M33.9 177l-0.9 1.4M42.6 174.2l-0.6 -2.9" stroke="#14b4f0" stroke-width="0.55" opacity="0.95"/><path d="M42.6 175l-0.5 2.3M38.6 177.9l-0.3 1.5M41.9 178.2l1.2 1.3M45.4 177.8l-2 0" stroke="#3cb4f0" stroke-width="0.55" opacity="0.95"/><path d="M46.9 176.5l-1.7 -3.3M33.6 175.2l1.1 -1.2M44.9 178.2l0.2 2.7M35.1 175.5l-1.4 3.4M34.8 174.3l-1.6 -2.9M46.6 174.5l2.7 -2.3M46.3 175.8l-2.3 2.1M34.1 175l1.2 -2.2M36.9 173.4l3.5 1.8M42.3 174.6l-0.2 3.3" stroke="#28c8ff" stroke-width="0.55" opacity="0.95"/><path d="M43.9 176l2.3 -3.2" stroke="#14c8f0" stroke-width="0.55" opacity="0.95"/><path d="M48.6 176.6l1.8 1.3M42.9 174.7l-1 -1.9" stroke="#3cb4ff" stroke-width="0.55" opacity="0.95"/><path d="M47.7 178.3l2.4 -2.5M42.3 176.5l3 2.7" stroke="#3cc8f0" stroke-width="0.55" opacity="0.95"/><path d="M36.8 179.6l-2.4 1.5M31.5 173.8l0 -2.6" stroke="#3cc8ff" stroke-width="0.55" opacity="0.95"/><path d="M41.8 174.2l1.3 -3.1" stroke="#14b4ff" stroke-width="0.55" opacity="0.95"/><path d="M39.8 187.8l-0.6 2M40.6 190.7l-0.6 1.7M40.1 181.3l-2.9 1.9M30 181.8l1.3 -1.4M45.1 183.1l-1.1 2.1M31.5 181l0.3 2M45.7 182.2l0.4 2.6M33.6 185.3l-0.5 -2.6M39.6 178.7l0.1 -1.2M32.9 187.8l1.1 -2.8M38.9 184.8l1.8 -2.1M33 180.6l-1.3 -2.6M29.6 184.8l-0.9 -2.7M32.9 188.5l-1.5 -2.8M40.8 182.6l0.9 3.4M31 183.1l-1.1 -2.5M29.6 187.6l2.4 1.4M41.2 183.1l-1.3 1.4M37.8 188.9l0.2 -3.2M36.1 190.6l0.6 -2.2M39.4 183.8l-2.1 1M43.8 186.8l-0.4 2.6M41.8 179.7l-1.7 -2.4M42.3 180.5l1.6 0.4M28.4 184l1.9 -1.9M41.6 181.8l2.8 -1.5M46.8 183.8l1.8 -0.2M36.9 191.4l-0.3 -1.3M32.9 185.5l-1.5 -2.7M41.9 180.4l-0.4 -1.4M43.3 186.5l-0.2 3M37.4 178.5l-0.1 1.3M40.7 183.1l0.9 3M34 181.2l0.7 3.3M34.3 189.8l-0.1 -2.1M37.1 182.3l-0.2 -1.7M43.3 187.8l0.6 -2.3M32.6 184.7l2.9 -1.6M35.7 185.4l1.3 -2.2M43.5 186.4l2.8 1.4M33.6 183.9l1.8 -0.5M35.3 190.7l1.7 -1.4M41.4 191l0.2 -1.7M33.5 183.5l-0.9 1.6M28.3 184.4l0.8 2.8M42.8 184.8l1.1 2.8M41.6 188l1.3 0.4M39.3 187.4l1.6 -2.7M44.5 184.2l-0.4 -2.4M41.2 189.3l0.2 1.6M34.9 187.7l-2 -0.8M33.4 184.8l-1.6 -0.8M31.6 184.5l-0.3 -1.3" stroke="#0078ff" stroke-width="0.7" opacity="0.95"/><path d="M34.8 187.8l1.2 2.2M35.1 188.7l1.5 2.4M35 180.9l-1 -0.9M36.4 184.5l0.5 3.1M46 186.6l3.2 0.4M32.9 184.5l-2.3 -0.2M41.2 179.6l-3.1 0.9M33.9 190.1l-1.6 -1.2M28.9 186.8l0.1 3.5M40.4 185l0.4 -3.4M32.1 186.2l-3 1.2M40.1 181.3l-1.5 1.4M38.2 178.7l0.1 -1.7M39.1 178.9l1.3 -2.1M33.6 185.3l-1 -2.5M42.8 185l1.3 -0.4M38.4 188.2l0.1 -3.1M31.2 181.6l2.3 -1.5M32.7 183.7l0.7 1.8M43.2 179.8l0.3 1.8M45.8 181.3l-0.7 -1.1M36.9 183.4l0.6 -3.4M38.6 188.7l1.1 -0.6M31.8 184.3l0.1 -2.2M37.9 181.7l-0.9 -1.1M34.8 180.3l1.7 1.9M40 181.8l1 2.9M37.2 184.8l-1.3 1.6M44.8 186.2l-3.1 0M39.5 184l-1 0.8M41.6 183.3l-0.7 3.2M37.9 183.2l0.9 1.7M33.5 180.6l-0.4 -1.2M38.8 191.1l-0.3 2M38.2 184.5l0.8 -1.4M43.2 179.8l-2.6 1.8" stroke="#0078f0" stroke-width="0.7" opacity="0.95"/><path d="M32.3 183.6l1.5 2.3M39.1 178.7l-0.1 -2.5M35.3 185.6l-0.1 -3M40.9 182.2l0.9 2.2M31.2 183.4l1.9 -2.1M30.3 182.2l0.2 -2.5M34.5 180.2l0.3 1.3M41.3 184.6l0.7 -2M38.4 181.9l-1.3 -2.3M44.6 180.8l-0.9 -3.3M41 186.3l-1 2.3M31.1 188.1l-1.7 -1.9M45.7 187l1 0.7M38.7 191.5l-1 1.8M40 188.8l0.8 -2.1M36.1 186.7l0 -3" stroke="#28a0f0" stroke-width="0.7" opacity="0.95"/><path d="M37.3 190.5l-2.3 2.3M33.8 190.1l-2.3 -0.7M35.9 183.9l-2.3 -2.1M32.2 180.2l-1.2 -2.2M36 182.7l-0.2 -1.7M35.6 186.9l-0.4 1.6M36.4 184.4l-1 1.1M45.7 185.8l-0.6 2.5M42.1 183.7l-1.9 -1.6M34.5 189.3l-0.8 1.3M31.9 183.4l0.5 1.9M29.1 185.6l-1.1 -1.1M31.5 181.2l-0.3 -3M38.6 179.4l0 2.7M35.5 182.3l1.2 2.2M45.4 184.9l-2.3 1.9M43.3 190.1l0 2.7M40 182.8l0.4 1.7M32.2 188.6l0.7 -1.9" stroke="#1478f0" stroke-width="0.7" opacity="0.95"/><path d="M47.7 184.2l-0.8 -2.7M45.2 180.7l-0.2 -2.4M41.4 186.2l2.5 -2.5M45.4 188.3l-3.2 -0.1M42.5 184.9l0.8 -1.8M36.1 183.1l1.5 -1.5M38.6 189.7l-1.1 2.4M46.2 183.7l1.6 1.5M33.1 184.2l1.5 1.6M32.7 184.2l1.3 1M41.3 188.2l-0.7 -2.2M39.6 188.5l-1.7 3M42.6 185.4l-0.1 1.6M33.6 190.6l2.2 1M34 189.7l1 -2.3M43.7 184.9l-0.5 1.3M34.7 187.4l-1.3 1.9M35 185.7l1 2.6M32.2 186.5l0.8 1.2" stroke="#148cf0" stroke-width="0.7" opacity="0.95"/><path d="M37.6 187.6l-0.1 2.5M31.1 187.1l-0.2 -2.8M43.1 189.5l-1.1 -1.3" stroke="#14c8dc" stroke-width="0.7" opacity="0.95"/><path d="M38.8 187.5l1 -0.8M36.3 180l1.1 1.1M35 180.8l-0.5 -1.8M42.6 188.6l-1 -2.1M43.5 186.2l-2.2 1.2M39.6 180.6l0.4 -1.7M35.2 189.3l-0.8 -1.2M46.6 184.8l0.8 1.7M33.6 180.8l-1 2.7M33.9 185.5l0.8 -2.2M35.1 181.5l-1 0.7M34.6 182.1l-2.4 -2M31 189.2l1.9 1.4M43.5 183.3l0.9 -2.5M34.2 187.1l2.5 1.2M30.2 183l1.4 1.6M46.3 183.2l0.9 2.2M33.9 185l-0.1 1.5" stroke="#14a0f0" stroke-width="0.7" opacity="0.95"/><path d="M43 189.3l1 -2.1M35.3 183.3l0.2 2.6M37.3 179.3l2.1 -1.1" stroke="#14dcff" stroke-width="0.7" opacity="0.95"/><path d="M43.6 182.7l1.7 0M33.8 181.2l0.5 2.7M45.5 184.5l2.7 2.1M39.5 190l-0.6 -1.2M37.1 187.4l0.2 2.2M30.4 186.1l-0.9 -2.3M33.5 185.9l0.9 -1.6M32.5 181.4l1.7 0.9M39.5 182.4l0.9 -1.9M36.9 187.2l-0.9 -2M41.1 186l0.7 1.3M32 182.8l3.4 0.9M37.2 184.9l-1.1 -2.5M37.3 184.1l-0.2 1.7M38.5 191l1.4 -0.2M31.3 186.4l1.6 2.7M29.4 182.3l-0.7 1.9M35.6 179.3l1.8 0.9M36 188.6l-2.2 -0.6M36.9 183.1l2 -2.4M38.4 187.9l-1.7 1.5M41.3 190.6l-0.1 -2.4M44.5 184.8l-1.1 -0.6M35.5 186.5l-0.6 1.4M35.6 182.8l-1.5 2.2M34 183.7l-0.2 -1.3M29.8 187.7l-1 -2.7M33.4 187.5l2.2 -1.5M35.7 181l-0.5 2.1M38 189.1l-0.7 -1.5M39.8 180.5l-0.4 1.4M43.7 180.3l-2 1.3M34.5 184.6l-0.3 1.2M34.8 184.1l-1 -3M36 191l-1 0.9M31 180.5l-1.2 2.6M37 189.7l-0.3 2.8M33.5 188.4l1 -2.6M31.7 189.1l-2.8 -1.4M32.9 180.1l1.3 -2.2" stroke="#00c8f0" stroke-width="0.7" opacity="0.95"/><path d="M36.1 183.8l1.3 1.7M37.6 190.7l1.2 3.1M34.5 189.1l-0.5 -2.1M30.9 185.8l-0.3 -1.7M44.7 182.8l0.2 3.2M34.1 188.7l2 -2.5M43.7 188.5l2.8 -1.8M40.7 185.6l0.7 2.5M39.5 187.8l3.4 0.5M28.4 184.5l1.3 -2.3M35.6 181.1l-0.7 -2.8M38 184.2l-2 -0.6M29.9 185.2l0.3 -1.6M31.7 180l-0.9 2" stroke="#1478ff" stroke-width="0.7" opacity="0.95"/><path d="M43.8 185.3l-1.1 2.4M44.9 183.4l-2.5 1M39.4 188.3l-2.4 -1M38.5 190l0.5 1.6M29.8 185.1l-1.6 -1.8M38 187.2l-1.7 -0.4M38.6 187.8l-0.5 -1.8M43 186.9l0.4 -2.7M46.1 188.6l-0.9 -2.5M39.4 184.5l-0.5 -1.1M37 190.3l-1.7 1.9M46.7 182.3l-0.4 -2.9M37.5 183.9l1.1 -2.8M41.2 180.3l0.9 -3.2M41.4 189.2l-0.2 -2.2M42.7 180.8l-0.8 1.6M40.3 190.7l0.2 3.1M32.1 184.9l2.7 1.9M39.1 185.9l1.2 2.3M44.1 188l1.7 1.1M38.7 181.3l0.6 -2.8M45.3 181.5l-3.3 0.2M46.2 183.1l-0.7 2.9M31.4 187l1 -1.8" stroke="#00c8ff" stroke-width="0.7" opacity="0.95"/><path d="M42.2 190.2l0.2 -1.7M33.3 180.6l-0.8 1.5M40 181.9l-0.5 -2.9M40.8 185.2l0.9 2.6M35.8 188.3l-0.3 1.5M31.9 181.2l-0.4 -3.4M44.1 185.1l-3.2 0.8M46.2 181.8l-0.4 -2.8M38 180.4l1.1 -2.1M39.2 181l0.6 -1.2M37.9 188.7l0 1.7M39.3 184l-1 -1.2M30.9 182.1l3.2 -0.1M32.5 186l-0.1 2.3" stroke="#288cff" stroke-width="0.7" opacity="0.95"/><path d="M45.9 185.8l-2.4 1.4M46.2 185.5l-1.6 2.5M39.4 190.4l1.5 -3M30.8 188.4l1 -1M35.6 181l1 -2.4M33.5 181.6l0.1 2.3M41.2 185.3l-0.6 1.5M42.3 189.1l-1.9 1.5M42.2 181.3l-0.9 -1.7M29.2 184.1l3 1.6M44.9 188l-1.6 1.9M32.6 183.6l-1.9 -2M37.4 188.8l-0.9 -0.7M35.5 188.8l2.2 0.7M39.4 186.1l-1.1 1.4M42.3 181.1l1.4 -0.5M41 185.5l-0.3 -2.1M36.9 178.5l-2 0.3M34.8 179l0.1 -3.4" stroke="#148cff" stroke-width="0.7" opacity="0.95"/><path d="M44.1 184.8l-0.6 1.6M45.1 185.1l-1 -1.2M43.2 179.6l1.9 -1.3M33.4 188.8l0.8 3.2M40.6 180.2l0.2 2.9M45.2 183.2l-1.7 1.9M38.6 180.5l-1.5 -2.4M37.9 187l-0.3 -2M37.1 178.5l0.9 -0.8M34.4 184.3l1.9 -0.9M40.8 184.9l0.3 -2.7M45.3 181.9l-0.8 1.5M30.6 188.9l0.1 -1.3M36.9 185.3l1.4 1.5M36.1 185.6l-0.1 2M36.8 179.5l-0.3 2.3M34.8 185.4l-0.9 1.5" stroke="#28b4ff" stroke-width="0.7" opacity="0.95"/><path d="M34.7 189.8l1.3 2.2M30.9 184.1l-0.1 -2.7M34.5 189.6l0.2 -1.2M34.6 185.5l-1.4 -2.3M33.7 179.4l-0.7 1.1M37.2 180.6l2.2 -0.3M35 185.5l-0.3 -1.8M32 188.6l0.2 -3.3M42.3 179.1l1.1 -3.1M41.5 179.8l1.5 1.1M39 191.2l-1.4 -1M32.9 189.3l1.2 -2.2M42 181.5l-2.4 -1.2M32 189.7l0.9 2.9M47 183.7l0.1 -1.6M33.8 182.4l0.1 2.2M46 186.2l1.3 1.2M43.5 189.7l2.5 1.3M41.7 190.7l1.7 2.3M41.8 182.9l-1.4 -1.4M43.2 185.8l1 -1.7M38.9 188.1l0.7 2.4M35.4 189.1l-0.7 -1.2M31.7 182l-0.8 1.9M37.2 183.5l-2.1 0.8M28.3 184.6l-2.1 1M31.7 180.5l0.6 1.4M41.5 181.5l0.9 -2.7M38.5 186.5l0 -1.2M43.2 185.8l2 -2.7" stroke="#00b4f0" stroke-width="0.7" opacity="0.95"/><path d="M31.2 187.2l-2.4 2.2M33.9 191l-0.4 -3.3M38.1 184.7l-2.2 -2.4M44.3 186.9l-1.2 2M34 188.5l-0.7 2.4M35.2 189.6l1.4 0.5M28.9 184.6l1.5 -2.4M34.3 184l0.2 -1.4M45.1 183.8l-0.6 1.1M41.6 180.9l0.9 1.8M38.1 186.1l1.2 2.5M38.2 186.3l-2.8 0.3M43.1 187.1l-0.2 1.8M38.5 181.6l-1.6 -1.5M41.7 183.3l1.2 -2.6M44.5 184.2l-1.1 -2.9M35.7 179.3l1.5 -0.8M32.9 183.4l1.9 0.7M29 187.4l-1.3 -1.4M42.1 186.1l1 -3.3M40.8 191l0.8 -1M38.3 184.7l-0.9 -3.3M43 187.7l-0.7 1.8M42.5 184.1l-0.7 1.6M43.9 181.3l1.3 2.3M36.6 181.3l-0.2 1.4" stroke="#28a0ff" stroke-width="0.7" opacity="0.95"/><path d="M37.6 179.6l-0.7 1.5M44.5 182.1l1.1 1.2M36.8 181.6l-1.1 1.8M40 182.6l0.5 -2.8M38.2 183.7l-1.6 1.2M42.9 186.1l-0.7 2.9M43.6 187.1l-2.7 0.9M30.9 188.8l3 1.3M33.1 189l1.6 -0.3M30.2 189l1.5 -2.1M35.1 183.1l0.4 -1.6M41.8 189.3l2.6 -1.7M30.7 187l0.2 1.5M39.3 188.7l0.1 -1.2M37.2 179.1l1.3 -0.4M38.5 188.6l0.2 1.6M35.8 182.9l2.7 -1.9M35.7 180.4l-1.2 0.5M31.1 188.6l-0.9 1.3M44.5 182.2l-1.4 -1.2M32.8 185.4l1.2 2.9M36.5 190.4l1.6 1.4M28.9 185.9l0.3 1.2M34.7 191.1l0 -2M44.3 182.3l1.9 1.7M39.9 187.1l-0.5 3M35.7 185.2l1 2.2M36.1 187.9l1 1.4M29.8 182.9l-0.4 -1.3M39.2 186.6l-0.3 -2.2M36.5 186.9l-1.9 1.5M45.9 184l-1.7 1.8M31.6 183l0.7 -1.4M33.5 189l0.1 -1.8M40.8 183.6l0.4 1.7M36.2 179.7l1.6 -1.5M45.2 183.9l0.5 1.7M42.1 180.4l1.8 2.8M31.4 183.8l1.4 -2.5M28.5 184.5l0 2.5M33.2 190.4l-0.6 -1.7M33 187.2l0.4 -2.4M42 179.4l-2 0.9M31.8 183.2l0.3 1.2M38.6 182.5l2 -2.8M38.9 180.6l-1.4 2.6M45 181.7l1.3 -1.3M41.2 189.5l-0.5 1.7" stroke="#008cf0" stroke-width="0.7" opacity="0.95"/><path d="M33.4 180.6l-3.2 -0.1M45.3 182.5l0.2 -2.1M30.9 185.5l-0.1 3.1M32.4 186.7l1.7 -1.4M37.8 178.7l0.8 -2.2M39.5 182.1l-1.2 1.5M36.6 180.1l2.2 2M42.7 188.4l-0.3 -2.1M37.2 184.2l1.7 -0.8M34.9 190.6l1.9 2.1M46.9 186.2l-1.3 1.2M30.6 184.7l1.3 -1.1M30.7 189.2l-1.1 -2.1M35.4 181.5l-1.2 -1.7M35.3 182.9l-2.5 1.8M42.7 190l0.9 0.8" stroke="#00b4ff" stroke-width="0.7" opacity="0.95"/><path d="M36 187.8l2 1.5M40.2 184.6l0.4 -2.5M40.7 190.3l-2.8 1.7M37.9 190.1l0.1 3.5M43.9 187.1l-2.6 0M44.5 188l-0.3 -1.6M39.4 186.7l0 3.2M32.5 182.3l1.5 -2.9M41.4 179.5l-0.8 2.6M34.3 182.3l0.9 -2.8M33.4 187.5l-1.4 -2.7M41.1 182.3l0.5 -3M35.1 189.7l-0.2 -2.1M29.8 183.2l-0.7 -1.3M42.4 185.1l-1.1 -2.6M29.7 185.7l-2 1.4M42.8 184.6l-0.1 1.9M37.6 188.8l-0.6 -1.2M39.6 180.4l0.2 1.7M33.6 183.1l-0.1 2.4M46.9 183.9l0.4 3.3M37.9 191.1l-1.2 2M40.9 182.4l-0.8 1.1M39.2 184.5l1 -1.4M34.8 184.8l-0.2 -2.5M32.4 186.7l0.2 3M46.5 184l-0.6 -1.4M32.9 188.6l-0.8 -0.9M44.1 188.2l0.6 -1.5M44.4 187.9l-1.3 -1M44.9 183.5l-2 -2.5M41.2 179.3l1.6 2.2M31.9 181l1.2 0.5M37.6 185.5l0.1 1.6M34.5 189.7l2.3 1.1M40.9 186.3l0.2 2.8M32.5 180l-2.6 1.5M39.4 188.5l-1.4 -1.6M44.1 179.9l1.1 1.3M43.4 190.3l-1.9 -2.4M32.4 182.7l1.7 2.6M31.3 188.5l-2.3 1.1M46 184.9l1.1 2.6M44.5 182l0.6 -1.3M40.1 179.7l1.3 1.9M32.5 181.3l-0.3 -2.9" stroke="#008cff" stroke-width="0.7" opacity="0.95"/><path d="M39.7 184l1 1M37.4 187.9l-0.6 -2.8M33.2 184.4l-0.7 -1.9M44.7 180.2l2.6 0.8M32.7 180.1l1 1" stroke="#28b4f0" stroke-width="0.7" opacity="0.95"/><path d="M33.7 179.5l1.3 -2.9M42.5 187.8l-0.4 1.2M32.7 182.5l-0.8 -1.4M36.8 188.3l1 -1.5M36.5 180.2l0.7 2.9M40.7 186.8l-3.3 1" stroke="#288cf0" stroke-width="0.7" opacity="0.95"/><path d="M42.3 186l1.2 -2.5M30.6 181.9l1.3 -1.8M35.1 186.5l0.7 -1M30.2 188.3l0.4 3M36.5 184.9l2.3 0.3M36 181.1l-0.9 1.9M35.7 183.2l-0.1 -2.6M39.7 187l-0.3 1.1M41.5 179.4l1.1 -3.2M35.9 178.8l0.4 2.3M32.2 182.3l-0.6 2.8M35.6 187l1.4 2M30.7 181.1l-1.7 2.6" stroke="#14c8f0" stroke-width="0.7" opacity="0.95"/><path d="M28.7 184.7l0.4 3.1M39.5 188.1l0.5 1.3M44.3 189.3l-0.5 1.2" stroke="#00dcff" stroke-width="0.7" opacity="0.95"/><path d="M42 186l0.3 2.8M39.8 187.4l-2 -2.1M41.7 179.2l1.6 -3.1M36.1 191.4l-1.1 -1.9M43.9 189.9l1.2 -2.1M39.6 189.6l0.4 -3.2M33 184.9l2.2 -0.8M35.1 190.7l1.7 1.1M36.9 190.6l3.2 -0.6" stroke="#00c8dc" stroke-width="0.7" opacity="0.95"/><path d="M42.4 179.9l-1.8 -2.2M31.1 183.8l-0.5 2.8M44.3 189.5l-0.7 2M39.2 186.2l-1 1.4M36.4 178.6l1.1 2M36.3 190.4l-1.4 -1.5M29.2 182.5l-0.3 -2.3M41.9 181.9l-0.1 2.4M41.3 185.8l0.3 2.2M47.2 184.9l-2.6 -1.2M34.7 183.9l1 1.5M31.8 183.6l2.5 0.9" stroke="#14b4f0" stroke-width="0.7" opacity="0.95"/><path d="M33.9 190.4l-2.1 -1.7M39.8 186.6l-1.7 -2.6M45.1 182.6l0.8 -1.5M39.6 185.7l0.1 -2.1M28.9 186.5l-1.1 1.7M36.2 185.3l1.5 0M30.8 188.3l0.8 2.9M29.8 185.8l-1.5 -1.7M35.8 189.9l0.6 -2.1M33.6 184.2l-0.4 1.5M42.9 180.3l3.1 1.5M38.5 185.1l-2 2.7M40.2 190.2l1.1 3.3M32.7 182.8l0.2 3.3" stroke="#14a0ff" stroke-width="0.7" opacity="0.95"/><path d="M40.5 183.6l2.4 -2.5M37.4 188.2l-0.7 2.6M39.7 185.1l-2.1 2M32.9 181.9l1 -0.9M42.1 184.5l0.1 1.7M43.4 185.4l-0.4 -2.7M30.6 183.7l1.5 -2.3M44.9 188.8l-1.4 2.3M36 183.9l1 1.6M40 189.9l1.4 1.2M45 181.6l0.3 -2.3M31.5 187.1l1.3 2.1M28.5 186l1.6 1M40.5 182.6l0 -1.7" stroke="#14c8ff" stroke-width="0.7" opacity="0.95"/><path d="M37 178.5l2 -1.2M40.3 187.9l0.7 -2.6M38.3 179.9l0.4 2.2M31.3 189.7l-0.2 1.9M40.6 181.8l-1 1.1M37 189.6l-1.1 1.4M33.9 189l1 1.6M47.5 184.6l-0.4 2.4M45.6 181.2l-0.7 1.8" stroke="#14b4ff" stroke-width="0.7" opacity="0.95"/><path d="M30.9 184.2l1.6 0M43 182.1l1.5 -1.9" stroke="#00dcf0" stroke-width="0.7" opacity="0.95"/><path d="M39.2 184.6l-1.1 1.1" stroke="#14dcdc" stroke-width="0.7" opacity="0.95"/><path d="M44.8 187l-1 -1.9" stroke="#14b4dc" stroke-width="0.7" opacity="0.95"/><path d="M49 177l5 1.5 4 1.1 4 -0.6 5 -2.5 5 -3 4 -2" stroke="#40e040" stroke-width="0.6" opacity="0.95"/><path d="M50 175l5 1 5 -0.5 4 -2.5 4 -2.5 2 -2.5" stroke="#80e020" stroke-width="0.55" opacity="0.95"/><path d="M49 172l4 1.5 4 2.5 3 2" stroke="#20e060" stroke-width="0.55" opacity="0.9"/><path d="M50 169l4 -2 4 -1.5" stroke="#20e080" stroke-width="0.5" opacity="0.9"/><path d="M17.6 165l12.3 7.7M18.4 161.3l12.1 4.4M19 161.5l7.8 5.9" stroke="#c8f078" stroke-width="0.5" opacity="0.9"/><path d="M19.4 169.3l8.4 6.7M17.8 166.2l9.7 6" stroke="#ffa050" stroke-width="0.5" opacity="0.9"/><path d="M18.9 162.3l9.1 7.4M19.7 163l9.7 7.5" stroke="#78f0f0" stroke-width="0.5" opacity="0.9"/><path d="M19.3 169.5l7 4" stroke="#00dcdc" stroke-width="0.5" opacity="0.9"/></g>
<polyline points="56.6,176.2 59.5,168 62.6,159.8" stroke="#f0a040" stroke-width="0.6" fill="none"/>
<circle cx="38.0" cy="168.6" r="2.0" fill="#0010d8"/>
<ellipse cx="303.5" cy="181.6" rx="3.6" ry="5.5" fill="#20a0fa"/>
<g fill="none" stroke-linecap="round" stroke-linejoin="round"><path d="M310.8 158.8l0.9 0.8M306.4 161.3l-0.2 1.3M306.7 160.5l0.2 -2.5M309.6 155.3l0.7 -1.5M310.9 158.4l-1 -2.4M314.1 156.4l-0.3 -2.1M305 160.1l-1.1 -0.1M312.9 155.6l-0.4 1.2M308.7 160.8l-1.5 2M313.3 161.6l1.1 -0.9M307.6 158.1l1 -1.7M305.8 155.8l1.1 1.6M305.6 158.3l0.2 2.5M310 158.9l-1.5 -1.7M314.7 159.4l-0.5 1.3M313.3 158.4l-0.9 2.1M311.1 155.4l-0.4 -1.9M310.1 162.1l-1 2.3M305.4 159.1l-0.5 2.3M308.3 154.7l0.3 1.2M312.5 158.4l0.2 1.1M306 161.4l-1.4 0.7M313.1 162.4l-0.9 -2.3M308.3 155.7l1.6 1.5M306.4 155.3l-0.9 -1.6M309.1 156.2l2.2 -0.7M306.3 156.5l0.4 1.2M309.4 171.6l1.5 1.2M305 170.9l-0.2 2.5M311.5 170.9l-1.3 -0.4M310.3 169.4l0.5 -1.5M307.7 170.6l-0.5 1.6M309.6 170.3l0.3 -2.5M311.7 168.7l0.4 -1.7M308.4 168.5l2.2 -1.8M312.6 170.1l0.3 1.6M308.4 170.8l1.2 2.6M309.8 169.4l0.4 -1.3M309.5 171.7l0.1 1.4M309.6 172l-1.7 -2.5M315.8 169.3l-1.5 0.5M307.9 166.8l0.3 -2M306.4 169l2.1 1.1M302.9 169.1l1.3 2.1M313.2 166.8l1.3 -0.6M312 168l-0.5 -2.4M302.6 168.8l-1 1.3M309.8 168.1l-1.2 1.2M311.8 169.7l-1.1 1.7M309.7 170.2l1.5 -2.4M311.4 168.4l1.6 0.4M309.3 166.2l-0.6 0.9M314.9 168.4l-1.4 1M312.3 169.4l-1.1 2.4M306.3 169.9l2.8 -0.5M310.6 177.7l0 -1.9M311 179.7l0.5 -1.1M313.3 180.4l-0.9 -0.7M309.6 175.4l-1.6 0.5M316.4 178.3l1.1 -0.7M314.4 181.2l0 -1.3M315.5 174.6l0.9 -2.2M311.7 175.9l-1 -0.9M315.5 176.8l-0.1 2.5M312.2 176.4l1.6 1.7M313.2 172.6l1.5 -1.4M315.4 175.2l1.2 -1.3M311.8 175.2l-0.3 2M316.1 174.4l-1.1 1.2M314.8 175.5l-0.5 -1.1M315.2 174.5l1.9 0.8M315.5 178.8l-0.5 2.2M309.9 176.6l-0.1 -1.9M310.4 176l-1.1 -1.3M311.6 177.2l0.1 -2.1M310.9 175.8l-1.5 -1.7" stroke="#28dc3c" stroke-width="0.6" opacity="0.95"/><path d="M313.4 161.3l1.1 -1.4M311.8 154.8l-0.7 2.5M312.2 154.4l2.6 0.5M312 154.4l-1.6 -0.1M306.8 160.9l0.5 -1.1M313.5 156.7l2.4 -0.1M313.7 157.7l-1.5 1.3M307 158.2l1.3 1.6M309.5 160.5l-0.5 -2M314.4 157l-1.1 0.2M314.6 167.8l0.8 1.1M309.5 169.1l-1 -1.3M314.4 168.5l0.6 1.5M313.1 166l-0.3 -1.1M314 181.3l1.4 -1.1M310.9 174.8l1.9 -0.2M316.1 178.9l1.1 0.4" stroke="#3cdc28" stroke-width="0.6" opacity="0.95"/><path d="M305.7 161l-0.5 2.7M307.2 161.1l-0.3 -1.2M306.5 160.8l-0.4 -1.3M312.5 158.2l1.8 -1.1M306.4 157.3l-1.4 1.8M309.5 161.3l1.6 1.9M315.2 156.7l-0.8 2.1M311.1 154.7l-1.9 1.6M307.2 158.1l1 1.6M307.1 171.5l1 0.5M311.6 166.9l-0.8 1.1M312.7 166.4l-0.3 -1.1M305.9 169.4l0.4 -1.1M315.9 167.5l0.9 0.9M312.5 171.1l0.2 2.4M303.7 170l2.3 -0.5M311.2 172.3l-0.1 -1.5M306.2 169.8l-0.4 2M316.2 169.8l-0.8 -1.3M314.9 175.8l0.1 -1.3M315.6 175.2l0.3 2.4M310.4 178.5l-1.2 1.3M311.5 179.6l1.5 -0.5M312.8 172.9l0.6 -1.3M313.9 181.3l-1.2 -1.1M311.9 176.7l0.1 1.6" stroke="#14f03c" stroke-width="0.6" opacity="0.95"/><path d="M313.3 154.7l-0.8 1.1M308.2 162.8l-1.4 2.2M306.8 156.8l0.6 1M313.5 162.1l2.3 0.6M306.6 171.5l-1.3 0.2M315.5 170l-2 -1" stroke="#14c8c8" stroke-width="0.6" opacity="0.95"/><path d="M307.2 155l0.3 -1.3M313 159.4l2 -1.3M305.5 158.9l1.6 -1.7M307.5 161l0 2.4M310.9 154.4l-1.8 2.1M309.2 155.2l1.8 1M314.2 159.3l0.9 0.9M309 171.9l-2.1 1.4M313.2 171.2l0.8 0.9M312.2 167l1.8 -0.9M313 169l-0.5 2.1M313.6 167.6l-0.9 2.7M313.9 167.7l-1.8 -2.2M308.8 169.6l0.2 1" stroke="#00c8c8" stroke-width="0.6" opacity="0.95"/><path d="M307.7 160.1l2.3 -0.8" stroke="#14f0a0" stroke-width="0.6" opacity="0.95"/><path d="M311.7 160.8l-0.7 -1M311.9 161.3l-0.5 -1.5M307.6 158.9l-1.2 0.7M310.7 156.8l-0.2 1M309.1 157.5l0.8 2.3M308.6 154.3l-1.1 0.3M312.6 162l-0.1 2.7M314.2 159.5l1 1.1M305 156.9l-0.1 -2.4M310 154.1l-1.5 1.2M314 172l0.4 1.8M310.1 166.8l-0.9 0.8M306 168.2l-0.3 -2M309.6 171l0.8 -2.3M304.8 168.3l0.4 -1.1M308.3 170.3l1.3 -0.8M305.9 170.3l0.3 -1.1M303.2 169.7l1.5 2.3M312.6 168.5l-0.4 1M306.1 170.7l0.3 -2.2M312.2 169.2l0.7 -1.6M306.1 168.4l1.6 1.8M317.1 169.1l0.7 -1.3M312.8 181.7l-1.4 2M315.2 174l-2 0.7M312.2 179.3l0.8 -2M310.6 176.2l0.7 2.1M311.9 180.1l0.5 -2" stroke="#3cf03c" stroke-width="0.6" opacity="0.95"/><path d="M308.9 159.3l-1.3 -1.7M306.3 159.6l1.6 -1.7M307.5 155.2l-2 1.8M313.4 159.5l0.8 -1.8M307.3 159.4l-1.9 0.9M314 155.3l-1.6 -1.8M309.3 157.1l-1.1 2.4M315.7 158l1 2.4M307.4 160.7l-2.4 -0.6M310.9 154.3l0.3 -1.8M308.9 156.5l0.5 -1.2M312.3 161.5l2.5 0.1M306.2 160.4l-0.4 -0.9M309.9 157.7l0.8 -2.2M313.4 159.4l0 -1.4M307.9 170.2l-1.1 0.8M313.8 169l1.8 -2.3M302.9 169.1l-0.4 -1.3M308.9 165.6l-0.3 1.1M315.1 168.3l1.6 0.3M305.2 166.7l-1.9 1.9M306.2 172.1l-0.5 1.7M303.3 170.3l-1.5 -1.1M312.8 170.2l0.6 -1.9M305.6 168.7l-1 -1M307.9 172.1l-0.8 1.7M309.5 166.6l-1.2 0.6M304.7 168.2l0.2 -1.3M311.8 180.8l-0.1 -1.7M313.9 175.1l-1.4 1.3M315 176.2l-1.7 -1.1M313.7 180.1l0.9 2.1M314.3 176.2l-0.6 2.2M311.6 177.7l1.5 -1.4M314.2 179.7l1.5 0.9M310.9 177.6l2 0.3M311 178.8l0.7 -1.6M313.5 177.1l-0.6 2.2M313.6 174.5l-0.1 -1.2M314.1 178l-0.7 -1M310.6 176.9l0.2 1.4M312.7 177.5l0.8 1.4" stroke="#00dca0" stroke-width="0.6" opacity="0.95"/><path d="M311.2 155.5l0.9 2.7M310.3 159.7l1.4 2.2M312.1 156.7l-0.9 1.2M310.8 162l-0.4 2.1M315.4 156.4l1.7 -2.1M307.4 156l-1.1 -2.3M313.8 157.3l-0.3 1M308.3 158.1l1.1 0.9M313.5 155.3l0.9 -2M314.6 158.5l0.5 -2.1M315.6 159.5l-0.7 -2.3M313.6 155l-1.4 -0.8M310 161.5l-0.5 -1.7M313.1 169.3l-0.8 -2.6M312.5 170l-0.2 -1M309.3 168.9l-1.2 -2.3M314.8 168l0.8 2.1M311.8 168.5l-0.9 -0.6M314.2 170.6l1.5 -0.5M310.7 167.4l2.7 1.4M310.2 169.3l-1 2.4M310.4 176.7l-0.9 -1.3M311.9 177.7l1.7 1.8M313.3 172.5l1.6 1.8M312 180.6l-2 0.7M314.5 173.8l-0.7 -1.9M311.9 177.9l-0.7 1.8M312.5 180.6l-0.6 2.3" stroke="#14dc3c" stroke-width="0.6" opacity="0.95"/><path d="M305.1 159.1l0.3 2.4M309.3 157.8l0.2 -1.5M312.8 155.3l0.4 2.3M307.4 159.9l0.4 1.4M312.4 161.1l-1.4 -2.3M308.5 157.9l-1 0.6M306.6 160.9l-0.4 -1.1M309.6 161.7l2.4 1.4M304.6 158.2l0 2.5M309.3 154l0.4 -1.1M308 154.6l-0.6 -1.1M306.1 158.6l0.7 1.3M306.8 155.7l1.2 -0.5M314.3 160.1l-1.2 0.5M306.9 156.2l0.1 -1.6M307.8 158l-0.3 1.1M315.3 160.3l1.2 2.2M314 155.6l-0.2 1M305.3 159.1l-0.4 -1.1M314.1 157.8l-0.6 2.4M310.2 157.5l2 1.5M315.6 157l-0.5 -1.3M310.2 154.3l-1.1 -1.7M304.5 168.1l-0.1 -1.3M313.4 171.3l0 1.2M312.7 170.8l0.9 -1.7M315.5 168.1l-1.3 1.7M309.1 171.9l-1.9 -1.2M306.3 166.2l0.5 -1.8M305.5 171.9l-0.1 -2M306.6 167.7l0.1 2.1M308.1 171l-0.8 -2.2M310.7 172.1l-2.1 1M314.9 169.5l1.5 1.7M305 170.6l0.9 1M313.7 170.9l1.7 1.8M314.5 170.3l-2.3 -0.2M316.3 167.5l1.1 0.7M316 167.4l-0.8 -1.1M310 167.9l1.3 2.4M310.3 165.5l0 -3M313.6 169.4l-0.1 -1.2M305.9 166.3l-0.6 -1.9M311.6 175.6l-0.9 -2.2M315.6 175.5l-0.5 1.6M312.1 178.9l-0.9 1.2M312 172.7l-0.6 1M313 172.9l-1.5 0M312.8 181.7l0.7 1.5M314 180.3l-1.7 -1.7M312.9 174.2l0.7 -1.7M313.2 177.7l0.4 1.8M315.2 173.8l-0.8 1.8M311.4 177l0.5 1.1M310.3 174.2l-0.3 1.9M316.3 177l0.7 1M310.4 179.2l-0.8 0.9M310.9 179.7l-2 0.3M316.1 179.5l0.1 1.5M313.6 179.3l-0.5 -2" stroke="#28f03c" stroke-width="0.6" opacity="0.95"/><path d="M311.2 159.1l1.8 -2.1M307.2 158.8l-0.1 1.4M314.9 155.9l1.4 -1.8M315.2 156.5l0.8 1.5M305.4 156.9l0.9 -1.9M308.7 160.8l1.9 0.7M310.7 157.5l1.2 -1.5M314.9 159.7l0.2 1M312.4 157.1l-1.6 -0.5M309.1 162.7l-0.9 1.2M316.9 170.2l-1.5 -0.8M304.3 169.3l-0.1 -2.3" stroke="#00dcdc" stroke-width="0.6" opacity="0.95"/><path d="M313.7 158.7l-1.2 1M312.4 159l0.1 2M310.7 157l1.3 2.1M311.7 156.2l0.7 -1M311.5 157l1.1 -1.7M309.8 157.3l-0.2 2.4M310.7 155l-0.7 1.5M310.3 156.7l0.8 0.6M309.6 169.5l-0.1 -1.2M311.5 167.7l-0.9 1.8M310.9 172.3l2.4 -0.5M310.3 166.4l-2.1 -2.1M311.6 168.2l1.8 2M312.5 168l0.5 1.9M304.4 167.6l0.7 -2.4M304.1 167.9l-0.7 1M315.1 176.5l-1 1.4M313.3 179.1l1.1 1M310.5 177.6l1.5 -1.6M312.9 180.9l-0.3 -1.7" stroke="#14dc50" stroke-width="0.6" opacity="0.95"/><path d="M306 161l0.9 -2.1M313.3 155.1l1.1 0.8M315.4 159.9l1.7 0.7M308.9 157.6l0.8 1.7M312.8 161.5l0 2.4M314.5 156.5l-1.8 2M308.6 160.9l1.7 1.9M308.7 159.2l-1.6 1.1M309 161.8l0.6 -0.9M314.8 157.8l0.1 -1M314.5 159.9l0.2 1.5M311.9 154.2l-1.5 -2.1M314.2 158.7l-1.4 -2.1M314.4 160.8l0 2.3M316.7 168.8l1.6 2.3M315 170.4l-2.7 -0.7M309.4 167.2l1.3 1.4M305.7 171.6l-0.3 -1.7M311.4 168l-1.9 1.9M308.1 170.5l-0.5 -2.3M310.7 168.8l1.5 -1.7M307.8 167.3l-1.5 -0.5M308.9 169.4l-0.9 -1M307.2 169.4l0.9 -2M314.6 177.1l-1.7 -0.5M310.8 173.2l1.4 -1.4M316.3 178.3l0 1.8M311.2 180.9l2.4 0.7M311.8 176.2l-1.4 -0.9M315.7 178.1l0 1.5M313.8 172.7l0 -2.3M309.8 176l-1.4 1.5M310.7 179l-2.2 0.3M315.3 177.9l-1.4 -1.8M310.2 178.5l-0.2 1.6M311.2 175.8l-0.3 -2.1M316.1 175.9l-1.7 -1.1M310.1 179.8l-0.8 -1.2" stroke="#28dc28" stroke-width="0.6" opacity="0.95"/><path d="M310.7 156.9l-0.1 -2M312.6 155l1.2 -0.8M314.1 161.5l0.5 1.3M307.5 159.4l0.4 1.3M311.3 158.2l-0.9 -2M314.9 157.3l2.1 -1.1M314.2 160.6l-1.3 -1.9M314 161.6l0.7 1M309.2 158.8l-0.7 1.4M309.7 162.8l1.3 -2.2M309 160.6l1.1 0.7M305.9 158.9l0.6 1.6M308.3 154.5l0.5 1.4M312.9 156.8l0.3 -1.3M305.2 158.4l0.3 -1.4M308.7 161.4l0.7 1.6M306.1 156.7l-0.2 2.4M307.8 169.5l-0.1 -1.8M307.5 170.9l-0.5 -2M310.4 167.3l-2 -1.2M311.9 166.5l2.5 1.6M306.5 168.2l0.5 -1.5M311.1 171.7l-0.8 2.7M314.5 168.4l0.7 0.9M313.1 169.7l-1 2.6M314.3 166.3l-0.4 -1.1M316.6 168.8l-1.2 0M312.1 169.5l-2 -1.8M313.7 167.1l1.8 1.9M316.1 169.8l0.4 -1.1M307.4 168.8l0.5 -2.8M311.9 166.2l0.5 1.8M310.1 174.4l0.1 1.8M313.5 173.5l0.5 -1.2M310.2 174.3l-0.2 1.1M314.5 173.5l-1.7 -0.1M316 176.8l-0.9 -1.4M313.3 180.9l0.9 2M315.8 175.9l0 -1.5M312.8 173.9l-0.1 1.4M313.1 178.5l-1.3 -1.5M314.8 175.8l0.5 1.5M312.4 180.9l-0.7 1.9" stroke="#3cdc3c" stroke-width="0.6" opacity="0.95"/><path d="M308.7 159.7l1.8 -0.2M314.3 158.4l2.3 0.2M315.2 159.7l-0.6 -1M314.7 156l-0.4 -2.2M309.6 159.4l1.7 -1.4M312 160.9l-0.8 -1M314.1 160.4l0.9 -1.4M311.5 154.2l-0.4 -1M307 161.1l-0.6 1.5" stroke="#00c8dc" stroke-width="0.6" opacity="0.95"/><path d="M307.2 158.9l0.5 0.9M308.7 155.9l1.1 2.3M308.2 161.9l-0.4 -2.4M312.3 159.5l0.4 -2.6M307.1 159.6l1 -2.5M313.5 155.6l-1.3 1.9M313.7 158.1l-1.9 -1.9M314.6 158.5l0.9 -2.5M316 158.4l1.2 -2M306 161.3l-0.2 -1.7M309.6 154.5l-0.4 -0.9M313.5 157.5l0.9 0.8M310.6 154.8l1.9 1M309.8 160.9l-2 -0.5M310.6 157.4l-1.1 -0.9M309.4 159.5l-0.6 -1.9M311.6 157.8l0.8 -2.4M304.1 169.5l0.1 1.7M312.3 166.5l2.3 0.7M316.1 169l-1.5 2.5M313.6 167.5l-0.4 -2.5M309.8 167.2l1.1 2.5M316 167.5l-1.9 2M309.5 170.7l1.3 -2.7M310.6 167l0.4 1.3M309.9 171.7l-0.5 1.7M312 175.8l0.6 1.7M312.4 174.4l0.5 -0.9M313.6 175.8l0.3 1M310.7 175.2l1.5 1.4M312.1 178.9l1 -0.5M316.2 179.4l-0.8 -0.6M312.3 175.4l-0.1 -2.4M311.6 178.5l-1.7 -1.3M312.9 176l-1.9 1.4M312.1 180.3l0 -1.9M310.3 176.4l1.4 1.1M309.9 176.7l1.8 1.2" stroke="#28dc50" stroke-width="0.6" opacity="0.95"/><path d="M308.6 159.9l-1.3 -2.3M306.1 158.8l0.7 0.9M304.8 159.3l1.6 -1.5M307.1 156.9l0.4 -2.5M308.9 157.8l-1.8 0.2M313.8 155.1l-0.3 -1.3M309.9 157.6l-0.1 1.2M313.9 159.9l-1.8 -2.1M307.8 160.3l-1.5 1.3M309.4 157l-1.3 0.9M312.7 158.1l-0.3 -1M310.6 160.1l-0.2 -1M306.5 158.3l0.9 -0.9M306.5 155.2l-0.9 2.6M306.8 158.6l-1.1 -1.8M309.5 161.2l2.3 -0.4M307.2 156.8l0.4 -1.6M315.7 159.8l0.3 1.6M313.8 159.3l-0.9 -1.2M305.1 157.9l1.6 -1.4M314.7 160.9l0.3 -2.4M312.8 154.5l-1 2.5M314.8 159.7l-1 -2.1M313.9 155.6l1.5 -1.8M310.3 162.8l0 -2.7M306.8 157.1l-0.3 1.4M306.8 158.5l-0.3 2.6M309.5 159.5l-0.9 -0.6M308.6 160.5l0.9 -1.7M313.9 157.3l-2 1.3M313.6 160l0.3 -2.2M311.8 160.5l0.6 2.7M310.3 155.6l2 0.9M305.8 159.4l1.5 1.2M313.3 155.1l1.3 0.2M310.1 157.8l1.6 -0.1M306.4 170.3l0.9 -2.8M306.7 169.6l0.5 1.3M309.2 171.2l1.4 -0.5M307.8 166.9l1.4 -1.9M312.2 169.9l-0.3 1.4M309.3 171.3l-1.9 1.5M307.8 165.9l-0.9 -1.4" stroke="#00dcc8" stroke-width="0.6" opacity="0.95"/><path d="M306.5 158.9l-0.4 2.2M311.6 156.6l-1.4 1.7M308.1 157.8l0.3 1.7M305.5 166.7l-0.1 -2.5M306 168.6l-2.3 -0.8M306.1 168.6l-2.6 0.8M312.4 178.1l-0.1 -1.9M316.3 178.1l-0.6 -2.2" stroke="#14f08c" stroke-width="0.6" opacity="0.95"/><path d="M309.9 154.1l1.4 -1.9M314.4 161.1l-0.6 1M311.4 159.5l-1.4 1.8M316.3 167.9l-1.3 2.6M312 167.5l0.3 2.3M305.6 166.7l1.7 -1.4M310.7 169.2l0.7 0.8M302.8 169.5l1.7 1.8M309.8 179l-0.1 1.1M312.3 176.5l-1.5 -1.5M311.9 180.8l-0.3 1.1M309.9 178.2l-1.8 -0.6M313.1 179.5l0.5 2" stroke="#14f050" stroke-width="0.6" opacity="0.95"/><path d="M314 161.3l1.6 -1.4M308 158.9l-0.7 -2.1M312.5 155.3l0.9 0.7M317.2 169.6l-0.8 0.8M311.3 170l-1.4 -1.3M305.2 167.7l0.1 1.6M309.3 165.5l-0.3 1M316.5 167.6l0 1.1M314.3 171.6l-2.5 1.4M310.2 176.2l-1.9 1.2M313.7 178.5l-0.7 -1.1" stroke="#14dca0" stroke-width="0.6" opacity="0.95"/><path d="M309.9 162.5l-1.9 -0.7M306.8 160.7l0.6 1.5M310.4 162.5l-0.4 -1M310.2 160.9l0.1 1.9M310.5 168.5l0.3 -1.2M310.1 168.5l0.1 -2.7M310.3 178.3l-1 1.8M313.3 179.4l-1.6 1.3M311.3 178.2l-0.2 1.2M311.5 180.8l-1.1 0.7M315.2 180.9l2 0.4M314.1 180.6l-1.2 0.9" stroke="#14dc8c" stroke-width="0.6" opacity="0.95"/><path d="M313 161.4l-0.6 -1.8M314.3 161l1.6 -2.1M312.6 155.4l-0.8 2.3M312.9 161.9l1.4 2M309.6 159.6l-2.1 -0.1M305.6 156.7l-1.2 0.6M308.8 167.3l0.1 -1.1M317 169.6l-0.5 1.3M307.4 167.5l-1.2 0.3M310.5 173.6l-0.5 -2.3" stroke="#3cf028" stroke-width="0.6" opacity="0.95"/><path d="M308.2 155.7l-0.1 1.3M315.5 158.4l0.5 1M311 157.3l0.8 -1.7M309.6 156.6l-1.1 -2.5M310.2 161.6l-2.1 1.5M304.8 157.3l0 2.4M306.6 157.3l2.4 1M307.6 154.8l-0.1 1.1M308.5 154.2l-0.9 -0.9M306.8 157.4l0.6 -1.5M312 158.9l2.5 -0.4M312.6 155l-0.2 -2.3M311.7 170.3l-0.8 -1M310.8 168.9l-0.9 1.2M316.4 169.5l0.7 -2.1M312.2 170.9l-0.1 2.8M305.7 171.8l1 -1.3M312.3 167.1l1.5 2.2M304.1 170.2l0.8 0.8M307.8 167.6l-1 -1.2M306 170.4l-0.5 2.1M312.1 177.1l-1.3 0.8M310 177.6l0.2 1.7M314.8 177.9l0.8 0.8M312.3 175l1.1 1.3M315 178.9l-0.3 1.3M312.1 174.3l0.1 1.2M311.9 175.1l1.2 -1.6M315.6 178.9l-0.5 -1.4" stroke="#00f0a0" stroke-width="0.6" opacity="0.95"/><path d="M307.8 161.4l-1.8 1.9M306.4 160.7l1.5 1.7M307.3 156.8l0.3 -2M308.3 159.5l0.3 1.5M308 158.9l-1.7 -0.4M309.8 167.8l2 -0.4M309.3 165.8l-0.9 -2.7" stroke="#00c8b4" stroke-width="0.6" opacity="0.95"/><path d="M308.8 154.4l0.5 -1.5M310.7 154.6l-1.8 2M315.5 174.3l0.3 1.3" stroke="#3cf050" stroke-width="0.6" opacity="0.95"/><path d="M309.5 156.8l-1.2 -0.1M306.3 158.6l0.9 -0.3M306.3 157.7l-1.4 2.3M313.2 156.6l0.5 1M307.8 161.5l0.7 2M311.7 154.3l0.6 -1.1M308.4 154.4l-0.5 -1.7M309.1 155.9l-0.5 -1.4M307.9 162.1l0.4 1.8M307 160.2l-0.7 1M316.8 168.5l2 -0.8M307.7 170.8l-1.4 -0.9M309.8 165.6l-1.1 1.4M310.5 172.4l0.5 2.5M312.9 165.7l0.7 -0.7M306.5 169.3l0.8 -0.8M309.5 168.9l2.3 1.1M311 168.3l-1.3 -1.9M306.9 168.3l-0.6 1.9M310.7 168.7l-0.9 1.9M304.8 170.4l-0.3 -1.5M304.1 167l-0.1 1.8M313.5 169l1.9 -1.9M304.3 169.3l-0.8 -0.5M315.4 167.7l0.1 1.6M305.6 169.8l1.6 -1.5M316.5 176.4l1.3 -0.9M313.2 179l0.4 2.3M311.4 179.6l1.9 0.8M310.9 176.1l-0.8 1.6M311.9 180.3l-0.5 1M315.6 178.1l0.7 1M311.5 179.7l1.4 -1.1M311.1 173.8l0.1 1.8M314.4 178.1l0.4 -1.1M313.3 178.6l0.6 1.5" stroke="#00dc8c" stroke-width="0.6" opacity="0.95"/><path d="M310.4 159.3l1.2 -2.5M307.4 159.4l-0.1 -1.6M315.4 156.9l-1 2.4M307.7 160.6l-0.5 -1.7M307.4 157.9l-0.9 1.6M307.7 160l-0.5 1.2M307.7 159l-2.1 1.1M315.4 157.1l1.4 -2.3M314.9 157.3l-0.3 -1.2M311.7 162.5l0.3 2.2M305 171l-2.3 0.4M303.3 168.9l0.4 -1.7M306.6 169.7l0.2 -2.5M314 175.3l-1.3 2M312.9 174.1l-0.7 2.2M310.3 180l-0.6 -1M314.7 174.9l0 1.7M315.5 177l0.8 1.1M310.7 174.6l1.6 0.7M311.7 178.1l0.7 1.9M311.5 174.9l0.2 1.9M311.1 176.3l-1 -0.6M315.7 180.3l-1.4 -1.1" stroke="#00f08c" stroke-width="0.6" opacity="0.95"/><path d="M310.5 156.9l-1 0.8M311.8 162.3l-1.1 1.7M310.5 155.1l-1.2 -1.8M312.9 155.7l-1.1 1.7M311.7 158.1l0.8 -1.4M306.6 156.6l0.9 -1.8M311.6 167.4l1.2 -2.6M316.3 170.7l-0.7 1.9M303.9 169.6l1.3 -1.4M305.2 169l-1.6 -1.7M311.5 168.6l0.8 -1.8M307.9 172l-0.1 1.2M309.3 168.4l0.4 2.3M308.4 172l-0.6 -2M310 168.3l-0.4 1.3M303.4 167.7l-0.6 2.9M312.6 177.3l0.7 2.1M311.8 179.8l0.5 1" stroke="#3cdc50" stroke-width="0.6" opacity="0.95"/><path d="M309.4 156l-1.3 0.3M308.2 160l-0.4 2.2M312.1 157.3l-1.4 0.8M312.8 169.7l-0.5 -1.1M303.8 170.5l-1.2 1.5M303.4 169.1l1.8 0.8M313.1 167.9l0.1 1.3" stroke="#14dcc8" stroke-width="0.6" opacity="0.95"/><path d="M311 157.4l1.5 2.3M311 154.9l-2.2 -1.3M304.8 157.4l-0.1 -2.3M306.7 158.5l0.9 -2.1M306.4 155.8l-1.4 -1.1M312.9 162.4l1.5 -1.9M307.8 162.5l0.5 1.5M308.3 157l0.9 -0.7M315.7 159.5l0.1 -1M316.9 167.9l0.6 -2.6M309.7 168l-0.6 2.6M304.3 169.2l0.6 -0.9M315.1 167.8l0.6 -1.2" stroke="#00dcb4" stroke-width="0.6" opacity="0.95"/><path d="M311.6 159.6l0.8 -1.7M309.5 155.2l0.2 -1M308.1 157.8l-1.6 -1.3M313.6 156.1l-1 1.1M314.5 157.7l0.6 -2M309.7 168.3l1.1 1M313.6 171.1l0.9 -1.4M315.6 167.9l1.1 1.7M305.9 171.6l0.5 -2.8M315 169.8l0.2 -2.2M315.3 167.1l1.9 1.7M303.7 169.3l0.4 -1.3M306 169l-0.2 2.3M305.3 171.5l2 -1M316 175.1l0.2 1.7M313.4 179.1l-1.2 -1.8M315.9 179.6l0.2 1.3M310.4 174l-0.9 1M313.6 176.4l-0.8 -1.9M314.2 172.4l-1.9 -0.7M315.4 178.6l-1.2 1.5M314.4 176.9l0 1.1" stroke="#28f050" stroke-width="0.6" opacity="0.95"/><path d="M308.4 159.1l1.1 0.8M317.1 168.7l-0.8 -1.6" stroke="#14f0b4" stroke-width="0.6" opacity="0.95"/><path d="M305.7 159.7l-1.3 -1.8M305.9 158.3l-1.1 2.5M313 157l0.9 -2.2M307.7 160.5l-0.9 -0.7M310.4 155.9l1.4 -1.1M315 159.6l-0.9 -2.3M310.9 171.5l-0.9 -1.3M313.5 170.6l1 -0.8M312.9 171.5l-0.7 0.9M308.3 171.3l0.4 1.5M311.7 167.7l1.6 -0.3M310.1 171.7l-1 -2.7M310.5 171.7l-0.4 -0.9M309.7 172.2l-0.4 -2.7M305.5 170.5l2.4 1.3M313.5 171.8l-1.4 0.4M312.2 170.6l-0.7 0.7M313.5 177.2l-0.8 0.7M314.9 173.9l1 0.9M313.6 178.6l0.2 -1.9M312.5 173.1l-0.4 -2.1M311.9 174.9l0 -2.2M314.2 175.3l-0.4 -1.8M312.2 178.3l-0.9 1.1" stroke="#28f028" stroke-width="0.6" opacity="0.95"/><path d="M309.5 158.6l-1.6 1.4M312.1 154.8l0.9 -1.3M312.3 162.1l2.2 -1M315.1 156.5l-0.8 2.2M309 157.6l-1.5 1.4M311.9 155.3l0 -2.1M307.1 160.7l-1.9 1.9M314.2 171.1l-0.7 2M306.9 167.1l-0.2 1M313.5 168.6l0.2 2.5M307.2 166l-0.6 0.9M313.7 174.6l1.9 0.6" stroke="#14dc28" stroke-width="0.6" opacity="0.95"/><path d="M308.8 160.9l-1.1 -0.7M307.4 157.4l-1.1 -1.3M305.6 160.9l-0.3 1.4M312.2 158.5l-0.5 2.2" stroke="#00f0c8" stroke-width="0.6" opacity="0.95"/><path d="M305.1 158.6l-1.5 -0.4M309.8 166.1l0.2 1.8M309.2 168.1l0.6 1.6M307.6 168.5l-0.3 1.9M310.4 167.3l-1.3 1.8" stroke="#14dcb4" stroke-width="0.6" opacity="0.95"/><path d="M308.4 160.7l1 -0.9M310 161l-0.5 -2.2M315.1 171.1l-2.7 -0.6M306.4 167.3l-0.6 1M313.8 174.2l-1.3 -1.9M313.6 180l1.6 1" stroke="#14f028" stroke-width="0.6" opacity="0.95"/><path d="M313.7 161.2l-0.6 -1.3" stroke="#14f0c8" stroke-width="0.6" opacity="0.95"/><path d="M310.5 154.3l-1 1.8M311 166.2l1 -0.2M310.4 172.2l0.2 -2.2" stroke="#00f0dc" stroke-width="0.6" opacity="0.95"/><path d="M314.7 157.8l1.5 0.6M311.7 162l1.7 1.4M307.2 155.7l0.9 -1.5M304.4 171l-0.8 2.5" stroke="#14c8dc" stroke-width="0.6" opacity="0.95"/><path d="M306.8 156.5l1.7 1.2" stroke="#14c8b4" stroke-width="0.6" opacity="0.95"/><path d="M311.3 162.4l1.5 2.4M312.6 167l-0.2 2.3M309.6 171.2l0 -2.1" stroke="#14f0dc" stroke-width="0.6" opacity="0.95"/><path d="M312.2 162.8l-0.8 -1.4M314.3 168.3l2.4 -1.2" stroke="#14dcdc" stroke-width="0.6" opacity="0.95"/><path d="M304.5 185.2l0 -1.8M304.5 178.9l-1.1 1.5M306.3 180.2l0.5 -1.6M305.8 181.9l0 1M306.4 184l1.5 -0.9M305.6 184.7l0.7 -1.1M301.8 184l-0.3 -1.2M302.8 182.4l-0.4 1.1M305.9 181l-1.2 -0.6M303.9 181.8l0.3 1.2M306.3 181.7l-0.2 1.1M302.8 181.6l0.2 -1M304.4 179.7l0.7 -2M305.7 180.5l0.4 -1.8M301.2 178.8l-1.7 -0.7M304.2 180.1l0.1 1.5M302.1 177.3l-1 -0.3M302.1 185.6l-0.4 1.1M304.4 185.6l0.8 1.8M306.1 185.1l-1.3 -0.7M304.7 186.5l-0.9 1M302.7 177.4l0.5 -1.9M304.4 185.6l0 -1.8M305.2 186.1l-0.2 -1.4M303.1 186.3l0.6 -1.2M306 181.5l-0.2 -1.1M304.9 183l-0.3 1.7M300.3 179.6l-0.8 -1.5M305.4 180.8l0.7 1.3M302.6 182l-0.1 -1.5M302.3 181.6l-1.6 1M303.8 181.8l-0.4 -1.3M305.3 181l2.1 -0.5M302.9 185l-0.9 2M302.2 184.1l0.9 1.8" stroke="#008cff" stroke-width="0.8" opacity="0.95"/><path d="M302.3 182l0.1 1.1M302.6 181.2l1.8 0.5M305.8 178.4l-0.8 -0.7M305.9 177.9l-1.6 1.4M305 182.4l0.5 0.9M304.1 179.1l-1.1 -1.3M304.3 183.5l-1.1 0.5M304.4 186.1l0.3 1.2M300.4 180.9l-1.3 -1.4M302.5 183.1l0.1 -1.7M303.3 185.8l1.5 -1.5M305.7 180.3l-0.1 1.1M304.1 183.8l0.7 -1.5M303.1 184.7l-0.7 2M305.4 184.8l0.4 -1.1M303.5 180.1l-1.7 1.1M302.1 179.9l0.7 0.9M303.2 176.7l0.2 -1.1M301.3 184.2l-1.3 -1.3M303.8 180.4l0.6 -1.4M304.5 186.5l-0.8 -1.4M302.2 177.2l-1.3 -1.7" stroke="#00a0ff" stroke-width="0.8" opacity="0.95"/><path d="M306.2 178.4l0.3 -1.8M304.3 185.6l-1.7 0.6M300.7 179.5l-0.9 -1.2M301 183.7l0.4 1M304.7 184.5l-0.8 -0.8M301.9 181.5l0.3 1.7" stroke="#14a0f0" stroke-width="0.8" opacity="0.95"/><path d="M306.4 180.2l0.3 -1.1M303.2 181.1l1.6 -1.1M304 184.6l1.3 -1.5M300.8 182l-1.3 1.4M302.8 182.1l-1.1 1.5M301.1 180.2l-0.5 0.9M306 182.6l0.2 1M305.9 179.5l-0.7 -1M304.1 179.2l-0.9 1.2M300.8 183.7l-1.7 -1M300.9 182.5l-0.9 1.1M302.3 178.1l0.4 1.1M302.3 179l-1 1.1M303.7 179.2l-0.8 1.7M301.7 177.1l0.6 1.6M306.3 182.7l0.4 -1.5M306 178.8l1.3 0.4M309.1 181.6l-1.1 1.3" stroke="#14b4f0" stroke-width="0.8" opacity="0.95"/><path d="M304.3 179.4l-0.1 2M303.3 180.2l-0.7 2.1M301.3 179.6l2.2 0.4M300.5 179.8l-0.6 1.2M301.2 182.6l-1.6 0.9M301.6 185.2l0.5 1.2M303.5 179.5l-0.5 -2M303.9 178.9l-0.1 -1.9M306.2 180.7l0.6 -1.4M303 186.2l0.3 1.1M306.2 179.5l-1 -0.9M303 185.5l-1.4 0.5M302.8 185.4l-0.1 2.1M303.6 181.6l1.8 0.4M305.9 185.2l-0.2 -1.3M303.5 182.4l2.2 -0.2M305.5 182.2l-1.3 0.8M301.7 180.9l1.8 1.1M304.3 179l-0.3 -1.1M310.3 185.2l0.2 1.6" stroke="#14b4ff" stroke-width="0.8" opacity="0.95"/><path d="M302.3 182.2l0.5 2M305.6 179.1l-0.8 2M306 178.8l1.1 1.3M303.9 180.6l-1.2 1.5M305.5 181.1l0.8 1.6M305.2 179.6l0.7 -1.1M300.8 179.9l-1.5 -1M302.9 179.2l-0.1 -2.2M300.6 182.9l-0.1 2.1M303.8 178.1l0.2 -1.5M305.5 183.4l1.1 -0.8M303.2 184.8l-0.5 1.4M303.7 179.6l0 1M301.8 185.5l1.8 -0.1M302.6 177.4l-1.1 -1.9M301.4 181.8l0.2 1.6M302.3 181.5l0.5 -1.5M301.5 184.9l-1.6 -1.3M301.6 183.5l0.2 1.4M301.9 183l-0.7 1.3M302.2 177.3l0.5 -1.4M303.1 178.3l1.4 0.9" stroke="#008cf0" stroke-width="0.8" opacity="0.95"/><path d="M304.8 185.7l0.6 1.1M302 177.5l-1.1 -1.6M301 182.8l0.5 1.4M305.8 181l-0.6 -1.1M304.9 182.1l-1.5 -1.3M305.3 181.6l-0.7 1.6M306 180.1l0.8 1.1M305.4 180.5l0.6 -1.4M303.3 185l0.9 -1.5M303.5 179.7l-0.3 1.6M302.3 181.8l-1.1 0.2M306 181.7l0 -1.2M306.7 183.3l-0.9 -1.1M306.1 184l0.2 1.7" stroke="#14a0ff" stroke-width="0.8" opacity="0.95"/><path d="M305.4 184.5l0.7 1.4M301.9 180.3l0 -1.4M302.9 179.6l1.4 1.3M302.7 182.6l-1.7 -0.9M306.3 183.4l1.4 -0.7M300.3 181.4l0.6 0.9M306 181.4l1 -0.7M301.8 181.5l0.2 -1M300.4 182.4l0.6 -1.7M305.8 178.9l0.2 -1.5M302.5 177.1l-0.7 -0.9M301.7 177.7l-1.1 -0.2M302.7 177.5l-1.7 1.1M305.7 181.8l-1.2 -0.3M305.4 182.8l0.8 2M303.9 185.2l0.9 -1.2M305.9 184.7l0.5 -1.2M303.8 183.5l-0.5 1.8M301.2 181.7l-0.1 1.6M305.4 178l0.3 1.7M304.2 179l0 -1.6M300.5 181l-0.1 2.2M301.9 185.9l1 -1.6M302 183.1l-0.2 -1.4" stroke="#28b4ff" stroke-width="0.8" opacity="0.95"/><path d="M303.3 183.7l0.7 -0.7M303.9 181.3l0.3 -1.3M302 184.1l0.6 -1.7M305.9 184.4l0.2 -1.6M303.2 183.7l-1.3 0.6M308 185.9l0 1.9M306.7 182.5l-0.1 1.2M307.3 184.3l1.8 -1.2" stroke="#14c8ff" stroke-width="0.8" opacity="0.95"/><path d="M304.1 181.9l-1.6 0.7M305.8 185.3l-0.3 1.8M300.5 184.1l0.2 1.8M303.8 186l-0.3 1.2M304.2 181.7l0.2 -2M305.6 183.6l-0.7 1.8M302.5 183.2l-0.6 -1.8M305.3 177.2l-1.2 1.4M302.8 186.2l0 -2.1M306.5 183.7l-1 -1.2M301 184.1l-0.3 -1.5M304.3 182.1l-0.3 1M302.5 182l-1.3 -0.5M303.7 177.9l0.5 -1.5M305.4 184.4l0.4 2" stroke="#00a0f0" stroke-width="0.8" opacity="0.95"/><path d="M302.2 177l1.1 1.6M303.2 176.3l1.5 -0.4M301.3 181.1l-0.3 -1.2M302.2 178.5l1 1.4M301.7 179.5l0.7 1.2M302 176.9l-0.7 -1.1M304 180.4l0 2.2" stroke="#28c8ff" stroke-width="0.8" opacity="0.95"/><path d="M303.7 186l0.8 -1.2M305.6 177.5l-1.9 0.5M306 178.2l-0.1 -2M301.8 180.9l1 0.2M300.8 182.7l-0.4 -0.9M304.8 184.3l1.1 0.5M304.1 177.9l0 -1.5M306.1 179.3l-0.9 -0.6M302.1 182.3l1.4 -1.3M304.7 177.9l0.5 -1.9" stroke="#28a0ff" stroke-width="0.8" opacity="0.95"/><path d="M304.5 176.9l1 1.8M302.9 177l0.8 0.8M301.1 179.9l0.1 1.9M304 185.5l1.5 1.2M305 184.8l-0.7 -1.1M306 180.8l0.4 2.1M306 184.5l0.1 -1.5M301.9 183l1 -0.8" stroke="#148cff" stroke-width="0.8" opacity="0.95"/><path d="M304.3 184.5l0.3 -1.6M300.3 183.5l-0.4 2.1M301.6 178.5l-0.5 1.9M305.7 182.4l1.4 0.2M301.9 181.1l0.1 -1.6M303.3 184.6l-0.2 1.5M303.2 177.5l-0.1 1.2" stroke="#28a0f0" stroke-width="0.8" opacity="0.95"/><path d="M306.3 184.5l1.4 1.1M305.6 182.5l-0.3 1.3M304 181.1l-1 -1.2M303 177.5l-0.1 1M304.6 177.1l-1.4 -1M305.4 184.5l-0.9 -1.2" stroke="#28b4f0" stroke-width="0.8" opacity="0.95"/><path d="M302.9 179.3l1 1.7M306.2 181.3l1.7 -0.5M304.4 178l1.3 -1.5" stroke="#148cf0" stroke-width="0.8" opacity="0.95"/><path d="M308 183.7l-0.5 1.3M308.7 186l-1.9 -0.2M306.9 184l1.5 -1.2M307.6 184.4l0.3 1M307.7 182.8l1.3 1.1M309.4 181.6l0.8 -1M306.2 186.1l-2.1 -0.7M306.3 182l0.6 1M306.7 186.5l-0.1 1.1M309.3 182.2l0.5 -1.8M305.7 185.4l-0.2 -1.1M308.5 186.2l1.1 -1.6M307.8 186l-1 1.2" stroke="#00dcdc" stroke-width="0.8" opacity="0.95"/><path d="M309.5 185.1l-0.3 -1.9M309.5 184.4l-0.1 -1.7M310 185.2l-1.4 1" stroke="#14c8dc" stroke-width="0.8" opacity="0.95"/><path d="M308.9 183.2l1.3 1.4M310.1 185.8l1 1.2M307.8 184.2l0.2 2.2M306.7 184.4l-0.7 -1.7M306.1 185.5l-0.7 1.5M307.2 182.2l1 -0.7" stroke="#00b4f0" stroke-width="0.8" opacity="0.95"/><path d="M305.7 184l-1 1.9M310.1 182.5l-0.2 -2.2M309.2 185.2l0 -1.4M308 186.2l0.1 -1.2M305.6 183.1l1.2 1M309 184.9l-0.6 1.8M309.2 182.2l-1.1 1.7M309.1 186l0.2 -1.4M310.3 182.8l-0.5 -1.3M307.5 182.3l0.8 1.5M307.9 183.3l-1.4 -1.6M308 185l-0.4 1.4M309.1 182.3l1 -1.7M307.5 184.4l-0.5 1.1M310.1 185.7l-0.6 -1.1M310.3 185.5l-1.2 -0.7M306 182.8l-1 1.5" stroke="#00c8f0" stroke-width="0.8" opacity="0.95"/><path d="M309.1 184.8l1.2 -1.2M308.7 181.3l1.1 -1.7M307.5 185.2l0.1 1M305.6 184.5l1.1 1.1M310.2 183.3l0.9 -0.9M310.3 182.9l-0.7 -1.2M306.6 184.2l-1.1 -1.6M305.6 183.1l1.3 -0.7M307.2 186.4l-0.3 1.4M308.3 183.1l-0.5 1.2" stroke="#00c8ff" stroke-width="0.8" opacity="0.95"/><path d="M306.2 183.1l0.3 -1.2M310.5 183.9l1.4 0.8M305.8 185.6l0.1 1.3M308.5 181.6l1.6 -0.4M308.9 185l-1.1 0.6M309.1 186.5l-0.7 1.3M310.3 185.5l0.3 -1.5M307.7 185.8l-0.8 1M308.8 185.9l0.7 -1.4" stroke="#00c8dc" stroke-width="0.8" opacity="0.95"/><path d="M308.1 186.1l0.6 -1.1" stroke="#14dcff" stroke-width="0.8" opacity="0.95"/><path d="M305.6 183.4l0.7 2.1M309.7 185.1l1 1M310.1 182.3l1.7 1.5M308.9 186.1l0.7 -1M306.4 185.9l-1.2 0.6M309.5 182l0.2 -1.4" stroke="#00dcf0" stroke-width="0.8" opacity="0.95"/><path d="M308.4 184.1l-0.1 1.3" stroke="#00dcc8" stroke-width="0.8" opacity="0.95"/><path d="M308.5 181.6l-1 -1.3M308.6 183.9l1 -0.4M306.2 184.4l1.1 0.6M307.5 186.5l0.5 -1.8M309.3 182.5l0.5 -1.9" stroke="#14dcdc" stroke-width="0.8" opacity="0.95"/><path d="M306.9 183.2l1.5 -0.7M309.5 186.4l-0.6 -1.5M307.7 183.8l1.8 -1.1M309.4 184l0.1 -2.2M308.5 185.5l0.3 -1" stroke="#00b4ff" stroke-width="0.8" opacity="0.95"/><path d="M307.1 182.7l-1.2 -1.7" stroke="#00c8c8" stroke-width="0.8" opacity="0.95"/><path d="M305.5 184.2l-1.1 1" stroke="#14c8f0" stroke-width="0.8" opacity="0.95"/><path d="M308.2 181.1l-0.7 -1.1M306.6 184.1l-1.9 0.9M310.3 184.4l-1 1.4" stroke="#14dcf0" stroke-width="0.8" opacity="0.95"/><path d="M305.7 183.2l-0.6 -1.8M308.9 185.4l-0.1 2" stroke="#00b4dc" stroke-width="0.8" opacity="0.95"/><path d="M309.4 183.3l-1.1 0.6" stroke="#14dcc8" stroke-width="0.8" opacity="0.95"/><path d="M308.4 184l0.2 -1" stroke="#00f0dc" stroke-width="0.8" opacity="0.95"/><path d="M301.4 167.3l-5.1 -0.5M317 167.3l5.7 -1.3M300.7 169.5l-4.4 -1M317 169.5l7.9 1M301.9 170.6l-5.6 0.4M302.7 166.3l-6.4 0.8M302.7 166.1l-6.4 -0.6" stroke="#28dc3c" stroke-width="0.6" opacity="0.9"/><path d="M317 170.6l6.9 -1.4M317 166.3l7.7 -2.2M317 166.1l6.2 -0.3" stroke="#78f028" stroke-width="0.6" opacity="0.9"/></g>
<polyline points="318,169 323.5,168 329.4,166.5" stroke="#d0d040" stroke-width="0.6" fill="none"/>
<circle cx="309.1" cy="165.1" r="2.1" fill="#0010e0"/>
<ellipse cx="39.8" cy="320.3" rx="5.6" ry="5.3" fill="#12a4fa"/>
<g fill="none" stroke-linecap="round" stroke-linejoin="round"><path d="M42.7 304.3l1.5 -1.5M46.8 300.5l0.1 -2.1M44.1 304.8l-0.6 -2.2M41 304.8l-0.7 -2M41.7 297.5l0 1.3M46.2 303.6l-0.6 -1.2M46.4 299.3l1.2 -1.9M44.5 302.8l-2.3 -1.2M43.8 301.4l-0.1 2.5M45 300.5l-2.4 -0.3M39.6 301.2l0 -1.1M43.7 298.1l-1 -2.4M43.3 297.7l-1.4 -0.8M42.3 297.2l0.3 1.6M46.3 303.8l1.2 -0.8M41.2 300l1.4 1.4M45.4 297.9l-1.2 1.4M42.6 303.1l-0.6 -1.7M38.3 301.1l0.4 -1.4M39.6 305.3l-1.1 2.1M38.9 304l-0.7 -1.3M40.1 303.7l0.4 -2.1M42.8 297.3l-1.3 -2.1M45.3 299.8l0.8 -1.3M45.2 303.2l0.4 1M43.9 304.7l1.1 2.2M41.9 306l0.6 -1.5M41.2 302.8l0.3 -2.2M37.7 300l0.6 0.8M44.9 303.3l-2.5 0.2M42.5 300.1l1.1 1.1M42.8 304.7l2.2 0.2M42.1 298.3l0.5 -1.7M47.3 302.1l0.8 2.4M42.2 298.8l2.1 -0.5M43.7 297.7l-0.2 1.8M45.1 303.6l-0.3 -1.3M39.6 302.6l-1.8 1.4M38.2 301.7l0 -1.4M45.2 303.2l-1 1.6M41.8 297.5l0.7 -1.9M41.1 303.1l-0.2 1.5M44 305.5l-0.2 1M41.2 304.1l-0.6 -2M48.3 310.8l-2.6 0.5M41 312.4l-1.1 2.2M45.5 312.4l-1.3 1.3M41.3 310.7l-0.7 -1.7M39.6 309.7l-0.8 1.3M43 313.4l-1 -2.3M42 311.2l0.3 -1M43.7 307.2l1.2 2M49.3 308l1.2 2.4M37.2 308.2l0.7 2.4M39 312.5l-0.6 1.5M41.2 310.6l-1.1 1.1M45.7 314l1.4 -1.8M40.3 310.6l1 -0.4M44.5 309.3l-2.2 -1.2M50.5 310.8l0.6 2.7M44.9 307.9l0.5 1.6M46.2 307.4l2 0.8M51.3 309.6l0.2 -1.8M43.4 306.8l0.5 2.5M36 311.5l0.3 -1.4M46.4 307.9l-0.3 1.4M47.3 313.5l0.3 2.1M40.9 308.8l-1.4 0.1M42.6 311.1l-0.2 -1.1M46.3 312.3l0.3 -1.7M36 311.7l0.3 -2M36.8 310.9l0.5 -2.4M49.1 308.9l-0.5 -1.6M50.4 310.3l1.3 -0.7M50.4 309.7l-0.5 2M45.6 307.6l-1.1 -1.2M44.6 308.5l0.4 2.6M36.9 310.2l-0.9 2M44.2 311.8l0.6 1.8M45.1 309.1l1 -1.1M39 311.1l-0.4 -1.2M42.4 309.2l0.7 1.9M48.4 310.6l2.3 1.2M39.2 313l-0.9 1.1M44.3 309.1l-1.9 -0.9M48.8 308.9l0.8 -2M48.8 309.4l-0.3 -1.5M46.5 311.5l-0.7 -1.4M43.4 310.8l1.4 -1.3" stroke="#00f08c" stroke-width="0.6" opacity="0.95"/><path d="M39.9 298.1l1.7 -0.4M41.3 305.2l-1.1 1M38.2 299l0.9 1.5M40.1 303l2.3 0.8M46.3 300.6l-0.8 -0.6M39.9 302.9l1.6 2M42.9 298.4l1.2 -0.5M40.5 301.3l-1.9 1.7M42.3 302.4l-0.4 -1.2M45.4 302.2l0.5 1.8M44.4 304.7l0.7 2.4M43.3 297.7l1.4 1.9M42.2 304.9l-0.7 -1.1M41.5 301l-0.2 -2M45 304l-2 -1.2M41.5 303.2l-0.1 -2.3M42.5 301.5l-0.1 1.2M43.3 301.8l0.1 -1.1M40.2 300.3l1.3 2M41.1 301.7l-1.5 -1.1M37.8 308.2l0.3 2.3M40.3 309.2l-0.9 -1.4M47.2 308.1l-0.2 2.7M46.8 308.4l1.4 -0.6M37.2 310.2l-0.3 -2.7M38.4 312.1l0.9 0.4M46.7 308.4l0.4 0.9M44.5 309l0.2 1.8M37 312.4l-0.1 2.1M37 312.5l1.8 1.7M39.5 310.6l1.5 -1.5M42.9 310.5l-0.9 -2.1M42.9 309.6l-0.3 -2.2M45.5 310.7l-0.5 1.7M46.4 310l-0.4 -1.1" stroke="#00f078" stroke-width="0.6" opacity="0.95"/><path d="M39.3 298.9l-2.2 1M41.8 297.5l-0.1 1.3M45.1 299.3l0.2 1.4M42.4 305.9l0.6 -1.2M42.4 304.6l0 2.3M37.3 300.9l0.7 2.4M38.4 302.6l1.1 -2.2M37.3 301.4l0.4 1.3M46.2 301.8l2 0.6M46.9 300l-1.2 1.1M43.2 299.5l1.8 -0.1M44.9 302.5l0.1 2.2M44.1 302.1l0.8 0.6M43.2 304.2l1.1 -1.8M45.4 303.1l0.6 -1.7M44.3 298.3l0.8 -2.2M44 298.1l0.9 -1.3M38.6 302.1l0.1 1.6M41 304.5l-0.8 -1.5M41.8 305l1.1 1.4M43.6 302.9l0 -2.6M42.9 302.5l1 1.3M38.5 303l-1.2 -1.5M38.1 302l0.4 1.1M39.8 303.3l-0.7 -1.6M38.2 302.5l0 -2.4M37.6 301.3l-0.8 -0.8M46.8 300.1l-1.2 1.8M46.3 300.1l2 -0.4M47.2 301.1l1 1.8M46.2 298.7l1 0.8" stroke="#00dcc8" stroke-width="0.6" opacity="0.95"/><path d="M41.4 300.1l-1 2.2M42.8 302.7l-0.1 -1.8" stroke="#14c8b4" stroke-width="0.6" opacity="0.95"/><path d="M39.2 299.2l0.8 -1.2M39.5 303.5l-1.2 0.3M40.2 302l0.5 1M40 303.3l-0.1 -1.3M46.7 300.1l-0.9 1.2M43.8 299.2l-0.6 1M41.7 300.6l0.6 -2M39.2 300.9l-1.5 1.5M37.7 303l-1.3 1.2M38.9 298.4l0.8 -1.6M45.8 303.6l-0.1 1.9M44.7 300.4l1 -2M40 305.4l0.7 2.1M40.3 303.1l0.8 2.2M43.1 305.3l0.9 1M40.2 302.4l1.8 -1M46.5 302.9l-0.4 2.5M42.6 298.8l1.4 0.8M45.3 304.2l2.1 1.5M41.9 297.2l0.6 -1.4M41 297.5l0.5 -1.1M40.7 305.8l0.2 1.2M38.3 303l1.3 2.2M40.6 299.9l-0.3 -1.4M44.1 303.6l0.8 2.3M43.8 304.9l0.1 1.5M38.9 299.1l1.9 1M38.4 302.9l1.3 1.3M43.2 305.7l-1.1 -0.5M42.3 299.9l-0.4 -2.2M45.2 303.5l0 -2M43.6 301.2l-0.2 -1.3M45.9 302.1l-0.8 2.3M39.6 299.4l-0.9 1.5M38.8 299.4l-0.7 -0.8M37.4 301.9l-0.8 2.2M40.6 303.5l0.6 -2.5M38 299.8l-0.9 1.7M40.7 304.4l0.4 1.2M40.8 304.5l0.6 -1.2M38.8 310.2l0.8 -0.9M43.1 308.1l-0.4 1M45.1 310.9l1.1 2.2M36 310.8l2.1 1.3M42 308.2l-0.3 2.8M50.5 309.3l-0.1 1.6M46.4 312.2l1.8 -1.7M41.9 311l0.9 2.3M45.2 312.5l-1 2.6M47.4 312.8l0.8 -0.8M46.4 308.2l1.4 2.4M45.3 311.2l-0.4 2M48.3 311.1l2.3 1.6M43 313.7l-1.1 0.8M41.6 311l-0.6 -1M41.4 310.6l0.7 1.2M36.3 311.9l-0.7 -1M43.5 307.4l-1.7 1.7M37.1 310.9l-0.1 -1.2M40.4 308.8l-0.1 1.8M45.8 307.5l0.3 -1.2M42.6 312.3l0.3 1.7M47.4 309.7l-1.9 -1.9M46.8 308l-0.2 -1.1M40.6 310.6l1.6 -0.4M47.3 310.7l-1.6 1.7M48.7 312.7l0.6 -2.3M38.8 311l0.5 -2.4M44.8 313.8l1.2 1.3M50.7 309.8l1.1 2.5M40 312.1l-0.8 -1M43.4 312.1l1.3 -0.5M41 307.9l0.4 1.8M41.6 312l0.7 -2.4M40.6 314l-1.2 -0.6M47.3 308.2l-0.9 -0.5M45.8 310.2l0.7 -1.5" stroke="#00dc8c" stroke-width="0.6" opacity="0.95"/><path d="M45 299.2l0.4 1M41.3 303.1l-0.8 1.9M38.5 301.5l1.1 -0.1M46 299.7l-1.1 2.1M40.2 301.8l1.5 -1.7M46.7 300.4l-1.8 -1.2M45.3 305.2l0.1 1.1M42.7 301.9l0.3 2.1M37.8 303.3l-0.7 0.7M40.8 297.2l1.1 0.8M41.2 303.2l0.4 -2.4M38.3 302.6l-1.4 0.3M44.1 303.7l0 -2.1M44.5 313.2l0.1 -2.2M47.2 312.9l1.1 -1.6M51.2 310.4l-1.2 -2M36.3 311.8l1.6 1.5M37.6 311.2l0.8 2.5M45.4 313l-1.5 1.9M42.9 310.3l-0.6 2.6M49 309.6l0.2 1M45.3 313.6l1.8 0" stroke="#14f08c" stroke-width="0.6" opacity="0.95"/><path d="M41.4 300.2l1.2 2.1M41 302.5l-0.9 2.1M42.5 297.1l2.1 -1M39.3 299.9l0.1 -1.3M46.6 301l-1.2 -1.4M40.5 297.7l-0.7 -1.6M43.2 297l-0.5 2.1M40.4 300.1l-1.4 -1.6M44.9 303.4l0.5 -2.5M44.1 299.3l-0.1 -1.1M41.1 303l-0.1 1.3M39.5 303l-0.3 2.5M45.1 298.6l-1.8 -0.1M43.6 303.5l-0.5 1.4M38.9 299.5l2.1 -1.4M42.9 304.3l1.9 0.8M43.8 303.5l-0.6 0.8M39.3 305.1l0.5 -1.2M41.4 300.8l0.3 1.6M42 298l0.9 2M39.8 302.6l0.5 -1.3M46.1 300l-1.2 -1.8M40.4 299.8l1.8 -0.6M42.3 299.4l-0.2 -1M43.4 305.9l-0.6 1.1M38.3 302.3l-1 -0.6" stroke="#00dcb4" stroke-width="0.6" opacity="0.95"/><path d="M41.4 299.6l-1.7 1.7M43 298.3l1 -1.1M40.2 302l1.1 0.4M44.8 299.2l1.4 -0.4M47.1 301.7l-1.4 1M43.9 300.3l0 1.2M40.4 307.5l2 -0.9M43 311.3l0.9 -0.7M46.5 307.2l-0.6 -1M45.6 307.4l1.4 -2.3M50.7 311.8l1.5 -2.2M40.8 313.3l-0.6 -1" stroke="#14dca0" stroke-width="0.6" opacity="0.95"/><path d="M42.4 300.7l-0.8 2.2M42.3 304.2l0.6 1.8M39.2 300.6l0.4 2M40.9 300l0.5 -2.3M44.9 304.6l0.4 -1.1M38.8 302.3l0.1 -2.3M40 302.9l-1.3 0.6M45.4 303.7l0.9 1.7M38.9 304.5l-0.2 -2.5M44.6 302l0.2 -1.8M41.8 304.3l1.8 0.7M46.6 303.1l-1.3 1.2M39 299.5l1.2 1.7M41.5 302.5l-1.3 2.2M44.4 299.9l-0.3 -2.4M44.3 304.8l2 0M41.8 305.5l0.7 -1.5M41.8 305.4l0.9 -0.7M45.6 299.9l0.6 2.1M43.3 310.8l-0.6 1.5M46.3 309.4l0.1 1.5M46.5 312.1l0.8 1.2M44.1 312.7l-1.3 1.6M51.5 311.3l-0.3 -1.7M50.9 312.1l-0.2 1.4M39.7 313.2l0.1 -1.3M41.6 311.5l0 -1.4M38 310.7l1.2 -0.8M50.9 311.8l0.8 -1.7M42.7 313.2l1.7 -1M42.2 310.9l0.5 -2.3M50 312.4l-0.5 2.5M42.1 308l-0.5 2.8M40.3 310.6l-0.1 2.3M43.9 308.5l1 2.3" stroke="#00dca0" stroke-width="0.6" opacity="0.95"/><path d="M44 299.9l-0.7 -1.7M45.8 304.7l1.8 -0.2M41.1 300.1l-1 2.3M43.7 302.4l-0.1 -2M43.3 300.8l-1.3 0.6M38.6 304.4l1.4 1M44.5 312.6l-1 -2.3M47.1 312.7l0.1 1.2M46.4 310.5l0 -1.2M38.7 312.2l-0.1 -2.1M51.6 310.7l-0.4 -1.1M43.9 311.8l1.7 -1.9M39.1 311.4l2.4 0.1M49.1 311l-0.3 1.2" stroke="#14dc78" stroke-width="0.6" opacity="0.95"/><path d="M41.6 298.1l-0.4 2.2M39.2 302l-0.5 2.5M38.8 302.5l0 -2.2M38.3 303.9l-1.9 -1.6" stroke="#14dcc8" stroke-width="0.6" opacity="0.95"/><path d="M40.4 305.5l0.6 -1.1M46.3 301.1l0.1 1.1M41.9 304.5l0.9 -0.7M41.8 298.7l1.3 2.2" stroke="#14f0c8" stroke-width="0.6" opacity="0.95"/><path d="M42 301.1l-0.4 2.5M39.9 297.6l-0.9 -1.1M42.4 303.2l-0.4 -1.7M41.1 297.9l-0.8 1.2M40.7 300.9l-0.2 1.1M38 300l0.5 -2.5M41.9 303.4l-0.7 -1.1M38.2 299.5l0.7 -0.7M42.2 301.3l0.4 -2.3M42.1 302.6l-0.9 -1M42.2 303.9l0.5 1.4M37.8 302l-0.7 -0.8M38.7 310.1l-0.2 2.3M41.4 308.1l0.1 -2.1M39.5 313.1l0.6 -1.3M44.7 311l2.4 0.1M42.4 308.6l-1.1 -1.6M49.9 311.2l-0.7 0.8M39.6 310.3l-0.3 2.4M47.1 310.4l0.2 1.8M39.7 313.4l-0.2 1.8M49.4 308.4l-1.4 2.1M44.4 308.1l-0.8 2M49.1 313l0 1.3M45.9 307.5l0.7 -0.8" stroke="#00dc78" stroke-width="0.6" opacity="0.95"/><path d="M40.4 303.3l-1.7 0M40.6 301.9l1.1 -1.2M44.2 298.1l2 -1.4M43.6 305.2l0.3 1.3M38.8 299.6l0.2 -1.4M46.7 301.2l-2 -1.1M41.5 303.4l1.1 -1.5M40.5 299l-0.5 2.4M43.4 297.1l-0.9 -1.2M39.3 301.7l-0.3 1.8M42.1 305.2l0.4 -1.6M45.5 303.1l-1.5 1.3M39.8 303.4l1.7 1.9M42.2 302l0 -1.6M39 308.9l-2.3 1M47.6 312.9l1.3 -2.3M44.8 313.1l0.5 1.1M47.9 311l-0.4 2.3M40.2 311.7l0.9 -1.5M44.8 311.2l0.2 -1.5M46.3 307l0.8 -2.5M46.3 307.2l-0.1 -2M43.1 307.4l-1.8 2.1" stroke="#00f0a0" stroke-width="0.6" opacity="0.95"/><path d="M46.3 303.6l1.4 0.4M38.1 301.6l-1 -1.6" stroke="#14f0b4" stroke-width="0.6" opacity="0.95"/><path d="M38.2 302.5l-0.8 2M47.2 301.1l0.7 -1M41.8 301.8l1.4 0M40.5 302.8l0.7 -2.2M39.8 301.4l-0.6 -2.3M42.5 298.2l-0.7 1.7M42.3 302.7l-1.6 1.5M42 303l0.1 -1.9M38.7 302.4l0.1 2.1M44.8 300.8l-0.1 -1.1" stroke="#00f0b4" stroke-width="0.6" opacity="0.95"/><path d="M40.1 304.9l2.1 0.2M43.6 297.5l-1.8 -1.4M38.6 299.7l0 1.6M38.8 301.7l-0.3 1.9M42.4 304.3l-0.5 -1M44.5 302.7l1.4 1.1M48.6 309.6l-0.9 2.1M49.8 310.5l-1 -0.6M43.1 311.5l-0.4 -1.6M40.2 311.9l-0.1 1.1M38.4 312.6l1.4 2.2M42.2 313.5l1.3 1.8" stroke="#14f0a0" stroke-width="0.6" opacity="0.95"/><path d="M41.3 298.9l-0.9 -1.7M37.5 300.6l-0.2 1.5M46.8 299.5l-0.6 1.1M45.2 302.2l0.4 1.4M37.7 301l0.9 1.3M43.7 298.6l-0.9 -0.6M37.9 299.5l-0.2 -1.4M46.8 301.7l-1 -2.1M45.3 300.1l-1.2 -1.1" stroke="#00f0c8" stroke-width="0.6" opacity="0.95"/><path d="M44 303.7l0 -1.3M44.1 297.9l0.3 1.4" stroke="#14c8c8" stroke-width="0.6" opacity="0.95"/><path d="M45.2 298.3l-0.9 1.5M39.4 304l-1.1 0.8M38.8 302l-1.8 -1.3M45.9 299.7l-0.6 1.3M44 305.5l-0.4 1.2M45.7 299.6l-0.6 1.8M41.1 298l0.5 1.2M40.9 301.1l-1.2 -2.1M46.8 302.1l1.1 -1.7" stroke="#14dcb4" stroke-width="0.6" opacity="0.95"/><path d="M43.6 300.4l-1.7 -0.3M44 298.3l1.1 2.2M42.5 300.5l1.3 -0.1M38.3 300.8l-1 1.2M41.2 301.4l1.2 -1.6M43.1 297.5l0 -1M40.2 304.2l-0.7 1.4M40.2 297.8l-2 -0.9M45.1 299.1l-0.4 -2.2M42 301.3l-0.8 -1.1M42.5 298.7l-0.2 -2M43.1 304.6l-0.9 1.1M42.3 303l-1.9 -1.7M45.3 313.8l-0.9 1.7M39.2 307.4l-1.6 1.6M43 309.3l1 -2.5M43.8 312l2.3 0.3" stroke="#14dc8c" stroke-width="0.6" opacity="0.95"/><path d="M47.1 301l-1.6 1M42.2 300.9l1.8 -1.4M44.8 302l0.6 -1.7M39 302.3l-1.6 -0.1" stroke="#00c8b4" stroke-width="0.6" opacity="0.95"/><path d="M44.2 301.8l-1.6 1.4M39.9 301.2l2.1 -1.2M46.5 300.3l0.9 0.7M38.7 313.1l0.5 1M50.2 312.1l1.9 -1.5M38.7 309.3l1.1 -0.9M42.3 308.2l1.2 1.7M38.7 310.1l-1.7 1.5M40.4 313.4l-1.5 -2.3M45.2 310.2l-1.3 0.4M43.8 308.5l-0.5 1.4M41 307.8l0.4 -1.6M41.4 306.9l0.2 1.8M46.6 310.5l-0.3 -2.5M40.8 308.5l2.4 -0.7M38.1 310l0.7 1.3M41.8 307.3l-0.7 2.5M37.6 310.5l2.1 -0.8M45.9 311.4l-1 -2.1" stroke="#14f078" stroke-width="0.6" opacity="0.95"/><path d="M37.6 302.7l-0.5 -1.5" stroke="#00c8c8" stroke-width="0.6" opacity="0.95"/><path d="M46.5 312.1l-1.3 0.4M42.2 313.3l0.7 -0.9M43.8 313l-0.7 1.1M44.9 312.4l-0.6 2.7M39.1 308.6l-0.5 -1.5M49 309.5l1 1.9M47.5 313.7l-1 -1.1M49 310.2l-1.2 1.8M44.4 309.7l-2.2 -0.5M37.4 308.9l1.4 1.5M50.5 312.4l-0.6 0.9M42.8 309.2l-0.1 1M48 312.2l1 -1.1M36.8 311.6l0.2 -1.5" stroke="#28f064" stroke-width="0.6" opacity="0.95"/><path d="M50.3 311l-0.6 2.7M43.1 308.3l-0.6 -1.2M39 312.6l1.4 -1.1M47.9 308.2l-0.5 -2.1M46.3 308.4l1.9 1.8M44.3 309.9l-0.3 1.4M36.5 311.6l0.9 -1.1M44.8 310.3l-0.5 -1M39.5 313.4l-0.4 -2.1M47.3 310l-1 -1.4M36.4 311.4l-0.8 1.5M46.4 311.7l-0.2 2.5M38.8 312.4l-0.2 1.3M39.5 310.5l0.7 2.4M39.7 312.9l-0.5 -2.2M45.6 309.8l0.6 -1.6M43.8 307.3l-0.5 2.3M36.2 310.1l0.8 2.5M44.4 309.7l2.5 0.9M46.6 308.5l-1.7 1.2" stroke="#14dc64" stroke-width="0.6" opacity="0.95"/><path d="M42.7 307l-0.5 -1.3M47.8 310.3l-1 -1.5M45.8 309.5l0.2 1.2M40.3 311.8l-2.1 0.2M46.4 307.7l0 -2.1M38.6 309.5l0.7 -1" stroke="#14f050" stroke-width="0.6" opacity="0.95"/><path d="M39.4 310.2l1.4 1.1M47.8 309.2l0.7 0.9M43.4 312.7l-0.8 1.5M35.5 309.8l-0.4 -2.7M46.7 313.5l0.3 1.5M44.7 308l2 -0.4M46.3 311.2l-1 -0.7M37 308.4l-0.6 -1.1M41.7 312.9l-0.9 2.4M38.7 309.2l-1.5 -0.6M37.1 311.5l-2.3 0.3M39 308.3l-0.4 -1.5M39.1 310.7l0.4 -2.3M49 312.9l-1.8 1.7M43.3 310.8l-0.1 -1.2M40.6 310.9l-1.6 1M49.7 310.1l-0.1 -1.5M46 313.3l-1.1 2.5M41.4 309.1l0.9 1.5M49.4 310.1l0.3 -2M45.7 312.8l-0.5 2.2M48.7 313l0.1 1.1M45.7 311.6l-2.2 -1.6" stroke="#28dc64" stroke-width="0.6" opacity="0.95"/><path d="M45 313.9l-0.6 -1.9M40 308.8l2.1 -0.5M44 311.8l-0.9 1.1M47 308l-1.4 0.4M46.2 312.2l-1.1 -1.5" stroke="#14dc50" stroke-width="0.6" opacity="0.95"/><path d="M36.9 309.5l1.1 1.9M43.7 309.7l0.3 1.7M48.8 308.7l0.3 2.7M37.9 309.9l-0.7 1.2M42.3 311.1l0 1.3M40 313.6l-0.8 -1.1M44.9 312.8l0.6 -1.5M39 307.9l1.9 -1.5" stroke="#28f050" stroke-width="0.6" opacity="0.95"/><path d="M38.1 312.4l0 -1.5M48.4 308l0.5 2.3M48 313.4l-0.7 2M48.5 309.3l0.4 2.5M40.8 310.1l-0.3 -1.7M39.8 309.7l-1.2 -1.7M46.6 313.6l2.1 -1.5M49 309.6l0.2 -1M47.6 311.7l0.5 2.3M48.1 307.5l-1.2 1.6M38.3 312.9l-1 2.3M47 312.7l-0.8 1.6" stroke="#28dc50" stroke-width="0.6" opacity="0.95"/><path d="M45.9 307.1l0.1 1.3M49.9 310.9l0.2 -1M45.1 313.2l-0.6 -2.1M43.5 312.4l0.1 -1.8M46.9 307.2l-0.8 -2.4M43.6 310.2l-1 -1.7M43.2 307.5l1.2 -0.4M44.3 312.8l0.4 2M47.8 310l0.6 1.5M46.5 307.9l-0.6 -1.2M46 308l-0.9 1.2M45.1 307.4l0.6 -1.3" stroke="#14f064" stroke-width="0.6" opacity="0.95"/><path d="M40.2 307.2l-0.7 0.9M41.7 312.6l0.7 -1M39.1 313.4l2.4 -1.1M45.1 308.2l-1.4 -1.6M45.4 311.9l0.8 -0.8M41.4 310.9l-1 -1.5M36.2 310.2l-2.5 -1.1M44.9 309.7l-1.2 -2.5M39.5 311.6l2 -0.2M47.3 309.5l-0.5 -1.9" stroke="#28dc78" stroke-width="0.6" opacity="0.95"/><path d="M37 312.7l-0.7 1.5M49.3 309.7l0.2 1.8M45.3 307.6l-0.5 1.1M40.5 312.8l-0.4 1.2M37.3 308.6l-0.1 1.7M45.4 310.8l-1.5 1" stroke="#28f078" stroke-width="0.6" opacity="0.95"/><path d="M38.7 321.1l1.2 -1M36.6 320.3l-1 0.9M36.4 323.4l-1.7 -0.2M42.4 323.2l-0.4 -1.6M42.2 318l0.3 1.5M40.8 317l0.2 -1.4M40.4 319.9l-1.1 1.7M41.2 321.1l1.1 -1.4M38.9 319.8l1.3 0.2M44.3 322.9l-1.1 -0.8M42.9 316.7l-0.3 -1.3M36.5 322.9l2.1 0M35.3 318.4l0.4 -1.1M36.8 317l-1.7 1.2M35.7 321.7l0.7 -0.7M40.8 316.7l-1.3 1.2M38.5 315.6l-0.7 0.7M38.8 318.9l-0.9 -1.2M38.3 319.7l0.2 -1.7M42.5 320.4l0.8 1.2M35 319.4l-1.1 -1.4M39.6 320.9l-1.2 -1.6M40.1 317.9l-0.5 1.7M43.2 322.6l0.8 -0.9M39.2 319.5l-0.8 1.3M35.8 320.7l0.5 -1.6M39.9 316.1l-1 -1.3M39.1 324.5l0.1 1.6M36.2 320.1l0.7 -1.2M41.1 318l-0.1 1.3M42.3 318.4l0.6 -1.2M43 317.1l-1.2 -0.6M37.2 320.5l0.7 -1.6M42.4 320.7l0.5 -1.8M39.3 317.8l-0.7 1.6M39.6 323.7l0.3 -1.8M37.7 320.1l1 1.6M35.5 321.8l-1 1.6M37.5 324.1l0.3 -1.2M35.1 318.6l1.3 -0.1M36.9 319.6l-1.8 1.2M42.8 324.2l0.7 -1.6M37.8 320l0.5 -1.6M34.7 321.5l0.9 -1.8M36.5 317l-1.1 0M39.4 318.2l0.2 1.9M39.6 320.8l-0.7 2M34.8 321l0.7 1.7M42.7 316.3l0.5 1.5M42.3 321.6l-0.8 -1.8" stroke="#00a0ff" stroke-width="0.8" opacity="0.95"/><path d="M42.7 317.6l-0.9 -0.5M39.2 320.4l-0.6 1.8M38.2 322.9l-0.1 1.7M43.7 321.5l-1.5 -0.6M36.2 321.3l-0.5 2.1M35.7 320l-0.5 -1.1M40.9 320l1.2 -1.5M42.8 320.6l1.4 1.3M40.9 321.1l1 -1.3M42.6 316.5l0 -1M38.5 317.5l-0.4 1.5M40.3 318.4l-0.2 -1.8M42 324l0.5 -1.7M41.2 320.1l-0.7 0.8M37.8 316.8l1.1 0.9M37.6 323.7l0.2 -1.5M39.1 318.3l0.2 -2.1M40.2 325.3l-0.1 2M38.9 319l-0.7 -0.9M42.7 317.9l1.4 1.2M42.3 318.6l-1.3 1.5M43.2 319.5l-1.8 -1.1M42.9 320.5l-0.5 1.9M39 322.6l0.8 1.4M39.2 322.9l0.5 -1.4M36.8 321.1l-1.2 -1.2M36.8 316.2l-1.1 1.1M36.9 320.9l-1.3 -0.5M34.5 321l-0.7 -1.5M40.2 322.6l0.3 1.1" stroke="#00b4f0" stroke-width="0.8" opacity="0.95"/><path d="M41.7 318l0.4 2.2M40.2 316.7l1.1 1.7M37.5 317.4l-0.2 2.1M35.4 321.4l-0.6 2M44.3 322.5l-0.9 -1.2M41.2 323.6l-0.5 1.4M43.2 316.6l1.1 0.5M38.6 319.6l0.6 -1.6M41.5 317.2l-0.2 1.9M42.4 323l-0.2 1.3M41.5 320.6l1 1.7M38.9 318.6l1.4 1.4M40.5 317.1l-0.2 -1.2M36.2 319.9l-1 1.6M39 317.7l0.5 -0.9M42.9 317.8l-1.3 1.7M39.6 323.9l0.2 -1.8M35.8 318l1.4 -0.9M36.3 324.1l-0.6 -1.2M42.6 319.2l0 1.5M40 315.9l-0.8 -1.1M34.5 320.6l1.1 -0.8M41 317.6l-1.2 0.7M42.6 318.2l-0.1 2.1M43.4 321.1l0.6 1.9M38.6 315.6l-1.7 -0.1M36.8 316.7l0 1.4M39.1 322.9l0.9 -1.1M34.8 320.4l0.2 -1.8M43.2 320.8l1.4 1.4M39.5 317.3l-1.2 -1.1M41 319.2l0.9 -1.6" stroke="#00a0f0" stroke-width="0.8" opacity="0.95"/><path d="M41.6 317.7l0.7 -1.2M43.6 319.9l-0.6 1.6M39.8 324.3l-0.6 -1.1M40.8 319.2l1.3 -0.5M38.6 323l-1 -1.5M43.5 321.9l-1.7 -1.3M35.8 319.4l0.6 -1.1M36.4 321.6l-0.3 -1M40.9 324.1l-1.7 0.9M40.1 316.5l-0.3 -1M44.8 319l0.5 2M41.1 316.4l-1.2 -0.7M39.3 315.8l-0.6 -1.2M44.8 319.2l0.5 1.2M43.9 317.9l-1.8 1.1M35.1 321.1l1 0.6M34.8 320.4l0.8 0.8M37.4 317.9l-1.5 1.5M44.3 322.3l-0.4 -1.6M35.9 321.4l1.4 -1.5M42.4 317.5l0.7 -1.6M42.5 319.3l-0.4 -1.6M38.6 318l-0.2 -1.4M40.9 320.4l0.6 1.3M37.5 318l1.3 0.7M43.8 318.9l-0.5 2.1M35 321.8l1.5 0.4M39.5 324.5l0.6 1.8M38.4 315.5l0 -1.3M44.9 321l-0.2 -2.1M43.6 317l1.2 1.4M44.2 318.8l0.4 -1.4M42 316.8l-0.9 1.1M35.2 319.7l0.2 -1.8M42 319.8l-0.2 -1.9M44.5 320.1l1.6 1M42.9 316.4l0.7 1.7" stroke="#008cff" stroke-width="0.8" opacity="0.95"/><path d="M37.8 318.1l-0.9 -1.7M43.2 322.6l0.1 1.4M38.3 317.1l1.1 -0.9M41.5 321.8l0.8 1.8M39.3 315.5l-0.2 -1.9M37.8 318.5l-0.5 -1.2" stroke="#00c8ff" stroke-width="0.8" opacity="0.95"/><path d="M39 315.5l0.4 -1M42.2 323l0.4 -1.3M34.6 318.8l1 -1.7M39.4 320.4l-0.1 1.2M37.9 318l-0.5 1.4M42.1 318.9l0.2 -2.1M35 320.9l0.5 1.2M40.6 318.7l-0.5 1.2M40 316.9l-0.4 -1" stroke="#14b4ff" stroke-width="0.8" opacity="0.95"/><path d="M35.9 320.2l-0.7 1.3M37.5 320.4l1.1 1.1M43.8 317.3l-0.1 1.7M42.4 317.2l-0.2 -1.4M35.2 322.2l-1.5 -0.9M40.3 320.7l1.6 1M35 318.8l0.6 1.1M38.1 324.5l1 -1.7M35 322.3l-0.5 1M39.1 319.5l-0.6 1.2M43.2 320l-1.1 -0.1M43.9 318.1l-0.6 1.3M40.2 323l-0.6 1.2M36.8 319l-1.3 1.2M37.6 324.1l1.5 1.1M40 324.9l-1.2 -0.4M37.4 315.7l1.1 -1.2M40.7 319.5l-1.1 -1.3M38.1 321.5l-0.6 -1.1M35.3 319.9l-1 1M37.3 321.8l0 2.1" stroke="#008cf0" stroke-width="0.8" opacity="0.95"/><path d="M36.5 322.4l0.5 -0.9M38.3 325.1l0.9 1.2M39.7 316.7l1.4 -0.1M41.7 317.9l-1.1 1.6M38.4 317l-0.7 -1.9M43 316.9l-0.4 -1.7M42.8 317.5l-0.7 -1.9M34.7 319l1.5 -1.1M38.7 317.6l1.2 1.6M41.1 322.6l0.5 1.7M43.3 319.8l1.5 0.2M39.4 317.9l0.9 1.6M39.5 324l0.7 -2" stroke="#14a0f0" stroke-width="0.8" opacity="0.95"/><path d="M39.2 325.1l-0.8 -1.3M40.6 318.2l-0.3 1.3M41.4 321.1l0.6 -1.3M39.1 317.2l-0.9 -0.3M37.4 319.1l-0.9 1.6M37.5 321.9l0.2 1.8M40.3 317.2l0.3 -1.3M40.8 324.2l1.2 -0.4M39.4 315.4l-0.4 1.6M41.8 319.9l-1.2 0.5M36 322.4l0.9 1.7M41.4 322.3l0.9 0.6M44.2 322.9l1.3 -0.4M38.7 323l1 0.7M41 322.4l-1.2 -1.1M35.3 321.4l0.9 -2M38.7 318.2l-0.7 1.6M35 320.7l-0.5 2.1M42.7 321.1l-1.2 -0.7M36.8 320l1 1.1M41.9 319l0.2 1.7M39.8 324.7l0.8 1.3M44 320.2l0.2 -1.7M43.6 320.8l-0.8 -0.6M39.7 322.5l1 1.1M38 316.3l-0.8 1.1M43.6 319.6l-1.1 -1.5M37.9 323.5l-0.4 -1.4M37.9 321.5l-0.9 -1.2M45.1 319.3l1.1 -0.4M42.4 318.9l-0.2 -1.9" stroke="#00b4ff" stroke-width="0.8" opacity="0.95"/><path d="M35.6 323.4l0.7 1M42 323.9l1 -0.9M41.7 320.4l-1.1 -1.5M40 324.1l-0.1 -1.7M42.5 319.8l0.1 -1.3M38.9 322l0.3 -1.1M38.9 322.9l-0.3 -1.1M40.2 317.6l0.3 -1.9M40.4 323.5l-0.5 2M39.1 321.4l0.8 -1.3M40.4 315.8l0.5 1.4M38.4 322.7l1 -1.6M43.2 322.9l0.3 -1.2M34.6 320.7l-1.5 -1.4M39.2 320.7l0.2 -1.5" stroke="#14a0ff" stroke-width="0.8" opacity="0.95"/><path d="M39.4 324.9l0 -1.5M36.9 319.6l0.1 2.2M37.3 319.8l0.5 1.3M40.3 320.3l-1.2 -1.1M40.3 322.7l-1.1 1.7M41.7 318l-0.6 1M38.4 317.8l1.8 0.5M35.4 321.2l-0.8 0.8M39.6 321.2l-1 -1.1M37.3 316.5l-1.2 -0.9M39.8 322.2l1.3 -0.8M39.6 318.8l0.5 2M39.4 319.7l1.4 0.6M37.6 317.5l-1.4 0.9M43.6 323.2l0 1.4" stroke="#00c8f0" stroke-width="0.8" opacity="0.95"/><path d="M41.5 317.7l0.8 -1.5M39 320.8l0.5 1.1M37.1 322.6l-0.8 0.7M44.1 318.3l0.9 -0.8" stroke="#14c8ff" stroke-width="0.8" opacity="0.95"/><path d="M36.5 321.3l-1.8 0.8M44.1 321.4l1.1 -1.8M38.6 321.7l1.2 0.9M42.7 323.9l2.1 0.4M38.3 316.6l0.4 1.9" stroke="#14b4f0" stroke-width="0.8" opacity="0.95"/><path d="M36.9 323l-0.4 1.3M39.2 317.7l0.7 -1.5M36.3 322.3l-1.6 -1.3M41.5 324l-1.2 1.8M42.4 320.9l-0.5 -1.1M41.8 324.3l-0.4 -1.1M36.5 317.8l-0.6 1.1M36.4 318.7l0.9 0.9" stroke="#148cff" stroke-width="0.8" opacity="0.95"/><path d="M42.6 321.3l0.4 1.2" stroke="#148cf0" stroke-width="0.8" opacity="0.95"/><path d="M38.7 319.3l0.1 -2.1M42.5 322.1l0.7 1.8M37.3 323l-0.9 0.6" stroke="#14c8f0" stroke-width="0.8" opacity="0.95"/><path d="M48 309.9l7.5 -2.9M48 310l6.4 -1.7M48 307.2l6.8 -1.7M48 310.9l7.4 -2.8" stroke="#28f064" stroke-width="0.6" opacity="0.9"/></g>
<circle cx="42.6" cy="306.2" r="2.0" fill="#0010e8"/>
<ellipse cx="304" cy="319" rx="5.6" ry="5.3" fill="#14a0fa"/>
<g fill="none" stroke-linecap="round" stroke-linejoin="round"><path d="M304.2 299l-1.2 1.4M304.1 296.8l1.4 -0.7M304.1 296.1l2.4 -0.7M310.2 301.3l1.8 -0.9M304.9 296.5l0.3 -2.1M302.7 296.7l0.1 1.8M305.4 302.5l0.7 2.3M308.9 295.8l1.1 -1.1M309.9 298.3l2 -1.2M311.6 298.4l0.2 -1.4M306.3 296.1l1.8 -1.2M310.8 299.6l-0.7 1.5M306.6 298l0.6 1.1M308.4 296.6l-0.2 -2M305.2 298.9l-1.1 -2.2M307.8 302.7l1.4 -1.9M305.6 302.8l0.2 -1.9M310 300.9l-1 0.7M312.2 308.7l0.4 -1.1M304.1 304.4l-0.8 -1.3M304.3 311.9l-2 0.9M304.7 310.1l-1.5 -1.8M304.4 307.6l-0.5 -1.4M304.1 311l0.1 -1.9M305.6 307.5l-1.2 -1.3" stroke="#28f064" stroke-width="0.6" opacity="0.95"/><path d="M306.7 299.7l1.8 0.6M310.3 297.5l-1.1 1.4M304.6 301.2l0.7 1.1M307.6 298.5l0.7 0.6M302.5 297.5l0.2 1.8M306.9 307.4l-0.7 -1.5M309.2 305.9l1.5 0.3M311.4 307l-0.3 1.7M308.2 307.6l0.9 -0.9" stroke="#14f0b4" stroke-width="0.6" opacity="0.95"/><path d="M306.8 297.2l-0.4 2.2M303.6 301.1l-1.4 1.1M308.4 299.7l-1.8 -0.9M309.7 296l-0.6 1.9M307.9 302.6l1.6 -1.1M307.9 301.5l-1.5 1.9M307.2 300l-0.3 1M303.3 296.7l0.4 -1.3" stroke="#14f0c8" stroke-width="0.6" opacity="0.95"/><path d="M308.6 295.6l-0.6 -1.6M310.5 301.6l-0.4 -1.8M307 295.9l-2 -0.2M310.3 301.5l-1.3 1.8M311.3 299.7l0.8 1.7M307.9 296.1l0.5 -1.7M308.5 300.5l-1.3 -1.1M304.9 296.4l-0.7 -1M303.9 296l-0.1 -1.1M304.9 295.8l2.1 -0.4M303.7 302.3l-2.2 0.2M303.8 301.9l-1.6 1.3M309 297.7l-0.4 -0.9M302.9 299.2l0.9 -1.9M305.3 301.1l-1.9 1.2M308.5 296.6l-0.5 2.2M309.1 300.9l-0.6 2.3M303.1 301.4l1.8 1.3M305.3 309.2l-0.6 0.9M303 306.5l-1.8 -1M304.9 307.9l-0.7 1M305.4 309.2l-0.8 1.7M301.3 307.9l-0.9 0.9M302 305.6l1.5 -1.3M305.2 306.3l-0.1 -2M302.1 308.2l-1.7 0.2M304.8 309.9l0.7 -1.4M305.6 307.3l0 1.2M304.7 312.3l0.1 -2.3M308 305.5l0.7 1.3M301 306.6l0.6 -1M306.7 306.4l0.4 -2.4M301.9 310.2l-0.4 -2.1M303.4 308.7l0.2 -1.7M305.1 310.7l-0.6 -1.7M310.1 306.1l-1 -0.7M304 312l-0.6 0.8M305.4 307.3l-1 1.1M305.4 310l-0.8 -0.5M307.6 305l1.1 -0.7M304.1 307.2l-1.7 -0.3M303.7 304.9l-0.8 -0.7M308.7 305.1l0.4 1.6M307.3 311.9l-0.2 2.2M307.5 311.7l0 -2M308.8 311.2l-0.7 -1.1M301.9 305.5l-1.2 -0.2M311.5 309.1l0.4 -1.3M305.4 305.4l1 -0.5M308.8 303.7l-0.7 0.8M306.6 312l0.1 1.1M305.2 303.6l-1.6 -1.8M304.9 304.1l1 0.7M304.3 311.2l-0.2 1.8M303.9 307l-2 -0.7M301.3 307l-0.8 1.9M305.2 310l0.4 -2.4M307.4 310.5l-0.7 1.4M305.1 305.1l-1.8 1.5M302.7 307.9l0.5 -1M310.6 305.5l-0.8 -1.1M304.3 304.6l1.2 -0.8" stroke="#00dca0" stroke-width="0.6" opacity="0.95"/><path d="M310.8 297.3l-0.3 -2.2M304.5 296.5l1.7 -0.7M307.6 297.6l-0.4 -1.8M308.9 298.2l0.5 -1.9M303.3 301.1l-0.2 1.8M308.9 296.6l-1.1 -2M306.7 302.4l1.1 -0.4M310.8 300.1l-1 1.6M308.5 302.3l-0.1 -1.4M304.6 297.7l0.3 1.8M304.8 296.6l-1 -0.6M309.1 299.2l0.5 -2M302.2 299.8l-0.6 -0.9M304.6 302.4l2.2 0.8M303 299.5l-0.3 1M310.4 298.8l-0.3 2M306.4 297l-0.3 2.5M304.8 301l-1.8 -1.2M308.3 295.6l-1.2 1M308.5 300.1l-1 -2.2M308.6 298.3l-0.3 -2.5M304.7 300l0.4 1.9M304.7 300.3l2.4 0.7M302.6 300.7l-0.4 1.1M309.6 299l-0.5 2.1M306.8 297.9l0 -1.1M305.5 296.1l0.9 -1M309.5 296.3l2.1 -0.3M301.7 298.8l-0.9 1.4M309.1 300.6l-0.4 -1.5M310.9 299.8l0.5 -1.5M308.5 300.9l-0.1 -1.8M309.9 297.8l0.4 1.1M307.2 299.7l-1.8 -1.7M302.6 305.5l1.2 2M301.2 308.6l1.9 -1.3M304.3 310.4l1.6 0.6M310.4 310l0.8 -1.3M305.3 307.6l0.9 -1.5M311.6 306.2l-0.9 2.3M307.6 309.7l-1.1 -1.5M303.3 307l-0.1 1.5M308.8 306l-0.1 1.2M311.1 305.8l-1.1 -2.1M308.8 310.5l1.2 -0.5M309.4 306.4l-0.4 -2.3M309.7 309.2l-1 0.5M306.6 308.7l1.2 1.8M303.3 309.2l-0.3 1.4M305.8 311.6l-0.4 -0.9M311 305.1l0 -1.8M308.6 310.6l0 1.7M302.9 309.8l1 -0.8M304.9 312l0.4 2.3M309.6 311l0.5 1.4M309.4 309.2l-0.4 -1.1M303 308.4l-1.3 1.8M310.6 309.9l-0.3 1.6M302.7 311.5l0.7 1M310.1 305.8l-1 2M302.2 305.6l0.3 -2.2M307.3 306.9l-1.3 0.7M304 308.6l-0.5 1.6" stroke="#00dcb4" stroke-width="0.6" opacity="0.95"/><path d="M303.1 297.8l0.6 -1.8M303.7 301.3l1 -1.6" stroke="#14c8b4" stroke-width="0.6" opacity="0.95"/><path d="M303.6 297.3l-0.7 -1.7M307 299.2l-0.4 1M302.8 298.7l-2.1 0.7M303.7 299.9l1.2 1.3M305.3 300.4l0.2 -1.8M309.2 295.7l0.6 1.4M308.6 299.8l-0.2 1.7M307.5 297.6l-1 2.1M307.8 295.3l0.6 -1.3M307.1 298.1l0 2.1M306.9 306.3l0.6 -1M305.3 305.8l0.3 -1.6M306.7 309.4l-1 0M312.4 308.8l-0.5 -2.4M304 308.8l-0.3 -2.4M301.6 308.2l-0.8 -1.5M309.8 306.1l-1.3 -1.8M303.7 311.5l1 -2.1M300.7 308.3l1.3 -0.7M308.4 309.2l-0.5 1.5M308.5 307.4l1 -1.7M304.9 304.9l0.8 1.6" stroke="#28dc50" stroke-width="0.6" opacity="0.95"/><path d="M303.1 300.5l-0.2 2.5M309.8 300.3l-0.6 -1.1M306.3 296.9l0 -1.3M303.7 298.4l-1.3 -0.4M303.4 299.8l-0.5 -0.9M303.7 297.9l-1.2 2.2M304.5 295.3l0.2 1.7M301.9 299l0 -2.2M308.8 298.8l0.1 -1M305.1 296.6l-1.3 1.2M304.4 297.2l-0.1 -1.5M311 300.1l-1 -0.3M302.4 298.8l1 1.7M302 298.6l-1.5 1M304.7 299.6l0.1 1.5M303.7 301.9l-0.9 0.9M304.1 301.4l-0.7 -1.5M307.8 299.6l2.4 -0.3M302.7 297.4l0.1 1.9M307.2 301l-0.5 -1.9M306.4 298.2l1.1 1.4M309.5 301.1l-0.2 -1.1M312.1 306.8l-0.3 -2.4M308.3 306.1l-1.4 0.7M307.9 303.6l1 0.7M311.1 307.3l0.7 -2.2M311.6 308.7l-1 -0.8M307.4 311.2l-1.6 1.6M303.8 304.8l-0.4 -1M309.7 306.4l0.1 -1.4M310.1 308.6l0.6 -1.7M306.9 305.1l0.7 -1.5M304.5 310.2l-1.3 -1.2M306.7 307.2l-0.6 -1.5M309 308.3l-0.9 0.7" stroke="#00f0b4" stroke-width="0.6" opacity="0.95"/><path d="M302.9 299l-0.5 -1.4M309.9 301.5l0.6 -1.2M303.2 297l-1.4 0.9M304 300.6l-0.7 1.7M309.4 301.6l-1.5 0.2M307.3 302.5l1.6 -1.1M310.6 298.1l0.7 -1.1M308.2 299.3l0.4 1.9M306.3 295.4l-0.2 1.8M309.4 299.7l-0.9 1.9M303 301.8l0.8 1.3M307.6 295.5l-0.2 2M306.3 297.4l-2 0.9M306.2 299.8l0.5 2.3M304.2 298.5l0.2 2.4M306.6 295.4l-0.3 1.3M308.9 304.9l-0.5 2.1M301.8 308.4l-0.3 1M306.6 311.5l-0.6 -1.9M304.5 311.5l-2.1 1.1M310.5 304.7l0.8 0.7M308.3 311.8l0.8 -1.2M300.9 308.8l-0.8 -1.9" stroke="#28f050" stroke-width="0.6" opacity="0.95"/><path d="M306.8 298.5l-0.5 -2.1M309 300.9l-0.4 -1M306.8 299.1l-1.2 -1.1M308.4 301.8l-0.1 -1.4M305.1 302.3l-1.1 -1.9M309.1 301.5l-1.6 -1.4M306.4 302.8l0.4 -2.2M307.5 298.7l-2.2 -0.6M310.3 299.5l-0.5 -1.8M302.1 298.1l-0.5 -2.2M304.4 299.5l1.9 1M311.7 308.6l1.7 1.4M305.6 312.6l1 0.6M305 310.5l-1.3 0.2M311.3 307.6l0.6 1.8M308.6 307.2l0.5 1.9M301.7 310.8l0.1 1.3M307.2 308l-0.9 -1.1M301.5 310.5l2.4 0.2M307.4 304.4l-1.5 1.1M310.2 309l2.1 -0.1M307.7 311.2l-0.6 -2" stroke="#14dcb4" stroke-width="0.6" opacity="0.95"/><path d="M306.9 295l0.8 2.3M308 296.4l0.2 2.2M306.9 300l2 -1.3M310.1 296.7l-0.6 -1.3M310.4 297.7l-1.7 -0.5M304.5 298.4l-1.1 -2.3M309.6 302.1l0.7 2M308.5 299.9l-1.3 -1.8M304.1 297.8l-1.6 -1.5M308.2 302.3l0.3 2.4M304.4 295.6l0.7 1.3M310.2 299.9l0 -2M309.1 302.6l-1.8 -0.1M308.8 298.4l0.5 1M305.5 297.3l-0.6 -1.8M310.8 297.3l0.2 -1.7M304 309.2l0 -2M301.9 309l1.1 0.5M301.2 307.4l1.4 -1.3M306.1 311.2l-1.3 -1M302.9 304.7l-0.6 -2M302.2 310.7l-1 1.6M303.8 307.4l-0.6 -1.1M304.2 305.9l0.1 -1.7M309.1 306.6l0.2 2M303.8 311.7l0.5 -2.3M306.2 310.4l-0.3 2M308.8 311.9l1.3 1.5M306.7 308.9l1 2.2" stroke="#00dcc8" stroke-width="0.6" opacity="0.95"/><path d="M308 297.7l1.4 1.2M306.3 296.6l1.3 0.3M305.4 297.3l0 2.2M304.4 295.4l-0.2 1.5M311.2 298.1l-0.1 -1.7M303.5 297.4l-1.2 0.8M305.3 305.6l-1.7 1.6M310.6 306.7l0.3 -1.1" stroke="#00f0c8" stroke-width="0.6" opacity="0.95"/><path d="M308 302.9l-0.2 -1.3M310.8 299.3l1 -0.6M303.1 297.2l1.1 1M307.8 302l0.2 1.2M309.1 296.4l1.5 1.9M308 295.6l1.5 -1.5M307.8 297.5l1.3 1.2M301.8 298l-0.7 1.3M310.1 301.6l0.4 -1.8M304.3 308.5l0.6 1.2M308.1 304.3l-1.4 -0.5M305.7 304.7l1.2 -2.1M309.3 310.8l-0.2 1.4M301.9 308.6l-0.2 1M304.6 307.8l-0.5 1M303.6 310.3l0.3 -1.6M306.4 308.6l0.7 -1.5M305.7 304.2l-0.5 1.9M312.3 308.7l-1.1 1.7M303.6 307.5l1.3 1.9M311.7 310.8l-0.5 -1.6M311.9 308.1l1.3 -1.2M310.7 307.3l0.5 -1.5M307.4 304l-0.7 0.9M305.2 307l1.4 0.4M305.4 310.3l0.4 -2.1M302.3 306.9l-0.3 -1M307.2 311.9l-0.9 -1.6M310 310l-0.8 -1M305.6 307.7l1.9 -1.1M306.2 306.6l-2.1 0M310.8 305.5l-0.8 2.1M302.2 307.6l-0.3 -1.4M307.3 311.8l1.8 0.8M305.3 311l1 1.6M308.6 306.3l0.9 1.8M311.9 305.4l0.2 1.2M306.7 312.5l-1.1 1.4" stroke="#00f0a0" stroke-width="0.6" opacity="0.95"/><path d="M308.6 300.7l0 1.7M307.7 301.3l1.5 -0.3M306.3 300.5l0.3 1.2M309.3 296.9l0.9 1M307.5 301.5l0.7 2.3M310.4 297.8l-0.4 -0.9" stroke="#14f064" stroke-width="0.6" opacity="0.95"/><path d="M303.9 301.1l-1.5 1.3M305.4 300.9l0.6 1.3M301.9 299.6l-0.6 -0.9M304.4 296.8l-2 -0.9M308.3 301.1l1 1.3M308.1 297.8l1.7 -0.8M307.4 302.4l-0.8 1.4M309.9 298.4l1.3 -0.8M310.1 304.5l-0.2 1.2M301.6 307.1l0.6 2M303.4 308.3l-2.2 1.1" stroke="#00c8b4" stroke-width="0.6" opacity="0.95"/><path d="M305.5 298.8l-0.3 1.5M305.2 301l-0.8 -1.6M308.9 302.3l-0.5 -2.2M303.5 310.8l1.9 1M300.5 307.7l2 0.4M305.4 308.8l-1.5 -0.6M304.9 308.5l1.2 1.7M302.2 308.8l1 -1.9M304.6 307.2l0.7 0.8M302.8 307.8l0.9 1.4M306.2 305.4l0.6 1.8M305.2 305.7l1.4 -2M308.9 307.6l1.2 0.9M309.8 304.7l-1 -0.8M308.5 310.1l1.9 -1.2M308.1 311.4l0.4 -2.3M301.2 306l-0.4 -2.2" stroke="#14dca0" stroke-width="0.6" opacity="0.95"/><path d="M305.2 299.2l-1.1 1.7M307.7 299.7l0.4 1.4M307.8 295.3l-0.5 1.5M306.2 309.1l0.4 2" stroke="#3cdc50" stroke-width="0.6" opacity="0.95"/><path d="M307.2 300.9l-1 -1.8M306.2 299.3l0.4 -1M311.3 298.5l1.2 0.7M305.6 306.8l0.8 -1M305.6 305.7l-2.1 -0.6M304.1 311.8l-1.6 0.9M308.6 311.8l-0.2 -1.9" stroke="#14f0a0" stroke-width="0.6" opacity="0.95"/><path d="M308.7 298l0.9 -1.4M310.1 297l1.1 0.9M303.6 299.5l-0.5 1.8M308.5 299.3l-1 -0.6M310.5 297.6l-0.5 1.7M309.3 301.8l-1.1 1.7M305.6 299.1l-0.1 -1M307.4 300l0.9 1.9M310.1 297.3l-0.3 -1.9M304.7 300.4l0.4 1.3M302 297.5l-0.6 -2.1M306.9 305.7l1.4 1.3M301.2 309.1l1.6 -0.9M309.9 307.1l-1.9 0.2" stroke="#28dc64" stroke-width="0.6" opacity="0.95"/><path d="M307.9 300.4l0.7 -1.8M307.9 296.5l1 -1M302.7 297.6l-1.1 -1M307.5 296.5l-1.5 2M305.9 301.2l0.8 -1.2M303.8 300.6l-1.1 -1.1M302.1 298.5l-0.5 2.1M304.9 297.1l0.4 -1.9M309.5 310.4l1 -1.1M302.9 311.5l-0.4 1.9M309.1 305.9l1.8 0.8M309.4 309l1.4 2M310.9 306.3l-0.4 -1.4M306.1 305l0.3 -1.4" stroke="#3cf050" stroke-width="0.6" opacity="0.95"/><path d="M309 300.1l-1.4 1.1M306.8 297.3l-1.9 -1.5M309.3 300.7l-0.8 1.7M306.5 301.7l1.3 1.4M304.2 302.2l0.3 -2.5M303.8 299.9l0.8 2.1M303.1 304.5l0 -1.1" stroke="#3cf064" stroke-width="0.6" opacity="0.95"/><path d="M310.9 301.2l0.2 -1.2M304.4 299l1.7 -0.2M308.8 298.5l0.6 1.6M308.4 298.6l-0.3 -2M305.7 302.7l-0.2 1.4M311 298l-0.6 -1.5M312.6 307.3l-1 1.1M304.6 303.8l0.7 -1.7M311.7 310l0.7 -1.3" stroke="#00c8a0" stroke-width="0.6" opacity="0.95"/><path d="M304.3 300.1l-0.2 1.4M306.8 295.6l-0.3 1.8M303.7 296.2l-2.3 -0.9M302.3 300.6l-0.5 -2.2M304.8 302.6l-0.6 -2M309.8 301.1l-0.3 0.9M301.9 298.5l-0.7 -1.4M302.1 298.7l0.3 2.4M307 311.9l-0.7 0.7M304.1 309.3l-0.1 -1.8M303.6 305.6l-1 -0.5M312.7 308.2l-0.8 -0.8M304.5 311.8l-1.3 -1.6" stroke="#14f050" stroke-width="0.6" opacity="0.95"/><path d="M306.6 302.3l-1.9 -1M309.3 301.5l1.7 -0.2M305.9 302.1l-0.3 -2M307 299.4l1.7 0.8M304.4 296.7l-0.3 1.3M307.8 297.4l1.8 -1.5M310.3 299.5l-1.7 -1.5M310 305.6l-1.2 -0.9" stroke="#14dc64" stroke-width="0.6" opacity="0.95"/><path d="M306.9 302.8l-0.6 1.9M305.2 301.6l-0.2 1.5M306.6 302.9l-0.5 1.2M300.9 308.6l1.7 -1.6" stroke="#3cdc64" stroke-width="0.6" opacity="0.95"/><path d="M309.7 300.7l1.2 -1.6M303.1 296.9l-0.7 -1.6M306.6 296.8l0 1.3M308 296.8l1.6 -1.2M311.7 299l-0.9 0.9M307.2 300.7l0.3 -1.9M309 297.9l-0.1 -2.3M302.4 305l1.2 2M301.9 308.4l0.9 1.4M310.5 306.4l-1.1 -1.2M310.9 309l0.9 2.1" stroke="#14dc50" stroke-width="0.6" opacity="0.95"/><path d="M304.4 299.3l0.8 -1.6M306.5 297.1l-1.2 1.3M309.6 311.7l-0.3 -1.6M302.2 311.1l-0.1 1.8M303.4 309.2l0.5 -1.2M301.3 308.6l0 1.2M308.2 309.1l0.3 1.1M306.2 304.4l-1.2 -1.1M306.4 309.7l-1.8 1.2M310.1 305.8l-0.3 -2.3M303.9 306.1l-0.2 -1.4M304.5 311.5l-0.4 -1.4M302.3 306.5l0.3 -1.2M307.7 311.1l0.9 2.1M305.1 307.2l1.9 -1.6M302.9 307l1.1 1.4M306 312.1l-1.8 -1.7M310.2 306.8l1 -1.6" stroke="#00c8c8" stroke-width="0.6" opacity="0.95"/><path d="M303.8 301.5l0.8 -1.8M307 295.2l1.9 -1.4M310 300l-0.4 -1M305.4 302.7l1.1 -1.9M311.9 305.7l-1.2 -2.1M306 307.5l1.4 -1.5M310.9 306.1l-1.7 -0.5" stroke="#14dcc8" stroke-width="0.6" opacity="0.95"/><path d="M308.3 308.3l-0.3 -2.3M307.9 304l0 -2.3M307.3 303.3l-1.3 -1.9M305.7 308.7l-1.8 -0.7M305.2 303.8l1.1 -0.8M307 310.4l-0.6 -2.1M301.2 307l0.9 0.7M311.4 307.3l-0.8 -2.3M301.6 307.6l-0.1 2.4M309.4 312.2l0.8 1.2" stroke="#00c8dc" stroke-width="0.6" opacity="0.95"/><path d="M303.1 305.3l-1.8 1.3M304.4 310l-0.1 -1.1" stroke="#14dcdc" stroke-width="0.6" opacity="0.95"/><path d="M310.3 305.4l0.2 1.5M311.9 307l0.3 -2.4" stroke="#00f0dc" stroke-width="0.6" opacity="0.95"/><path d="M305.3 306.8l1 -1.4M309.8 303.9l1.5 0.5M303.3 304.3l1 -1.8" stroke="#14f08c" stroke-width="0.6" opacity="0.95"/><path d="M310 311.7l0.4 2.2M310.3 307.6l1.3 1.5M307.4 305.9l2.2 -0.9M304.9 305.4l1.5 -1.6M307.2 307.2l1.1 -0.6M310.4 305l-0.1 1M307.4 312.1l0.4 -1M306 307.5l-1.8 -1.1M309.3 311.3l0.9 -1.3M304.9 304.7l0.9 1.1M302.9 304.6l-0.5 2.5M304.9 306.3l1.5 1.5M300.8 308.4l-0.9 -1.7M302.3 309.3l1 -1.6M307.2 303.4l-0.7 -2.1" stroke="#00dcdc" stroke-width="0.6" opacity="0.95"/><path d="M307.7 312l-0.4 -2.3M308.4 304.1l-0.9 -2M308.4 304.5l1.1 -0.3" stroke="#00f08c" stroke-width="0.6" opacity="0.95"/><path d="M306.9 310.3l-1.1 0.8M301.6 308.7l0.8 -2.3M305.6 310.8l0.6 2M306.1 310.2l0.6 -1.5" stroke="#3cdc3c" stroke-width="0.6" opacity="0.95"/><path d="M309.3 310.9l0.9 0.6" stroke="#14c8c8" stroke-width="0.6" opacity="0.95"/><path d="M309.8 310.1l-0.3 -1.2M305.9 307.4l-0.5 -1.6" stroke="#28dc3c" stroke-width="0.6" opacity="0.95"/><path d="M312.6 308.4l1.7 -1.7" stroke="#14dc8c" stroke-width="0.6" opacity="0.95"/><path d="M303.6 306.2l-1.3 0.4M307 309.4l0.2 1.6" stroke="#14c8dc" stroke-width="0.6" opacity="0.95"/><path d="M306.2 312.6l0.8 1.5M306.6 309.8l0.5 -1.4M311.9 306.8l0.8 -1.9M307 306.7l0.1 1.7M303.5 311.1l0.7 -0.8" stroke="#00dc8c" stroke-width="0.6" opacity="0.95"/><path d="M302.7 310l-1 0.9M308.3 308.5l-0.3 2.2" stroke="#14f0dc" stroke-width="0.6" opacity="0.95"/><path d="M307.3 311l0 2.3M306.2 303.4l1.4 -1" stroke="#28f03c" stroke-width="0.6" opacity="0.95"/><path d="M305.9 309.5l0.4 2.4" stroke="#14c8a0" stroke-width="0.6" opacity="0.95"/><path d="M312.2 308.3l1.4 -0.7M310.4 304.6l-0.7 -2.2M307.7 312.5l0.9 -2.3" stroke="#3cf03c" stroke-width="0.6" opacity="0.95"/><path d="M302.4 308.6l-1 -1.1M308.4 310.3l1.1 -1.8M301.9 308.5l-1 -1.3" stroke="#00c88c" stroke-width="0.6" opacity="0.95"/><path d="M309.7 304.4l-1.1 -0.6M302.8 310l-1 2.1" stroke="#14f03c" stroke-width="0.6" opacity="0.95"/><path d="M308.5 311.1l0 -1.2" stroke="#14c88c" stroke-width="0.6" opacity="0.95"/><path d="M300.4 320.7l0.2 -1.2M298.9 320.3l-1.5 0.5M301.6 316.4l-0.9 0.8M301.2 323.1l0.2 -2.2M307.1 315.2l1.3 -1M309 319.5l-1.6 -1.4M303.9 319.4l0.3 1.8M305.5 319.7l0.4 1M301.3 317l-0.9 -1.6M304.1 315.5l-0.9 -1.3M305.1 322.7l-0.7 -2M305 318.6l1 -0.6M305.2 320.5l0.6 -1.8M308.4 318.7l-1.4 1.3M301.4 320.2l-1.1 -0.1M299.7 321.2l0.5 1.1M300.4 315.4l0.7 -2.1M302.1 323.3l1.1 0.3M304.8 322.3l0.7 -1.8M303.7 318.5l-1.1 0.3M306.6 317.4l0.3 1.1M301.9 319.6l0.1 -2M301.7 322.3l1.4 0.2M299.6 318.9l-1.8 0.9M309.1 318.1l-0.9 1.3M300 321.9l0.4 -1.5M304.3 316.3l-0.4 -1.1M308.2 319.4l-0.1 -1.3M300.8 317.1l1.5 -1.5M302 314.4l-0.2 -2M305.6 320.3l-0.8 -1.7M304.4 314.8l-1.4 -1.3M305.4 321.1l-0.4 1.2" stroke="#008cf0" stroke-width="0.8" opacity="0.95"/><path d="M305.2 322.3l-0.5 1.2M301 319.3l-0.5 -1.3M301.9 315.6l0.8 -1.7M303.3 317.3l1.6 1.5M307.5 319.3l-1.4 1.5M299.7 316.9l0.1 -1.3M308.3 321.1l-0.7 0.9M304.2 314.1l-2 -0.3" stroke="#14c8ff" stroke-width="0.8" opacity="0.95"/><path d="M300.5 320.9l0.8 2M300.5 320.2l-0.6 -1.7M302.4 317.7l-0.2 -1M304 323.9l0.1 -1.4M304.1 317.6l-0.3 -1M307.7 321.1l1.5 1.4M299.9 320.3l-1.9 -0.4M308.3 322l-0.7 1.7M301.5 318.8l0.6 -1.2M303.6 319.9l0.6 -1.6M304.3 321.2l1 1.7M302.5 318.8l1.2 0.7M307.5 320l-0.4 1.3M300.3 319.7l-0.8 1.7M304 321.2l0 1.1M303.1 323.6l-1.4 -1M308 321.2l-0.1 2.1M301 320.6l-1.7 1.1M307.7 319.1l1.3 1.7M305.1 320.1l-0.3 1.5M306.9 315.6l-1.6 0M305.3 314.7l-0.8 1.2M301.7 320l-0.3 1.1M306.6 322.6l-0.6 0.9M299.2 321l2.1 0.3M300.1 321.4l-0.3 1.9M306.7 320.5l0.1 -1.3" stroke="#008cff" stroke-width="0.8" opacity="0.95"/><path d="M303.2 318.7l0.5 1.2M307.6 320l0.2 -1.7M307.8 317l-0.7 -2M307.7 319l0.8 1.8M308 319.3l-0.7 1.6M301.4 315.9l-1 1M304.5 322.1l0.5 0.9M304.4 314.2l-1.1 1.3M302.8 315.5l-0.7 0.7" stroke="#148cf0" stroke-width="0.8" opacity="0.95"/><path d="M301.4 315.6l-0.2 -1M302.9 318.2l0.5 0.9M307.1 320.1l0.2 -1.5M304.1 323.3l-0.4 -1.9M300.7 320.8l0.5 1.3M303.7 314.1l1.4 -0.5M301 322.9l1.5 0.8M306.5 317.3l-1 0.8M305 316.6l-1.3 -0.7M301.9 314.8l-1.1 0.9M303.4 314.8l0.9 -1.2M307.1 321.1l1.4 1.3M305.3 314.1l-1.2 -1.7M304.6 314.9l0.9 -1.7M308.4 318.2l-1.1 1.5M303.5 320.9l1.2 0.8M303.9 322l1.1 0.2M300 315.7l1.8 0M305.6 315.4l-1 1.7M303.4 317.1l0.6 -1.6M303.2 317.8l-0.2 1.2M304.9 316.4l0.5 -1M304.4 314.1l0.9 -0.9M299.8 319l-0.7 1.3M306.3 320.3l0.5 1.4M306.9 315.7l1.8 -0.8M304.8 316.8l-0.7 1.6M300.3 316.4l-1.5 -1.5M300.2 322.5l0.6 -1.2M308.1 317.3l-0.8 -1.4M303.1 321.7l1.6 1.3M303.3 314.4l-0.1 1.5M302.8 316.6l0.8 -1.3M305.8 321.6l0 1.2M305.3 315.4l0.8 -1.1M308.7 320.2l-0.2 1.6M299.2 319.9l-0.2 -1.2" stroke="#00b4ff" stroke-width="0.8" opacity="0.95"/><path d="M301.6 321l-0.9 -1.3M301 314.8l-1.3 0.3M303.2 316.8l-0.2 -1.4M308.5 318.5l-0.3 1.7M306.4 314.9l-0.3 -1.1M300 321.2l-0.5 1.4M301.3 318.2l0.7 -2M305.7 320l-0.3 -1.5M301.6 320.6l-0.1 -1.9M304.2 322.5l-0.1 1.4M303 317.8l0.9 -1.9M308.2 321.4l0 2M299.2 319.5l1.8 0.6M304.9 321.8l-0.2 1.7M301.3 322.2l0.6 1.3M300.4 315.6l0.4 1.4" stroke="#00b4f0" stroke-width="0.8" opacity="0.95"/><path d="M305.1 316l1.2 1.1M307.4 321.1l0.2 -1.6M302.9 320.5l0.7 -1.5M306.5 320.5l0.3 -1M301.5 319.7l-0.8 0.8M303.2 321.6l-0.7 -1.6M302.3 317.3l-0.7 -1.3" stroke="#00c8f0" stroke-width="0.8" opacity="0.95"/><path d="M299.9 318.4l0.6 -1.1M304.7 322.5l1.1 -1.9M303.1 323.7l0.1 -1.8M300.9 318.7l0.3 1.1M305 323.1l0.5 -0.9M306.7 317.9l-0.6 1.6M304.4 315.3l-0.5 2M302.7 319.9l0.9 -1" stroke="#0078ff" stroke-width="0.8" opacity="0.95"/><path d="M300.9 320.9l0.2 1.4M301.1 316.6l0.2 -1.4M301.2 318.8l1 -1.5M300.2 318.6l0.9 1.2M305.7 316.4l-0.4 1.8M304.1 315.4l-1.6 -1.2M304.4 319.7l-1.2 -0.9M309.3 319.3l-0.3 -2M305.6 323.4l1 1.5M304 321.4l0.8 1.1M307.1 317.8l0.8 1.6M308.5 317.9l-0.3 2.1M304.9 320.2l0.4 1.9" stroke="#0078f0" stroke-width="0.8" opacity="0.95"/><path d="M303.9 317.2l-0.8 -1.4M301.5 323.1l-0.9 -0.9M304.6 317.2l-1.5 -1.4M306.8 317.1l1 0.6M300.8 316.3l0 -1.6" stroke="#14b4f0" stroke-width="0.8" opacity="0.95"/><path d="M301.4 321.2l-1.3 1.6M306.8 315.8l-0.3 1.9M305.3 322.8l-0.6 -1.2M306.5 316.7l-0.8 1.1M309 319.1l-1 2M305.9 319.5l-0.2 1M304.5 318l1.8 0.5M304 314.8l0.4 1.9M302.6 321.7l1 1M303.3 314.8l0.5 -1.3M301.2 323l0.5 1.6M301.1 315.6l-0.1 -1.4" stroke="#148cff" stroke-width="0.8" opacity="0.95"/><path d="M302.7 316.3l1.1 1.6M307.2 318.2l0.2 -2.2M305.3 317.9l0.4 -1.6M306.5 321.7l1.1 -1.7M301.5 321l1 -1.8M304.3 322.6l-0.1 -1.9M306.2 320.9l-1.5 -0.2M303.2 315l-1.6 1.4M306.9 319l0.2 1.3M304.2 315.7l-0.7 0.7" stroke="#00c8ff" stroke-width="0.8" opacity="0.95"/><path d="M304.4 321.2l-0.1 1.1M304.3 316l-1.1 -0.3M306.9 318.6l-0.1 1.5M302.3 317l0.4 1.8M304 314.9l1.7 -0.8M305.6 319.8l-0.3 1.6M304.6 322.5l0.1 1.2M309.3 318.8l0.9 0.5M305.3 315.1l-0.7 1.4M300.5 319l-0.9 -1.7M303.2 318.8l0.3 -2M301 316.8l1.5 0.9M308.9 318.4l-0.1 1.6M305.7 323.5l0 -1.1" stroke="#14b4ff" stroke-width="0.8" opacity="0.95"/><path d="M306.9 320.4l0 1.9M300.7 317.5l-0.5 -1.5M303.4 323.3l1 1.2" stroke="#14a0f0" stroke-width="0.8" opacity="0.95"/><path d="M301.9 322.6l0.3 1.1M304.9 322.2l-0.2 -1.7M304.4 318l-1.4 -1M302.3 319l-1.9 0.6M304.1 322.3l1.8 0.6M305.5 322.2l0 1.2M300.6 315.4l-0.9 -1.1M306.5 322.9l0.7 1.2M307.7 318.8l0.9 -1.3" stroke="#14a0ff" stroke-width="0.8" opacity="0.95"/><path d="M299.9 316l0.9 1.4M300.5 319.2l-0.2 -2.1M303.4 323.5l0.2 -2.1M301.8 317.5l1.2 1.3" stroke="#1478f0" stroke-width="0.8" opacity="0.95"/><path d="M302.7 322.3l1.3 -0.4M302 315.5l1 -0.7M300.4 316.2l-0.5 -1.9M302.6 316.1l1.4 -0.7M301.7 320.5l2.1 0.4M299.5 321.6l0.8 1.7M303.9 323.6l1.2 -1.4M302.3 321l0.1 2M299.6 319.7l-1.1 -0.9M299 320.2l1.1 0.6M308.5 320.4l0.5 -1" stroke="#00a0f0" stroke-width="0.8" opacity="0.95"/><path d="M304.8 320.2l-0.7 -1.3M305.6 321.1l0.7 -1M302.1 317.6l0.7 -1.6M302.7 320.9l0 2.2M306.3 316.9l-0.5 0.9M300.1 315.7l-0.2 -1.1M300.6 315.7l-0.7 -1.5M303.2 320l0.5 1.2M300.1 321.9l-1.1 0.1M309 317.6l0.6 -1.7M301.5 315.2l-0.8 -1.2M302 322.2l0.1 2M305 323.7l0.3 2.2M304.5 318.7l1.1 -1M309.3 319.6l-1.6 0.6M300.2 319.7l0.2 1.2M302.6 320.1l-0.1 -2M302.6 315.6l-1.7 0.9M299.7 316.2l-0.2 -1.8M303.2 318.2l0.5 1.3M306.9 321.2l1.4 1.5M305.7 315.7l0.5 -1.1M305.1 318.6l-1.4 -1.3M308.6 316.6l1.5 0.5M303.9 323.1l1.2 1.3M307 322.9l-0.4 -2M307.5 322.8l0.6 1M308.5 318.8l0.9 -1.1M304.1 317.8l-0.9 -0.4" stroke="#00a0ff" stroke-width="0.8" opacity="0.95"/><path d="M306.8 315.9l0.5 1.3M304.8 317.5l1.3 -0.8M300.8 316.2l-1 -1.9M300 319.2l-1 -0.1" stroke="#1478ff" stroke-width="0.8" opacity="0.95"/><path d="M299.3 321.3l-1.2 -1.3" stroke="#14c8f0" stroke-width="0.8" opacity="0.95"/></g>
<circle cx="306.7" cy="305" r="2.0" fill="#0010e8"/>
<rect x="42.5" y="125.5" width="199.5" height="5.3" fill="url(#cmgrad)"/>
<rect x="42.8" y="125.8" width="199" height="4.8" fill="none" stroke="#000" stroke-opacity="0.12" stroke-width="0.5"/>
<text transform="translate(42.5 122.5) scale(0.5)" class="tk">0</text>
<text transform="translate(62.5 122.5) scale(0.5)" class="tk">21</text>
<text transform="translate(82.4 122.5) scale(0.5)" class="tk">42</text>
<text transform="translate(102.3 122.5) scale(0.5)" class="tk">62</text>
<text transform="translate(122.3 122.5) scale(0.5)" class="tk">83</text>
<text transform="translate(142.2 122.5) scale(0.5)" class="tk">104</text>
<text transform="translate(162.2 122.5) scale(0.5)" class="tk">125</text>
<text transform="translate(182.2 122.5) scale(0.5)" class="tk">146</text>
<text transform="translate(202.1 122.5) scale(0.5)" class="tk">167</text>
<text transform="translate(222.1 122.5) scale(0.5)" class="tk">187</text>
<text transform="translate(242 122.5) scale(0.5)" class="tk">208</text>
<path d="M42.5 125.5v1M62.5 125.5v1M82.4 125.5v1M102.3 125.5v1M122.3 125.5v1M142.2 125.5v1M162.2 125.5v1M182.2 125.5v1M202.1 125.5v1M222.1 125.5v1M242 125.5v1" stroke="#333" stroke-width="0.6" opacity="0.5"/>
<text transform="translate(30.2 131.8) scale(0.86 1)" class="su">[ s ]</text>
<text x="8.6" y="130.4" class="lab">(a)</text>
<rect x="316.5" y="126.6" width="196.5" height="5.2" fill="url(#cmgrad)"/>
<rect x="316.8" y="126.8" width="196" height="4.7" fill="none" stroke="#000" stroke-opacity="0.12" stroke-width="0.5"/>
<text transform="translate(316.5 124) scale(0.5)" class="tk">0</text>
<text transform="translate(336.1 124) scale(0.5)" class="tk">8</text>
<text transform="translate(355.8 124) scale(0.5)" class="tk">15</text>
<text transform="translate(375.4 124) scale(0.5)" class="tk">23</text>
<text transform="translate(395.1 124) scale(0.5)" class="tk">30</text>
<text transform="translate(414.8 124) scale(0.5)" class="tk">38</text>
<text transform="translate(434.4 124) scale(0.5)" class="tk">45</text>
<text transform="translate(454.1 124) scale(0.5)" class="tk">53</text>
<text transform="translate(473.7 124) scale(0.5)" class="tk">60</text>
<text transform="translate(493.4 124) scale(0.5)" class="tk">68</text>
<text transform="translate(513 124) scale(0.5)" class="tk">75</text>
<path d="M316.5 126.6v1M336.1 126.6v1M355.8 126.6v1M375.4 126.6v1M395.1 126.6v1M414.8 126.6v1M434.4 126.6v1M454.1 126.6v1M473.7 126.6v1M493.4 126.6v1M513 126.6v1" stroke="#333" stroke-width="0.6" opacity="0.5"/>
<text transform="translate(304.6 132.6) scale(0.86 1)" class="su">[ s ]</text>
<text x="280.1" y="130.9" class="lab">(b)</text>
<rect x="48.3" y="263.9" width="196" height="4.7" fill="url(#cmgrad)"/>
<rect x="48.5" y="264.1" width="195.5" height="4.2" fill="none" stroke="#000" stroke-opacity="0.12" stroke-width="0.5"/>
<text transform="translate(48.3 261.3) scale(0.5)" class="tk">0</text>
<text transform="translate(67.9 261.3) scale(0.5)" class="tk">1</text>
<text transform="translate(87.5 261.3) scale(0.5)" class="tk">3</text>
<text transform="translate(107.1 261.3) scale(0.5)" class="tk">4</text>
<text transform="translate(126.7 261.3) scale(0.5)" class="tk">5</text>
<text transform="translate(146.3 261.3) scale(0.5)" class="tk">6</text>
<text transform="translate(165.9 261.3) scale(0.5)" class="tk">8</text>
<text transform="translate(185.5 261.3) scale(0.5)" class="tk">9</text>
<text transform="translate(205.1 261.3) scale(0.5)" class="tk">10</text>
<text transform="translate(224.7 261.3) scale(0.5)" class="tk">11</text>
<text transform="translate(244.3 261.3) scale(0.5)" class="tk">13</text>
<path d="M48.3 263.9v1M67.9 263.9v1M87.5 263.9v1M107.1 263.9v1M126.7 263.9v1M146.3 263.9v1M165.9 263.9v1M185.5 263.9v1M205.1 263.9v1M224.7 263.9v1M244.3 263.9v1" stroke="#333" stroke-width="0.6" opacity="0.5"/>
<text transform="translate(36.6 270.2) scale(0.86 1)" class="su">[ s ]</text>
<text x="10.2" y="268.2" class="lab">(c)</text>
<rect x="316" y="265.1" width="200.3" height="5.2" fill="url(#cmgrad)"/>
<rect x="316.2" y="265.4" width="199.8" height="4.7" fill="none" stroke="#000" stroke-opacity="0.12" stroke-width="0.5"/>
<text transform="translate(316 262.4) scale(0.7 1)" class="tk2">0.0</text>
<text transform="translate(336 262.4) scale(0.7 1)" class="tk2">0.8</text>
<text transform="translate(356.1 262.4) scale(0.7 1)" class="tk2">1.7</text>
<text transform="translate(376.1 262.4) scale(0.7 1)" class="tk2">2.5</text>
<text transform="translate(396.1 262.4) scale(0.7 1)" class="tk2">3.3</text>
<text transform="translate(416.1 262.4) scale(0.7 1)" class="tk2">4.2</text>
<text transform="translate(436.2 262.4) scale(0.7 1)" class="tk2">5.0</text>
<text transform="translate(456.2 262.4) scale(0.7 1)" class="tk2">5.9</text>
<text transform="translate(476.2 262.4) scale(0.7 1)" class="tk2">6.7</text>
<text transform="translate(496.3 262.4) scale(0.7 1)" class="tk2">7.5</text>
<text transform="translate(516.3 262.4) scale(0.7 1)" class="tk2">8.4</text>
<path d="M316 265.1v1M336 265.1v1M356.1 265.1v1M376.1 265.1v1M396.1 265.1v1M416.1 265.1v1M436.2 265.1v1M456.2 265.1v1M476.2 265.1v1M496.3 265.1v1M516.3 265.1v1" stroke="#333" stroke-width="0.6" opacity="0.5"/>
<text transform="translate(303.2 271.6) scale(0.86 1)" class="su">[ s ]</text>
<text x="279.6" y="270.3" class="lab">(d)</text>
<rect x="49.6" y="399.9" width="191.4" height="4.7" fill="url(#cmgrad)"/>
<rect x="49.9" y="400.1" width="190.9" height="4.2" fill="none" stroke="#000" stroke-opacity="0.12" stroke-width="0.5"/>
<text transform="translate(49.6 397.2) scale(0.7 1)" class="tk2">0.0</text>
<text transform="translate(68.7 397.2) scale(0.7 1)" class="tk2">0.9</text>
<text transform="translate(87.9 397.2) scale(0.7 1)" class="tk2">1.8</text>
<text transform="translate(107 397.2) scale(0.7 1)" class="tk2">2.7</text>
<text transform="translate(126.2 397.2) scale(0.7 1)" class="tk2">3.6</text>
<text transform="translate(145.3 397.2) scale(0.7 1)" class="tk2">4.5</text>
<text transform="translate(164.4 397.2) scale(0.7 1)" class="tk2">5.4</text>
<text transform="translate(183.6 397.2) scale(0.7 1)" class="tk2">6.3</text>
<text transform="translate(202.7 397.2) scale(0.7 1)" class="tk2">7.2</text>
<text transform="translate(221.9 397.2) scale(0.7 1)" class="tk2">8.1</text>
<text transform="translate(241 397.2) scale(0.7 1)" class="tk2">9.0</text>
<path d="M49.6 399.9v1M68.7 399.9v1M87.9 399.9v1M107 399.9v1M126.2 399.9v1M145.3 399.9v1M164.4 399.9v1M183.6 399.9v1M202.7 399.9v1M221.9 399.9v1M241 399.9v1" stroke="#333" stroke-width="0.6" opacity="0.5"/>
<text transform="translate(37.4 405) scale(0.86 1)" class="su">[ s ]</text>
<text x="11.2" y="404.4" class="lab">(e)</text>
<rect x="314" y="402.5" width="200.3" height="5.1" fill="url(#cmgrad)"/>
<rect x="314.2" y="402.8" width="199.8" height="4.6" fill="none" stroke="#000" stroke-opacity="0.12" stroke-width="0.5"/>
<text transform="translate(314 399.8) scale(0.7 1)" class="tk2">0.0</text>
<text transform="translate(334 399.8) scale(0.7 1)" class="tk2">0.9</text>
<text transform="translate(354.1 399.8) scale(0.7 1)" class="tk2">1.7</text>
<text transform="translate(374.1 399.8) scale(0.7 1)" class="tk2">2.6</text>
<text transform="translate(394.1 399.8) scale(0.7 1)" class="tk2">3.4</text>
<text transform="translate(414.1 399.8) scale(0.7 1)" class="tk2">4.3</text>
<text transform="translate(434.2 399.8) scale(0.7 1)" class="tk2">5.1</text>
<text transform="translate(454.2 399.8) scale(0.7 1)" class="tk2">6.0</text>
<text transform="translate(474.2 399.8) scale(0.7 1)" class="tk2">6.8</text>
<text transform="translate(494.3 399.8) scale(0.7 1)" class="tk2">7.7</text>
<text transform="translate(514.3 399.8) scale(0.7 1)" class="tk2">8.6</text>
<path d="M314 402.5v1M334 402.5v1M354.1 402.5v1M374.1 402.5v1M394.1 402.5v1M414.1 402.5v1M434.2 402.5v1M454.2 402.5v1M474.2 402.5v1M494.3 402.5v1M514.3 402.5v1" stroke="#333" stroke-width="0.6" opacity="0.5"/>
<text transform="translate(301.5 408) scale(0.86 1)" class="su">[ s ]</text>
<text x="283.5" y="404.8" class="lab">(f)</text></svg>
</body></html>
